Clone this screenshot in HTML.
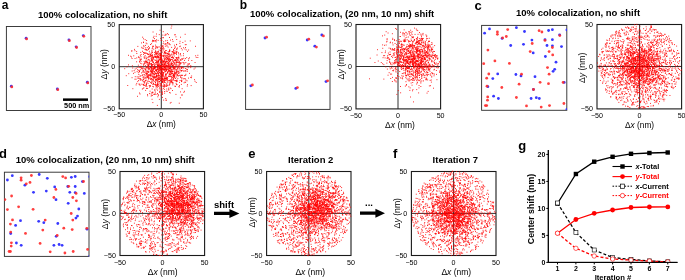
<!DOCTYPE html>
<html lang="en"><head><meta charset="utf-8"><title>Figure</title>
<style>html,body{margin:0;padding:0;background:#fff;}svg{display:block;}text{font-family:'Liberation Sans', Arial, Helvetica, sans-serif;fill:#000;}.b{font-weight:bold;}.lab{font-size:12px;font-weight:bold;}.ttl{font-size:9.5px;font-weight:bold;}.tk{font-size:7.1px;}.ax{font-size:8.2px;}.i{font-style:italic;}</style></head><body>
<svg width="685" height="280" viewBox="0 0 685 280">
<rect x="0" y="0" width="685" height="280" fill="#fff"/>
<text class="lab" x="1.7" y="9.3">a</text>
<text class="ttl" x="38" y="17.6">100% colocalization, no shift</text>
<rect x="6.40" y="26.50" width="84.60" height="84.00" fill="#fff" stroke="#333" stroke-width="0.95"/>
<circle cx="26.1" cy="38.2" r="1.40" fill="#3838ff"/>
<circle cx="68.9" cy="40.0" r="1.40" fill="#3838ff"/>
<circle cx="76.1" cy="46.8" r="1.40" fill="#3838ff"/>
<circle cx="83.3" cy="35.6" r="1.40" fill="#3838ff"/>
<circle cx="11.3" cy="86.2" r="1.40" fill="#3838ff"/>
<circle cx="57.3" cy="89.0" r="1.40" fill="#3838ff"/>
<circle cx="87.3" cy="82.2" r="1.40" fill="#3838ff"/>
<circle cx="26.6" cy="38.9" r="1.40" fill="#ff2a2a" fill-opacity="0.9"/>
<circle cx="69.4" cy="40.7" r="1.40" fill="#ff2a2a" fill-opacity="0.9"/>
<circle cx="76.6" cy="47.5" r="1.40" fill="#ff2a2a" fill-opacity="0.9"/>
<circle cx="83.8" cy="36.3" r="1.40" fill="#ff2a2a" fill-opacity="0.9"/>
<circle cx="11.8" cy="86.9" r="1.40" fill="#ff2a2a" fill-opacity="0.9"/>
<circle cx="57.8" cy="89.7" r="1.40" fill="#ff2a2a" fill-opacity="0.9"/>
<circle cx="87.8" cy="82.9" r="1.40" fill="#ff2a2a" fill-opacity="0.9"/>
<rect x="63" y="98.4" width="25" height="2.5" fill="#000"/>
<text x="76.7" y="107.8" text-anchor="middle" class="b" style="font-size:7.3px">500 nm</text>
<rect x="119.20" y="24.60" width="84.20" height="84.20" fill="none" stroke="#1a1a1a" stroke-width="1.1"/>
<path d="M161.30 24.60V108.80M119.20 66.70H203.40" stroke="#1a1a1a" stroke-width="0.9" fill="none"/>
<path d="M160.9 62.8h.9M157.3 78.2h.9M155.0 79.5h.9M161.6 49.4h.9M154.5 74.7h.9M167.2 62.1h.9M162.2 78.7h.9M160.5 57.7h.9M143.5 72.6h.9M136.3 83.4h.9M137.0 69.7h.9M144.5 63.2h.9M162.9 69.1h.9M128.3 73.7h.9M160.2 65.2h.9M141.1 72.9h.9M148.2 77.2h.9M174.6 77.1h.9M160.4 55.3h.9M153.3 68.1h.9M162.3 65.9h.9M145.0 65.7h.9M178.4 86.7h.9M172.0 65.2h.9M152.6 40.8h.9M170.7 82.2h.9M161.8 59.2h.9M158.4 57.9h.9M160.0 58.1h.9M179.4 75.4h.9M163.5 72.7h.9M162.5 82.0h.9M153.4 69.2h.9M172.5 51.9h.9M143.7 77.0h.9M169.2 92.5h.9M154.9 68.0h.9M177.1 57.8h.9M156.6 71.5h.9M157.6 47.0h.9M155.3 70.6h.9M165.4 68.3h.9M158.3 81.1h.9M160.7 72.4h.9M175.9 58.3h.9M160.5 58.1h.9M156.5 53.1h.9M160.8 59.2h.9M144.2 62.2h.9M139.0 93.0h.9M156.9 78.3h.9M163.0 37.7h.9M150.1 74.8h.9M163.5 60.3h.9M158.6 69.4h.9M169.9 60.0h.9M147.5 67.7h.9M161.3 80.3h.9M164.2 77.8h.9M173.4 64.2h.9M162.0 74.3h.9M159.3 92.5h.9M146.2 62.0h.9M133.3 55.8h.9M138.3 56.9h.9M149.9 56.6h.9M162.5 86.6h.9M177.0 48.1h.9M160.0 70.2h.9M158.8 79.3h.9M175.1 73.7h.9M160.2 77.0h.9M152.8 83.2h.9M177.1 68.7h.9M173.3 66.5h.9M151.9 70.9h.9M153.6 66.6h.9M156.0 70.6h.9M143.0 77.1h.9M182.2 75.4h.9M147.2 62.3h.9M179.0 85.5h.9M158.2 74.9h.9M138.1 57.2h.9M160.5 65.8h.9M151.1 60.8h.9M153.9 68.5h.9M146.5 82.4h.9M178.1 73.3h.9M164.6 67.1h.9M155.1 73.3h.9M169.0 70.6h.9M158.9 66.4h.9M176.1 57.9h.9M165.8 74.0h.9M143.0 54.4h.9M173.3 68.5h.9M167.9 56.6h.9M171.6 54.8h.9M155.0 47.1h.9M144.7 55.6h.9M167.2 55.4h.9M185.1 47.5h.9M146.0 88.5h.9M171.4 79.8h.9M160.7 55.8h.9M139.6 94.0h.9M164.2 66.1h.9M157.7 66.2h.9M149.7 86.3h.9M158.7 79.3h.9M139.6 60.2h.9M160.1 61.4h.9M148.1 75.2h.9M147.9 78.2h.9M163.4 76.8h.9M165.5 62.3h.9M187.0 84.7h.9M172.3 67.9h.9M160.7 85.4h.9M154.9 57.1h.9M159.8 65.7h.9M157.1 51.8h.9M160.6 95.1h.9M151.9 92.2h.9M178.1 66.1h.9M145.7 78.9h.9M175.5 64.7h.9M161.5 67.4h.9M161.3 56.3h.9M168.0 63.9h.9M147.4 60.1h.9M152.0 52.6h.9M144.4 68.5h.9M160.8 83.8h.9M183.1 47.8h.9M154.9 56.7h.9M165.7 100.5h.9M164.1 67.5h.9M161.9 80.6h.9M157.4 69.0h.9M176.2 62.4h.9M160.8 46.9h.9M153.7 71.7h.9M137.4 46.4h.9M173.3 54.8h.9M169.5 65.3h.9M163.6 70.0h.9M158.2 66.0h.9M180.4 59.5h.9M160.1 74.2h.9M152.6 46.0h.9M167.4 65.8h.9M156.4 81.0h.9M160.0 55.4h.9M155.8 69.6h.9M158.0 65.3h.9M140.3 69.7h.9M149.8 55.3h.9M150.9 59.2h.9M180.6 70.8h.9M153.1 64.2h.9M160.8 79.5h.9M166.8 40.6h.9M157.5 69.3h.9M147.3 62.6h.9M144.7 81.0h.9M177.4 78.4h.9M174.8 47.0h.9M164.2 59.5h.9M186.1 69.2h.9M153.2 84.2h.9M161.4 47.6h.9M173.3 78.9h.9M149.8 73.2h.9M164.6 69.4h.9M163.6 62.9h.9M157.0 67.2h.9M163.5 67.8h.9M167.4 42.5h.9M168.5 66.0h.9M139.1 61.7h.9M135.7 84.9h.9M171.9 57.6h.9M158.9 88.8h.9M156.0 75.5h.9M169.1 37.5h.9M163.7 76.8h.9M145.7 67.4h.9M158.6 81.6h.9M162.4 81.6h.9M175.2 53.0h.9M174.9 72.8h.9M167.5 68.4h.9M155.8 71.1h.9M144.0 85.4h.9M171.1 69.2h.9M163.6 53.7h.9M138.4 76.8h.9M163.1 61.6h.9M156.0 53.4h.9M163.6 82.4h.9M148.8 56.3h.9M166.8 91.3h.9M178.3 59.0h.9M178.2 71.7h.9M157.0 81.3h.9M193.6 69.0h.9M181.4 75.1h.9M163.0 88.3h.9M155.9 54.0h.9M144.7 52.8h.9M165.2 80.2h.9M154.4 72.6h.9M160.2 73.6h.9M150.2 70.6h.9M147.6 83.4h.9M160.2 55.3h.9M141.1 66.7h.9M152.4 79.3h.9M171.9 73.4h.9M180.2 76.8h.9M165.8 69.6h.9M151.1 59.1h.9M158.8 58.9h.9M160.2 80.7h.9M159.5 66.0h.9M173.2 78.4h.9M160.3 89.0h.9M169.3 80.7h.9M137.5 67.5h.9M175.1 86.4h.9M146.8 76.3h.9M146.2 61.8h.9M150.4 76.0h.9M168.4 76.5h.9M166.4 79.3h.9M145.2 90.4h.9M184.9 70.8h.9M164.0 67.1h.9M162.9 66.1h.9M185.5 80.1h.9M140.7 79.8h.9M143.6 57.0h.9M171.5 79.1h.9M142.9 71.3h.9M178.8 103.2h.9M167.7 80.6h.9M174.3 80.6h.9M157.2 86.2h.9M148.2 48.8h.9M171.5 71.9h.9M149.6 91.2h.9M155.8 67.1h.9M159.8 67.9h.9M146.3 67.6h.9M160.4 50.0h.9M185.0 68.5h.9M150.9 67.5h.9M153.0 76.3h.9M160.1 80.2h.9M168.7 68.0h.9M164.1 69.1h.9M151.4 79.0h.9M157.8 73.8h.9M163.9 66.8h.9M143.2 65.8h.9M143.5 74.7h.9M157.0 93.5h.9M162.0 64.7h.9M158.8 72.2h.9M156.0 79.3h.9M157.4 73.8h.9M162.0 82.3h.9M163.9 64.8h.9M159.0 72.4h.9M168.0 88.2h.9M166.8 63.6h.9M164.5 61.7h.9M152.4 70.1h.9M169.1 61.1h.9M163.5 86.3h.9M167.8 51.6h.9M173.9 63.7h.9M140.7 54.5h.9M158.9 99.4h.9M165.7 86.0h.9M144.1 74.9h.9M177.3 71.5h.9M164.4 44.1h.9M181.5 68.0h.9M157.7 83.0h.9M151.9 61.2h.9M166.0 65.3h.9M173.7 76.7h.9M160.1 57.2h.9M168.4 52.9h.9M166.0 70.7h.9M165.5 79.7h.9M139.7 59.2h.9M160.1 62.7h.9M138.9 71.4h.9M153.1 77.9h.9M131.7 71.0h.9M172.5 61.8h.9M153.1 66.9h.9M170.6 102.4h.9M159.2 59.7h.9M169.7 44.7h.9M175.5 62.7h.9M164.8 56.5h.9M153.9 67.2h.9M172.6 41.4h.9M158.8 67.3h.9M163.4 49.3h.9M160.5 47.7h.9M148.4 69.1h.9M158.3 56.5h.9M174.4 86.2h.9M149.0 62.3h.9M152.3 86.4h.9M174.3 60.3h.9M167.2 72.8h.9M174.2 69.8h.9M175.0 78.5h.9M149.8 64.1h.9M151.8 58.0h.9M164.2 78.6h.9M161.8 71.2h.9M172.7 74.9h.9M155.2 51.0h.9M189.8 40.9h.9M161.7 63.9h.9M180.7 68.3h.9M148.2 65.2h.9M166.7 77.4h.9M139.6 85.3h.9M169.5 76.5h.9M159.0 64.0h.9M168.9 71.0h.9M167.3 78.2h.9M156.2 79.9h.9M175.5 67.1h.9M151.3 71.3h.9M158.0 57.6h.9M140.2 80.1h.9M156.0 34.0h.9M173.2 68.1h.9M170.1 40.1h.9M157.8 71.4h.9M176.5 60.3h.9M169.5 73.3h.9M185.7 44.6h.9M168.2 57.9h.9M134.6 58.5h.9M158.3 61.1h.9M169.7 71.1h.9M139.0 61.9h.9M151.3 71.0h.9M153.0 71.1h.9M131.0 51.0h.9M164.1 52.3h.9M186.4 66.4h.9M137.5 78.3h.9M145.2 73.2h.9M161.9 92.6h.9M165.3 86.2h.9M164.7 68.1h.9M156.8 67.6h.9M153.9 74.6h.9M139.1 67.1h.9M184.7 41.1h.9M177.9 57.6h.9M152.1 48.0h.9M160.1 67.6h.9M157.1 65.5h.9M155.2 67.8h.9M146.8 71.5h.9M190.3 67.6h.9M157.8 59.8h.9M170.0 81.1h.9M158.2 54.8h.9M164.3 65.1h.9M180.9 75.5h.9M161.9 73.4h.9M180.1 91.9h.9M152.2 73.5h.9M169.4 58.9h.9M178.9 87.0h.9M170.6 70.5h.9M152.2 59.7h.9M149.0 93.6h.9M156.1 86.1h.9M152.5 61.9h.9M164.9 46.2h.9M158.3 86.5h.9M151.1 78.6h.9M145.1 61.1h.9M152.5 92.3h.9M169.9 68.1h.9M165.5 65.3h.9M169.0 66.2h.9M176.8 61.2h.9M165.9 61.4h.9M142.0 68.8h.9M157.5 64.0h.9M143.3 45.6h.9M162.2 82.4h.9M138.8 70.3h.9M159.7 76.0h.9M162.0 75.0h.9M168.0 76.1h.9M160.4 54.0h.9M194.1 79.7h.9M154.8 77.6h.9M171.0 81.5h.9M154.6 67.1h.9M148.2 79.1h.9M154.7 93.9h.9M142.2 72.0h.9M162.8 69.1h.9M137.9 72.7h.9M171.2 59.5h.9M159.8 78.2h.9M169.0 74.2h.9M145.7 77.1h.9M179.6 63.9h.9M175.8 72.9h.9M173.0 74.5h.9M158.8 34.6h.9M170.8 73.2h.9M159.8 62.5h.9M176.5 73.0h.9M138.3 70.3h.9M161.0 65.3h.9M177.9 62.6h.9M171.4 80.9h.9M172.1 39.6h.9M170.8 63.4h.9M162.8 43.6h.9M148.9 68.1h.9M166.8 57.1h.9M155.2 62.7h.9M157.3 65.1h.9M159.1 81.5h.9M160.6 55.4h.9M148.3 69.8h.9M169.4 80.5h.9M163.2 80.4h.9M175.5 36.8h.9M187.0 69.5h.9M170.4 65.1h.9M162.2 46.7h.9M143.8 53.1h.9M160.2 48.5h.9M163.3 75.4h.9M164.4 57.2h.9M161.3 60.4h.9M154.1 94.3h.9M172.5 57.7h.9M162.8 65.8h.9M174.2 72.6h.9M151.7 69.1h.9M176.2 84.6h.9M176.3 75.0h.9M146.6 50.4h.9M159.6 83.5h.9M156.2 54.7h.9M176.3 72.2h.9M166.1 57.5h.9M152.5 62.1h.9M160.4 73.6h.9M154.5 65.8h.9M161.2 74.0h.9M155.3 52.3h.9M163.6 55.3h.9M176.4 59.1h.9M190.2 77.4h.9M171.3 70.8h.9M184.8 44.7h.9M135.6 79.2h.9M169.4 56.5h.9M170.4 67.6h.9M166.7 58.3h.9M159.8 53.4h.9M131.6 58.5h.9M147.5 54.3h.9M157.9 78.2h.9M165.7 78.5h.9M149.0 87.0h.9M160.5 60.3h.9M174.1 68.5h.9M174.4 66.5h.9M159.6 59.3h.9M174.5 71.1h.9M157.7 68.8h.9M161.9 78.3h.9M174.1 71.9h.9M166.8 77.4h.9M165.5 61.6h.9M155.4 40.6h.9M165.6 43.7h.9M173.3 75.3h.9M155.9 61.1h.9M161.6 66.1h.9M157.1 90.1h.9M157.9 95.4h.9M165.7 76.1h.9M151.6 69.5h.9M164.4 85.2h.9M138.2 80.5h.9M134.5 79.2h.9M181.4 80.4h.9M169.3 84.4h.9M164.7 70.8h.9M160.1 59.3h.9M183.6 64.2h.9M162.5 79.3h.9M168.4 69.9h.9M171.6 67.3h.9M183.4 92.3h.9M157.0 55.3h.9M156.3 76.9h.9M157.4 84.5h.9M162.4 35.1h.9M175.7 81.0h.9M149.6 71.9h.9M173.8 77.3h.9M151.9 55.3h.9M172.0 71.5h.9M146.4 86.7h.9M151.8 95.5h.9M170.5 74.8h.9M167.1 42.5h.9M176.0 81.6h.9M172.1 51.7h.9M151.2 79.0h.9M159.4 87.4h.9M179.9 97.8h.9M146.5 70.2h.9M157.9 64.6h.9M164.4 69.5h.9M175.5 94.4h.9M160.8 75.9h.9M162.6 63.8h.9M149.1 75.0h.9M171.1 62.2h.9M152.1 40.3h.9M190.7 85.6h.9M164.8 34.3h.9M171.0 63.8h.9M158.2 73.7h.9M158.1 73.8h.9M170.5 71.8h.9M155.1 82.2h.9M160.2 78.3h.9M158.5 53.2h.9M165.6 60.2h.9M165.5 65.9h.9M159.2 70.7h.9M170.7 80.7h.9M178.2 66.3h.9M151.2 73.0h.9M152.1 64.6h.9M151.6 51.9h.9M150.7 96.1h.9M151.4 92.7h.9M160.3 53.0h.9M169.2 84.0h.9M151.0 43.7h.9M165.0 66.6h.9M174.5 35.0h.9M177.6 64.9h.9M165.4 58.7h.9M152.9 80.4h.9M161.5 78.9h.9M160.1 65.5h.9M191.1 77.7h.9M159.3 68.8h.9M166.5 53.2h.9M154.5 77.3h.9M139.6 78.7h.9M167.8 66.1h.9M147.7 71.5h.9M161.3 60.2h.9M153.2 69.9h.9M137.3 81.6h.9M181.8 95.0h.9M156.5 63.9h.9M156.0 77.1h.9M160.1 66.8h.9M159.8 91.0h.9M158.9 77.8h.9M153.8 63.8h.9M169.1 55.1h.9M154.4 54.8h.9M176.0 52.0h.9M178.8 68.6h.9M158.6 56.0h.9M143.2 64.0h.9M154.0 71.5h.9M138.3 78.2h.9M160.6 55.2h.9M173.6 67.7h.9M158.4 77.4h.9M166.1 69.9h.9M168.7 44.1h.9M160.4 86.1h.9M149.7 85.6h.9M145.4 49.8h.9M163.8 86.4h.9M169.3 50.4h.9M156.2 75.4h.9M156.5 63.0h.9M169.1 51.4h.9M176.5 51.4h.9M178.5 58.1h.9M141.1 68.4h.9M164.9 71.7h.9M172.6 71.4h.9M148.9 48.0h.9M169.5 63.9h.9M172.8 53.0h.9M165.3 98.5h.9M152.1 72.6h.9M148.1 64.1h.9M176.3 73.0h.9M146.2 40.5h.9M155.0 82.6h.9M163.9 61.2h.9M151.7 56.5h.9M154.5 78.6h.9M163.2 56.7h.9M152.7 62.4h.9M159.6 30.2h.9M151.7 48.8h.9M160.2 68.3h.9M170.2 55.1h.9M177.2 62.5h.9M153.1 73.7h.9M167.4 59.2h.9M178.9 61.3h.9M174.6 47.1h.9M163.0 85.9h.9M145.6 85.3h.9M181.4 77.7h.9M176.8 59.1h.9M183.0 53.7h.9M159.5 69.3h.9M162.0 64.4h.9M154.0 67.1h.9M181.7 88.7h.9M164.2 78.4h.9M163.3 55.8h.9M160.1 56.7h.9M140.3 52.4h.9M153.1 58.7h.9M163.2 100.1h.9M151.1 63.8h.9M180.9 63.0h.9M164.2 85.0h.9M179.4 43.3h.9M161.2 69.5h.9M139.9 55.3h.9M195.8 57.4h.9M177.2 59.7h.9M148.1 49.4h.9M144.9 69.4h.9M164.5 55.3h.9M166.2 61.7h.9M151.0 83.4h.9M161.6 75.9h.9M143.9 83.1h.9M154.5 90.7h.9M143.4 87.8h.9M163.2 61.4h.9M186.8 86.1h.9M152.1 54.9h.9M158.0 70.9h.9M182.9 71.1h.9M145.9 83.7h.9M165.2 62.8h.9M143.1 79.4h.9M167.8 59.2h.9M152.5 58.7h.9M168.2 89.8h.9M156.8 61.3h.9M153.4 94.4h.9M157.2 57.0h.9M181.3 95.0h.9M194.6 81.3h.9M173.2 50.7h.9M173.6 64.8h.9M145.8 58.6h.9M151.6 99.3h.9M197.4 57.5h.9M184.4 78.5h.9M179.8 46.1h.9M180.9 67.0h.9M145.3 69.0h.9M132.4 88.7h.9M162.0 79.5h.9M158.7 68.1h.9M185.8 49.9h.9M160.3 51.1h.9M150.8 71.1h.9M172.6 82.8h.9M157.2 83.8h.9M162.4 45.6h.9M151.1 63.8h.9M149.2 81.6h.9M144.9 47.9h.9M191.4 60.5h.9M151.6 57.6h.9M156.5 56.3h.9M164.6 63.1h.9M168.7 74.2h.9M155.6 89.0h.9M155.1 85.1h.9M159.0 79.1h.9M162.2 60.8h.9M142.5 77.2h.9M148.7 57.0h.9M182.9 55.7h.9M156.3 47.8h.9M141.3 47.3h.9M152.4 102.6h.9M195.1 46.3h.9M147.5 64.5h.9M158.1 65.4h.9M141.7 75.5h.9M166.9 63.8h.9M176.4 65.7h.9M191.2 76.0h.9M164.2 91.5h.9M144.6 49.5h.9M148.7 59.8h.9M160.1 80.2h.9M156.3 73.3h.9M154.5 57.0h.9M169.3 74.2h.9M149.1 63.0h.9M159.6 53.4h.9M195.2 55.8h.9M160.4 68.9h.9M149.8 78.4h.9M147.9 71.8h.9M155.3 57.1h.9M155.7 69.3h.9M145.1 45.4h.9M167.4 43.6h.9M171.2 47.4h.9M157.6 57.4h.9M195.8 82.5h.9M176.1 44.7h.9M166.3 56.8h.9M177.4 75.4h.9M166.2 78.2h.9M151.9 74.9h.9M159.0 64.8h.9M166.8 85.5h.9M187.1 51.4h.9M170.5 71.4h.9M159.7 59.4h.9M166.3 89.0h.9M170.7 28.1h.9M136.4 53.5h.9M165.7 68.2h.9M179.0 82.4h.9M163.0 47.3h.9M158.2 72.2h.9M162.4 72.6h.9M181.4 78.7h.9M172.4 83.3h.9M169.7 68.1h.9M126.5 66.8h.9M146.7 72.6h.9M181.3 81.5h.9M146.8 47.6h.9M162.4 46.2h.9M165.2 78.4h.9M160.0 50.4h.9M173.4 66.7h.9M161.5 68.2h.9M153.2 41.0h.9M160.9 81.7h.9M154.5 57.0h.9M169.4 68.5h.9M152.0 66.4h.9M138.6 84.0h.9M171.5 73.1h.9M165.8 50.5h.9M169.5 66.4h.9M189.1 57.8h.9M156.1 57.0h.9M166.3 78.1h.9M161.8 68.9h.9M134.7 69.0h.9M157.1 72.5h.9M139.0 71.4h.9M160.3 65.3h.9M145.8 58.3h.9M144.7 69.7h.9M178.2 75.9h.9M154.1 52.4h.9M155.7 70.6h.9M163.8 52.8h.9M131.6 77.7h.9M147.5 81.1h.9M149.5 77.8h.9M164.8 78.5h.9M162.5 61.4h.9M151.2 65.0h.9M182.5 62.4h.9M152.4 67.6h.9M148.7 63.1h.9M172.3 77.5h.9M158.1 52.0h.9M154.3 64.2h.9M147.3 77.5h.9M154.1 38.6h.9M155.6 73.6h.9M153.6 68.8h.9M169.3 64.3h.9M187.5 63.9h.9M179.6 63.1h.9M168.7 85.4h.9M159.2 67.6h.9M157.7 94.5h.9M172.2 71.7h.9M155.2 70.0h.9M157.9 61.4h.9M144.4 78.7h.9M164.6 64.8h.9M156.0 74.1h.9M150.1 67.5h.9M176.1 80.4h.9M180.5 55.8h.9M155.0 56.6h.9M141.9 89.1h.9M144.2 72.0h.9M156.6 73.4h.9M162.1 94.3h.9M167.3 85.0h.9M152.3 72.0h.9M145.9 84.4h.9M147.8 66.9h.9M168.5 59.4h.9M148.0 76.9h.9M148.9 60.9h.9M134.5 50.7h.9M154.6 76.8h.9M165.2 53.3h.9M165.3 53.1h.9M162.6 50.8h.9M176.9 68.0h.9M179.5 64.6h.9M162.0 78.6h.9M157.1 56.6h.9M143.9 58.3h.9M165.4 63.1h.9M132.3 68.0h.9M169.2 76.6h.9M162.0 97.4h.9M169.5 75.3h.9M172.1 90.5h.9M169.8 69.8h.9M171.3 78.7h.9M152.9 37.7h.9M150.1 75.8h.9M157.3 79.9h.9M176.2 44.4h.9M151.7 89.0h.9M176.0 52.4h.9M171.5 51.7h.9M149.6 68.9h.9M143.0 85.0h.9M173.5 75.4h.9M190.3 65.7h.9M152.6 56.4h.9M184.1 60.4h.9M145.1 61.9h.9M178.6 73.1h.9M150.8 53.6h.9M162.7 81.0h.9M155.9 76.5h.9M164.7 65.3h.9M175.7 57.5h.9M140.6 61.4h.9M172.4 60.8h.9M174.2 73.8h.9M148.6 54.7h.9M147.1 94.6h.9M174.1 76.1h.9M156.9 84.8h.9M143.7 81.7h.9M156.2 61.9h.9M131.1 57.0h.9M145.6 80.5h.9M169.6 67.7h.9M141.0 42.9h.9M149.7 63.5h.9M163.4 48.5h.9M155.0 53.7h.9M151.3 52.2h.9M151.0 71.4h.9M185.4 62.6h.9M162.3 37.7h.9M165.5 77.3h.9M170.3 82.0h.9M175.4 51.1h.9M153.4 74.8h.9M163.1 66.5h.9M148.2 59.4h.9M134.5 72.3h.9M155.6 70.2h.9M164.8 82.6h.9M168.5 69.0h.9M152.4 84.4h.9M145.6 62.0h.9M148.4 65.9h.9M174.6 53.3h.9M181.0 70.5h.9M146.8 53.5h.9M164.9 52.2h.9M161.0 51.2h.9M171.8 57.4h.9M167.4 61.6h.9M163.9 63.8h.9M173.7 73.3h.9M183.3 68.1h.9M173.6 67.9h.9M157.7 40.4h.9M156.9 83.2h.9M151.6 70.8h.9M188.7 64.0h.9M172.9 79.6h.9M165.4 58.0h.9M184.1 75.7h.9M168.7 62.8h.9M147.6 67.0h.9M157.4 96.8h.9M168.6 59.7h.9M155.2 84.0h.9M180.0 63.3h.9M174.0 48.5h.9M154.1 56.2h.9M157.7 67.5h.9M159.7 66.7h.9M175.3 65.1h.9M158.9 70.3h.9M165.3 78.3h.9M154.4 67.4h.9M153.5 68.2h.9M153.0 40.8h.9M178.0 60.9h.9M160.2 38.4h.9M165.0 67.8h.9M164.8 62.7h.9M179.1 66.9h.9M188.0 78.1h.9M169.8 79.7h.9M184.3 71.0h.9M160.1 54.8h.9M177.1 81.1h.9M156.4 84.7h.9M162.6 68.0h.9M156.3 75.5h.9M155.9 76.3h.9M167.7 47.1h.9M135.9 68.2h.9M155.4 60.3h.9M148.5 68.6h.9M147.4 57.7h.9M162.1 68.8h.9M165.6 69.9h.9M140.8 59.0h.9M164.6 68.7h.9M173.6 50.9h.9M146.7 76.8h.9M180.9 48.4h.9M151.3 82.0h.9M152.6 73.1h.9M140.4 66.3h.9M144.3 82.3h.9M172.7 75.5h.9M159.9 58.6h.9M171.4 71.1h.9M161.4 77.4h.9M183.4 58.3h.9M146.6 66.6h.9M170.1 60.5h.9M184.5 49.0h.9M153.9 67.9h.9M144.3 63.5h.9M162.8 31.7h.9M162.1 93.8h.9M152.2 65.2h.9M144.6 77.9h.9M156.1 62.3h.9M158.7 78.2h.9M171.0 73.7h.9M154.4 84.5h.9M150.7 58.3h.9M139.9 67.6h.9M170.1 71.6h.9M164.0 81.1h.9M177.8 52.5h.9M163.9 89.4h.9M147.3 54.1h.9M183.0 62.9h.9M177.0 74.6h.9M158.4 66.7h.9M166.3 86.5h.9M173.0 49.6h.9M146.0 84.2h.9M165.4 75.2h.9M130.2 56.2h.9M162.9 72.9h.9M188.2 64.9h.9M151.1 65.4h.9M147.4 76.5h.9M165.8 73.9h.9M155.0 45.1h.9M172.0 56.3h.9M167.7 60.4h.9M179.7 67.0h.9M184.8 79.0h.9M157.6 84.5h.9M156.4 60.0h.9M179.6 75.3h.9M160.9 71.3h.9M151.3 82.1h.9M161.6 89.1h.9M162.3 66.4h.9M152.3 79.8h.9M143.0 42.5h.9M143.5 46.6h.9M168.6 71.4h.9M145.9 53.2h.9M183.2 78.8h.9M157.0 53.1h.9M165.2 40.8h.9M153.5 59.7h.9M144.7 39.6h.9M151.4 95.2h.9M159.2 68.5h.9M185.6 71.1h.9M160.7 59.0h.9M181.4 67.5h.9M174.3 60.0h.9M157.0 65.7h.9M161.2 78.5h.9M176.5 84.6h.9M176.0 54.4h.9M159.6 76.6h.9M157.9 60.6h.9M170.5 63.0h.9M173.7 73.9h.9M163.9 87.0h.9M170.7 64.7h.9M155.5 51.7h.9M169.8 103.1h.9M161.4 85.5h.9M174.6 34.5h.9M154.1 65.7h.9M157.6 62.2h.9M169.2 50.1h.9M148.1 46.4h.9M148.8 63.1h.9M175.8 57.5h.9M148.7 75.8h.9M154.9 67.4h.9M175.7 83.4h.9M166.9 58.8h.9M168.1 60.7h.9M180.5 60.4h.9M171.9 59.4h.9M184.0 91.3h.9M177.4 70.1h.9M157.2 79.2h.9M136.7 71.6h.9M152.0 60.3h.9M141.8 48.2h.9M164.4 69.9h.9M151.7 76.9h.9M146.2 73.7h.9M160.9 69.0h.9M142.6 70.1h.9M149.3 64.6h.9M185.0 58.6h.9M156.8 87.7h.9M142.6 88.5h.9M170.2 76.6h.9M161.7 74.7h.9M162.0 48.6h.9M152.0 71.1h.9M150.4 55.4h.9M147.6 81.3h.9M142.9 84.9h.9M166.9 33.5h.9M148.0 54.4h.9M164.1 80.9h.9M157.3 69.7h.9M151.9 41.7h.9M136.2 61.8h.9M165.1 74.2h.9M162.8 55.4h.9M162.8 61.3h.9M169.8 93.0h.9M180.0 37.2h.9M173.5 53.6h.9M142.6 68.2h.9M150.4 74.3h.9M173.4 77.1h.9M159.2 91.4h.9M158.8 65.5h.9M151.7 76.0h.9M185.2 82.3h.9M147.3 77.2h.9M176.3 39.5h.9M165.1 76.0h.9M155.3 52.9h.9M149.1 47.9h.9M179.2 65.8h.9M169.2 57.0h.9M180.9 80.3h.9M176.1 71.6h.9M150.9 65.4h.9M158.1 79.5h.9M140.2 78.9h.9M179.6 41.3h.9M169.3 51.4h.9M154.2 67.7h.9M164.5 80.7h.9M148.1 65.4h.9M156.7 80.5h.9M165.8 70.1h.9M174.1 66.8h.9M157.0 65.0h.9M158.6 75.3h.9M155.7 57.0h.9M169.2 50.1h.9M139.0 71.8h.9M155.5 64.5h.9M155.0 73.3h.9M171.0 64.4h.9M145.8 49.4h.9M173.7 74.1h.9M171.6 76.2h.9M175.4 69.5h.9M150.5 71.5h.9M150.9 64.2h.9M163.1 66.2h.9M162.1 91.2h.9M164.0 52.1h.9M164.4 71.7h.9M158.5 68.4h.9M153.7 74.2h.9M148.9 51.3h.9M160.6 54.3h.9M157.6 65.8h.9M158.6 60.7h.9M171.5 63.6h.9M152.1 76.8h.9M182.3 70.3h.9M157.1 47.8h.9M174.9 59.8h.9M155.7 36.3h.9M165.9 59.6h.9M158.6 85.0h.9M143.6 61.4h.9M165.9 69.8h.9M145.7 85.3h.9M156.6 85.5h.9M172.5 51.8h.9M197.4 55.3h.9M153.2 78.0h.9M158.6 54.2h.9M168.8 59.1h.9M163.6 58.2h.9M179.6 80.5h.9M154.9 84.7h.9M181.8 49.9h.9M170.6 82.2h.9M163.1 69.7h.9M161.9 69.1h.9M167.6 71.8h.9M171.9 63.6h.9M157.1 68.1h.9M155.2 56.2h.9M157.3 62.9h.9M155.8 85.9h.9M172.6 80.4h.9M169.6 61.3h.9M139.4 78.9h.9M154.2 77.3h.9M145.6 57.1h.9M157.8 61.7h.9M155.3 62.8h.9M151.1 67.0h.9M168.4 66.1h.9M154.9 80.7h.9M163.0 62.2h.9M157.5 76.6h.9M167.9 34.6h.9M156.9 62.3h.9M165.7 99.9h.9M162.5 75.8h.9M178.8 70.0h.9M150.8 69.5h.9M163.0 73.9h.9M160.2 84.2h.9M157.9 56.7h.9M186.3 57.6h.9M164.4 51.4h.9M174.0 45.2h.9M174.8 68.2h.9M164.2 64.4h.9M164.8 64.1h.9M150.7 93.9h.9M152.2 92.9h.9M161.7 66.6h.9M139.2 57.8h.9M172.1 65.5h.9M182.4 42.5h.9M145.3 53.3h.9M166.5 61.3h.9M172.9 76.0h.9M153.2 77.4h.9M151.1 68.0h.9M142.1 80.2h.9M168.3 67.6h.9M165.8 91.1h.9M150.7 73.9h.9M161.3 74.3h.9M172.9 67.5h.9M161.1 66.5h.9M170.0 72.8h.9M175.4 60.8h.9M162.8 66.2h.9M167.6 53.6h.9M173.1 61.8h.9M172.2 65.2h.9M177.0 67.0h.9M134.0 49.4h.9M162.2 81.8h.9M158.3 78.1h.9M188.0 60.3h.9M140.6 59.6h.9M155.7 41.9h.9M147.2 95.8h.9M161.7 71.2h.9M155.5 94.4h.9M166.4 45.1h.9M136.2 51.6h.9M153.5 36.3h.9M166.5 69.1h.9M175.1 59.9h.9M153.2 57.5h.9M154.2 89.8h.9M187.1 71.2h.9M153.0 62.3h.9M140.7 84.2h.9M154.4 73.4h.9M161.8 52.2h.9M154.7 60.3h.9M168.6 80.7h.9M163.8 78.9h.9M174.6 60.8h.9M161.1 84.0h.9M162.3 76.6h.9M170.0 68.2h.9M150.3 54.7h.9M170.2 74.4h.9M175.9 70.6h.9M156.9 65.1h.9M151.1 72.4h.9M158.8 46.9h.9M180.2 70.0h.9M181.7 67.3h.9M165.8 55.3h.9M164.6 35.5h.9M164.0 82.2h.9M177.7 72.0h.9M156.9 105.4h.9M173.8 56.1h.9M171.2 54.1h.9M182.7 67.3h.9M173.0 76.3h.9M156.3 53.0h.9M165.9 83.9h.9M165.5 69.1h.9M150.3 61.1h.9M155.6 87.0h.9M146.5 43.8h.9M141.3 63.8h.9M168.7 58.4h.9M145.0 70.9h.9M162.7 56.4h.9M152.5 81.7h.9M173.8 52.4h.9M165.6 74.6h.9M166.1 65.3h.9M171.7 82.8h.9M162.4 68.8h.9M146.5 63.9h.9M161.3 72.0h.9M166.0 85.0h.9M160.2 61.1h.9M164.5 52.8h.9M145.3 86.2h.9M163.9 60.8h.9M188.3 58.7h.9M149.6 56.3h.9M149.9 85.9h.9M194.6 62.5h.9M170.1 59.4h.9M184.3 63.0h.9M176.6 80.0h.9M142.9 48.3h.9M179.9 60.1h.9M163.8 64.6h.9M152.0 46.8h.9M169.4 60.2h.9M165.7 53.2h.9M167.4 57.1h.9M145.7 60.1h.9M189.1 73.4h.9M159.2 55.2h.9M173.2 58.6h.9M139.9 60.2h.9M145.5 77.4h.9M167.9 70.5h.9M171.3 26.0h.9M170.9 57.4h.9M149.3 75.0h.9M147.1 73.6h.9M146.7 75.2h.9M158.2 79.6h.9M142.5 84.3h.9M166.7 65.9h.9M174.1 53.2h.9M156.4 58.0h.9M142.2 37.2h.9M176.3 69.5h.9M145.8 61.8h.9M136.7 76.8h.9M170.5 65.7h.9M154.5 54.4h.9M147.4 63.0h.9M154.4 77.7h.9M166.8 79.5h.9M185.4 74.3h.9M186.6 80.8h.9M168.7 82.2h.9M143.5 64.6h.9M169.6 83.2h.9M176.2 77.0h.9M162.5 61.8h.9M168.5 89.9h.9M181.8 59.4h.9M155.3 79.9h.9M138.9 84.3h.9M167.9 71.1h.9M146.2 73.5h.9M181.1 71.0h.9M153.3 49.2h.9M166.8 66.1h.9M153.0 86.8h.9M145.7 72.9h.9M158.0 62.1h.9M168.0 63.8h.9M163.7 79.7h.9M133.0 73.4h.9M148.5 75.1h.9M157.3 82.8h.9M146.5 68.0h.9M162.3 75.2h.9M167.3 69.5h.9M147.7 66.2h.9M185.2 75.4h.9M175.9 48.9h.9M180.2 77.3h.9M186.9 65.2h.9M157.6 69.7h.9M168.6 66.0h.9M158.6 50.1h.9M151.5 80.2h.9M171.1 57.6h.9M175.0 80.6h.9M174.8 60.5h.9M183.6 82.8h.9M163.7 70.3h.9M140.3 75.9h.9M175.4 72.8h.9M151.5 55.5h.9M173.6 53.9h.9M150.6 67.4h.9M174.2 75.2h.9M151.2 56.0h.9M181.0 81.6h.9M127.3 85.5h.9M147.8 68.5h.9M168.8 68.6h.9M151.8 64.7h.9M148.4 67.3h.9M152.6 32.0h.9M171.4 77.5h.9M148.0 72.4h.9M139.6 76.1h.9M151.3 55.3h.9M155.3 76.9h.9M143.5 81.9h.9M160.0 69.5h.9M175.5 74.8h.9M174.5 63.4h.9M160.8 92.7h.9M144.2 57.1h.9M178.9 64.0h.9M170.7 72.0h.9M156.0 75.3h.9M173.5 62.3h.9M157.8 70.9h.9M168.0 62.5h.9M150.1 44.5h.9M164.2 66.6h.9M179.9 53.5h.9M159.7 59.8h.9M147.0 75.0h.9M131.6 50.9h.9M136.3 57.9h.9M150.1 79.4h.9M158.3 63.3h.9M168.8 43.8h.9M165.5 55.3h.9M153.1 57.5h.9M162.8 72.7h.9M159.6 67.5h.9M163.3 61.5h.9M154.3 76.3h.9M170.5 88.6h.9M152.9 46.6h.9M125.8 75.7h.9M169.7 88.0h.9M179.4 46.6h.9M172.7 69.6h.9M165.5 78.3h.9M171.3 81.2h.9M157.3 53.8h.9M146.4 71.4h.9M163.0 84.0h.9M175.9 62.3h.9M141.3 67.3h.9M150.8 75.2h.9M161.8 75.9h.9M173.3 75.8h.9M173.5 67.3h.9M171.9 73.7h.9M154.3 81.6h.9M168.3 54.6h.9M188.2 50.0h.9M164.1 69.4h.9M165.9 67.1h.9M179.8 54.5h.9M150.0 75.6h.9M178.5 62.7h.9M157.9 51.4h.9M155.8 70.3h.9M154.9 92.1h.9M172.0 82.3h.9M153.5 76.3h.9M170.2 67.6h.9M161.0 88.4h.9M159.7 85.8h.9M164.8 62.0h.9M160.6 40.3h.9M167.7 59.0h.9M162.7 69.2h.9M173.3 52.5h.9M144.0 53.1h.9M167.5 54.3h.9M166.9 82.8h.9M145.7 43.1h.9M164.1 85.0h.9M165.4 71.4h.9M137.0 96.3h.9M140.1 63.2h.9M160.2 69.9h.9M164.5 58.9h.9M133.7 70.6h.9M150.1 82.6h.9M153.8 68.3h.9M157.4 85.5h.9M154.6 40.6h.9M147.2 88.5h.9M164.4 59.0h.9M166.8 81.2h.9M173.8 76.9h.9M146.2 74.6h.9M159.4 57.5h.9M168.9 67.0h.9M172.9 65.6h.9M172.4 84.8h.9M140.5 56.7h.9M142.9 70.6h.9M159.6 73.0h.9M155.0 48.7h.9M128.1 55.3h.9M190.5 66.4h.9M160.6 57.3h.9M184.5 82.1h.9M162.0 69.1h.9M168.1 64.6h.9M169.4 72.2h.9M161.5 75.4h.9M152.3 68.5h.9M159.0 81.9h.9M181.1 68.4h.9M143.0 52.5h.9M151.2 60.1h.9M160.6 63.5h.9M163.1 74.1h.9M161.4 40.4h.9M131.9 65.8h.9M166.5 80.3h.9M143.1 38.8h.9M156.0 39.8h.9M167.8 65.7h.9M167.0 58.5h.9M176.1 61.1h.9M162.7 64.4h.9M178.3 56.1h.9M147.9 74.9h.9M165.1 74.8h.9M156.0 79.1h.9M157.5 61.2h.9M173.7 66.6h.9M187.7 67.7h.9M167.3 73.2h.9M124.3 68.7h.9M163.2 41.8h.9M143.0 42.1h.9M157.6 57.3h.9M128.0 64.9h.9M156.4 57.9h.9M162.0 81.5h.9M173.1 57.7h.9M168.6 53.7h.9M175.1 67.0h.9M143.3 84.6h.9M178.3 57.5h.9M162.2 72.3h.9M161.3 66.4h.9M156.5 75.7h.9M188.8 63.7h.9M153.0 83.5h.9M151.5 57.4h.9M170.7 69.5h.9M161.5 70.6h.9M146.5 49.9h.9M165.7 34.7h.9M151.1 68.5h.9M172.3 69.9h.9M142.9 79.0h.9M162.2 62.3h.9M159.6 53.7h.9M173.7 62.5h.9M161.2 70.0h.9M168.0 54.8h.9M161.6 60.9h.9M156.7 84.9h.9M147.9 56.8h.9M166.6 46.1h.9M161.6 55.5h.9M178.0 53.8h.9M153.0 69.1h.9M162.5 79.4h.9M167.0 53.5h.9M154.6 41.2h.9M157.1 69.3h.9M157.8 75.9h.9M166.3 66.4h.9M182.3 58.8h.9M167.8 69.6h.9M142.6 67.9h.9M149.9 54.4h.9M160.5 45.2h.9M170.4 55.9h.9M163.8 64.0h.9M169.3 54.8h.9M151.7 60.3h.9M194.7 67.9h.9M157.5 75.7h.9M142.1 51.3h.9M161.6 62.8h.9M184.7 34.3h.9M149.4 53.1h.9M168.9 61.5h.9M167.1 67.0h.9M181.4 58.7h.9M165.3 50.5h.9M172.5 60.7h.9M165.1 44.0h.9M167.5 67.8h.9M149.8 71.1h.9M147.3 65.3h.9M164.2 93.2h.9M161.1 58.3h.9M163.0 79.0h.9M177.3 75.7h.9M145.0 80.6h.9M160.7 54.0h.9M176.0 64.0h.9M145.4 75.2h.9M149.3 69.0h.9M137.9 65.2h.9M169.2 68.6h.9M166.8 78.8h.9M142.1 74.9h.9M175.8 53.4h.9M155.0 51.1h.9M156.7 47.1h.9M167.1 72.5h.9M171.1 76.7h.9M148.8 85.5h.9M164.2 67.4h.9M159.9 72.0h.9M179.4 72.2h.9M151.5 50.6h.9M179.2 62.3h.9M138.4 74.5h.9M168.8 66.5h.9M180.9 84.4h.9M169.6 74.8h.9M178.0 67.7h.9M174.2 75.1h.9M142.6 81.1h.9M153.0 79.9h.9M176.4 49.4h.9M164.4 80.1h.9M159.3 75.6h.9M179.6 62.6h.9M167.2 71.9h.9M134.8 76.7h.9M146.4 61.9h.9M162.1 77.1h.9M155.8 46.4h.9M148.4 78.6h.9M157.9 75.7h.9" stroke="#ff0000" stroke-width="0.9" fill="none"/>
<text class="tk" x="115.1" y="27.0" text-anchor="end">50</text>
<text class="tk" x="115.1" y="69.1" text-anchor="end">0</text>
<text class="tk" x="115.1" y="111.2" text-anchor="end">−50</text>
<text class="tk" x="119.2" y="117.4" text-anchor="middle">−50</text>
<text class="tk" x="161.3" y="117.4" text-anchor="middle">0</text>
<text class="tk" x="203.4" y="117.4" text-anchor="middle">50</text>
<text class="ax" style="font-size:8.3px" x="161.3" y="127.4" text-anchor="middle">Δ<tspan class="i">x</tspan> (nm)</text>
<text class="ax" style="font-size:8.7px" transform="translate(107.4 64.4) rotate(-90)" text-anchor="middle">Δ<tspan class="i">y</tspan> (nm)</text>
<text class="lab" x="239.8" y="9.2">b</text>
<text class="ttl" x="250" y="17.4">100% colocalization, (20 nm, 10 nm) shift</text>
<rect x="245.60" y="25.60" width="84.40" height="83.80" fill="#fff" stroke="#333" stroke-width="0.95"/>
<circle cx="265.0" cy="38.0" r="1.40" fill="#3838ff"/>
<circle cx="307.2" cy="40.0" r="1.40" fill="#3838ff"/>
<circle cx="314.8" cy="46.2" r="1.40" fill="#3838ff"/>
<circle cx="321.8" cy="35.0" r="1.40" fill="#3838ff"/>
<circle cx="250.8" cy="85.8" r="1.40" fill="#3838ff"/>
<circle cx="295.8" cy="88.4" r="1.40" fill="#3838ff"/>
<circle cx="326.0" cy="81.6" r="1.40" fill="#3838ff"/>
<circle cx="266.6" cy="37.2" r="1.40" fill="#ff2a2a" fill-opacity="0.9"/>
<circle cx="308.8" cy="39.2" r="1.40" fill="#ff2a2a" fill-opacity="0.9"/>
<circle cx="316.4" cy="47.1" r="1.40" fill="#ff2a2a" fill-opacity="0.9"/>
<circle cx="323.4" cy="35.9" r="1.40" fill="#ff2a2a" fill-opacity="0.9"/>
<circle cx="252.4" cy="85.0" r="1.40" fill="#ff2a2a" fill-opacity="0.9"/>
<circle cx="297.4" cy="87.6" r="1.40" fill="#ff2a2a" fill-opacity="0.9"/>
<circle cx="327.6" cy="80.8" r="1.40" fill="#ff2a2a" fill-opacity="0.9"/>
<rect x="356.00" y="24.50" width="84.60" height="84.40" fill="none" stroke="#1a1a1a" stroke-width="1.1"/>
<path d="M398.00 24.50V108.90M356.00 66.50H440.60" stroke="#1a1a1a" stroke-width="0.9" fill="none"/>
<path d="M412.4 65.2h.9M413.4 45.8h.9M426.4 54.9h.9M414.3 56.7h.9M415.9 50.8h.9M414.3 51.7h.9M397.3 48.0h.9M436.9 55.9h.9M395.9 40.7h.9M410.0 97.0h.9M411.4 50.4h.9M419.2 42.2h.9M422.3 56.6h.9M388.7 72.7h.9M416.6 49.5h.9M401.0 66.2h.9M420.4 83.0h.9M389.1 61.2h.9M417.5 64.4h.9M384.6 57.9h.9M397.1 49.7h.9M413.0 54.8h.9M422.6 65.0h.9M425.0 42.1h.9M419.4 41.0h.9M406.2 46.3h.9M417.8 71.0h.9M413.3 65.1h.9M407.1 57.1h.9M428.1 62.3h.9M415.9 77.2h.9M415.7 43.2h.9M424.8 52.0h.9M407.5 70.8h.9M413.1 75.6h.9M398.3 46.0h.9M402.4 34.9h.9M395.8 52.6h.9M399.1 55.9h.9M400.8 57.7h.9M412.3 64.1h.9M420.9 38.6h.9M406.6 46.7h.9M415.4 58.6h.9M405.5 81.7h.9M410.2 61.2h.9M408.6 52.0h.9M436.0 56.0h.9M417.0 51.7h.9M394.8 68.7h.9M418.7 51.1h.9M402.4 62.4h.9M412.7 60.2h.9M423.3 56.8h.9M416.4 76.6h.9M400.6 54.0h.9M393.6 54.7h.9M405.7 68.8h.9M422.7 67.0h.9M403.1 67.0h.9M386.7 58.5h.9M411.1 45.9h.9M409.4 90.4h.9M431.4 72.5h.9M413.4 76.1h.9M399.9 64.8h.9M425.3 47.4h.9M406.4 51.8h.9M409.3 56.9h.9M416.2 50.3h.9M406.1 60.1h.9M417.0 57.2h.9M403.7 36.0h.9M408.1 48.5h.9M416.8 42.5h.9M385.7 31.7h.9M411.3 74.4h.9M415.8 29.0h.9M420.7 74.5h.9M408.0 41.1h.9M395.8 60.8h.9M410.2 30.2h.9M410.3 41.3h.9M405.2 68.9h.9M427.1 50.3h.9M391.6 50.1h.9M422.4 66.4h.9M416.9 55.0h.9M407.7 66.1h.9M405.3 62.0h.9M396.7 59.0h.9M394.6 57.5h.9M412.9 71.9h.9M431.3 76.2h.9M430.6 55.6h.9M413.3 66.2h.9M413.9 40.4h.9M421.1 63.9h.9M405.3 63.9h.9M421.6 34.2h.9M400.3 58.5h.9M409.0 68.3h.9M419.2 51.3h.9M395.6 72.0h.9M429.5 54.4h.9M420.8 65.0h.9M409.1 52.5h.9M407.5 72.9h.9M414.0 46.7h.9M400.6 44.8h.9M423.1 69.7h.9M414.1 59.0h.9M422.2 49.9h.9M397.1 76.0h.9M427.4 57.0h.9M419.4 54.2h.9M433.9 74.1h.9M428.1 69.1h.9M423.4 41.1h.9M396.1 53.3h.9M410.4 62.3h.9M414.6 72.1h.9M401.5 50.0h.9M425.0 65.9h.9M395.2 28.5h.9M428.2 53.8h.9M400.7 66.0h.9M417.1 70.9h.9M434.7 56.7h.9M419.1 71.8h.9M402.3 68.7h.9M417.6 61.9h.9M410.3 54.4h.9M416.9 39.3h.9M411.5 71.6h.9M413.9 39.6h.9M406.9 57.9h.9M409.4 53.3h.9M417.3 69.0h.9M411.1 46.4h.9M428.1 46.6h.9M425.1 62.8h.9M409.3 46.5h.9M398.9 59.2h.9M390.1 63.4h.9M404.9 74.0h.9M421.5 68.0h.9M409.3 61.8h.9M404.5 40.2h.9M407.7 55.9h.9M397.2 64.6h.9M409.9 62.4h.9M406.5 56.6h.9M434.1 60.2h.9M412.2 63.5h.9M421.2 49.4h.9M404.9 60.4h.9M416.7 56.9h.9M403.0 68.5h.9M420.7 54.4h.9M386.9 57.3h.9M430.4 66.8h.9M417.1 77.1h.9M424.7 72.8h.9M398.0 62.5h.9M397.8 52.5h.9M417.0 37.2h.9M397.8 78.9h.9M410.0 53.6h.9M418.6 44.5h.9M394.9 69.0h.9M412.4 47.7h.9M420.2 63.9h.9M400.9 47.1h.9M411.8 37.6h.9M398.5 65.4h.9M405.4 64.4h.9M402.8 65.4h.9M413.4 64.2h.9M422.5 59.5h.9M414.0 39.5h.9M418.1 56.5h.9M413.8 57.6h.9M421.4 68.7h.9M428.8 38.3h.9M428.9 64.7h.9M393.6 64.0h.9M416.0 47.8h.9M411.7 62.3h.9M433.6 67.0h.9M427.7 46.8h.9M397.0 54.9h.9M406.9 70.6h.9M390.3 78.5h.9M419.4 63.4h.9M417.6 72.1h.9M410.0 61.9h.9M394.2 79.8h.9M419.7 56.5h.9M402.1 59.7h.9M422.6 34.9h.9M402.7 50.5h.9M432.7 58.6h.9M390.0 48.4h.9M427.5 42.9h.9M429.5 58.8h.9M404.5 64.4h.9M413.6 53.2h.9M407.9 57.8h.9M425.3 54.3h.9M399.3 65.7h.9M397.3 73.4h.9M421.1 71.2h.9M400.6 61.9h.9M424.4 63.0h.9M409.5 46.6h.9M420.1 52.6h.9M426.3 71.4h.9M416.8 66.6h.9M427.3 47.9h.9M400.6 41.2h.9M399.0 43.4h.9M416.7 69.7h.9M399.7 62.4h.9M413.8 67.6h.9M421.3 76.5h.9M414.0 58.4h.9M390.0 54.4h.9M397.8 90.6h.9M406.2 61.4h.9M425.7 64.7h.9M428.2 41.4h.9M418.6 65.6h.9M422.4 46.0h.9M417.1 61.6h.9M393.8 49.7h.9M418.6 75.2h.9M415.3 49.1h.9M412.6 48.3h.9M423.8 77.5h.9M410.2 52.2h.9M425.9 40.2h.9M389.3 59.3h.9M423.3 42.6h.9M435.9 70.5h.9M409.2 72.1h.9M424.6 75.6h.9M429.4 46.3h.9M420.4 86.5h.9M405.3 48.8h.9M395.7 61.6h.9M412.7 46.9h.9M417.7 54.9h.9M408.4 58.4h.9M412.3 49.0h.9M411.7 45.1h.9M392.1 42.9h.9M411.8 43.9h.9M415.1 47.4h.9M433.4 65.6h.9M415.1 60.7h.9M416.7 79.4h.9M411.8 61.7h.9M403.9 61.0h.9M394.1 40.4h.9M419.8 34.1h.9M402.7 73.6h.9M417.7 80.1h.9M416.9 67.6h.9M409.7 55.2h.9M414.6 34.4h.9M422.2 75.2h.9M426.7 75.8h.9M415.1 74.6h.9M403.3 41.5h.9M406.8 66.8h.9M406.7 62.6h.9M432.6 73.8h.9M398.0 51.0h.9M393.3 63.3h.9M428.6 58.5h.9M407.7 67.7h.9M402.1 66.2h.9M415.7 42.5h.9M426.4 65.9h.9M404.4 49.6h.9M390.4 64.3h.9M409.7 73.0h.9M401.0 54.2h.9M392.4 70.5h.9M405.4 57.7h.9M396.0 44.7h.9M409.8 62.1h.9M409.0 67.5h.9M401.0 44.0h.9M416.3 60.2h.9M426.5 68.0h.9M421.8 58.6h.9M402.1 49.1h.9M394.3 50.5h.9M402.2 53.6h.9M431.4 51.6h.9M405.8 59.3h.9M408.8 74.1h.9M399.2 58.4h.9M420.4 81.8h.9M412.5 52.5h.9M414.8 72.0h.9M426.8 74.8h.9M421.7 38.5h.9M387.1 55.8h.9M417.4 56.2h.9M403.4 63.2h.9M395.3 57.5h.9M420.2 67.8h.9M401.4 65.3h.9M413.2 58.5h.9M411.9 58.4h.9M396.4 94.4h.9M421.2 41.0h.9M395.0 67.8h.9M417.1 47.0h.9M421.5 42.9h.9M412.5 54.0h.9M418.5 64.9h.9M428.6 51.3h.9M425.8 64.3h.9M426.4 72.9h.9M418.2 92.9h.9M400.2 49.9h.9M407.4 57.1h.9M392.3 39.5h.9M420.8 59.7h.9M418.5 55.1h.9M431.3 56.6h.9M394.3 62.6h.9M429.6 52.1h.9M407.8 51.5h.9M414.6 51.5h.9M392.8 70.9h.9M421.7 62.2h.9M417.6 34.3h.9M409.2 56.3h.9M406.0 67.4h.9M412.2 78.0h.9M386.2 41.9h.9M411.8 45.0h.9M414.7 57.4h.9M421.7 50.2h.9M397.7 43.9h.9M400.7 56.7h.9M434.5 63.8h.9M421.0 58.7h.9M418.5 70.3h.9M401.4 55.1h.9M393.2 70.1h.9M421.4 67.2h.9M401.8 73.5h.9M415.0 64.0h.9M415.1 61.7h.9M436.8 64.9h.9M388.1 57.8h.9M413.2 57.3h.9M392.6 44.9h.9M412.8 59.9h.9M392.9 53.3h.9M412.3 42.1h.9M407.9 75.1h.9M414.8 71.0h.9M418.5 73.1h.9M411.5 62.2h.9M412.7 65.9h.9M402.8 60.1h.9M405.8 57.4h.9M409.7 87.9h.9M412.4 41.6h.9M417.0 51.7h.9M419.0 65.3h.9M396.2 49.0h.9M426.6 52.1h.9M418.6 54.3h.9M412.8 55.9h.9M413.3 55.2h.9M401.2 67.3h.9M420.4 63.6h.9M382.6 57.7h.9M384.3 35.1h.9M422.3 50.8h.9M404.8 73.5h.9M410.5 59.0h.9M403.5 57.3h.9M421.9 51.7h.9M400.1 86.5h.9M413.3 67.6h.9M418.9 38.6h.9M433.9 55.6h.9M427.2 38.6h.9M413.9 55.8h.9M424.0 59.7h.9M407.0 68.6h.9M413.4 67.0h.9M423.3 63.3h.9M431.7 44.0h.9M397.8 45.6h.9M408.3 42.0h.9M419.8 59.7h.9M421.8 66.1h.9M417.5 54.3h.9M411.6 54.2h.9M401.0 52.1h.9M398.3 51.2h.9M419.4 50.1h.9M410.7 57.1h.9M404.2 41.1h.9M407.7 46.5h.9M401.8 55.0h.9M409.0 47.3h.9M410.0 69.6h.9M419.3 73.7h.9M401.8 49.2h.9M390.4 49.3h.9M408.8 70.1h.9M416.8 50.9h.9M406.5 60.9h.9M423.7 49.3h.9M413.2 68.2h.9M402.1 66.0h.9M422.3 51.5h.9M417.7 41.3h.9M410.2 63.3h.9M409.2 34.9h.9M388.5 54.9h.9M419.5 57.7h.9M423.6 69.6h.9M420.2 63.0h.9M414.6 55.9h.9M408.1 50.6h.9M434.2 45.6h.9M416.8 82.2h.9M427.6 45.0h.9M411.8 64.2h.9M422.3 68.3h.9M424.0 71.6h.9M402.9 58.1h.9M396.3 58.2h.9M420.8 74.4h.9M425.7 65.1h.9M421.0 55.6h.9M408.7 64.6h.9M393.3 66.8h.9M404.8 38.0h.9M426.9 75.0h.9M424.2 55.4h.9M409.7 52.5h.9M424.1 65.1h.9M411.0 56.1h.9M402.3 55.9h.9M413.4 66.5h.9M404.1 54.4h.9M425.1 54.1h.9M403.9 48.9h.9M416.5 50.8h.9M428.7 69.2h.9M412.7 65.4h.9M403.7 33.5h.9M425.9 79.7h.9M419.6 64.9h.9M428.5 57.1h.9M412.3 56.3h.9M419.1 57.7h.9M411.7 59.8h.9M420.7 71.9h.9M414.4 59.5h.9M408.5 49.1h.9M398.6 62.5h.9M404.0 51.4h.9M408.7 57.5h.9M419.1 77.6h.9M420.0 67.2h.9M411.3 59.4h.9M424.3 49.0h.9M436.0 55.9h.9M408.6 64.2h.9M422.4 38.4h.9M418.6 65.1h.9M417.8 54.9h.9M414.8 67.1h.9M383.4 64.6h.9M427.3 55.5h.9M387.4 58.0h.9M391.9 33.7h.9M416.8 72.8h.9M424.2 67.6h.9M421.3 57.8h.9M400.0 49.9h.9M398.1 41.7h.9M415.2 70.6h.9M392.3 38.3h.9M432.2 73.4h.9M434.6 56.0h.9M411.7 59.1h.9M411.2 40.5h.9M416.3 80.6h.9M401.1 62.4h.9M403.4 57.5h.9M419.3 55.1h.9M407.1 67.8h.9M424.8 59.3h.9M424.1 57.5h.9M405.2 41.4h.9M416.0 69.0h.9M410.5 45.6h.9M399.5 41.2h.9M422.8 61.5h.9M421.8 56.0h.9M403.1 60.6h.9M411.8 63.1h.9M396.1 47.0h.9M415.5 56.8h.9M431.7 65.0h.9M413.8 54.7h.9M409.1 59.4h.9M423.9 58.2h.9M430.8 67.3h.9M416.9 75.6h.9M413.0 66.7h.9M431.2 48.9h.9M420.7 35.3h.9M432.2 49.2h.9M406.0 75.9h.9M414.1 62.4h.9M406.5 61.6h.9M394.1 39.7h.9M400.4 66.3h.9M421.5 78.1h.9M425.8 46.5h.9M410.6 71.4h.9M408.6 80.9h.9M431.6 57.4h.9M405.3 69.3h.9M421.5 39.5h.9M398.7 65.2h.9M392.7 49.7h.9M416.4 30.1h.9M412.9 63.4h.9M405.7 47.5h.9M394.3 48.8h.9M417.5 64.3h.9M403.3 45.0h.9M437.5 63.6h.9M421.0 36.4h.9M406.8 61.2h.9M399.3 59.9h.9M413.4 63.2h.9M405.3 77.7h.9M397.7 70.2h.9M422.4 64.4h.9M403.9 49.9h.9M421.5 67.4h.9M406.7 49.8h.9M419.0 68.5h.9M417.4 58.4h.9M428.3 68.9h.9M425.5 52.7h.9M401.9 44.9h.9M425.8 74.5h.9M439.2 72.4h.9M403.0 62.1h.9M424.1 50.8h.9M413.3 41.0h.9M419.5 40.6h.9M382.2 63.7h.9M401.0 56.9h.9M415.7 73.5h.9M400.0 61.4h.9M412.0 90.8h.9M426.7 57.7h.9M414.3 54.3h.9M401.5 58.7h.9M427.6 44.4h.9M420.3 61.6h.9M404.1 41.3h.9M421.1 63.4h.9M386.9 69.1h.9M390.0 42.2h.9M416.8 67.5h.9M429.9 75.2h.9M412.8 73.8h.9M392.4 55.8h.9M415.0 62.9h.9M417.0 44.8h.9M395.7 82.0h.9M435.1 55.0h.9M433.5 65.9h.9M420.9 38.1h.9M427.6 64.0h.9M426.0 66.6h.9M396.0 51.3h.9M432.5 47.1h.9M398.2 46.8h.9M423.2 64.0h.9M382.2 44.9h.9M425.9 51.6h.9M392.0 77.4h.9M427.6 47.6h.9M420.9 61.3h.9M419.6 65.1h.9M410.4 69.3h.9M417.8 63.5h.9M426.8 48.7h.9M403.9 34.1h.9M399.8 52.2h.9M428.6 41.3h.9M385.7 45.0h.9M385.4 66.9h.9M413.2 63.9h.9M432.0 66.9h.9M430.5 50.7h.9M395.4 71.0h.9M408.3 56.8h.9M427.4 60.4h.9M426.3 78.7h.9M374.5 62.5h.9M420.5 62.8h.9M401.2 52.5h.9M404.9 69.1h.9M422.5 42.1h.9M428.6 70.1h.9M427.0 47.0h.9M420.9 44.8h.9M407.1 59.0h.9M407.6 48.1h.9M405.9 52.9h.9M400.1 59.6h.9M409.7 59.5h.9M416.2 60.5h.9M411.6 85.2h.9M428.9 66.2h.9M411.2 68.9h.9M427.5 69.9h.9M421.1 42.6h.9M422.6 73.7h.9M431.4 42.5h.9M425.4 47.5h.9M415.5 64.7h.9M428.6 41.3h.9M400.9 46.0h.9M417.7 46.4h.9M418.1 43.4h.9M428.0 46.3h.9M396.6 47.2h.9M415.3 72.6h.9M423.8 75.7h.9M426.3 35.8h.9M408.1 45.9h.9M420.5 49.3h.9M397.1 49.9h.9M416.4 48.2h.9M414.8 43.5h.9M418.3 48.9h.9M432.5 55.4h.9M427.7 54.8h.9M421.6 64.5h.9M424.9 41.8h.9M413.8 47.4h.9M420.4 72.0h.9M419.4 40.6h.9M408.6 80.7h.9M417.5 65.9h.9M414.8 65.7h.9M418.1 64.9h.9M403.3 58.4h.9M404.4 40.6h.9M399.9 58.5h.9M406.0 75.4h.9M433.6 75.8h.9M387.6 75.2h.9M431.8 55.4h.9M407.9 58.0h.9M402.5 56.0h.9M434.1 62.5h.9M416.7 42.1h.9M418.8 64.8h.9M406.6 62.7h.9M406.8 79.8h.9M389.4 67.0h.9M416.6 42.0h.9M408.1 59.7h.9M423.4 48.1h.9M413.4 58.3h.9M438.9 61.9h.9M408.6 78.4h.9M420.5 61.0h.9M439.4 61.9h.9M425.3 45.6h.9M436.0 74.4h.9M435.0 57.4h.9M413.6 61.6h.9M409.8 62.0h.9M385.0 51.0h.9M415.7 69.8h.9M414.1 28.1h.9M419.8 62.6h.9M436.8 67.8h.9M412.9 64.7h.9M411.9 48.2h.9M422.3 67.0h.9M413.2 56.5h.9M409.7 58.1h.9M405.7 67.0h.9M415.5 70.8h.9M420.2 60.1h.9M403.1 65.4h.9M408.8 59.7h.9M416.3 60.3h.9M403.8 39.4h.9M426.4 56.2h.9M427.0 53.5h.9M411.6 56.6h.9M428.1 62.7h.9M420.3 44.0h.9M430.8 49.5h.9M434.9 54.7h.9M421.2 65.6h.9M416.2 40.0h.9M408.6 57.7h.9M404.9 57.4h.9M409.9 50.8h.9M413.2 65.3h.9M411.1 59.2h.9M408.3 45.8h.9M423.3 55.8h.9M399.7 51.1h.9M398.6 55.3h.9M415.4 65.2h.9M404.3 66.5h.9M412.2 45.6h.9M420.1 44.3h.9M399.3 71.5h.9M411.1 55.7h.9M427.3 72.7h.9M418.4 58.1h.9M423.3 55.5h.9M408.1 68.6h.9M384.0 45.3h.9M396.2 62.8h.9M435.8 63.0h.9M422.5 60.4h.9M423.6 57.3h.9M408.4 40.7h.9M411.4 74.6h.9M410.6 50.9h.9M400.8 47.8h.9M406.7 49.4h.9M393.8 63.0h.9M416.1 52.6h.9M414.1 58.9h.9M407.1 63.3h.9M418.6 50.7h.9M422.8 45.2h.9M429.7 80.4h.9M408.2 59.7h.9M406.7 44.6h.9M424.2 59.1h.9M416.3 41.8h.9M410.4 61.7h.9M426.2 51.8h.9M432.6 53.1h.9M424.2 64.6h.9M403.0 57.8h.9M381.5 52.6h.9M427.0 56.8h.9M412.0 44.1h.9M414.3 45.4h.9M426.6 51.5h.9M417.9 54.2h.9M415.6 44.1h.9M394.6 61.1h.9M423.0 68.3h.9M413.5 66.4h.9M420.3 46.9h.9M433.0 51.4h.9M405.8 54.6h.9M421.9 40.0h.9M387.9 53.1h.9M391.9 48.7h.9M420.4 51.5h.9M425.9 52.9h.9M406.7 53.3h.9M429.8 59.2h.9M415.1 72.9h.9M429.3 64.0h.9M405.5 63.3h.9M404.0 60.8h.9M430.8 47.8h.9M403.6 51.7h.9M397.1 75.5h.9M420.6 61.9h.9M402.4 53.0h.9M404.9 86.1h.9M414.5 56.2h.9M422.7 46.0h.9M417.0 60.7h.9M406.4 78.3h.9M409.3 45.3h.9M412.8 80.1h.9M425.1 44.8h.9M400.1 77.9h.9M416.6 48.9h.9M400.7 62.0h.9M405.0 72.6h.9M398.3 56.0h.9M410.1 66.2h.9M382.1 35.9h.9M402.9 59.5h.9M400.5 53.1h.9M395.8 56.7h.9M412.3 46.4h.9M401.0 66.0h.9M411.7 31.7h.9M396.2 54.2h.9M406.4 54.0h.9M422.8 56.1h.9M417.9 54.4h.9M407.3 60.6h.9M393.9 62.3h.9M405.0 61.1h.9M423.8 53.1h.9M420.5 44.1h.9M384.8 52.6h.9M414.3 59.2h.9M398.2 51.1h.9M428.9 45.1h.9M413.5 50.0h.9M429.9 56.2h.9M415.7 55.9h.9M417.4 64.2h.9M424.2 66.6h.9M404.5 53.6h.9M407.3 61.0h.9M388.6 48.1h.9M414.4 59.6h.9M420.3 55.4h.9M405.8 32.9h.9M408.9 45.8h.9M437.4 65.8h.9M415.7 68.2h.9M427.6 62.2h.9M400.7 41.6h.9M426.0 69.1h.9M429.3 55.6h.9M407.5 61.4h.9M403.5 56.4h.9M415.1 48.8h.9M415.6 76.4h.9M404.3 40.4h.9M428.9 60.1h.9M412.8 60.1h.9M414.7 79.0h.9M425.6 66.3h.9M416.3 89.6h.9M417.4 41.3h.9M386.5 39.1h.9M420.4 67.2h.9M394.6 43.5h.9M417.7 50.6h.9M411.1 68.0h.9M425.3 70.0h.9M425.7 78.9h.9M402.9 76.2h.9M430.8 80.0h.9M400.2 49.8h.9M417.3 30.6h.9M423.1 80.9h.9M403.4 62.2h.9M412.2 75.3h.9M402.8 68.7h.9M427.8 52.7h.9M410.3 61.5h.9M418.1 66.8h.9M411.1 79.6h.9M422.8 46.0h.9M419.0 52.1h.9M419.0 32.5h.9M417.0 74.6h.9M401.3 49.1h.9M427.8 48.4h.9M425.0 55.7h.9M395.8 67.0h.9M391.7 62.9h.9M397.3 56.9h.9M412.3 82.5h.9M423.6 48.5h.9M397.0 56.3h.9M423.4 61.8h.9M425.1 55.7h.9M427.9 55.8h.9M412.3 51.7h.9M424.2 55.0h.9M408.7 68.1h.9M409.6 65.4h.9M416.9 56.0h.9M413.2 58.2h.9M416.5 38.5h.9M429.5 65.5h.9M419.6 62.4h.9M413.0 61.3h.9M406.4 75.4h.9M383.2 55.7h.9M429.2 69.7h.9M420.6 63.1h.9M417.8 68.4h.9M411.3 59.7h.9M384.2 55.6h.9M412.5 89.6h.9M422.4 58.7h.9M416.8 53.7h.9M408.9 71.9h.9M408.5 63.7h.9M408.0 63.6h.9M418.2 51.2h.9M405.4 71.0h.9M394.4 80.8h.9M403.6 55.6h.9M421.1 62.7h.9M393.6 55.6h.9M421.7 58.4h.9M407.8 51.1h.9M413.4 72.7h.9M415.3 74.9h.9M426.3 52.5h.9M401.4 55.7h.9M430.0 85.7h.9M412.3 37.5h.9M394.3 60.6h.9M395.9 59.3h.9M383.4 79.1h.9M407.2 56.7h.9M418.9 53.0h.9M428.7 49.5h.9M423.5 71.0h.9M423.5 45.8h.9M408.9 33.3h.9M409.2 59.5h.9M418.7 80.6h.9M405.7 59.6h.9M409.5 56.2h.9M404.2 59.8h.9M398.8 63.4h.9M396.2 50.0h.9M397.4 49.5h.9M408.7 62.4h.9M429.3 57.0h.9M389.6 52.0h.9M376.6 55.0h.9M408.9 76.5h.9M415.1 62.4h.9M406.1 69.0h.9M431.2 60.2h.9M416.1 61.7h.9M398.4 63.3h.9M401.6 78.3h.9M410.2 35.3h.9M435.1 59.2h.9M415.8 51.8h.9M431.7 54.3h.9M407.9 63.5h.9M405.9 85.1h.9M424.6 59.4h.9M415.9 42.3h.9M414.9 75.7h.9M388.5 59.1h.9M399.0 54.7h.9M397.5 63.0h.9M394.9 63.2h.9M408.2 50.7h.9M431.6 60.8h.9M402.8 32.9h.9M418.8 50.4h.9M422.0 39.4h.9M427.3 49.6h.9M424.1 69.6h.9M406.1 59.8h.9M415.3 58.2h.9M418.1 58.0h.9M408.5 79.6h.9M425.0 50.7h.9M402.6 51.9h.9M419.3 57.4h.9M390.1 74.1h.9M406.3 37.3h.9M402.9 62.9h.9M399.6 64.8h.9M418.6 85.5h.9M377.0 49.7h.9M414.6 66.3h.9M426.8 45.7h.9M386.7 60.6h.9M428.6 67.1h.9M410.0 45.9h.9M410.6 74.0h.9M405.1 75.7h.9M421.4 80.9h.9M427.2 79.9h.9M414.7 77.6h.9M410.0 45.0h.9M428.8 41.3h.9M412.9 57.0h.9M417.1 50.3h.9M408.9 44.0h.9M418.4 43.4h.9M420.4 49.5h.9M404.5 63.8h.9M397.2 62.3h.9M411.8 47.5h.9M412.5 41.9h.9M427.7 91.4h.9M410.7 39.1h.9M382.3 48.3h.9M402.1 64.5h.9M417.0 82.8h.9M416.7 66.9h.9M404.3 49.2h.9M421.3 59.1h.9M404.6 55.0h.9M434.0 55.9h.9M425.7 61.4h.9M421.7 51.3h.9M417.5 73.1h.9M399.1 61.5h.9M415.3 74.3h.9M400.1 51.1h.9M427.5 65.8h.9M404.9 68.0h.9M413.1 45.3h.9M395.3 59.6h.9M408.7 63.0h.9M398.0 63.7h.9M399.7 54.1h.9M414.5 77.1h.9M391.6 64.8h.9M422.5 52.1h.9M413.1 101.9h.9M407.4 68.3h.9M409.5 74.6h.9M408.2 67.3h.9M411.4 59.2h.9M412.4 56.1h.9M408.6 58.8h.9M427.4 47.7h.9M418.0 41.1h.9M416.9 71.5h.9M391.0 67.7h.9M413.1 53.3h.9M428.1 66.1h.9M403.3 48.4h.9M429.4 64.9h.9M418.4 40.5h.9M418.1 59.3h.9M386.6 41.2h.9M422.4 56.9h.9M407.8 74.9h.9M412.6 60.0h.9M428.3 74.5h.9M432.9 58.1h.9M429.5 71.3h.9M418.5 42.5h.9M415.4 77.9h.9M409.6 51.5h.9M395.6 77.5h.9M417.0 71.1h.9M422.9 74.0h.9M389.8 68.8h.9M433.5 69.9h.9M413.9 55.3h.9M401.5 44.2h.9M416.3 52.7h.9M391.9 81.5h.9M377.8 61.0h.9M410.9 49.1h.9M433.4 61.9h.9M410.4 52.6h.9M434.0 69.3h.9M422.2 61.8h.9M409.6 47.9h.9M403.6 72.6h.9M422.7 58.9h.9M410.5 60.3h.9M420.5 63.4h.9M424.0 53.1h.9M425.2 61.2h.9M415.5 66.3h.9M421.3 40.7h.9M396.1 69.3h.9M408.8 71.5h.9M397.4 65.3h.9M430.9 49.0h.9M414.5 58.1h.9M392.3 49.4h.9M419.6 72.7h.9M416.7 61.0h.9M407.2 71.4h.9M405.2 70.8h.9M420.1 53.7h.9M418.3 60.8h.9M408.7 31.7h.9M389.7 42.8h.9M418.7 57.5h.9M407.4 61.3h.9M398.5 76.6h.9M412.6 80.1h.9M425.1 43.8h.9M369.0 78.8h.9M417.6 55.7h.9M415.5 52.9h.9M423.9 47.1h.9M437.5 58.1h.9M425.4 79.7h.9M412.4 74.4h.9M421.2 75.4h.9M412.6 58.0h.9M416.7 44.1h.9M426.6 93.1h.9M432.0 64.9h.9M406.8 39.8h.9M410.6 76.3h.9M396.8 57.6h.9M426.0 38.7h.9M411.9 64.5h.9M435.4 64.4h.9M433.2 55.3h.9M417.3 61.4h.9M418.0 64.4h.9M405.3 60.1h.9M405.6 54.4h.9M415.3 61.8h.9M411.5 61.3h.9M436.9 58.5h.9M406.4 62.2h.9M422.8 61.0h.9M412.2 61.7h.9M416.3 53.2h.9M420.0 79.8h.9M400.2 92.8h.9M424.6 43.9h.9M431.2 56.5h.9M429.2 58.8h.9M412.6 78.5h.9M403.9 66.1h.9M426.2 36.7h.9M408.0 53.5h.9M417.7 68.5h.9M391.6 68.2h.9M395.3 62.5h.9M412.3 60.7h.9M411.9 52.1h.9M401.9 46.8h.9M392.2 57.6h.9M419.2 68.7h.9M393.2 50.0h.9M405.3 48.2h.9M424.1 58.5h.9M414.1 45.5h.9M419.0 70.6h.9M416.3 51.2h.9M416.7 55.9h.9M412.2 60.0h.9M401.9 77.1h.9M428.8 66.7h.9M417.0 78.0h.9M416.2 69.2h.9M401.5 46.1h.9M428.9 85.9h.9M417.4 47.0h.9M398.1 49.5h.9M407.2 71.4h.9M409.5 64.4h.9M396.0 29.3h.9M408.1 68.1h.9M425.2 59.4h.9M431.4 61.9h.9M418.6 57.2h.9M416.2 61.1h.9M412.7 36.6h.9M405.2 65.5h.9M409.6 51.0h.9M419.3 46.3h.9M396.6 55.1h.9M411.8 62.2h.9M416.2 84.0h.9M417.6 56.6h.9M395.5 59.7h.9M434.2 63.5h.9M421.8 61.4h.9M403.5 70.4h.9M408.9 41.5h.9M424.7 67.6h.9M427.0 60.1h.9M405.1 52.8h.9M402.2 78.8h.9M430.9 82.1h.9M421.1 78.2h.9M413.7 61.0h.9M408.4 86.8h.9M412.7 58.9h.9M402.5 59.3h.9M427.0 67.7h.9M417.4 73.3h.9M419.0 50.1h.9M419.7 40.2h.9M401.3 44.5h.9M407.1 66.4h.9M428.3 55.3h.9M431.3 77.1h.9M417.7 65.2h.9M410.7 83.0h.9M426.3 55.6h.9M401.4 75.7h.9M402.9 40.3h.9M412.9 62.6h.9M420.6 58.1h.9M417.2 48.7h.9M418.5 47.0h.9M398.9 57.4h.9M409.7 56.9h.9M413.7 66.4h.9M409.8 46.0h.9M407.2 74.2h.9M422.0 45.7h.9M410.9 56.5h.9M403.6 60.8h.9M428.6 47.8h.9M416.3 61.7h.9M393.5 54.1h.9M420.3 44.6h.9M426.7 72.4h.9M429.9 46.9h.9M431.9 49.4h.9M420.2 39.1h.9M405.9 49.8h.9M428.3 68.1h.9M399.7 52.5h.9M416.1 50.2h.9M422.8 67.8h.9M418.9 43.5h.9M410.0 61.6h.9M400.2 47.5h.9M424.3 46.4h.9M407.4 62.7h.9M401.3 67.9h.9M416.7 49.5h.9M416.1 46.9h.9M417.3 72.8h.9M405.6 35.2h.9M420.7 56.1h.9M394.2 48.7h.9M411.6 69.9h.9M434.0 51.5h.9M398.4 66.2h.9M425.5 34.9h.9M389.2 54.5h.9M409.9 80.0h.9M412.7 78.2h.9M407.9 37.0h.9M421.4 47.7h.9M422.5 53.1h.9M427.3 72.5h.9M410.3 46.8h.9M405.6 63.2h.9M407.1 68.0h.9M422.4 54.1h.9M406.3 50.0h.9M422.0 56.5h.9M425.4 44.5h.9M405.8 53.4h.9M415.9 64.8h.9M418.3 54.3h.9M414.3 63.7h.9M425.6 77.9h.9M425.5 57.4h.9M418.5 87.9h.9M436.5 79.7h.9M403.9 49.3h.9M407.2 62.7h.9M386.4 63.1h.9M417.7 48.8h.9M411.3 54.7h.9M420.6 66.1h.9M405.4 32.3h.9M404.1 41.7h.9M415.9 38.6h.9M406.8 50.8h.9M419.3 60.4h.9M419.0 67.3h.9M414.0 62.6h.9M424.8 58.6h.9M397.2 62.2h.9M413.8 69.0h.9M432.1 52.3h.9M425.9 67.3h.9M409.9 44.5h.9M396.7 52.7h.9M416.2 63.9h.9M416.2 71.3h.9M417.9 73.1h.9M398.6 39.5h.9M406.0 84.6h.9M427.6 67.4h.9M369.8 58.2h.9M427.0 52.9h.9M437.2 59.1h.9M422.7 70.4h.9M417.2 37.7h.9M421.5 55.4h.9M389.6 62.3h.9M398.5 47.4h.9M405.5 52.8h.9M402.2 33.1h.9M400.0 55.7h.9M403.8 49.5h.9M427.8 46.2h.9M389.7 54.6h.9M387.6 33.0h.9M416.0 63.4h.9M423.8 51.1h.9M399.8 36.5h.9M411.9 80.1h.9M431.3 50.3h.9M403.6 45.3h.9M435.8 67.4h.9M428.3 45.3h.9M395.8 78.5h.9M405.8 56.3h.9M421.0 60.3h.9M414.3 58.8h.9M416.3 49.8h.9M421.6 58.1h.9M418.5 63.2h.9M425.5 63.9h.9M436.4 57.7h.9M418.7 67.2h.9M410.7 55.2h.9M415.4 65.4h.9M400.1 56.8h.9M417.1 50.2h.9M431.4 61.4h.9M389.2 59.2h.9M391.2 74.1h.9M428.6 50.0h.9M406.8 65.6h.9M414.0 80.2h.9M421.4 61.9h.9M439.1 71.1h.9M428.2 66.2h.9M428.5 70.1h.9M424.7 63.1h.9M404.4 59.3h.9M421.4 52.1h.9M380.8 62.5h.9M389.2 62.3h.9M423.3 74.8h.9M399.8 55.4h.9M411.4 36.7h.9M419.4 50.4h.9M438.0 63.8h.9M415.2 70.3h.9M418.6 43.8h.9M433.1 57.8h.9M405.9 67.3h.9M397.0 55.7h.9M433.0 88.2h.9M386.8 39.0h.9M394.2 52.9h.9M398.8 47.0h.9M425.5 55.0h.9M426.0 56.6h.9M422.6 33.4h.9M429.6 65.8h.9M404.8 60.3h.9M412.3 56.3h.9M407.4 48.7h.9M415.8 52.5h.9M415.4 49.1h.9M399.7 36.5h.9M419.9 51.3h.9M423.4 43.0h.9M425.0 54.0h.9M413.0 78.6h.9M418.2 61.2h.9M391.1 56.4h.9M431.3 44.5h.9M431.7 73.7h.9M402.9 49.0h.9M411.6 34.6h.9M418.5 54.5h.9M421.2 60.6h.9M417.0 65.8h.9M415.0 63.3h.9M418.9 75.5h.9M396.0 51.0h.9M418.5 69.6h.9M412.6 70.7h.9M438.0 67.7h.9M421.1 60.4h.9M410.6 44.7h.9M426.3 60.7h.9M403.7 29.8h.9M434.0 55.1h.9M411.7 53.1h.9M416.7 41.2h.9M403.0 56.6h.9M405.3 39.8h.9M422.7 38.5h.9M411.7 69.1h.9M429.2 50.2h.9M412.9 37.7h.9M418.7 80.2h.9M420.2 57.6h.9M412.9 51.1h.9M418.9 75.3h.9M417.2 61.1h.9M401.0 69.5h.9M404.6 65.4h.9M406.6 56.1h.9M429.9 73.9h.9M395.5 81.0h.9M395.6 78.2h.9M417.4 42.5h.9M429.0 54.3h.9M424.6 52.5h.9M408.4 31.8h.9M415.7 71.4h.9M409.6 77.0h.9M415.9 42.5h.9M399.1 42.0h.9M400.5 68.0h.9M411.3 73.6h.9M399.3 60.2h.9M413.3 48.9h.9M400.0 32.3h.9M429.6 45.1h.9M407.2 34.0h.9M411.2 33.0h.9M429.7 68.6h.9M409.7 32.3h.9M428.8 58.8h.9M418.4 54.2h.9M405.6 59.4h.9M407.0 62.4h.9M421.8 69.4h.9" stroke="#ff0000" stroke-width="0.9" fill="none"/>
<text class="tk" x="351.9" y="26.9" text-anchor="end">50</text>
<text class="tk" x="351.9" y="68.9" text-anchor="end">0</text>
<text class="tk" x="351.9" y="111.3" text-anchor="end">−50</text>
<text class="tk" x="356.0" y="117.5" text-anchor="middle">−50</text>
<text class="tk" x="398.0" y="117.5" text-anchor="middle">0</text>
<text class="tk" x="440.6" y="117.5" text-anchor="middle">50</text>
<text class="ax" style="font-size:8.5px" x="400.0" y="127.5" text-anchor="middle">Δ<tspan class="i">x</tspan> (nm)</text>
<text class="ax" style="font-size:8.7px" transform="translate(344.2 64.2) rotate(-90)" text-anchor="middle">Δ<tspan class="i">y</tspan> (nm)</text>
<text class="lab" style="font-size:13px" x="474.4" y="9.6">c</text>
<text class="ttl" x="516" y="16.2">10% colocalization, no shift</text>
<clipPath id="cc"><rect x="481.5" y="25.4" width="85.5" height="84.6"/></clipPath>
<rect x="481.60" y="25.40" width="85.20" height="84.90" fill="#fff" stroke="#333" stroke-width="0.95"/>
<g clip-path="url(#cc)">
<circle cx="489.5" cy="28.9" r="1.40" fill="#3838ff"/>
<circle cx="484.6" cy="33.2" r="1.40" fill="#3838ff"/>
<circle cx="516.4" cy="27.7" r="1.40" fill="#3838ff"/>
<circle cx="524.5" cy="31.5" r="1.40" fill="#3838ff"/>
<circle cx="548.6" cy="30.5" r="1.40" fill="#3838ff"/>
<circle cx="552.4" cy="29.7" r="1.40" fill="#3838ff"/>
<circle cx="559.6" cy="34.8" r="1.40" fill="#3838ff"/>
<circle cx="502.1" cy="38.4" r="1.40" fill="#3838ff"/>
<circle cx="531.9" cy="40.1" r="1.40" fill="#3838ff"/>
<circle cx="545.0" cy="39.7" r="1.40" fill="#3838ff"/>
<circle cx="552.4" cy="39.7" r="1.40" fill="#3838ff"/>
<circle cx="510.7" cy="45.5" r="1.40" fill="#3838ff"/>
<circle cx="523.5" cy="44.3" r="1.40" fill="#3838ff"/>
<circle cx="547.0" cy="45.5" r="1.40" fill="#3838ff"/>
<circle cx="552.4" cy="45.8" r="1.40" fill="#3838ff"/>
<circle cx="561.5" cy="46.6" r="1.40" fill="#3838ff"/>
<circle cx="533.2" cy="52.9" r="1.40" fill="#3838ff"/>
<circle cx="545.4" cy="56.5" r="1.40" fill="#3838ff"/>
<circle cx="556.0" cy="62.2" r="1.40" fill="#3838ff"/>
<circle cx="566.9" cy="29.9" r="1.40" fill="#3838ff"/>
<circle cx="497.7" cy="73.9" r="1.40" fill="#3838ff"/>
<circle cx="492.8" cy="78.6" r="1.40" fill="#3838ff"/>
<circle cx="515.9" cy="74.5" r="1.40" fill="#3838ff"/>
<circle cx="521.0" cy="75.9" r="1.40" fill="#3838ff"/>
<circle cx="535.0" cy="76.7" r="1.40" fill="#3838ff"/>
<circle cx="554.7" cy="69.3" r="1.40" fill="#3838ff"/>
<circle cx="553.1" cy="71.3" r="1.40" fill="#3838ff"/>
<circle cx="564.2" cy="82.4" r="1.40" fill="#3838ff"/>
<circle cx="487.9" cy="86.7" r="1.40" fill="#3838ff"/>
<circle cx="533.4" cy="89.5" r="1.40" fill="#3838ff"/>
<circle cx="493.6" cy="96.2" r="1.40" fill="#3838ff"/>
<circle cx="498.4" cy="98.5" r="1.40" fill="#3838ff"/>
<circle cx="531.1" cy="98.5" r="1.40" fill="#3838ff"/>
<circle cx="536.3" cy="97.7" r="1.40" fill="#3838ff"/>
<circle cx="539.3" cy="98.5" r="1.40" fill="#3838ff"/>
<circle cx="566.9" cy="109.4" r="1.40" fill="#3838ff"/>
<circle cx="497.4" cy="31.9" r="1.40" fill="#ff2a2a" fill-opacity="0.9"/>
<circle cx="497.4" cy="34.3" r="1.40" fill="#ff2a2a" fill-opacity="0.9"/>
<circle cx="507.7" cy="29.6" r="1.40" fill="#ff2a2a" fill-opacity="0.9"/>
<circle cx="506.3" cy="36.5" r="1.40" fill="#ff2a2a" fill-opacity="0.9"/>
<circle cx="502.6" cy="37.9" r="1.40" fill="#ff2a2a" fill-opacity="0.9"/>
<circle cx="539.1" cy="30.7" r="1.40" fill="#ff2a2a" fill-opacity="0.9"/>
<circle cx="541.9" cy="32.0" r="1.40" fill="#ff2a2a" fill-opacity="0.9"/>
<circle cx="559.8" cy="35.6" r="1.40" fill="#ff2a2a" fill-opacity="0.9"/>
<circle cx="545.0" cy="40.4" r="1.40" fill="#ff2a2a" fill-opacity="0.9"/>
<circle cx="532.2" cy="43.5" r="1.40" fill="#ff2a2a" fill-opacity="0.9"/>
<circle cx="552.4" cy="47.5" r="1.40" fill="#ff2a2a" fill-opacity="0.9"/>
<circle cx="487.9" cy="50.1" r="1.40" fill="#ff2a2a" fill-opacity="0.9"/>
<circle cx="530.2" cy="51.6" r="1.40" fill="#ff2a2a" fill-opacity="0.9"/>
<circle cx="549.1" cy="51.6" r="1.40" fill="#ff2a2a" fill-opacity="0.9"/>
<circle cx="552.7" cy="54.9" r="1.40" fill="#ff2a2a" fill-opacity="0.9"/>
<circle cx="494.9" cy="60.9" r="1.40" fill="#ff2a2a" fill-opacity="0.9"/>
<circle cx="483.7" cy="63.7" r="1.40" fill="#ff2a2a" fill-opacity="0.9"/>
<circle cx="509.4" cy="63.4" r="1.40" fill="#ff2a2a" fill-opacity="0.9"/>
<circle cx="547.5" cy="67.6" r="1.40" fill="#ff2a2a" fill-opacity="0.9"/>
<circle cx="488.8" cy="74.0" r="1.40" fill="#ff2a2a" fill-opacity="0.9"/>
<circle cx="486.7" cy="78.2" r="1.40" fill="#ff2a2a" fill-opacity="0.9"/>
<circle cx="521.5" cy="74.2" r="1.40" fill="#ff2a2a" fill-opacity="0.9"/>
<circle cx="549.1" cy="74.2" r="1.40" fill="#ff2a2a" fill-opacity="0.9"/>
<circle cx="540.1" cy="82.3" r="1.40" fill="#ff2a2a" fill-opacity="0.9"/>
<circle cx="548.5" cy="83.7" r="1.40" fill="#ff2a2a" fill-opacity="0.9"/>
<circle cx="563.1" cy="82.4" r="1.40" fill="#ff2a2a" fill-opacity="0.9"/>
<circle cx="519.1" cy="84.2" r="1.40" fill="#ff2a2a" fill-opacity="0.9"/>
<circle cx="487.0" cy="86.2" r="1.40" fill="#ff2a2a" fill-opacity="0.9"/>
<circle cx="501.8" cy="87.5" r="1.40" fill="#ff2a2a" fill-opacity="0.9"/>
<circle cx="533.5" cy="89.5" r="1.40" fill="#ff2a2a" fill-opacity="0.9"/>
<circle cx="487.7" cy="96.9" r="1.40" fill="#ff2a2a" fill-opacity="0.9"/>
<circle cx="487.5" cy="100.2" r="1.40" fill="#ff2a2a" fill-opacity="0.9"/>
<circle cx="516.4" cy="97.5" r="1.40" fill="#ff2a2a" fill-opacity="0.9"/>
<circle cx="485.4" cy="105.6" r="1.40" fill="#ff2a2a" fill-opacity="0.9"/>
<circle cx="486.7" cy="105.6" r="1.40" fill="#ff2a2a" fill-opacity="0.9"/>
<circle cx="526.5" cy="105.9" r="1.40" fill="#ff2a2a" fill-opacity="0.9"/>
<circle cx="541.2" cy="107.1" r="1.40" fill="#ff2a2a" fill-opacity="0.9"/>
<circle cx="549.5" cy="105.6" r="1.40" fill="#ff2a2a" fill-opacity="0.9"/>
<circle cx="563.9" cy="103.5" r="1.40" fill="#ff2a2a" fill-opacity="0.9"/>
</g>
<rect x="597.00" y="24.50" width="84.60" height="84.40" fill="none" stroke="#1a1a1a" stroke-width="1.1"/>
<path d="M639.60 24.50V108.90M597.00 66.50H681.60" stroke="#1a1a1a" stroke-width="0.9" fill="none"/>
<path d="M634.5 53.2h.9M613.9 73.1h.9M659.8 51.3h.9M654.4 35.6h.9M616.0 71.6h.9M664.5 94.7h.9M610.2 36.1h.9M674.9 65.2h.9M639.8 60.4h.9M626.1 66.3h.9M674.0 51.7h.9M655.9 45.3h.9M643.9 36.6h.9M660.5 98.9h.9M607.2 50.7h.9M658.9 43.0h.9M616.6 71.9h.9M628.5 71.9h.9M628.6 76.0h.9M638.5 76.2h.9M614.8 77.4h.9M678.1 53.3h.9M627.5 74.4h.9M615.3 85.2h.9M606.0 67.1h.9M664.4 34.2h.9M650.6 26.0h.9M615.3 91.0h.9M643.3 98.4h.9M671.0 50.8h.9M641.1 94.3h.9M603.6 55.2h.9M612.4 94.4h.9M643.5 85.6h.9M665.7 51.0h.9M636.1 89.9h.9M638.5 81.4h.9M612.3 61.0h.9M637.5 33.7h.9M612.0 80.2h.9M616.8 80.1h.9M613.3 48.5h.9M609.5 71.3h.9M638.6 73.4h.9M648.4 100.4h.9M674.4 79.3h.9M667.5 71.2h.9M672.9 61.5h.9M656.3 78.2h.9M665.7 90.9h.9M667.6 67.0h.9M648.0 99.1h.9M671.9 77.8h.9M666.7 69.8h.9M651.3 52.8h.9M668.9 38.4h.9M603.5 80.9h.9M661.7 79.7h.9M613.7 71.7h.9M600.3 68.2h.9M662.0 95.1h.9M620.0 77.8h.9M656.4 100.7h.9M619.6 81.4h.9M600.6 70.8h.9M625.1 66.3h.9M650.5 106.0h.9M657.4 48.6h.9M617.7 32.1h.9M656.3 54.5h.9M625.2 88.2h.9M621.6 54.5h.9M664.7 86.4h.9M627.6 48.6h.9M669.3 83.7h.9M626.0 34.3h.9M673.9 79.4h.9M662.0 83.5h.9M632.4 39.7h.9M618.4 70.7h.9M665.5 53.2h.9M616.9 87.7h.9M629.5 86.6h.9M608.6 58.7h.9M623.2 59.2h.9M611.8 65.5h.9M644.9 89.9h.9M648.7 37.2h.9M658.1 98.5h.9M637.6 73.8h.9M616.8 49.6h.9M652.4 68.7h.9M617.4 79.1h.9M603.0 68.8h.9M606.1 72.8h.9M619.5 36.6h.9M601.6 73.1h.9M659.7 52.8h.9M618.9 82.5h.9M629.3 51.0h.9M626.2 87.0h.9M612.8 86.7h.9M673.7 68.1h.9M636.5 102.0h.9M670.1 64.9h.9M646.1 60.0h.9M605.2 65.5h.9M601.5 76.2h.9M600.1 60.6h.9M638.4 72.8h.9M662.9 76.9h.9M666.5 55.2h.9M615.8 90.4h.9M630.1 29.9h.9M633.7 62.1h.9M677.6 77.7h.9M664.6 55.1h.9M650.7 26.6h.9M601.6 67.4h.9M638.8 93.1h.9M678.5 78.8h.9M667.5 71.4h.9M651.7 72.6h.9M642.4 85.1h.9M609.7 57.0h.9M631.2 30.6h.9M654.5 84.4h.9M638.6 107.4h.9M633.9 87.2h.9M644.7 107.9h.9M668.6 83.5h.9M604.5 76.9h.9M638.3 40.2h.9M669.9 64.2h.9M640.7 41.5h.9M622.5 91.5h.9M612.8 38.0h.9M651.3 31.5h.9M665.0 38.1h.9M665.7 60.7h.9M618.4 76.4h.9M621.3 93.7h.9M678.7 78.2h.9M646.2 101.3h.9M650.5 49.6h.9M649.5 30.3h.9M678.0 74.8h.9M630.0 31.4h.9M604.3 75.5h.9M650.7 99.3h.9M618.8 90.9h.9M664.9 60.0h.9M603.9 60.3h.9M612.3 72.1h.9M621.8 70.6h.9M669.7 40.7h.9M678.5 75.7h.9M624.2 66.5h.9M621.4 100.0h.9M642.6 99.6h.9M638.8 42.2h.9M663.1 62.5h.9M627.1 77.2h.9M663.0 81.6h.9M654.1 79.0h.9M664.0 90.6h.9M651.0 27.2h.9M656.3 81.9h.9M658.2 56.6h.9M632.5 36.7h.9M645.7 79.3h.9M652.4 57.7h.9M642.6 84.0h.9M650.0 103.4h.9M664.2 83.0h.9M662.4 95.9h.9M631.3 104.3h.9M650.7 46.4h.9M652.3 54.7h.9M648.3 61.5h.9M625.6 32.9h.9M627.4 37.8h.9M678.1 68.7h.9M660.0 93.7h.9M653.6 56.8h.9M610.2 61.1h.9M647.7 92.0h.9M627.8 57.3h.9M623.4 68.7h.9M664.5 91.4h.9M668.9 83.7h.9M652.1 42.4h.9M645.6 80.0h.9M618.8 59.8h.9M666.9 62.5h.9M627.3 32.2h.9M660.1 83.9h.9M654.0 32.9h.9M652.1 44.5h.9M670.7 75.3h.9M605.8 51.6h.9M662.5 80.7h.9M633.6 38.1h.9M648.3 62.8h.9M651.4 73.7h.9M624.4 34.9h.9M651.4 71.3h.9M630.6 82.7h.9M654.1 91.8h.9M621.7 29.7h.9M629.4 107.5h.9M654.1 100.6h.9M628.2 89.4h.9M655.0 74.7h.9M661.6 81.5h.9M629.5 70.8h.9M660.2 74.5h.9M631.1 101.1h.9M667.3 84.2h.9M664.5 34.6h.9M632.0 43.9h.9M655.1 44.4h.9M675.0 61.1h.9M627.2 84.0h.9M659.5 70.3h.9M610.4 96.8h.9M663.7 70.5h.9M656.4 102.1h.9M619.5 84.7h.9M606.8 42.8h.9M651.5 30.1h.9M661.2 72.6h.9M648.0 69.9h.9M666.9 86.9h.9M626.8 45.2h.9M639.0 90.8h.9M604.3 74.4h.9M651.2 90.8h.9M618.9 75.6h.9M678.2 63.6h.9M632.7 29.4h.9M634.4 28.8h.9M627.7 45.2h.9M615.7 31.9h.9M669.1 63.1h.9M615.5 68.2h.9M653.8 72.3h.9M610.9 92.0h.9M647.3 32.0h.9M679.4 73.8h.9M648.4 75.5h.9M646.5 73.1h.9M668.7 39.8h.9M633.1 86.8h.9M627.6 45.1h.9M643.5 80.9h.9M618.0 45.3h.9M639.7 47.3h.9M649.3 68.5h.9M664.3 99.2h.9M629.8 79.1h.9M613.7 63.4h.9M621.8 74.1h.9M618.4 98.8h.9M605.5 50.2h.9M605.2 44.5h.9M636.3 37.5h.9M612.7 93.0h.9M630.7 29.4h.9M605.5 47.3h.9M635.2 50.3h.9M664.5 81.7h.9M605.2 70.6h.9M652.9 47.6h.9M666.2 40.7h.9M643.7 99.9h.9M674.1 81.1h.9M644.8 30.5h.9M614.0 78.5h.9M624.8 65.3h.9M619.9 58.7h.9M629.7 94.7h.9M652.9 105.4h.9M647.3 83.9h.9M646.0 29.0h.9M622.1 79.4h.9M657.3 39.6h.9M654.7 29.5h.9M623.1 43.2h.9M621.3 75.2h.9M615.7 65.4h.9M674.1 55.8h.9M604.6 64.7h.9M655.3 37.2h.9M648.4 49.3h.9M663.1 94.3h.9M616.0 97.5h.9M639.7 37.8h.9M642.2 88.4h.9M671.9 70.3h.9M661.8 96.3h.9M656.1 43.6h.9M622.2 93.2h.9M608.3 46.9h.9M601.5 51.8h.9M643.9 55.6h.9M663.9 41.7h.9M649.7 68.2h.9M618.0 60.6h.9M656.9 36.5h.9M621.9 62.6h.9M606.0 57.2h.9M660.0 35.5h.9M637.0 101.3h.9M612.2 93.7h.9M633.1 99.0h.9M655.1 91.8h.9M669.5 95.5h.9M663.8 66.5h.9M634.2 83.3h.9M668.7 70.0h.9M671.4 69.0h.9M647.9 42.6h.9M607.3 40.4h.9M615.0 63.6h.9M621.3 62.9h.9M664.5 48.8h.9M623.6 54.1h.9M647.4 98.9h.9M616.4 67.9h.9M626.3 88.6h.9M627.0 99.3h.9M614.8 91.4h.9M648.4 65.7h.9M615.7 45.0h.9M638.6 98.3h.9M622.2 47.6h.9M664.4 71.5h.9M671.0 74.8h.9M601.9 69.4h.9M676.2 71.0h.9M649.2 29.0h.9M608.6 62.8h.9M658.3 76.1h.9M669.7 47.2h.9M622.1 67.7h.9M634.0 63.5h.9M627.1 56.4h.9M630.2 62.5h.9M617.1 82.9h.9M662.8 78.7h.9M678.5 53.3h.9M663.0 35.6h.9M624.3 101.9h.9M604.0 75.5h.9M636.0 84.2h.9M648.5 80.3h.9M655.7 101.0h.9M623.5 33.1h.9M641.1 57.4h.9M619.4 85.2h.9M659.8 59.1h.9M613.1 84.0h.9M618.4 85.9h.9M610.4 63.8h.9M659.3 93.0h.9M673.1 51.3h.9M678.7 61.7h.9M666.0 78.7h.9M653.4 88.2h.9M677.2 57.5h.9M637.9 73.0h.9M607.5 85.7h.9M645.3 58.8h.9M619.5 54.6h.9M605.9 89.7h.9M620.7 81.2h.9M642.0 57.6h.9M654.1 65.4h.9M677.2 50.5h.9M640.7 39.5h.9M629.3 42.8h.9M650.0 27.8h.9M617.9 33.9h.9M656.0 54.0h.9M627.7 57.4h.9M618.8 32.1h.9M631.1 41.7h.9M618.1 47.0h.9M650.1 79.2h.9M645.7 92.8h.9M666.8 37.7h.9M671.9 43.0h.9M622.1 73.5h.9M668.0 48.8h.9M645.2 81.2h.9M618.3 44.9h.9M676.3 70.9h.9M624.7 50.6h.9M607.8 74.7h.9M656.3 59.3h.9M649.6 46.8h.9M653.3 35.8h.9M662.0 75.5h.9M658.8 67.2h.9M623.6 84.7h.9M613.5 93.0h.9M641.3 93.7h.9M608.6 54.6h.9M658.9 75.2h.9M642.6 33.3h.9M646.5 71.1h.9M649.2 65.3h.9M622.4 76.9h.9M611.2 91.5h.9M640.1 84.2h.9M650.6 41.6h.9M616.1 31.2h.9M657.1 76.2h.9M644.4 51.2h.9M632.8 45.2h.9M611.9 80.8h.9M679.1 69.5h.9M635.5 60.0h.9M653.6 39.3h.9M643.2 62.6h.9M681.1 69.8h.9M638.3 38.0h.9M637.7 101.2h.9M658.5 57.2h.9M613.0 53.9h.9M606.0 85.8h.9M637.8 80.9h.9M626.1 81.1h.9M618.6 55.6h.9M658.5 33.5h.9M604.7 46.0h.9M603.5 58.3h.9M630.7 47.4h.9M653.8 47.8h.9M666.3 90.5h.9M648.9 40.1h.9M621.2 49.2h.9M598.2 56.5h.9M650.0 48.0h.9M646.6 103.1h.9M648.6 51.5h.9M659.0 101.6h.9M661.4 62.8h.9M679.3 60.5h.9M603.7 70.3h.9M600.6 75.2h.9M606.6 57.8h.9M650.9 73.2h.9M639.2 93.1h.9M658.0 103.8h.9M641.8 81.1h.9M652.4 94.4h.9M649.9 95.1h.9M660.6 84.4h.9M640.1 88.9h.9M648.9 45.1h.9M620.2 68.2h.9M632.8 87.2h.9M631.0 67.0h.9M602.6 68.3h.9M622.0 30.5h.9M648.6 49.0h.9M647.4 72.3h.9M621.8 46.8h.9M652.9 64.3h.9M621.8 45.1h.9M660.5 66.6h.9M671.0 62.7h.9M675.4 69.2h.9M653.8 29.8h.9M674.1 58.9h.9M677.6 68.0h.9M636.4 24.4h.9M665.5 71.0h.9M638.2 49.8h.9M628.6 52.7h.9M667.8 69.8h.9M637.4 31.3h.9M655.6 101.3h.9M648.2 81.2h.9M614.7 48.2h.9M647.6 58.4h.9M650.4 96.4h.9M660.8 33.7h.9M622.3 48.3h.9M649.6 33.3h.9M666.2 86.4h.9M632.7 32.7h.9M621.9 72.0h.9M625.0 93.2h.9M638.3 56.6h.9M614.5 77.9h.9M637.2 76.1h.9M680.5 70.6h.9M616.6 56.1h.9M627.5 49.0h.9M615.7 33.9h.9M613.3 76.5h.9M627.0 38.8h.9M606.1 45.2h.9M619.6 90.0h.9M637.0 92.9h.9M633.1 102.3h.9M626.4 85.8h.9M649.6 53.8h.9M622.8 98.3h.9M645.5 37.4h.9M663.5 100.9h.9M664.1 85.2h.9M632.6 27.0h.9M647.5 69.0h.9M634.8 71.3h.9M636.4 91.4h.9M633.6 104.7h.9M624.5 91.7h.9M660.6 41.4h.9M617.6 80.0h.9M663.7 70.2h.9M650.2 88.1h.9M617.7 59.7h.9M647.1 67.4h.9M667.3 86.8h.9M617.1 58.4h.9M662.8 99.3h.9M635.9 34.2h.9M649.3 53.3h.9M616.2 66.6h.9M645.8 83.2h.9M627.5 101.3h.9M631.4 46.7h.9M607.6 65.1h.9M642.6 94.1h.9M635.9 91.9h.9M676.5 78.7h.9M657.1 42.1h.9M637.4 90.0h.9M630.4 81.6h.9M634.4 43.9h.9M656.9 71.3h.9M604.7 65.3h.9M615.7 94.4h.9M671.8 67.9h.9M604.5 74.9h.9M620.5 98.0h.9M611.3 82.2h.9M648.9 82.0h.9M623.4 96.4h.9M643.1 61.3h.9M666.5 56.5h.9M653.0 76.3h.9M640.2 101.8h.9M663.3 41.9h.9M655.7 84.3h.9M622.1 94.0h.9M611.3 88.7h.9M639.6 96.7h.9M658.3 75.8h.9M634.6 53.1h.9M676.2 52.9h.9M633.6 77.8h.9M632.0 49.1h.9M632.0 103.1h.9M635.3 75.1h.9M631.9 80.8h.9M649.1 90.3h.9M648.2 52.8h.9M642.7 58.8h.9M602.2 71.2h.9M647.9 51.3h.9M598.8 67.5h.9M638.1 57.2h.9M661.2 68.5h.9M655.9 93.7h.9M642.4 79.4h.9M658.9 88.1h.9M640.1 37.0h.9M607.0 72.8h.9M608.7 93.5h.9M664.8 58.2h.9M639.4 26.2h.9M648.0 84.1h.9M637.6 32.4h.9M662.1 81.9h.9M602.6 59.7h.9M608.7 66.5h.9M667.1 39.2h.9M649.1 79.8h.9M620.9 54.7h.9M644.6 35.8h.9M655.5 37.1h.9M652.4 44.1h.9M645.3 103.9h.9M621.8 47.2h.9M605.0 88.9h.9M615.8 33.1h.9M647.0 70.4h.9M605.5 69.6h.9M600.9 57.8h.9M648.1 69.8h.9M653.5 99.9h.9M671.2 70.4h.9M642.4 96.7h.9M642.1 44.6h.9M604.0 57.9h.9M644.1 85.7h.9M641.3 48.6h.9M615.5 58.3h.9M668.3 36.1h.9M613.9 57.1h.9M624.1 72.0h.9M651.3 42.7h.9M609.0 87.8h.9M659.1 39.8h.9M603.4 65.3h.9M625.6 102.4h.9M636.3 89.1h.9M616.4 56.3h.9M657.5 32.0h.9M665.0 70.3h.9M610.0 74.7h.9M600.7 63.4h.9M671.7 58.5h.9M641.3 106.8h.9M640.3 71.5h.9M632.8 99.2h.9M610.1 58.5h.9M612.8 60.4h.9M649.3 87.1h.9M662.8 77.2h.9M607.4 87.7h.9M620.5 88.9h.9M649.6 83.3h.9M620.5 36.6h.9M656.3 32.3h.9M639.5 93.4h.9M627.8 76.7h.9M619.5 35.8h.9M658.2 96.0h.9M640.1 101.7h.9M644.1 65.5h.9M624.5 67.1h.9M627.2 106.3h.9M665.3 83.9h.9M633.7 87.3h.9M640.0 57.1h.9M656.2 42.8h.9M662.6 71.9h.9M649.7 79.4h.9M609.2 51.0h.9M623.9 57.1h.9M643.3 107.4h.9M626.6 82.5h.9M635.8 26.8h.9M614.1 64.2h.9M661.8 69.6h.9M604.2 55.0h.9M668.9 62.6h.9M651.6 56.8h.9M661.4 34.8h.9M621.2 92.2h.9M617.7 43.0h.9M625.2 88.4h.9M630.5 29.1h.9M647.8 98.5h.9M627.7 66.3h.9M675.7 82.1h.9M642.2 98.1h.9M617.3 63.5h.9M647.6 68.0h.9M635.3 58.8h.9M624.6 63.7h.9M625.9 49.7h.9M669.2 60.3h.9M631.7 47.9h.9M673.0 50.3h.9M662.1 46.2h.9M659.4 47.7h.9M620.0 46.5h.9M619.7 73.7h.9M610.8 79.1h.9M625.8 81.9h.9M648.3 44.3h.9M631.7 37.2h.9M662.7 42.5h.9M659.2 80.0h.9M658.9 36.6h.9M622.1 85.1h.9M598.8 65.3h.9M653.7 59.1h.9M654.7 94.6h.9M614.0 67.6h.9M612.7 77.1h.9M639.2 80.9h.9M630.7 43.4h.9M625.2 54.6h.9M660.7 39.3h.9M665.9 92.3h.9M611.5 41.2h.9M662.6 99.3h.9M654.8 87.4h.9M611.1 47.7h.9M605.2 90.1h.9M641.6 36.7h.9M608.9 62.9h.9M625.5 35.1h.9M645.8 69.6h.9M620.3 100.6h.9M661.0 82.8h.9M639.4 29.8h.9M643.3 51.7h.9M668.8 66.1h.9M611.9 83.0h.9M629.0 30.8h.9M634.1 34.3h.9M607.4 56.4h.9M602.2 83.3h.9M639.3 88.5h.9M660.5 85.1h.9M652.7 29.3h.9M610.6 65.3h.9M667.6 82.3h.9M626.7 39.2h.9M599.9 80.5h.9M606.4 54.8h.9M638.9 103.6h.9M638.1 74.0h.9M617.8 50.7h.9M635.6 30.1h.9M627.3 79.1h.9M673.3 81.5h.9M606.1 43.0h.9M602.3 66.4h.9M639.8 30.6h.9M656.0 80.9h.9M653.0 61.6h.9M609.1 38.7h.9M662.3 51.8h.9M601.7 52.1h.9M611.2 86.8h.9M670.6 40.6h.9M635.8 72.3h.9M635.4 28.9h.9M648.0 31.3h.9M622.5 39.5h.9M654.5 73.8h.9M653.2 79.4h.9M626.2 27.9h.9M665.0 61.4h.9M669.1 45.3h.9M599.2 54.3h.9M659.1 63.3h.9M635.0 76.6h.9M632.7 71.1h.9M615.5 52.1h.9M661.7 35.5h.9M675.5 76.9h.9M617.2 42.6h.9M639.2 64.2h.9M660.0 68.5h.9M639.2 82.8h.9M623.0 70.9h.9M630.1 54.1h.9M642.0 73.8h.9M630.3 95.1h.9M657.6 82.9h.9M664.0 70.1h.9M619.7 77.2h.9M656.7 99.8h.9M658.6 78.3h.9M643.8 50.4h.9M623.6 82.7h.9M651.4 83.7h.9M646.8 90.2h.9M637.5 92.5h.9M619.6 61.4h.9M661.3 91.6h.9M622.5 65.6h.9M628.1 27.8h.9M601.9 52.9h.9M652.5 93.0h.9M670.9 49.3h.9M658.6 65.0h.9M660.2 57.7h.9M666.1 36.6h.9M642.4 37.6h.9M662.8 38.9h.9M677.0 62.1h.9M634.8 31.4h.9M616.6 83.8h.9M638.1 92.5h.9M628.9 64.8h.9M674.3 84.0h.9M673.0 57.0h.9M646.9 73.8h.9M676.0 55.0h.9M620.9 79.7h.9M650.1 29.1h.9M635.8 82.5h.9M639.0 72.8h.9M654.5 102.5h.9M628.1 28.2h.9M655.4 41.7h.9M641.8 106.8h.9M634.3 78.2h.9M623.4 61.9h.9M601.2 49.3h.9M598.2 66.8h.9M673.0 76.3h.9M656.3 49.0h.9M609.7 86.7h.9M639.6 67.1h.9M659.3 51.5h.9M637.4 105.5h.9M647.6 84.8h.9M639.3 51.3h.9M622.7 41.9h.9M608.0 51.3h.9M662.7 68.1h.9M671.1 87.4h.9M675.4 84.0h.9M626.0 51.9h.9M658.8 83.9h.9M600.5 65.5h.9M614.7 83.7h.9M619.4 97.2h.9M637.3 90.1h.9M619.7 33.6h.9M612.3 38.7h.9M665.5 40.2h.9M666.3 95.4h.9M613.9 58.8h.9M668.6 74.0h.9M635.7 28.7h.9M614.3 92.4h.9M670.1 67.1h.9M636.6 74.0h.9M654.7 78.5h.9M665.1 78.2h.9M603.3 74.4h.9M655.8 29.9h.9M610.2 96.9h.9M624.1 87.9h.9M621.1 29.1h.9M649.8 42.6h.9M628.7 51.8h.9M646.8 106.5h.9M633.4 54.0h.9M647.3 94.5h.9M615.0 38.2h.9M650.0 98.1h.9M609.0 91.2h.9M667.8 77.8h.9M643.3 38.6h.9M642.3 90.9h.9M607.5 55.9h.9M647.8 36.0h.9M654.2 40.4h.9M639.8 31.7h.9M626.2 93.6h.9M659.8 95.0h.9M629.3 38.3h.9M619.3 35.0h.9M652.9 53.3h.9M614.2 71.2h.9M657.1 51.6h.9M623.7 30.0h.9M665.9 84.4h.9M598.4 71.1h.9M627.5 37.2h.9M640.1 107.4h.9M675.5 66.3h.9M636.3 106.3h.9M647.2 88.1h.9M597.1 63.0h.9M644.5 44.0h.9M645.2 30.4h.9M666.1 86.0h.9M633.8 91.1h.9M652.6 68.7h.9M642.4 58.1h.9M635.3 64.4h.9M645.4 97.2h.9M612.0 82.8h.9M625.3 65.1h.9M644.7 60.4h.9M644.7 68.6h.9M646.7 35.2h.9M632.3 102.5h.9M607.3 90.8h.9M645.0 94.8h.9M643.9 102.6h.9M619.2 61.5h.9M630.1 68.7h.9M667.4 51.4h.9M639.3 90.6h.9M633.8 40.3h.9M649.7 56.8h.9M673.0 56.9h.9M628.7 28.2h.9M663.9 39.8h.9M646.7 52.9h.9M621.0 54.0h.9M628.5 51.1h.9M634.2 24.7h.9M650.4 42.7h.9M626.7 76.9h.9M602.2 75.8h.9M624.1 54.2h.9M643.2 55.4h.9M644.7 91.6h.9M645.7 61.7h.9M618.0 47.2h.9M646.7 39.6h.9M635.6 89.8h.9M608.4 73.4h.9M670.8 86.6h.9M626.8 87.9h.9M625.6 83.9h.9M668.8 50.4h.9M666.5 64.5h.9M625.5 83.1h.9M648.0 106.6h.9M651.7 81.3h.9M665.8 68.3h.9M655.4 82.5h.9M603.2 78.8h.9M625.9 98.3h.9M614.7 34.5h.9M660.9 69.5h.9M677.0 72.6h.9M630.0 99.8h.9M640.8 52.4h.9M619.6 74.6h.9M623.6 102.0h.9M649.9 92.2h.9M628.7 79.9h.9M643.8 81.0h.9M642.8 89.0h.9M619.7 94.4h.9M650.7 56.2h.9M637.8 83.2h.9M600.8 59.0h.9M645.7 87.2h.9M666.2 44.5h.9M600.7 64.0h.9M624.1 33.2h.9M605.9 62.9h.9M667.3 69.7h.9M643.6 101.7h.9M657.9 83.9h.9M658.6 97.9h.9M671.8 53.1h.9M636.6 80.5h.9M639.0 70.0h.9M640.8 100.9h.9M638.7 37.3h.9M616.0 43.0h.9M618.5 94.1h.9M635.2 37.9h.9M623.8 67.1h.9M611.8 49.6h.9M659.4 56.1h.9M666.0 53.4h.9M641.1 59.6h.9M599.5 54.8h.9M654.7 75.7h.9M642.5 108.5h.9M625.9 31.3h.9M645.0 92.1h.9M650.6 96.1h.9M656.9 75.1h.9M637.7 71.1h.9M617.2 86.4h.9M633.8 76.3h.9M655.0 58.4h.9M630.2 72.6h.9M669.5 58.3h.9M616.2 92.2h.9M618.4 102.4h.9M624.2 52.0h.9M657.0 32.2h.9M606.9 69.6h.9M641.8 62.4h.9M620.4 49.2h.9M627.7 106.7h.9M674.6 59.3h.9M670.9 80.1h.9M665.9 89.6h.9M611.6 35.7h.9M652.8 94.3h.9M645.5 80.7h.9M636.8 75.7h.9M611.3 51.0h.9M627.6 53.0h.9M651.0 27.4h.9M652.7 106.0h.9M624.2 94.5h.9M671.5 73.2h.9M628.0 76.8h.9M677.2 65.5h.9M647.6 40.3h.9M674.4 56.3h.9M632.2 39.7h.9M605.3 83.5h.9M625.2 71.2h.9M606.3 92.2h.9M615.6 40.7h.9M660.4 79.3h.9M614.1 56.1h.9M640.8 47.0h.9M613.4 50.8h.9M609.1 40.1h.9M651.6 40.1h.9M617.3 77.3h.9M610.9 71.5h.9M666.3 63.9h.9M630.7 40.3h.9M661.7 46.1h.9M620.1 36.1h.9M656.8 35.4h.9M645.6 63.6h.9M610.8 37.0h.9M663.4 60.1h.9M664.7 55.0h.9M634.3 96.5h.9M645.7 26.8h.9M640.0 75.0h.9M605.7 46.8h.9M607.6 81.1h.9M654.9 93.1h.9M660.3 50.0h.9M669.7 61.9h.9M617.7 38.4h.9M666.3 74.7h.9M613.5 35.0h.9M612.3 49.3h.9M616.8 84.4h.9M679.4 66.2h.9M633.3 70.4h.9M617.0 99.9h.9M663.9 82.5h.9M629.5 79.0h.9M621.5 97.0h.9M656.8 54.7h.9M611.7 56.5h.9M646.8 36.5h.9M625.1 27.3h.9M670.3 50.7h.9M617.6 48.0h.9M659.2 38.9h.9M628.1 34.2h.9M655.1 63.1h.9M665.0 70.6h.9M624.2 57.0h.9M631.9 53.9h.9M629.8 89.0h.9M639.2 74.8h.9M631.3 82.9h.9M631.8 49.9h.9M609.2 75.1h.9M614.2 54.8h.9M639.6 80.5h.9M606.3 40.1h.9M671.6 83.5h.9M609.3 48.3h.9M645.6 33.2h.9M663.6 93.0h.9M656.2 58.8h.9M675.2 67.9h.9M664.7 68.1h.9M620.1 65.5h.9M629.7 45.7h.9M668.3 41.4h.9M613.4 58.1h.9M631.5 105.3h.9M650.6 25.9h.9M623.3 104.3h.9M628.4 39.2h.9M608.4 74.7h.9M648.0 98.1h.9M626.4 65.3h.9M619.1 97.4h.9M617.4 35.5h.9M622.6 75.9h.9M648.7 89.3h.9M663.9 89.3h.9M678.4 79.3h.9M633.4 41.8h.9M670.9 42.8h.9M650.2 64.5h.9M656.9 40.7h.9M634.4 89.2h.9M653.9 30.1h.9M641.0 84.8h.9M651.5 62.1h.9M644.8 92.0h.9M608.5 46.2h.9M658.8 36.1h.9M618.6 80.3h.9M640.1 102.6h.9M654.5 60.7h.9M615.0 51.7h.9M671.9 44.3h.9M655.5 71.5h.9M620.3 57.5h.9M614.2 61.6h.9M623.1 77.8h.9M652.1 94.5h.9M664.5 76.9h.9M612.4 47.8h.9M633.8 63.6h.9M658.7 99.2h.9M637.1 93.1h.9M634.5 76.6h.9M650.2 97.9h.9M655.2 74.0h.9M657.7 60.2h.9M605.8 82.0h.9M638.1 55.1h.9M675.1 86.5h.9M659.9 63.7h.9M612.5 47.1h.9M624.8 63.7h.9M676.2 46.1h.9M618.9 30.6h.9M613.9 43.4h.9M656.7 53.4h.9M642.1 91.8h.9M619.8 40.7h.9M617.5 61.3h.9M649.8 97.1h.9M673.5 87.4h.9M638.3 50.3h.9M639.6 88.6h.9M627.0 26.9h.9M676.5 78.3h.9M646.1 70.1h.9M625.8 66.1h.9M667.6 47.9h.9M662.4 97.3h.9M622.3 104.8h.9M643.1 81.2h.9M610.1 69.0h.9M668.6 73.6h.9M615.0 35.8h.9M642.8 95.7h.9M645.9 61.6h.9M649.3 72.1h.9M623.8 40.9h.9M649.1 54.6h.9M612.5 52.2h.9M661.2 42.7h.9M612.4 80.2h.9M617.8 90.5h.9M639.5 61.2h.9M668.8 47.5h.9M643.8 73.2h.9M626.4 93.6h.9M627.2 77.7h.9M665.2 73.0h.9M668.7 42.6h.9M601.0 73.1h.9M676.8 53.8h.9M662.8 92.5h.9M656.2 92.2h.9M609.2 43.4h.9M629.7 72.5h.9M638.7 74.0h.9M615.6 98.4h.9M627.4 100.4h.9M636.5 38.9h.9M635.9 87.6h.9M637.9 108.1h.9M619.7 64.8h.9M618.6 72.1h.9M604.9 43.9h.9M610.9 90.1h.9M672.2 87.2h.9M679.1 57.5h.9M643.8 107.6h.9M635.7 92.7h.9M620.0 58.0h.9M647.1 35.8h.9M620.8 85.1h.9M641.2 90.9h.9M657.5 40.1h.9M602.4 82.1h.9M638.1 97.7h.9M636.6 42.0h.9M647.5 82.9h.9M602.2 77.4h.9M669.1 50.9h.9M649.0 83.6h.9M676.4 58.5h.9M644.5 77.2h.9M627.3 70.5h.9M662.0 65.7h.9M661.1 36.2h.9M660.5 44.6h.9M618.0 94.6h.9M643.4 106.5h.9M611.7 34.8h.9M615.4 97.0h.9M613.2 76.9h.9M658.7 90.8h.9M639.2 64.8h.9M647.4 58.0h.9M615.6 51.4h.9M651.4 87.3h.9M637.8 36.0h.9M640.5 69.4h.9M674.0 44.6h.9M657.6 89.3h.9M623.0 60.9h.9M655.5 96.1h.9M607.8 59.6h.9M604.1 72.5h.9M625.1 106.1h.9M653.1 42.2h.9M639.6 66.4h.9M624.7 54.3h.9M657.2 46.4h.9M642.1 45.5h.9M653.6 40.8h.9M664.0 43.9h.9M656.9 91.4h.9M632.1 73.3h.9M635.1 61.2h.9M644.6 71.0h.9M674.0 64.4h.9M662.1 80.6h.9M648.6 96.4h.9M612.9 61.4h.9M671.5 80.1h.9M615.0 32.1h.9M660.3 41.1h.9M654.6 55.1h.9M634.8 102.2h.9M633.2 47.9h.9M635.5 31.6h.9M650.0 96.6h.9M642.3 69.8h.9M625.4 54.3h.9M627.9 49.8h.9M613.3 68.9h.9M606.6 43.7h.9M665.1 90.9h.9M610.5 72.2h.9M636.4 39.7h.9M646.5 66.2h.9M657.7 73.1h.9M618.5 32.7h.9M663.4 75.7h.9M655.9 80.9h.9M602.5 48.2h.9M641.7 46.8h.9M632.7 103.8h.9M660.7 51.9h.9M662.7 56.8h.9M663.2 62.1h.9M619.1 75.5h.9M643.3 87.8h.9M625.7 84.4h.9M665.0 79.2h.9M663.8 53.0h.9M638.5 72.3h.9M631.3 91.9h.9M632.2 104.1h.9M602.6 69.6h.9M649.1 55.2h.9M628.3 50.6h.9M640.6 33.0h.9M671.5 75.2h.9M640.6 75.8h.9M659.3 78.7h.9M612.4 80.4h.9M671.7 54.0h.9M638.4 98.2h.9M617.2 40.7h.9M616.2 99.0h.9M602.6 51.5h.9M621.9 74.4h.9M660.0 33.1h.9M654.8 78.0h.9M638.2 64.2h.9M663.2 95.1h.9M672.7 88.6h.9M626.9 72.4h.9M658.6 35.4h.9M629.4 59.6h.9M598.8 68.4h.9M631.9 38.7h.9M665.4 53.1h.9M677.6 78.6h.9M649.0 65.7h.9M662.4 62.6h.9M643.4 60.7h.9M635.3 79.3h.9M640.7 70.1h.9M629.1 65.1h.9M636.8 73.4h.9M618.4 68.4h.9M659.8 56.1h.9M651.8 66.7h.9M651.5 74.3h.9M633.8 60.4h.9M622.5 65.8h.9M642.7 46.7h.9M631.0 61.5h.9M631.6 72.8h.9M607.6 77.5h.9M652.6 60.4h.9M641.0 37.6h.9M645.5 80.9h.9M636.8 67.1h.9M658.0 77.0h.9M644.1 55.0h.9M629.7 65.4h.9M615.7 65.3h.9M613.4 71.0h.9M659.3 61.7h.9M639.8 64.7h.9M664.4 60.0h.9M651.4 71.5h.9M634.1 78.7h.9M637.2 74.6h.9M650.7 58.9h.9M637.8 72.8h.9M605.4 73.4h.9M642.8 58.7h.9M641.1 78.5h.9M636.7 72.0h.9M646.1 88.2h.9M632.5 55.4h.9M641.6 76.1h.9M644.5 63.1h.9M628.8 58.4h.9M647.1 68.0h.9M650.2 80.1h.9M648.2 68.7h.9M628.2 73.4h.9M652.9 72.9h.9M635.2 74.1h.9M630.0 55.2h.9M665.1 50.8h.9M645.1 57.6h.9M635.2 72.2h.9M625.5 49.6h.9M635.3 74.8h.9M631.8 64.2h.9M632.8 66.2h.9M641.2 50.8h.9M624.7 63.0h.9M631.1 71.4h.9M658.2 59.1h.9M634.7 60.7h.9M639.0 53.4h.9M633.6 60.7h.9M636.8 66.3h.9M637.5 73.7h.9M640.5 54.9h.9M632.2 70.9h.9M643.6 75.2h.9M649.4 58.1h.9M612.4 74.0h.9M626.6 56.7h.9M650.2 80.4h.9M631.2 67.3h.9M634.9 58.0h.9M650.7 59.5h.9M652.0 55.5h.9M638.4 71.5h.9M630.7 56.8h.9M649.7 54.5h.9M635.5 70.9h.9M642.4 51.8h.9M643.4 63.7h.9M629.7 61.2h.9M645.6 77.4h.9M659.8 77.1h.9M650.1 68.7h.9M641.2 75.5h.9M632.7 58.2h.9M637.0 70.3h.9M649.7 58.0h.9M641.2 63.6h.9M659.4 68.3h.9M643.9 61.4h.9M623.0 88.9h.9M640.8 56.2h.9M641.7 72.5h.9M631.7 56.9h.9M635.9 85.1h.9M647.3 63.6h.9M643.8 54.2h.9M654.7 59.8h.9M637.3 91.0h.9M642.8 68.1h.9M654.7 51.5h.9M644.9 50.4h.9M638.4 66.8h.9M629.5 70.0h.9M641.8 54.0h.9M630.8 57.0h.9M666.6 82.0h.9M636.3 66.1h.9M651.0 43.2h.9M653.7 66.8h.9M629.4 67.0h.9M638.9 63.5h.9M628.9 48.6h.9M630.9 58.4h.9M641.8 79.1h.9M640.1 66.1h.9M637.1 56.9h.9M633.8 36.7h.9M652.5 77.0h.9M610.2 51.7h.9M642.2 65.4h.9M627.9 83.2h.9M617.5 36.4h.9M658.0 72.8h.9M661.2 88.0h.9M647.4 58.2h.9M629.2 71.7h.9M627.1 65.9h.9M654.6 54.8h.9M644.1 53.3h.9M618.3 42.8h.9M638.6 81.8h.9M634.7 74.0h.9M640.3 62.8h.9M611.8 51.7h.9M659.5 78.6h.9M656.5 51.7h.9M651.1 47.3h.9M622.9 57.9h.9M627.3 38.6h.9M627.8 80.9h.9M652.4 59.1h.9M639.5 64.8h.9M646.4 46.1h.9M630.8 73.1h.9M632.4 67.3h.9M639.3 81.6h.9M642.8 81.4h.9M635.5 69.4h.9M636.3 49.0h.9M658.5 53.8h.9M657.9 69.9h.9M655.8 67.1h.9M641.9 63.3h.9M623.4 73.7h.9M637.3 62.2h.9M637.7 76.5h.9M625.5 66.4h.9M625.2 80.4h.9M637.9 64.4h.9M629.4 87.5h.9M642.5 56.8h.9M634.3 70.9h.9M611.7 55.8h.9M626.2 58.0h.9M632.2 68.2h.9M636.9 87.8h.9M671.7 85.0h.9M640.5 76.1h.9M636.4 50.2h.9M617.1 68.2h.9M645.0 65.1h.9M643.8 75.4h.9M619.8 82.0h.9M634.3 57.7h.9M640.1 47.5h.9M640.3 64.2h.9M641.5 87.0h.9M646.0 79.6h.9M634.7 38.8h.9M624.5 65.1h.9M642.6 65.0h.9M639.2 73.1h.9M662.7 90.2h.9M627.0 48.9h.9M645.6 75.6h.9M628.5 69.4h.9M670.4 60.7h.9M627.0 63.7h.9M631.7 48.8h.9M642.6 51.6h.9M641.1 42.4h.9M644.0 63.2h.9M627.1 71.5h.9M643.8 72.4h.9M668.6 66.6h.9M630.1 54.8h.9M632.9 61.7h.9M638.0 75.0h.9M655.6 65.4h.9M652.0 70.5h.9M622.3 81.2h.9M633.0 68.7h.9M639.8 60.4h.9M624.4 63.8h.9M624.7 74.6h.9M669.5 51.4h.9M634.9 45.3h.9M655.9 56.0h.9M656.5 69.4h.9M637.7 76.7h.9M646.1 81.3h.9M633.2 61.1h.9M633.2 62.4h.9M660.7 78.2h.9M655.8 74.6h.9M628.1 63.8h.9M651.3 74.9h.9M630.5 71.7h.9M630.6 64.3h.9M630.7 69.5h.9M643.3 71.4h.9M652.8 74.5h.9M630.0 42.4h.9M657.0 65.7h.9M649.0 62.5h.9M633.1 58.5h.9M642.8 51.3h.9M617.3 57.0h.9M641.1 74.6h.9M634.1 71.3h.9M623.5 73.3h.9M648.4 84.4h.9M634.7 94.5h.9M632.3 61.9h.9M638.6 66.0h.9M625.9 59.8h.9M628.5 55.7h.9M641.7 71.0h.9M656.7 71.2h.9M651.3 65.3h.9M639.2 54.7h.9M644.3 66.6h.9M637.8 64.0h.9M640.2 70.4h.9M626.9 97.1h.9M637.8 69.4h.9M653.5 61.2h.9M652.7 45.9h.9M637.9 76.4h.9M648.8 73.5h.9M636.2 49.5h.9M645.7 53.5h.9M623.2 66.1h.9M652.4 81.6h.9M641.5 61.7h.9M611.9 47.6h.9M630.7 68.1h.9M659.0 87.6h.9M644.7 71.8h.9M639.7 76.2h.9M655.3 79.7h.9M643.5 60.1h.9M638.1 69.7h.9M636.0 54.4h.9M644.5 67.4h.9M626.3 64.6h.9M645.5 66.8h.9M656.2 89.1h.9M668.7 68.6h.9M625.7 87.1h.9M649.5 59.7h.9M636.6 67.0h.9M641.2 71.5h.9M652.8 59.0h.9M637.8 85.8h.9M655.4 72.1h.9M627.0 51.2h.9M645.1 90.3h.9M619.5 71.1h.9M624.3 68.3h.9M638.7 56.9h.9M649.8 67.8h.9M621.8 53.7h.9M637.1 61.0h.9M647.6 76.0h.9M659.2 65.5h.9M641.9 71.5h.9M647.7 54.4h.9M632.7 59.5h.9M634.1 81.0h.9M635.4 59.2h.9M645.8 53.6h.9M631.3 70.0h.9M640.1 59.0h.9M637.9 77.6h.9M620.9 52.4h.9M651.9 74.3h.9M656.8 67.1h.9M644.7 51.4h.9M633.6 75.5h.9M618.7 62.7h.9M644.7 56.1h.9M646.5 65.1h.9M652.9 78.5h.9M643.9 60.2h.9M637.9 45.8h.9M644.5 50.3h.9M650.0 68.4h.9M662.3 53.1h.9M639.6 67.7h.9M627.0 68.1h.9M636.5 63.8h.9M634.3 59.5h.9M638.4 85.1h.9M633.3 77.0h.9M624.2 69.3h.9M650.2 79.6h.9M615.6 68.2h.9M674.8 73.3h.9M642.6 71.2h.9M649.6 49.2h.9M637.5 52.2h.9M626.5 63.8h.9M624.3 64.0h.9M632.1 63.4h.9M626.1 63.5h.9M640.7 73.0h.9M629.9 80.3h.9M634.7 61.5h.9M637.8 64.4h.9M654.5 70.1h.9M642.9 56.4h.9M645.5 61.6h.9M640.4 43.3h.9M638.5 70.8h.9M646.5 46.8h.9M656.2 65.8h.9M649.3 60.3h.9M640.3 58.5h.9M646.8 64.5h.9M659.9 70.7h.9M656.0 41.3h.9M664.6 62.9h.9M637.3 85.2h.9M638.8 37.2h.9M620.9 84.5h.9M649.4 58.9h.9M617.8 66.9h.9M643.5 84.2h.9M650.9 81.9h.9M652.9 63.8h.9M631.2 85.3h.9M635.4 67.3h.9M637.9 73.3h.9M636.9 55.9h.9M628.6 68.7h.9M644.9 66.5h.9M649.7 47.8h.9M635.2 63.7h.9M604.6 70.3h.9M647.4 79.5h.9M655.2 88.6h.9M655.4 72.4h.9M627.3 72.0h.9M636.2 78.3h.9M623.0 72.5h.9M650.6 61.5h.9M655.3 73.5h.9M635.2 70.2h.9M641.1 60.8h.9M660.2 57.9h.9M641.3 50.2h.9M630.1 81.9h.9M647.3 64.3h.9M640.8 55.2h.9M635.4 67.6h.9M643.8 58.6h.9M651.0 64.9h.9M642.5 95.0h.9M653.8 85.0h.9M638.8 36.3h.9M635.4 85.1h.9M658.4 72.9h.9M637.4 68.3h.9M648.0 57.1h.9M637.8 53.2h.9M628.6 58.4h.9M631.9 58.1h.9M631.3 71.6h.9M656.8 79.7h.9M625.3 59.6h.9M636.1 71.5h.9M637.6 41.3h.9M627.0 69.6h.9M641.2 77.6h.9M638.8 60.7h.9M628.4 53.2h.9M625.7 68.1h.9M643.2 28.7h.9M618.5 63.1h.9M669.1 73.5h.9M652.1 63.9h.9M622.3 61.8h.9M628.7 65.4h.9M621.4 57.8h.9M610.6 68.5h.9M654.4 60.4h.9M635.1 69.2h.9M634.1 34.3h.9M638.6 66.6h.9M630.5 72.1h.9M646.4 73.7h.9M629.6 73.0h.9M635.0 64.4h.9M633.4 68.8h.9M630.3 51.9h.9M640.2 70.2h.9M642.6 67.0h.9M620.6 68.6h.9M658.7 60.5h.9M653.1 74.4h.9M621.6 74.8h.9M655.1 78.3h.9M629.8 53.4h.9M636.2 68.8h.9M643.7 65.5h.9M635.6 63.5h.9M630.7 67.0h.9M646.9 79.1h.9M636.6 80.0h.9M648.0 59.2h.9M650.3 54.3h.9M651.3 58.0h.9M629.9 55.4h.9M628.4 38.9h.9M642.6 59.5h.9M624.6 53.8h.9M653.0 85.1h.9M632.6 72.0h.9M631.5 50.2h.9M664.8 79.1h.9M651.6 69.6h.9M655.4 95.5h.9M634.0 52.1h.9M630.1 52.4h.9M633.1 53.0h.9M646.0 71.5h.9M630.1 68.5h.9M652.8 66.6h.9M631.3 27.2h.9M620.4 69.2h.9M645.5 78.9h.9M639.0 71.5h.9M621.6 61.1h.9M625.6 75.5h.9M653.7 79.8h.9M646.3 52.5h.9M650.9 61.0h.9M636.3 83.2h.9M640.8 61.3h.9M633.0 78.3h.9M649.4 79.1h.9M644.3 72.3h.9M619.1 47.5h.9M646.3 60.2h.9M622.3 68.1h.9M642.3 75.5h.9M658.5 90.6h.9M647.3 89.1h.9M620.4 81.9h.9M645.7 75.2h.9M630.9 77.6h.9M621.3 77.5h.9M627.1 70.7h.9M634.2 95.4h.9M631.0 52.7h.9M633.0 68.0h.9M630.0 75.3h.9M637.6 83.2h.9M636.4 87.0h.9M642.3 86.0h.9M646.0 55.4h.9M619.0 59.5h.9M633.3 53.7h.9M631.8 70.9h.9M634.6 52.7h.9M615.1 58.5h.9M639.1 73.4h.9M635.2 56.6h.9M647.8 47.6h.9M630.4 90.1h.9M631.4 70.0h.9M632.8 53.2h.9M664.9 63.2h.9M616.8 55.4h.9M630.3 67.2h.9M647.9 63.4h.9M637.1 64.3h.9M646.9 60.3h.9M628.6 74.7h.9M647.7 65.1h.9M648.0 84.6h.9M635.3 60.1h.9M637.3 72.5h.9M641.1 48.3h.9M612.9 49.0h.9M641.2 77.9h.9M645.7 67.3h.9M652.2 77.3h.9M649.3 78.5h.9M641.6 59.5h.9M636.9 60.2h.9M630.8 55.2h.9M631.9 76.1h.9M636.5 68.4h.9M628.0 58.3h.9M636.4 60.6h.9M620.2 83.3h.9M634.7 79.5h.9M636.3 61.1h.9M651.1 50.4h.9M647.2 76.1h.9M644.4 74.0h.9M644.3 80.2h.9M653.8 62.9h.9M634.5 83.8h.9M641.2 74.0h.9M640.9 76.2h.9M631.5 60.4h.9M655.4 82.7h.9M635.6 63.1h.9M636.1 72.9h.9M663.5 77.7h.9M642.2 73.5h.9M636.8 94.8h.9M648.4 70.2h.9M626.5 48.0h.9M634.7 75.0h.9M627.9 55.1h.9M638.3 71.4h.9M622.3 78.4h.9M642.0 67.9h.9M614.1 78.0h.9M640.6 36.0h.9M629.0 94.0h.9M647.0 73.4h.9M622.3 61.0h.9M635.2 79.1h.9M622.4 69.2h.9M639.0 88.7h.9M649.6 82.7h.9M654.5 63.8h.9M635.7 63.7h.9M630.9 68.5h.9M657.4 74.5h.9M647.6 78.3h.9M637.7 56.3h.9M623.7 63.7h.9M612.5 81.3h.9M633.0 57.3h.9M646.4 78.5h.9M636.4 65.5h.9M619.5 62.7h.9M653.9 53.0h.9M631.0 72.5h.9M626.9 73.6h.9M635.0 59.6h.9M638.9 78.7h.9M647.7 57.3h.9M630.7 70.6h.9M636.8 87.1h.9M639.6 59.7h.9M661.0 65.4h.9M634.6 69.4h.9M645.2 58.2h.9M627.8 65.4h.9M645.7 91.4h.9M654.2 70.2h.9M648.3 68.2h.9M635.1 68.5h.9M641.4 57.4h.9M634.9 80.9h.9M629.8 79.2h.9M647.0 79.0h.9M656.0 66.1h.9M637.0 52.1h.9M633.7 71.1h.9M647.3 58.8h.9M626.3 38.5h.9M644.8 82.4h.9M636.0 56.6h.9M640.7 57.4h.9M666.1 56.5h.9M661.9 59.4h.9M630.3 49.6h.9M629.9 56.1h.9M646.0 77.4h.9M629.9 69.5h.9M643.0 51.6h.9M639.2 44.8h.9M648.7 74.8h.9M631.1 66.2h.9M632.3 68.2h.9M647.7 64.0h.9M650.1 75.2h.9M628.4 83.6h.9M617.5 72.3h.9M639.5 69.4h.9M638.7 42.8h.9M625.8 70.1h.9M632.9 77.7h.9M654.7 67.3h.9M653.6 80.2h.9M661.0 40.1h.9M628.5 67.0h.9M637.3 60.2h.9M623.4 61.3h.9M647.4 73.9h.9M612.1 74.9h.9M634.2 57.8h.9M631.5 80.4h.9M646.2 62.4h.9M647.6 66.2h.9M651.4 60.7h.9M617.8 64.4h.9M648.0 66.3h.9M656.2 72.1h.9M647.2 81.3h.9M638.9 73.2h.9M627.1 82.2h.9M641.6 61.7h.9M631.4 81.3h.9M628.6 57.7h.9M624.7 53.2h.9M619.2 63.4h.9M646.8 52.2h.9M633.9 75.7h.9M622.1 55.9h.9M637.4 72.1h.9M634.0 63.7h.9M639.4 52.7h.9M613.5 56.7h.9M632.7 67.6h.9M635.3 67.7h.9M647.9 64.0h.9M621.9 67.4h.9M637.9 62.2h.9M639.5 67.6h.9M651.2 79.5h.9M664.8 73.3h.9M626.8 57.3h.9M651.8 51.8h.9M656.3 60.9h.9M639.8 62.1h.9M639.0 73.0h.9M658.1 45.1h.9M639.2 69.3h.9M633.3 86.4h.9M631.1 72.6h.9M638.9 78.4h.9M616.6 58.8h.9M659.5 91.7h.9M637.5 56.4h.9M625.4 83.5h.9M639.6 69.2h.9M631.6 47.0h.9M656.9 58.7h.9M638.4 70.3h.9M649.7 69.2h.9M656.9 51.6h.9M632.2 57.3h.9M657.9 58.5h.9M628.2 69.4h.9M635.4 64.8h.9M639.8 70.3h.9M649.7 50.1h.9M632.9 83.5h.9M644.0 66.0h.9M644.6 74.1h.9M643.1 76.7h.9M652.6 46.0h.9M628.7 96.6h.9M634.0 72.1h.9M642.1 65.6h.9M645.7 33.7h.9M633.3 70.2h.9M645.0 87.6h.9M649.2 73.1h.9M623.0 75.7h.9M645.9 55.7h.9M654.8 60.4h.9M631.5 59.0h.9M639.1 37.9h.9M615.7 46.5h.9M649.2 60.7h.9M639.0 72.1h.9M628.8 83.9h.9M664.3 54.4h.9M648.2 61.1h.9M617.6 68.7h.9M641.7 51.7h.9M628.4 62.1h.9M637.5 65.0h.9M631.1 61.0h.9M641.3 87.4h.9M654.7 39.3h.9M630.0 51.7h.9M628.8 71.5h.9M661.3 62.8h.9M658.4 61.7h.9M652.4 67.1h.9M657.5 44.0h.9M648.6 71.8h.9M636.2 76.2h.9M647.7 58.9h.9M632.3 54.2h.9M633.8 43.5h.9M650.4 46.2h.9M632.2 76.8h.9M619.1 57.3h.9M627.4 49.0h.9M642.4 55.9h.9M625.6 71.9h.9M642.9 56.2h.9M625.6 60.8h.9M631.0 55.3h.9M638.1 68.4h.9M646.0 51.2h.9M638.0 50.4h.9M629.0 61.5h.9M627.6 62.3h.9M630.0 64.4h.9M648.1 76.2h.9M620.1 66.9h.9M646.9 62.1h.9M630.1 55.0h.9M637.4 55.9h.9M630.3 59.7h.9M654.6 72.7h.9M637.3 57.6h.9M646.9 60.7h.9M639.3 83.4h.9M640.6 80.2h.9M641.7 92.5h.9M657.6 42.6h.9M645.9 75.0h.9M637.1 54.6h.9M648.4 73.2h.9M654.7 56.5h.9M646.9 69.2h.9M640.6 73.4h.9M642.8 72.8h.9M654.4 64.6h.9M643.1 61.2h.9M644.4 81.8h.9M655.6 63.9h.9M634.1 76.5h.9M632.6 72.3h.9M640.7 75.2h.9M641.8 63.4h.9M632.4 39.2h.9M639.1 61.2h.9M641.8 67.0h.9M648.4 49.0h.9M639.6 75.3h.9M646.9 90.5h.9M642.3 67.4h.9M644.2 83.0h.9M635.3 77.3h.9M634.0 58.5h.9M638.0 72.4h.9M654.1 65.3h.9M616.5 77.7h.9M645.0 60.4h.9M642.7 62.5h.9M629.5 66.7h.9M626.1 75.5h.9M629.3 75.6h.9M635.9 68.5h.9M630.5 53.3h.9M634.4 48.0h.9M651.4 80.1h.9M650.0 82.3h.9M656.5 62.2h.9M628.0 91.7h.9M634.8 82.0h.9M652.2 80.8h.9M636.7 60.6h.9M639.4 63.3h.9M636.4 58.0h.9M628.4 59.8h.9M625.2 64.4h.9M625.9 68.8h.9M646.0 52.1h.9M618.2 75.5h.9M627.8 52.4h.9M629.0 58.3h.9M633.1 83.4h.9M640.4 79.8h.9M647.6 56.9h.9M654.6 78.4h.9M657.4 55.3h.9M618.1 40.8h.9M658.7 78.7h.9M642.9 82.3h.9M637.5 64.5h.9M646.2 76.3h.9M638.7 77.5h.9M643.5 58.9h.9M639.9 53.2h.9M647.8 62.3h.9M652.6 81.2h.9M638.6 87.4h.9M638.8 72.1h.9M648.7 71.8h.9M631.5 67.8h.9M637.5 60.6h.9M628.8 84.2h.9M620.4 53.2h.9M624.3 72.1h.9M626.1 56.3h.9M632.4 52.3h.9M630.8 63.2h.9M647.9 55.3h.9M625.1 70.9h.9M638.1 88.0h.9M647.4 62.0h.9M645.0 82.9h.9M641.2 61.5h.9M651.1 72.7h.9M647.0 43.6h.9M634.0 71.4h.9M635.3 84.0h.9M634.8 47.6h.9M628.2 68.8h.9M653.1 59.9h.9M641.8 70.5h.9M637.8 66.4h.9M647.2 65.6h.9M650.1 88.4h.9M648.7 72.7h.9M639.3 71.5h.9M646.6 67.9h.9M646.4 75.9h.9M641.4 52.2h.9M652.2 70.7h.9M640.8 70.8h.9M637.8 66.3h.9M653.3 59.7h.9M656.2 48.5h.9M624.4 62.9h.9M634.0 85.3h.9M626.6 72.3h.9M658.7 65.5h.9M637.0 66.8h.9M630.4 64.4h.9M638.1 85.5h.9M633.0 27.3h.9M646.6 67.6h.9M647.0 77.8h.9M640.3 56.2h.9M620.5 75.0h.9M634.6 69.7h.9M633.3 63.3h.9M651.1 62.4h.9M651.1 54.3h.9M632.3 63.3h.9M634.9 58.8h.9M635.2 68.6h.9M658.9 68.5h.9M621.2 65.0h.9M642.7 72.3h.9M640.1 54.6h.9M633.3 68.6h.9M631.1 62.6h.9M637.8 77.1h.9M637.5 45.2h.9M619.5 82.4h.9M643.2 82.4h.9M661.9 83.6h.9M624.2 72.3h.9M651.8 57.1h.9M645.9 62.9h.9M654.3 87.4h.9M642.5 49.8h.9M627.0 62.6h.9M653.4 51.9h.9M637.7 44.8h.9M645.2 54.0h.9M626.9 75.1h.9M630.5 45.9h.9M612.4 87.5h.9M648.5 64.6h.9M605.2 70.9h.9M635.8 52.4h.9M617.3 72.4h.9M651.6 57.5h.9M628.7 69.6h.9M622.3 50.6h.9M634.4 51.7h.9M648.6 76.5h.9M637.7 58.8h.9M644.5 48.7h.9M652.2 62.5h.9M647.3 74.4h.9M632.5 59.3h.9M643.3 79.0h.9M638.5 75.4h.9M633.0 51.4h.9M628.6 73.7h.9M645.9 65.3h.9M641.4 82.8h.9M639.2 70.4h.9M630.2 72.6h.9M636.1 56.5h.9M661.1 64.9h.9M656.5 64.8h.9M622.5 65.5h.9M654.2 50.1h.9M629.4 40.5h.9M631.1 74.5h.9M633.6 49.5h.9M644.2 55.6h.9M614.1 66.7h.9M638.3 58.1h.9M634.2 52.4h.9M631.7 82.0h.9M620.8 51.6h.9M648.3 75.0h.9M652.3 68.0h.9M638.3 82.7h.9M633.4 64.7h.9M642.0 72.4h.9M651.0 49.5h.9M630.4 61.4h.9M622.2 61.2h.9M628.6 67.7h.9M641.7 68.7h.9M651.7 74.8h.9M634.4 62.2h.9M639.3 63.0h.9M637.3 75.1h.9M647.3 65.0h.9M650.0 50.7h.9M635.7 74.4h.9M634.6 73.3h.9M617.1 47.1h.9M644.5 39.3h.9M633.4 59.1h.9M642.9 66.7h.9M651.0 65.8h.9M638.9 64.0h.9M614.3 74.0h.9M631.4 47.0h.9M646.5 56.9h.9M647.0 68.0h.9M658.6 68.2h.9M623.7 58.7h.9M653.3 64.6h.9M644.0 54.9h.9M657.3 59.2h.9M659.0 62.5h.9M663.7 81.5h.9M650.6 62.5h.9M641.2 80.4h.9M652.1 68.0h.9M628.6 73.0h.9M637.2 64.6h.9M629.5 76.3h.9M644.6 66.6h.9M662.3 70.6h.9M648.3 45.9h.9M637.6 54.5h.9M643.3 65.2h.9M658.1 77.1h.9M633.0 85.9h.9M638.5 54.6h.9M637.0 56.4h.9M631.2 52.8h.9M638.6 71.2h.9M658.5 65.9h.9M646.4 64.4h.9M647.9 64.4h.9M626.2 62.6h.9M645.3 61.4h.9M637.3 45.2h.9M631.6 64.4h.9M642.3 78.1h.9M626.3 58.2h.9M647.5 64.2h.9M621.6 69.1h.9M642.6 58.7h.9M653.4 60.6h.9M650.8 46.9h.9M613.3 54.5h.9M634.9 60.3h.9M642.2 77.4h.9M629.6 60.9h.9M637.8 57.5h.9M635.5 41.5h.9M636.9 42.3h.9M631.2 59.5h.9M652.6 80.7h.9M628.8 61.2h.9M652.8 50.4h.9M646.1 54.0h.9M626.6 70.7h.9M656.2 72.1h.9M637.1 85.6h.9M637.6 83.9h.9M643.9 49.2h.9M643.3 64.0h.9M635.2 59.7h.9M627.2 71.1h.9M664.2 80.7h.9M633.3 81.7h.9M653.7 68.6h.9M625.3 80.1h.9M652.3 58.3h.9M648.7 66.7h.9M649.9 51.1h.9M647.2 84.2h.9M617.3 82.6h.9M642.6 83.0h.9M627.3 65.7h.9M629.6 80.6h.9M650.4 60.6h.9M648.4 55.7h.9M655.8 66.7h.9M637.3 86.2h.9M636.6 73.1h.9M651.2 58.7h.9M656.1 53.9h.9M652.8 60.3h.9M640.9 70.7h.9M639.1 77.2h.9M643.7 67.3h.9M616.2 97.1h.9M630.9 71.8h.9M635.8 51.8h.9M632.0 80.9h.9M643.5 55.1h.9M657.8 78.0h.9M636.3 71.4h.9M656.3 58.6h.9M639.4 58.3h.9M635.1 68.8h.9M638.7 72.2h.9M636.2 62.6h.9M641.8 49.8h.9M648.8 67.4h.9M614.2 83.4h.9M633.3 71.0h.9M624.2 70.9h.9M640.3 73.8h.9M637.4 67.8h.9M631.0 76.5h.9M637.5 63.7h.9M627.1 89.8h.9M628.1 61.1h.9M620.6 56.3h.9M632.2 65.4h.9M630.1 60.3h.9M639.4 62.7h.9M616.9 58.7h.9M619.8 70.6h.9M644.6 69.0h.9M644.4 65.0h.9M639.8 76.0h.9M650.1 54.2h.9M632.7 77.0h.9M641.1 75.4h.9M640.3 57.7h.9M646.2 50.3h.9M643.9 78.6h.9M629.2 60.9h.9M660.2 70.9h.9M628.5 51.3h.9M637.3 59.1h.9M650.8 77.9h.9M634.7 73.1h.9M644.7 59.6h.9M633.2 60.7h.9M618.7 63.0h.9M642.6 66.9h.9M622.5 68.1h.9M626.7 50.7h.9M635.5 69.3h.9M637.5 60.9h.9M639.6 61.0h.9M628.4 54.7h.9M633.2 58.5h.9M641.3 55.0h.9M637.9 83.4h.9M625.9 69.5h.9M654.1 71.6h.9M639.3 53.0h.9M632.4 63.5h.9M641.8 73.6h.9M641.3 55.3h.9M650.4 70.7h.9M671.1 63.1h.9M635.6 75.0h.9M627.8 57.9h.9M606.7 68.6h.9M623.4 68.8h.9M638.3 81.5h.9M627.7 52.9h.9M632.6 67.0h.9M635.2 57.7h.9M652.2 56.8h.9M644.8 60.7h.9M625.5 52.4h.9M632.5 76.8h.9M634.5 75.8h.9M643.3 58.9h.9M652.9 68.0h.9M632.1 70.1h.9M625.7 75.1h.9M660.9 75.5h.9M633.6 60.0h.9M641.5 58.4h.9M629.1 78.8h.9M653.3 74.5h.9M637.6 64.6h.9M618.2 69.1h.9M631.5 61.1h.9M635.2 91.9h.9M647.4 95.3h.9M634.1 74.7h.9M631.9 67.1h.9M649.3 76.6h.9M631.9 58.7h.9M644.3 59.0h.9M642.4 69.7h.9M633.3 72.2h.9M648.8 50.3h.9M660.7 78.5h.9M636.1 66.9h.9M636.9 79.5h.9M663.0 50.2h.9M636.9 72.0h.9M638.6 80.4h.9M634.9 58.3h.9M657.1 57.0h.9M653.2 78.7h.9M602.6 51.6h.9M640.8 67.9h.9M657.4 77.7h.9M628.1 75.2h.9M656.8 56.4h.9M618.8 48.4h.9M638.9 62.2h.9M630.1 45.9h.9M643.6 52.2h.9M627.6 59.1h.9M639.7 69.5h.9M629.6 74.8h.9M625.6 74.4h.9M638.4 60.4h.9M621.2 78.6h.9M631.8 85.3h.9M635.5 69.9h.9M636.6 62.3h.9M649.3 57.9h.9M641.8 60.3h.9M629.8 77.5h.9M646.0 60.6h.9M663.4 69.5h.9M627.6 63.7h.9M633.7 77.0h.9M654.1 45.3h.9M642.9 74.3h.9M641.6 67.5h.9M623.1 57.5h.9M642.6 52.8h.9M632.5 67.1h.9M637.4 86.3h.9M667.0 90.5h.9M625.8 70.9h.9M621.1 62.1h.9M633.5 66.0h.9M641.4 66.0h.9M639.9 68.5h.9M643.6 57.7h.9M635.9 71.9h.9M634.3 63.3h.9M634.7 71.1h.9M621.8 45.0h.9M625.0 47.7h.9M647.9 55.1h.9M641.9 61.1h.9M642.3 60.0h.9M648.5 49.4h.9M627.8 61.1h.9M657.3 50.8h.9M627.4 63.0h.9M642.2 63.8h.9M613.5 56.7h.9M620.8 41.6h.9M646.6 67.6h.9M646.4 64.8h.9M633.1 67.5h.9M643.2 75.6h.9M647.4 53.7h.9M651.5 52.9h.9M654.1 58.3h.9M654.2 65.6h.9M644.0 50.1h.9M661.5 70.3h.9M622.7 41.8h.9M652.6 45.4h.9M649.7 63.5h.9M632.1 77.3h.9M656.0 55.0h.9M643.0 79.0h.9M633.4 73.4h.9M635.9 99.4h.9M642.0 48.3h.9M633.1 66.0h.9M642.6 77.7h.9M644.3 75.6h.9M634.3 63.4h.9M638.8 65.2h.9M628.8 57.9h.9M626.9 56.5h.9M633.9 79.9h.9M638.4 78.4h.9M633.3 68.0h.9M648.4 57.1h.9M644.9 69.5h.9M621.8 68.8h.9M635.7 67.7h.9M633.3 72.3h.9M648.7 81.6h.9M639.5 51.7h.9M630.5 77.6h.9M636.8 70.2h.9M642.4 50.6h.9M637.9 59.8h.9M632.7 71.9h.9M642.8 74.0h.9M653.3 70.9h.9M637.5 78.3h.9M634.4 77.8h.9M633.7 86.8h.9M639.3 46.1h.9M617.7 46.2h.9M638.0 56.0h.9M627.7 42.8h.9M626.9 67.2h.9M657.4 81.1h.9M612.3 67.1h.9M630.4 77.6h.9M628.7 83.3h.9M655.6 52.1h.9M623.5 67.6h.9M634.0 53.5h.9M629.6 47.4h.9M639.4 75.5h.9M638.3 73.2h.9M665.6 64.6h.9M633.7 65.2h.9M656.5 77.6h.9M619.6 51.0h.9M646.5 71.6h.9M638.3 53.4h.9M607.4 51.5h.9M637.2 58.5h.9M638.7 30.1h.9M632.0 53.5h.9M608.7 65.9h.9M648.5 84.6h.9M615.4 65.3h.9M651.1 52.5h.9M631.2 62.3h.9M622.6 45.9h.9M632.5 51.4h.9M636.0 70.3h.9M658.3 76.7h.9M654.5 70.6h.9M628.8 76.3h.9M652.5 67.4h.9M635.0 84.3h.9M653.0 54.1h.9M643.0 57.3h.9M600.8 72.8h.9M641.1 65.2h.9M632.4 63.7h.9M630.5 74.2h.9M624.4 64.9h.9M630.6 72.4h.9M655.5 67.0h.9M638.7 84.7h.9M633.0 54.9h.9M645.7 65.9h.9M637.1 65.7h.9M643.9 70.3h.9M609.7 43.3h.9M652.6 68.3h.9M655.8 82.0h.9M654.4 64.2h.9M649.7 70.6h.9M640.9 59.6h.9M651.5 60.4h.9M644.4 73.5h.9M659.5 64.0h.9M636.5 70.3h.9M624.9 75.2h.9M621.1 64.1h.9M638.2 63.9h.9M624.4 71.5h.9M631.6 54.8h.9M621.5 84.5h.9M654.3 62.2h.9M620.6 50.6h.9M656.8 53.0h.9M614.7 65.1h.9M628.9 69.7h.9M620.4 46.0h.9M630.9 63.2h.9M648.6 59.3h.9M644.0 71.1h.9M641.7 69.1h.9M612.2 54.7h.9M631.7 72.7h.9M634.2 83.0h.9M624.8 87.9h.9M644.7 52.6h.9M640.0 80.1h.9M654.6 70.3h.9M620.2 88.8h.9M641.3 49.5h.9M634.6 74.1h.9M635.9 76.6h.9M632.6 63.6h.9M630.5 55.5h.9M627.5 58.2h.9M643.2 71.1h.9M635.6 70.4h.9M658.9 76.1h.9M653.1 54.6h.9M635.1 47.4h.9M610.9 63.7h.9M640.6 66.3h.9M649.0 71.3h.9M636.9 53.0h.9M637.7 78.8h.9M645.8 67.6h.9M632.4 60.0h.9M629.9 78.2h.9M636.0 68.8h.9M639.7 80.8h.9M659.4 58.6h.9M640.8 63.9h.9M609.5 55.6h.9M627.0 60.6h.9M624.9 54.9h.9M632.7 69.1h.9M657.2 54.9h.9M622.8 74.8h.9M641.4 69.3h.9M648.6 74.7h.9M616.9 77.4h.9M636.9 60.1h.9M647.9 51.8h.9M641.9 69.0h.9M647.7 67.8h.9M633.5 72.1h.9M650.1 49.0h.9M654.6 85.5h.9M652.0 79.8h.9M635.0 59.6h.9M623.3 81.1h.9M630.2 46.6h.9M651.8 77.2h.9M640.7 65.0h.9M642.8 75.0h.9M656.1 71.1h.9M648.8 86.5h.9M643.7 64.9h.9M655.1 97.3h.9M645.6 56.9h.9M635.9 51.0h.9M664.0 56.1h.9M648.7 50.6h.9M644.3 52.0h.9M646.2 74.7h.9M626.7 52.6h.9M646.2 74.5h.9M639.4 49.2h.9M618.8 77.2h.9M647.4 56.8h.9M625.2 78.3h.9M641.1 49.9h.9M639.2 94.0h.9M651.3 66.8h.9M633.7 80.3h.9M653.2 63.4h.9M643.9 62.4h.9M644.3 56.6h.9M659.4 79.1h.9M638.2 71.9h.9M659.0 70.0h.9M620.0 66.9h.9M630.4 75.3h.9M633.8 82.0h.9M616.2 43.5h.9M637.6 77.6h.9M646.5 50.8h.9M618.4 71.8h.9M642.4 76.6h.9M644.4 81.2h.9M631.2 68.0h.9M644.2 66.1h.9M631.0 70.9h.9M614.0 41.3h.9M634.2 70.1h.9M642.2 59.8h.9M643.1 74.6h.9M619.4 68.6h.9M629.6 73.1h.9M639.0 63.7h.9M654.4 68.3h.9M618.6 59.7h.9M650.0 86.1h.9M646.2 64.4h.9M632.6 64.6h.9M643.7 59.6h.9M652.6 66.8h.9M639.0 38.0h.9M626.4 69.9h.9M634.8 57.5h.9M652.2 82.3h.9M653.6 80.7h.9M670.0 74.5h.9M652.1 69.8h.9M647.5 75.5h.9M640.6 66.3h.9M640.2 57.2h.9M633.8 70.4h.9M623.5 68.2h.9M633.2 56.1h.9M647.0 75.2h.9M644.3 51.0h.9" stroke="#ff0000" stroke-width="0.9" fill="none"/>
<text class="tk" x="592.9" y="26.9" text-anchor="end">50</text>
<text class="tk" x="592.9" y="68.9" text-anchor="end">0</text>
<text class="tk" x="592.9" y="111.3" text-anchor="end">−50</text>
<text class="tk" x="597.0" y="117.5" text-anchor="middle">−50</text>
<text class="tk" x="639.6" y="117.5" text-anchor="middle">0</text>
<text class="tk" x="681.6" y="117.5" text-anchor="middle">50</text>
<text class="ax" style="font-size:8.3px" x="639.6" y="127.5" text-anchor="middle">Δ<tspan class="i">x</tspan> (nm)</text>
<text class="ax" style="font-size:8.7px" transform="translate(585.2 67.9) rotate(-90)" text-anchor="middle">Δ<tspan class="i">y</tspan> (nm)</text>
<text class="lab" style="font-size:13px" x="-1.0" y="157.7">d</text>
<text class="ttl" x="15.7" y="162.8">10% colocalization, (20 nm, 10 nm) shift</text>
<clipPath id="cd"><rect x="4.3" y="172.2" width="84.8" height="84.3"/></clipPath>
<rect x="4.40" y="172.20" width="84.60" height="84.20" fill="#fff" stroke="#333" stroke-width="0.95"/>
<g clip-path="url(#cd)">
<circle cx="12.3" cy="175.7" r="1.40" fill="#3838ff"/>
<circle cx="7.4" cy="180.0" r="1.40" fill="#3838ff"/>
<circle cx="39.2" cy="174.5" r="1.40" fill="#3838ff"/>
<circle cx="47.3" cy="178.3" r="1.40" fill="#3838ff"/>
<circle cx="71.4" cy="177.3" r="1.40" fill="#3838ff"/>
<circle cx="75.2" cy="176.5" r="1.40" fill="#3838ff"/>
<circle cx="82.4" cy="181.6" r="1.40" fill="#3838ff"/>
<circle cx="24.9" cy="185.2" r="1.40" fill="#3838ff"/>
<circle cx="54.7" cy="186.9" r="1.40" fill="#3838ff"/>
<circle cx="67.8" cy="186.5" r="1.40" fill="#3838ff"/>
<circle cx="75.2" cy="186.5" r="1.40" fill="#3838ff"/>
<circle cx="33.5" cy="192.3" r="1.40" fill="#3838ff"/>
<circle cx="46.3" cy="191.1" r="1.40" fill="#3838ff"/>
<circle cx="69.8" cy="192.3" r="1.40" fill="#3838ff"/>
<circle cx="75.2" cy="192.6" r="1.40" fill="#3838ff"/>
<circle cx="84.3" cy="193.4" r="1.40" fill="#3838ff"/>
<circle cx="56.0" cy="199.7" r="1.40" fill="#3838ff"/>
<circle cx="68.2" cy="203.3" r="1.40" fill="#3838ff"/>
<circle cx="78.8" cy="209.0" r="1.40" fill="#3838ff"/>
<circle cx="89.7" cy="176.7" r="1.40" fill="#3838ff"/>
<circle cx="20.5" cy="220.7" r="1.40" fill="#3838ff"/>
<circle cx="15.6" cy="225.4" r="1.40" fill="#3838ff"/>
<circle cx="38.7" cy="221.3" r="1.40" fill="#3838ff"/>
<circle cx="43.8" cy="222.7" r="1.40" fill="#3838ff"/>
<circle cx="57.8" cy="223.5" r="1.40" fill="#3838ff"/>
<circle cx="77.5" cy="216.1" r="1.40" fill="#3838ff"/>
<circle cx="75.9" cy="218.1" r="1.40" fill="#3838ff"/>
<circle cx="87.0" cy="229.2" r="1.40" fill="#3838ff"/>
<circle cx="10.7" cy="233.5" r="1.40" fill="#3838ff"/>
<circle cx="56.2" cy="236.3" r="1.40" fill="#3838ff"/>
<circle cx="16.4" cy="243.0" r="1.40" fill="#3838ff"/>
<circle cx="21.2" cy="245.3" r="1.40" fill="#3838ff"/>
<circle cx="53.9" cy="245.3" r="1.40" fill="#3838ff"/>
<circle cx="59.1" cy="244.5" r="1.40" fill="#3838ff"/>
<circle cx="62.1" cy="245.3" r="1.40" fill="#3838ff"/>
<circle cx="89.7" cy="256.2" r="1.40" fill="#3838ff"/>
<circle cx="21.1" cy="177.8" r="1.40" fill="#ff2a2a" fill-opacity="0.9"/>
<circle cx="21.1" cy="180.2" r="1.40" fill="#ff2a2a" fill-opacity="0.9"/>
<circle cx="31.4" cy="175.5" r="1.40" fill="#ff2a2a" fill-opacity="0.9"/>
<circle cx="30.0" cy="182.4" r="1.40" fill="#ff2a2a" fill-opacity="0.9"/>
<circle cx="26.3" cy="183.8" r="1.40" fill="#ff2a2a" fill-opacity="0.9"/>
<circle cx="62.8" cy="176.6" r="1.40" fill="#ff2a2a" fill-opacity="0.9"/>
<circle cx="65.6" cy="177.9" r="1.40" fill="#ff2a2a" fill-opacity="0.9"/>
<circle cx="83.5" cy="181.5" r="1.40" fill="#ff2a2a" fill-opacity="0.9"/>
<circle cx="68.7" cy="186.3" r="1.40" fill="#ff2a2a" fill-opacity="0.9"/>
<circle cx="55.9" cy="189.4" r="1.40" fill="#ff2a2a" fill-opacity="0.9"/>
<circle cx="76.1" cy="193.4" r="1.40" fill="#ff2a2a" fill-opacity="0.9"/>
<circle cx="11.6" cy="196.0" r="1.40" fill="#ff2a2a" fill-opacity="0.9"/>
<circle cx="53.9" cy="197.5" r="1.40" fill="#ff2a2a" fill-opacity="0.9"/>
<circle cx="72.8" cy="197.5" r="1.40" fill="#ff2a2a" fill-opacity="0.9"/>
<circle cx="76.4" cy="200.8" r="1.40" fill="#ff2a2a" fill-opacity="0.9"/>
<circle cx="18.6" cy="206.8" r="1.40" fill="#ff2a2a" fill-opacity="0.9"/>
<circle cx="7.4" cy="209.6" r="1.40" fill="#ff2a2a" fill-opacity="0.9"/>
<circle cx="33.1" cy="209.3" r="1.40" fill="#ff2a2a" fill-opacity="0.9"/>
<circle cx="71.2" cy="213.5" r="1.40" fill="#ff2a2a" fill-opacity="0.9"/>
<circle cx="12.5" cy="219.9" r="1.40" fill="#ff2a2a" fill-opacity="0.9"/>
<circle cx="10.4" cy="224.1" r="1.40" fill="#ff2a2a" fill-opacity="0.9"/>
<circle cx="45.2" cy="220.1" r="1.40" fill="#ff2a2a" fill-opacity="0.9"/>
<circle cx="72.8" cy="220.1" r="1.40" fill="#ff2a2a" fill-opacity="0.9"/>
<circle cx="63.8" cy="228.2" r="1.40" fill="#ff2a2a" fill-opacity="0.9"/>
<circle cx="72.2" cy="229.6" r="1.40" fill="#ff2a2a" fill-opacity="0.9"/>
<circle cx="86.8" cy="228.3" r="1.40" fill="#ff2a2a" fill-opacity="0.9"/>
<circle cx="42.8" cy="230.1" r="1.40" fill="#ff2a2a" fill-opacity="0.9"/>
<circle cx="10.7" cy="232.1" r="1.40" fill="#ff2a2a" fill-opacity="0.9"/>
<circle cx="25.5" cy="233.4" r="1.40" fill="#ff2a2a" fill-opacity="0.9"/>
<circle cx="57.2" cy="235.4" r="1.40" fill="#ff2a2a" fill-opacity="0.9"/>
<circle cx="11.4" cy="242.8" r="1.40" fill="#ff2a2a" fill-opacity="0.9"/>
<circle cx="11.2" cy="246.1" r="1.40" fill="#ff2a2a" fill-opacity="0.9"/>
<circle cx="40.1" cy="243.4" r="1.40" fill="#ff2a2a" fill-opacity="0.9"/>
<circle cx="9.1" cy="251.5" r="1.40" fill="#ff2a2a" fill-opacity="0.9"/>
<circle cx="10.4" cy="251.5" r="1.40" fill="#ff2a2a" fill-opacity="0.9"/>
<circle cx="50.2" cy="251.8" r="1.40" fill="#ff2a2a" fill-opacity="0.9"/>
<circle cx="64.9" cy="253.0" r="1.40" fill="#ff2a2a" fill-opacity="0.9"/>
<circle cx="73.2" cy="251.5" r="1.40" fill="#ff2a2a" fill-opacity="0.9"/>
<circle cx="87.6" cy="249.4" r="1.40" fill="#ff2a2a" fill-opacity="0.9"/>
<circle cx="4.9" cy="199.6" r="1.40" fill="#ff2a2a" fill-opacity="0.9"/>
</g>
<rect x="120.00" y="171.50" width="84.60" height="84.00" fill="none" stroke="#1a1a1a" stroke-width="1.1"/>
<path d="M162.40 171.50V255.50M120.00 213.40H204.60" stroke="#1a1a1a" stroke-width="0.9" fill="none"/>
<path d="M168.0 236.5h.9M186.7 196.6h.9M171.6 204.4h.9M142.5 241.7h.9M174.7 218.4h.9M184.5 193.4h.9M156.6 229.8h.9M129.7 207.4h.9M165.2 202.7h.9M142.8 222.2h.9M128.4 197.4h.9M151.9 204.2h.9M175.0 227.8h.9M131.0 225.5h.9M173.6 243.7h.9M172.5 210.5h.9M191.1 224.3h.9M167.9 173.2h.9M147.6 214.6h.9M185.6 202.9h.9M164.0 205.4h.9M127.9 208.8h.9M162.0 226.0h.9M165.7 239.5h.9M143.9 210.0h.9M162.5 176.5h.9M147.6 224.8h.9M146.3 196.9h.9M179.8 183.7h.9M162.8 225.3h.9M169.2 243.8h.9M170.1 198.5h.9M179.3 209.1h.9M159.6 255.5h.9M166.0 224.6h.9M181.0 204.2h.9M142.4 198.2h.9M149.6 246.9h.9M152.7 197.2h.9M165.6 228.2h.9M183.2 207.9h.9M131.6 225.7h.9M171.1 172.8h.9M154.7 244.7h.9M167.1 212.9h.9M154.7 238.4h.9M132.0 204.9h.9M149.5 249.1h.9M193.4 185.7h.9M169.8 226.9h.9M140.6 245.0h.9M196.6 205.5h.9M185.2 238.2h.9M177.5 186.2h.9M136.7 190.6h.9M147.7 194.1h.9M163.5 224.5h.9M163.0 234.9h.9M167.7 210.0h.9M184.4 243.2h.9M173.7 195.0h.9M153.5 252.9h.9M184.6 190.9h.9M132.3 194.5h.9M185.3 194.2h.9M142.7 247.7h.9M132.0 191.8h.9M147.9 219.2h.9M196.9 213.7h.9M179.3 247.7h.9M172.8 179.8h.9M126.7 197.8h.9M130.1 228.1h.9M147.2 189.0h.9M172.6 209.2h.9M150.0 196.6h.9M155.7 178.1h.9M169.2 191.7h.9M181.6 182.1h.9M191.7 189.6h.9M185.2 248.5h.9M123.6 202.2h.9M156.4 254.8h.9M165.5 233.9h.9M169.8 223.7h.9M129.0 233.6h.9M175.5 233.4h.9M188.0 183.3h.9M175.4 180.3h.9M136.6 246.8h.9M148.3 199.9h.9M170.1 192.5h.9M137.8 188.2h.9M158.8 211.0h.9M188.7 235.7h.9M133.5 200.3h.9M185.1 231.7h.9M165.1 202.5h.9M187.0 239.9h.9M166.3 222.1h.9M177.3 181.7h.9M166.0 251.1h.9M167.9 233.9h.9M171.7 251.5h.9M178.4 225.5h.9M137.1 206.1h.9M124.1 211.4h.9M161.3 173.6h.9M121.3 213.0h.9M195.0 230.4h.9M157.8 217.8h.9M175.4 249.9h.9M188.5 242.3h.9M131.0 239.2h.9M138.7 221.3h.9M165.7 198.2h.9M128.8 232.2h.9M145.7 228.5h.9M187.7 205.2h.9M201.9 212.3h.9M179.7 216.1h.9M183.1 206.2h.9M170.8 236.1h.9M135.0 240.2h.9M182.9 248.9h.9M145.3 218.2h.9M140.8 221.0h.9M168.6 176.9h.9M145.7 224.3h.9M187.5 233.8h.9M165.8 185.1h.9M196.5 230.9h.9M161.8 191.7h.9M142.9 237.2h.9M189.8 229.8h.9M165.7 221.0h.9M157.9 203.4h.9M144.3 220.7h.9M164.3 221.7h.9M188.0 216.6h.9M159.7 245.0h.9M188.0 227.1h.9M128.4 217.0h.9M138.3 235.1h.9M161.2 177.7h.9M131.3 189.3h.9M158.2 208.4h.9M172.6 215.8h.9M169.0 215.1h.9M191.1 225.4h.9M147.6 205.0h.9M190.5 221.1h.9M148.2 230.9h.9M170.0 187.2h.9M134.3 209.7h.9M187.4 193.1h.9M155.5 214.7h.9M190.5 222.4h.9M141.9 201.7h.9M139.2 191.6h.9M185.7 201.3h.9M156.1 213.0h.9M149.9 238.8h.9M189.9 227.5h.9M140.3 180.6h.9M161.9 184.3h.9M182.6 222.1h.9M167.3 209.4h.9M150.7 200.6h.9M120.9 210.4h.9M191.4 223.6h.9M129.7 237.6h.9M171.8 223.3h.9M175.7 223.2h.9M162.7 253.0h.9M164.3 222.0h.9M170.2 185.4h.9M175.6 244.8h.9M171.5 242.6h.9M147.1 182.4h.9M164.5 204.5h.9M158.7 182.3h.9M179.6 238.7h.9M150.3 248.8h.9M132.9 209.6h.9M182.5 200.8h.9M184.3 231.0h.9M179.2 212.1h.9M171.5 177.4h.9M187.3 231.2h.9M140.3 216.2h.9M142.3 184.2h.9M138.4 214.8h.9M141.2 235.2h.9M145.6 252.1h.9M122.8 225.0h.9M189.0 205.2h.9M173.6 195.2h.9M159.0 177.1h.9M121.3 204.5h.9M127.2 231.6h.9M170.6 244.8h.9M171.3 177.9h.9M194.2 186.2h.9M173.3 233.4h.9M151.3 220.7h.9M135.5 188.1h.9M198.3 195.5h.9M173.4 183.4h.9M169.1 235.5h.9M135.9 216.9h.9M165.0 213.0h.9M125.5 212.5h.9M123.3 197.4h.9M163.0 229.3h.9M188.8 195.3h.9M139.8 196.6h.9M191.1 230.2h.9M155.8 254.5h.9M139.7 244.6h.9M134.6 194.2h.9M161.9 205.3h.9M182.4 199.9h.9M153.9 190.6h.9M138.4 186.3h.9M147.4 207.5h.9M173.0 230.8h.9M149.0 207.3h.9M140.6 241.3h.9M163.0 211.6h.9M144.5 194.3h.9M184.7 223.8h.9M180.1 177.8h.9M169.5 207.1h.9M194.3 197.0h.9M190.2 212.7h.9M176.4 194.2h.9M168.5 209.4h.9M174.9 190.3h.9M127.0 191.0h.9M151.1 248.2h.9M168.8 228.7h.9M148.4 220.1h.9M186.8 194.8h.9M176.8 243.9h.9M140.8 248.2h.9M181.6 249.5h.9M163.4 252.7h.9M166.4 198.9h.9M189.5 219.3h.9M166.0 232.7h.9M146.8 184.0h.9M164.8 234.4h.9M137.4 200.4h.9M193.7 189.1h.9M147.2 229.3h.9M201.5 215.0h.9M145.1 241.8h.9M180.8 224.1h.9M173.1 180.4h.9M127.7 214.2h.9M153.5 188.4h.9M198.2 227.0h.9M183.6 183.6h.9M194.1 208.0h.9M128.0 220.9h.9M128.8 194.1h.9M169.2 182.2h.9M194.0 229.9h.9M154.4 184.8h.9M164.3 185.3h.9M150.6 236.3h.9M187.4 217.9h.9M128.4 194.7h.9M163.5 238.8h.9M191.7 202.4h.9M176.4 235.0h.9M130.4 221.2h.9M153.1 225.4h.9M154.8 211.9h.9M187.1 210.7h.9M145.5 199.3h.9M182.4 180.1h.9M177.8 179.7h.9M181.3 247.5h.9M145.0 189.4h.9M177.5 243.8h.9M165.4 250.0h.9M154.0 236.0h.9M148.4 211.5h.9M199.8 196.2h.9M178.7 250.6h.9M172.8 211.5h.9M148.9 201.6h.9M191.1 238.6h.9M162.9 247.7h.9M129.2 231.9h.9M141.8 234.9h.9M180.2 221.4h.9M164.5 231.1h.9M123.1 224.0h.9M140.4 190.9h.9M185.3 193.5h.9M178.1 242.2h.9M171.5 247.0h.9M148.6 231.1h.9M171.4 220.9h.9M201.8 205.7h.9M176.2 202.6h.9M132.6 234.9h.9M190.1 213.6h.9M184.1 223.2h.9M136.4 244.9h.9M190.0 190.8h.9M126.6 225.0h.9M145.0 228.7h.9M168.7 248.5h.9M187.3 216.1h.9M168.0 249.6h.9M122.7 217.0h.9M162.1 225.8h.9M138.9 183.3h.9M137.5 208.0h.9M153.9 215.1h.9M137.9 187.5h.9M199.8 217.9h.9M157.2 193.4h.9M140.7 240.9h.9M165.7 179.6h.9M193.5 213.9h.9M138.9 180.9h.9M133.3 235.7h.9M190.4 226.3h.9M145.2 251.6h.9M155.8 216.9h.9M191.9 197.5h.9M131.3 197.1h.9M129.3 201.5h.9M149.3 248.6h.9M132.3 210.6h.9M159.8 197.8h.9M128.8 219.8h.9M153.3 205.1h.9M178.0 248.9h.9M127.0 206.1h.9M148.3 209.5h.9M153.5 247.9h.9M142.9 217.9h.9M127.5 198.4h.9M169.4 209.1h.9M155.9 211.9h.9M179.2 233.0h.9M189.0 218.4h.9M178.2 234.8h.9M164.5 211.4h.9M162.6 214.0h.9M133.1 212.7h.9M150.0 246.2h.9M132.7 242.7h.9M124.4 212.5h.9M167.7 189.9h.9M143.6 191.1h.9M140.2 184.4h.9M164.8 237.8h.9M181.1 186.8h.9M186.3 202.4h.9M183.2 242.6h.9M148.4 235.1h.9M149.0 218.8h.9M178.9 190.6h.9M181.7 193.3h.9M146.3 240.9h.9M175.1 194.5h.9M176.7 232.5h.9M180.2 180.6h.9M135.5 239.3h.9M162.6 205.1h.9M150.5 186.0h.9M145.0 180.4h.9M172.1 211.8h.9M137.0 199.5h.9M174.1 227.1h.9M130.8 213.2h.9M171.6 188.4h.9M128.6 217.3h.9M192.8 226.8h.9M151.7 211.1h.9M136.2 210.6h.9M163.3 223.5h.9M199.6 196.4h.9M158.3 204.9h.9M147.3 202.0h.9M156.7 199.7h.9M147.4 217.9h.9M167.8 244.2h.9M144.4 202.1h.9M169.8 248.4h.9M122.9 198.6h.9M192.2 237.1h.9M151.2 192.7h.9M142.1 206.1h.9M155.5 228.5h.9M197.7 211.4h.9M171.8 222.0h.9M122.6 198.7h.9M135.6 185.9h.9M188.7 189.4h.9M195.6 189.7h.9M158.1 212.7h.9M168.5 227.8h.9M138.3 231.6h.9M191.2 231.6h.9M175.6 214.8h.9M131.2 216.3h.9M165.6 203.6h.9M186.6 222.7h.9M164.8 197.8h.9M127.2 227.5h.9M172.8 178.1h.9M190.2 239.2h.9M164.9 240.1h.9M145.2 216.0h.9M187.0 240.2h.9M150.9 238.7h.9M151.6 224.3h.9M159.3 218.5h.9M179.7 227.8h.9M135.3 193.8h.9M152.8 241.5h.9M145.6 192.2h.9M159.6 217.4h.9M131.5 219.5h.9M162.0 255.6h.9M144.8 218.9h.9M124.6 212.3h.9M172.2 206.8h.9M196.9 202.0h.9M179.4 234.7h.9M127.6 202.6h.9M195.4 218.6h.9M138.6 205.5h.9M194.0 191.7h.9M160.9 242.0h.9M144.2 175.4h.9M135.4 239.4h.9M167.5 212.0h.9M191.0 236.0h.9M174.8 183.8h.9M134.5 184.0h.9M133.7 197.1h.9M129.4 219.9h.9M192.3 226.4h.9M175.5 228.0h.9M140.8 193.0h.9M134.1 185.4h.9M160.8 230.2h.9M149.0 190.5h.9M166.4 176.3h.9M198.8 228.0h.9M161.9 231.1h.9M143.6 201.6h.9M172.5 178.5h.9M125.2 213.3h.9M142.3 203.0h.9M157.4 199.0h.9M151.2 219.2h.9M181.5 177.9h.9M158.3 172.2h.9M157.1 215.1h.9M140.0 199.0h.9M142.7 201.6h.9M148.2 237.4h.9M189.7 199.5h.9M162.7 242.7h.9M192.6 221.9h.9M187.8 230.0h.9M185.1 234.0h.9M200.4 201.9h.9M153.9 192.6h.9M177.0 202.6h.9M192.8 189.3h.9M175.2 186.9h.9M173.9 209.0h.9M194.6 228.7h.9M135.6 231.1h.9M146.5 181.2h.9M162.4 191.7h.9M201.7 212.3h.9M179.5 210.0h.9M138.9 243.5h.9M139.0 210.3h.9M145.9 177.6h.9M124.3 205.6h.9M135.6 186.5h.9M152.0 247.4h.9M126.6 225.5h.9M128.9 195.3h.9M197.9 212.5h.9M149.5 217.2h.9M179.5 232.4h.9M161.8 173.9h.9M158.6 208.1h.9M162.6 231.1h.9M182.2 180.7h.9M127.9 233.4h.9M134.6 238.6h.9M170.8 247.0h.9M186.8 233.1h.9M173.6 231.5h.9M172.0 189.9h.9M165.3 234.6h.9M139.2 229.6h.9M134.3 195.9h.9M190.2 204.9h.9M126.4 236.2h.9M127.2 196.4h.9M152.0 243.8h.9M148.9 221.7h.9M175.9 196.5h.9M157.9 227.4h.9M174.0 199.3h.9M179.2 194.4h.9M154.0 227.6h.9M177.8 223.3h.9M153.2 254.5h.9M189.2 223.7h.9M171.3 201.2h.9M194.9 192.1h.9M133.2 209.2h.9M158.8 172.5h.9M156.2 179.6h.9M175.1 181.8h.9M151.3 176.8h.9M161.1 224.9h.9M136.4 196.1h.9M123.8 213.1h.9M165.7 207.8h.9M138.5 239.5h.9M151.3 241.9h.9M150.7 197.5h.9M143.6 219.1h.9M161.1 171.5h.9M196.8 193.5h.9M182.6 178.9h.9M173.7 213.0h.9M190.5 233.7h.9M191.2 221.5h.9M167.9 204.0h.9M177.8 247.4h.9M149.3 220.1h.9M165.7 250.7h.9M148.6 223.4h.9M121.2 216.4h.9M137.9 187.0h.9M140.5 193.3h.9M181.6 232.0h.9M153.5 182.8h.9M167.7 204.6h.9M201.5 215.4h.9M153.6 176.9h.9M192.8 190.1h.9M156.6 173.4h.9M173.7 245.4h.9M169.4 245.3h.9M190.3 237.1h.9M182.8 228.6h.9M201.8 214.0h.9M152.2 195.3h.9M166.7 180.6h.9M191.2 223.6h.9M195.0 232.5h.9M121.9 218.6h.9M152.6 191.0h.9M171.4 185.2h.9M187.8 216.8h.9M146.7 231.7h.9M130.6 239.5h.9M175.3 182.2h.9M176.8 179.8h.9M146.7 205.0h.9M193.1 236.9h.9M176.7 248.4h.9M160.1 193.3h.9M181.0 205.1h.9M138.0 233.5h.9M159.6 246.4h.9M184.0 224.2h.9M136.1 244.2h.9M161.0 175.1h.9M135.0 219.0h.9M158.6 225.5h.9M168.7 194.0h.9M180.1 225.1h.9M182.4 186.8h.9M194.0 211.3h.9M151.3 173.0h.9M166.4 244.9h.9M137.7 224.5h.9M156.0 183.6h.9M143.7 180.9h.9M126.2 215.1h.9M176.5 249.7h.9M187.9 217.8h.9M150.2 243.5h.9M185.6 184.3h.9M170.8 222.6h.9M173.5 240.0h.9M153.2 246.8h.9M177.7 248.3h.9M203.4 209.1h.9M156.7 224.7h.9M120.6 210.3h.9M170.5 213.7h.9M196.8 224.9h.9M151.1 211.4h.9M168.8 224.6h.9M158.6 238.5h.9M160.5 251.8h.9M147.5 194.3h.9M161.5 216.9h.9M191.3 207.2h.9M187.7 208.1h.9M163.8 199.3h.9M162.2 210.5h.9M198.2 210.3h.9M179.9 229.7h.9M167.7 236.3h.9M166.5 241.5h.9M167.2 225.9h.9M194.5 228.7h.9M180.8 187.0h.9M142.1 212.6h.9M138.7 189.5h.9M141.8 194.5h.9M148.6 235.5h.9M143.1 190.9h.9M197.5 229.4h.9M166.4 208.3h.9M165.1 207.1h.9M179.7 229.9h.9M161.2 192.2h.9M144.3 190.9h.9M127.2 203.1h.9M157.6 242.5h.9M183.1 227.2h.9M144.7 242.4h.9M166.5 177.8h.9M186.3 246.5h.9M147.7 182.4h.9M197.0 193.2h.9M170.2 211.6h.9M180.8 245.6h.9M146.7 215.9h.9M163.1 192.4h.9M200.3 196.5h.9M202.5 220.7h.9M168.7 237.7h.9M162.9 251.5h.9M137.5 198.1h.9M167.2 196.8h.9M153.5 203.6h.9M148.0 235.1h.9M145.8 229.9h.9M186.7 193.3h.9M183.4 239.4h.9M126.8 235.9h.9M136.0 224.9h.9M139.1 242.1h.9M127.1 224.8h.9M186.3 220.1h.9M163.8 202.5h.9M150.5 244.7h.9M132.8 239.8h.9M188.8 216.6h.9M154.1 229.0h.9M164.2 198.5h.9M145.9 197.5h.9M196.1 238.1h.9M195.6 192.7h.9M166.8 254.0h.9M142.2 215.1h.9M187.0 207.5h.9M178.0 244.1h.9M168.5 197.3h.9M156.0 202.0h.9M149.0 214.7h.9M149.4 187.2h.9M180.3 240.2h.9M184.4 218.0h.9M194.8 230.6h.9M131.3 211.5h.9M167.3 238.4h.9M153.6 195.4h.9M126.6 207.2h.9M135.5 215.4h.9M126.3 197.2h.9M176.1 174.3h.9M190.2 233.3h.9M140.7 243.5h.9M145.3 191.1h.9M148.7 177.9h.9M179.5 197.9h.9M145.8 210.4h.9M144.4 183.3h.9M189.8 234.2h.9M180.0 197.2h.9M171.3 179.7h.9M138.4 246.4h.9M157.7 190.6h.9M142.4 183.0h.9M189.2 223.9h.9M165.2 188.7h.9M184.5 178.4h.9M145.2 183.5h.9M155.8 208.1h.9M125.6 212.5h.9M154.9 251.2h.9M180.2 190.2h.9M166.5 202.3h.9M193.6 232.6h.9M150.5 238.0h.9M192.4 190.6h.9M139.0 227.4h.9M176.4 237.4h.9M163.9 177.3h.9M140.1 211.8h.9M172.5 251.7h.9M158.4 192.2h.9M152.4 251.6h.9M130.4 193.4h.9M142.6 225.2h.9M136.2 238.6h.9M191.3 199.4h.9M148.5 235.0h.9M170.3 243.5h.9M168.6 197.6h.9M166.7 210.9h.9M120.8 219.6h.9M126.6 215.2h.9M126.5 202.5h.9M180.3 230.4h.9M166.4 211.5h.9M157.0 218.8h.9M175.1 232.7h.9M168.9 233.4h.9M156.7 242.8h.9M168.4 192.2h.9M172.0 174.3h.9M139.1 201.1h.9M166.8 237.3h.9M183.9 200.7h.9M181.3 206.1h.9M173.8 222.3h.9M138.6 188.6h.9M143.0 228.6h.9M186.2 224.7h.9M195.5 191.1h.9M132.1 191.7h.9M183.1 248.2h.9M175.5 182.4h.9M191.1 236.5h.9M154.4 249.3h.9M140.1 195.3h.9M176.9 250.0h.9M139.5 202.7h.9M177.3 231.0h.9M193.5 214.1h.9M134.2 230.5h.9M146.4 243.1h.9M171.0 182.0h.9M167.7 203.8h.9M130.7 191.2h.9M154.0 177.4h.9M122.0 204.1h.9M171.9 193.0h.9M151.5 231.9h.9M126.1 222.6h.9M168.2 199.7h.9M184.1 201.1h.9M125.8 234.2h.9M187.2 215.9h.9M191.4 220.7h.9M189.8 214.3h.9M129.7 195.9h.9M191.2 232.7h.9M182.7 198.1h.9M198.0 213.4h.9M185.7 192.6h.9M187.8 210.5h.9M181.1 196.0h.9M133.3 210.8h.9M176.7 237.7h.9M161.6 217.4h.9M156.8 214.4h.9M179.2 206.1h.9M140.7 241.2h.9M133.3 243.6h.9M163.2 216.7h.9M159.2 214.2h.9M146.1 187.0h.9M153.0 175.8h.9M122.7 211.1h.9M159.7 197.8h.9M185.2 217.3h.9M190.3 194.2h.9M143.2 247.1h.9M130.8 189.5h.9M141.4 199.7h.9M127.9 220.2h.9M148.5 183.5h.9M158.6 233.0h.9M133.9 236.9h.9M146.1 211.5h.9M129.6 199.6h.9M137.9 224.6h.9M157.6 250.4h.9M180.1 180.4h.9M172.6 201.1h.9M179.1 187.2h.9M130.9 188.4h.9M128.0 217.4h.9M136.7 201.2h.9M164.5 231.6h.9M152.1 227.8h.9M145.0 239.6h.9M124.9 219.2h.9M199.4 219.9h.9M199.7 206.7h.9M129.0 207.3h.9M136.0 181.1h.9M193.3 215.2h.9M150.1 184.8h.9M126.8 192.0h.9M162.2 251.2h.9M128.1 195.7h.9M177.0 192.3h.9M167.8 182.4h.9M148.3 214.7h.9M134.5 186.8h.9M142.4 223.7h.9M164.0 179.4h.9M169.5 214.5h.9M149.3 191.8h.9M150.7 202.4h.9M142.6 230.9h.9M180.5 241.4h.9M182.0 236.7h.9M152.7 216.2h.9M180.6 237.1h.9M158.8 218.4h.9M146.5 189.9h.9M124.6 210.1h.9M146.8 185.2h.9M168.3 238.5h.9M132.6 230.5h.9M130.4 218.5h.9M148.2 190.8h.9M159.7 239.8h.9M159.0 178.8h.9M149.5 182.1h.9M196.0 212.4h.9M173.8 203.6h.9M143.1 177.1h.9M144.0 178.3h.9M146.8 205.9h.9M140.5 243.5h.9M159.1 188.1h.9M180.5 180.1h.9M140.7 234.6h.9M154.7 246.3h.9M190.0 230.8h.9M128.1 213.5h.9M193.0 201.3h.9M144.0 184.5h.9M149.8 240.1h.9M137.4 195.5h.9M171.9 201.0h.9M194.0 222.9h.9M177.0 234.8h.9M161.4 203.5h.9M188.1 186.9h.9M127.8 208.8h.9M162.5 187.6h.9M127.5 215.2h.9M158.8 255.4h.9M158.5 197.7h.9M136.4 187.4h.9M130.9 242.0h.9M148.1 216.1h.9M181.9 211.5h.9M150.5 192.2h.9M189.8 182.7h.9M164.3 216.3h.9M131.8 206.5h.9M167.5 233.7h.9M160.3 197.1h.9M165.8 211.9h.9M182.5 230.5h.9M179.4 229.2h.9M139.3 224.8h.9M187.7 185.8h.9M187.1 202.1h.9M149.0 236.2h.9M131.5 218.9h.9M145.7 188.7h.9M130.1 229.6h.9M193.1 202.7h.9M169.2 186.7h.9M203.6 219.7h.9M122.8 199.7h.9M130.3 200.3h.9M199.9 217.8h.9M145.4 207.8h.9M201.2 201.6h.9M143.3 248.3h.9M131.5 215.1h.9M161.2 192.6h.9M130.9 217.6h.9M152.7 178.2h.9M154.0 243.1h.9M193.3 218.0h.9M186.2 202.6h.9M160.9 247.0h.9M186.8 241.9h.9M150.8 250.2h.9M144.0 220.6h.9M153.3 175.5h.9M136.2 191.3h.9M177.7 194.6h.9M198.5 199.1h.9M156.0 232.1h.9M174.0 203.2h.9M196.9 202.0h.9M162.9 171.6h.9M185.6 211.8h.9M137.5 231.0h.9M137.5 217.1h.9M131.1 200.9h.9M196.6 195.0h.9M122.5 217.2h.9M149.0 245.6h.9M143.4 183.4h.9M158.9 189.1h.9M137.9 200.5h.9M160.3 204.6h.9M149.6 201.7h.9M144.8 222.2h.9M194.2 204.6h.9M154.1 180.9h.9M167.6 208.3h.9M164.6 192.3h.9M174.9 246.4h.9M132.1 188.4h.9M128.5 203.1h.9M151.9 184.2h.9M168.8 215.6h.9M181.7 235.0h.9M201.4 198.3h.9M161.3 196.4h.9M143.5 204.4h.9M164.4 251.4h.9M146.4 179.2h.9M177.7 178.7h.9M179.5 191.8h.9M165.7 218.9h.9M132.6 190.2h.9M142.0 178.2h.9M133.5 200.6h.9M188.3 215.1h.9M157.2 228.6h.9M164.3 191.1h.9M172.6 184.7h.9M189.5 188.5h.9M173.3 220.9h.9M134.2 204.7h.9M160.1 218.9h.9M184.4 235.2h.9M189.4 201.7h.9M168.9 184.9h.9M144.0 202.2h.9M163.3 229.0h.9M125.2 198.4h.9M148.3 174.7h.9M190.1 199.8h.9M126.0 193.2h.9M171.7 188.6h.9M187.3 219.5h.9M179.7 231.7h.9M151.8 206.6h.9M183.1 200.9h.9M142.0 194.6h.9M197.0 219.1h.9M146.4 230.8h.9M135.7 211.4h.9M133.0 190.7h.9M171.5 185.3h.9M182.5 187.6h.9M137.8 200.5h.9M180.2 216.6h.9M187.2 222.6h.9M181.8 237.8h.9M140.3 180.7h.9M140.1 227.2h.9M168.1 199.6h.9M161.9 206.4h.9M180.6 176.0h.9M138.5 189.6h.9M198.1 200.5h.9M185.9 243.0h.9M190.3 227.4h.9M168.1 195.2h.9M147.8 187.6h.9M164.3 201.0h.9M150.8 242.8h.9M202.5 216.8h.9M186.7 225.2h.9M190.1 204.7h.9M181.8 222.7h.9M124.6 204.4h.9M184.6 180.6h.9M151.1 183.5h.9M134.3 216.7h.9M150.7 202.1h.9M135.1 232.9h.9M177.3 204.2h.9M145.4 228.5h.9M148.8 192.6h.9M174.3 230.9h.9M134.2 235.0h.9M193.0 202.1h.9M200.9 218.0h.9M170.9 177.4h.9M127.2 228.8h.9M145.7 200.2h.9M133.1 227.9h.9M187.1 183.5h.9M160.5 180.7h.9M164.6 192.0h.9M130.7 195.6h.9M144.7 195.0h.9M135.3 193.1h.9M131.6 189.6h.9M139.9 191.9h.9M172.5 240.0h.9M133.7 206.9h.9M135.6 234.6h.9M125.0 229.7h.9M133.9 223.2h.9M187.8 235.1h.9M195.1 224.6h.9M198.6 205.3h.9M151.1 206.0h.9M193.4 215.6h.9M165.8 199.5h.9M154.9 213.6h.9M150.6 201.3h.9M129.3 239.6h.9M167.7 245.6h.9M139.6 243.4h.9M164.7 181.3h.9M139.9 238.6h.9M157.2 237.9h.9M187.8 190.6h.9M145.7 228.6h.9M192.7 208.1h.9M136.0 197.5h.9M144.3 188.1h.9M170.4 201.2h.9M147.3 239.9h.9M152.8 233.6h.9M158.4 218.3h.9M140.9 243.6h.9M158.3 227.8h.9M123.0 226.7h.9M191.4 219.6h.9M141.0 228.1h.9M154.5 215.1h.9M162.3 218.3h.9M161.4 178.5h.9M195.8 223.1h.9M142.8 229.7h.9M139.7 181.3h.9M158.0 190.8h.9M144.3 188.4h.9M177.9 214.3h.9M149.8 191.4h.9M187.0 187.6h.9M181.0 233.7h.9M172.4 194.0h.9M145.5 188.3h.9M142.0 180.2h.9M178.6 185.7h.9M170.8 193.4h.9M185.4 245.6h.9M175.2 218.1h.9M198.5 210.7h.9M139.7 196.1h.9M181.6 237.0h.9M156.5 192.7h.9M183.3 210.1h.9M173.1 225.7h.9M164.8 244.5h.9M197.1 206.0h.9M161.9 217.3h.9M141.9 203.4h.9M138.9 231.8h.9M184.7 178.6h.9M146.3 187.8h.9M192.1 221.9h.9M132.7 203.4h.9M148.6 202.4h.9M181.2 237.3h.9M148.5 223.7h.9M124.2 213.0h.9M197.7 202.7h.9M152.1 249.1h.9M160.0 193.6h.9M150.3 188.2h.9M162.2 200.7h.9M134.9 195.9h.9M174.9 227.2h.9M125.2 224.3h.9M172.0 242.9h.9M180.9 219.4h.9M154.6 244.6h.9M179.2 192.8h.9M168.4 179.6h.9M201.0 205.7h.9M165.1 218.8h.9M171.5 193.8h.9M178.2 249.3h.9M164.0 198.7h.9M185.6 234.7h.9M199.4 195.9h.9M164.0 233.0h.9M197.7 231.6h.9M140.4 210.3h.9M147.4 184.9h.9M133.4 232.8h.9M172.9 217.9h.9M189.7 186.0h.9M143.9 247.4h.9M156.2 210.0h.9M184.3 232.4h.9M185.8 180.5h.9M164.7 238.3h.9M134.8 220.6h.9M143.9 229.1h.9M150.8 213.3h.9M151.5 205.4h.9M170.0 179.8h.9M150.4 232.1h.9M122.0 203.2h.9M198.0 230.9h.9M179.2 181.8h.9M188.6 199.9h.9M145.2 246.3h.9M163.6 217.8h.9M138.2 247.0h.9M120.9 205.9h.9M189.6 196.2h.9M190.1 198.5h.9M128.1 199.8h.9M163.4 214.5h.9M178.1 182.0h.9M153.1 237.8h.9M162.3 216.2h.9M172.3 239.3h.9M149.0 251.9h.9M137.5 234.8h.9M154.3 233.7h.9M132.2 210.3h.9M124.6 222.5h.9M174.3 223.8h.9M176.8 252.0h.9M176.0 204.4h.9M154.2 200.2h.9M161.3 206.5h.9M201.5 208.7h.9M194.3 205.9h.9M131.9 197.3h.9M166.3 187.0h.9M175.6 214.3h.9M155.7 188.5h.9M156.5 197.1h.9M193.6 208.7h.9M150.4 245.7h.9M192.8 215.6h.9M167.2 238.9h.9M175.4 230.3h.9M195.0 202.2h.9M176.2 202.4h.9M151.2 174.1h.9M136.1 198.3h.9M178.8 187.5h.9M200.1 205.5h.9M147.5 214.9h.9M202.3 216.4h.9M128.6 191.3h.9M173.1 190.0h.9M163.4 196.0h.9M179.7 180.1h.9M170.8 212.3h.9M140.4 243.0h.9M151.2 247.8h.9M177.2 216.3h.9M160.7 212.4h.9M172.5 203.7h.9M187.9 189.1h.9M134.3 210.4h.9M166.7 254.7h.9M175.8 206.6h.9M176.0 252.3h.9M172.6 173.3h.9M184.0 205.4h.9M168.5 205.3h.9M140.4 245.4h.9M194.2 202.4h.9M127.3 221.9h.9M179.1 218.8h.9M153.0 209.5h.9M182.9 221.0h.9M164.0 174.0h.9M160.4 218.2h.9M198.8 223.0h.9M160.4 194.9h.9M181.5 226.1h.9M187.0 233.0h.9M193.0 238.4h.9M136.2 195.5h.9M192.8 206.7h.9M154.9 177.2h.9M133.5 192.3h.9M146.7 177.6h.9M152.6 235.1h.9M137.8 246.8h.9M170.5 172.7h.9M126.4 208.1h.9M168.2 221.1h.9M144.8 233.3h.9M161.4 251.0h.9M171.4 230.9h.9M133.0 218.4h.9M157.6 237.1h.9M146.0 219.5h.9M171.4 183.0h.9M185.2 203.0h.9M124.2 219.6h.9M166.2 225.2h.9M189.1 242.8h.9M167.0 238.9h.9M127.7 202.1h.9M153.8 231.3h.9M150.0 211.1h.9M164.7 222.3h.9M153.5 193.4h.9M144.4 204.5h.9M155.0 246.3h.9M187.1 235.1h.9M175.8 251.1h.9M183.8 188.4h.9M182.7 189.6h.9M165.3 191.9h.9M160.0 205.9h.9M184.7 189.2h.9M178.2 219.3h.9M119.8 215.8h.9M195.4 203.7h.9M156.6 207.8h.9M134.5 208.0h.9M161.5 226.3h.9M162.1 214.0h.9M174.9 190.2h.9M147.3 175.4h.9M173.3 223.7h.9M123.3 197.0h.9M136.8 226.4h.9M185.0 216.8h.9M127.2 192.1h.9M182.8 202.3h.9M145.8 216.5h.9M173.0 174.5h.9M171.8 174.1h.9M147.8 178.9h.9M132.2 191.4h.9M175.5 188.0h.9M173.9 250.5h.9M188.9 212.9h.9M187.9 227.0h.9M149.9 225.2h.9M164.9 182.7h.9M197.6 211.8h.9M163.5 191.9h.9M175.7 220.8h.9M155.4 203.9h.9M144.8 189.9h.9M172.3 204.2h.9M148.7 237.4h.9M154.5 181.3h.9M159.2 203.5h.9M164.2 200.4h.9M169.2 230.9h.9M167.1 195.4h.9M193.0 217.9h.9M177.1 198.3h.9M189.7 210.2h.9M182.4 209.9h.9M158.0 194.2h.9M178.2 200.0h.9M176.5 215.1h.9M173.2 201.0h.9M164.2 187.0h.9M189.6 209.9h.9M186.0 202.7h.9M176.8 194.4h.9M180.0 187.6h.9M182.8 221.5h.9M177.1 204.8h.9M172.4 219.0h.9M201.8 205.6h.9M178.7 223.6h.9M185.5 206.1h.9M191.8 185.1h.9M171.6 213.1h.9M192.5 192.2h.9M182.7 196.3h.9M175.5 205.0h.9M179.1 229.4h.9M187.7 195.6h.9M168.5 211.0h.9M182.6 196.3h.9M179.3 210.0h.9M184.0 203.2h.9M167.6 208.4h.9M174.9 197.0h.9M164.0 214.0h.9M174.6 204.4h.9M191.3 195.7h.9M185.8 215.8h.9M175.0 187.4h.9M169.5 203.5h.9M182.6 194.0h.9M189.1 214.8h.9M192.8 211.2h.9M182.4 197.1h.9M187.3 198.6h.9M172.9 206.2h.9M190.0 210.0h.9M165.6 234.1h.9M179.3 215.1h.9M179.1 217.1h.9M174.0 209.0h.9M190.1 214.9h.9M165.2 203.5h.9M188.6 215.3h.9M184.9 204.6h.9M184.8 226.4h.9M180.1 207.8h.9M181.4 212.7h.9M177.6 230.2h.9M178.7 189.0h.9M181.2 204.0h.9M182.9 188.4h.9M171.1 222.0h.9M166.0 212.7h.9M180.0 195.3h.9M170.4 216.7h.9M189.3 192.4h.9M169.9 196.1h.9M176.7 210.6h.9M177.4 214.9h.9M159.0 221.5h.9M170.0 201.5h.9M183.4 195.0h.9M169.6 205.4h.9M161.9 216.5h.9M190.8 206.6h.9M200.8 197.1h.9M173.2 213.2h.9M154.5 189.7h.9M166.5 225.8h.9M174.2 205.4h.9M161.5 196.9h.9M190.2 216.6h.9M175.8 221.6h.9M190.6 215.6h.9M165.4 228.2h.9M166.7 225.5h.9M191.2 197.6h.9M164.2 215.6h.9M177.8 203.8h.9M166.2 189.2h.9M186.2 181.3h.9M145.9 223.8h.9M187.2 202.5h.9M175.3 218.8h.9M184.6 211.2h.9M194.8 192.0h.9M189.6 227.0h.9M182.5 184.3h.9M192.3 214.2h.9M183.8 198.9h.9M177.0 202.8h.9M175.1 199.4h.9M176.7 223.1h.9M171.4 200.2h.9M181.3 187.7h.9M190.2 189.6h.9M178.2 192.3h.9M170.4 213.0h.9M189.4 202.1h.9M169.4 193.7h.9M196.1 195.9h.9M194.4 194.0h.9M189.8 214.6h.9M156.6 209.1h.9M140.2 211.7h.9M165.5 203.7h.9M170.2 205.1h.9M168.1 208.1h.9M196.5 217.4h.9M157.9 188.3h.9M187.9 205.5h.9M173.9 201.5h.9M174.3 193.6h.9M175.1 212.6h.9M185.2 214.7h.9M185.3 219.2h.9M172.2 203.0h.9M170.3 193.4h.9M177.6 202.6h.9M155.3 198.5h.9M179.7 228.7h.9M181.6 201.2h.9M170.2 218.2h.9M161.9 204.9h.9M179.0 207.7h.9M202.6 205.5h.9M180.5 224.1h.9M182.2 194.1h.9M168.0 180.3h.9M171.9 203.5h.9M174.2 209.8h.9M144.4 195.0h.9M152.5 190.4h.9M165.4 211.5h.9M175.9 220.1h.9M176.3 200.4h.9M197.2 236.4h.9M177.7 198.1h.9M189.2 214.4h.9M179.6 183.0h.9M183.0 180.1h.9M164.2 213.7h.9M179.0 217.4h.9M186.3 218.5h.9M182.6 223.1h.9M168.5 202.2h.9M185.7 216.6h.9M160.7 198.6h.9M166.7 200.5h.9M194.1 197.5h.9M160.5 190.4h.9M191.9 212.2h.9M173.6 188.2h.9M182.5 200.0h.9M191.7 198.7h.9M180.6 203.5h.9M175.3 190.5h.9M164.7 194.4h.9M171.8 226.9h.9M190.6 199.8h.9M182.3 208.6h.9M178.7 212.4h.9M194.9 188.5h.9M178.4 204.7h.9M182.4 194.0h.9M181.7 210.2h.9M176.3 201.4h.9M177.3 209.3h.9M193.8 199.7h.9M190.0 215.2h.9M189.1 204.3h.9M176.1 212.8h.9M171.6 210.2h.9M180.6 205.6h.9M182.1 205.7h.9M169.7 214.2h.9M183.5 222.7h.9M161.6 190.1h.9M192.4 191.1h.9M187.3 185.0h.9M169.7 210.0h.9M186.5 203.9h.9M162.3 194.8h.9M191.5 207.0h.9M183.8 193.1h.9M154.2 211.1h.9M168.9 206.2h.9M164.6 219.6h.9M181.9 182.8h.9M164.6 185.4h.9M190.7 192.5h.9M195.0 209.5h.9M192.7 222.4h.9M169.9 200.5h.9M188.5 220.8h.9M156.7 199.6h.9M182.8 196.2h.9M178.5 220.0h.9M192.8 195.2h.9M181.4 178.6h.9M182.2 186.5h.9M177.8 239.0h.9M165.6 237.1h.9M176.6 190.4h.9M159.1 195.8h.9M176.1 193.6h.9M183.9 216.3h.9M186.3 204.8h.9M177.1 184.9h.9M178.3 197.1h.9M181.7 212.3h.9M181.0 209.6h.9M186.2 216.9h.9M168.0 194.0h.9M185.9 197.6h.9M186.2 191.9h.9M185.2 193.3h.9M170.3 198.1h.9M170.8 219.0h.9M176.9 196.6h.9M179.8 183.0h.9M187.6 199.2h.9M180.9 220.2h.9M180.2 203.9h.9M200.3 213.6h.9M178.1 212.8h.9M181.4 224.7h.9M183.1 204.0h.9M178.6 198.4h.9M179.4 191.3h.9M183.6 219.3h.9M184.7 223.9h.9M169.1 211.3h.9M166.4 204.2h.9M175.2 213.1h.9M184.0 213.0h.9M194.9 196.7h.9M174.4 199.0h.9M171.4 211.8h.9M191.7 223.3h.9M185.0 181.4h.9M153.0 175.7h.9M156.5 231.2h.9M154.2 218.3h.9M172.3 227.2h.9M177.0 194.7h.9M170.0 203.0h.9M186.7 183.7h.9M178.3 195.9h.9M185.5 203.8h.9M175.2 200.1h.9M187.6 220.3h.9M174.8 200.4h.9M182.9 200.5h.9M164.2 185.4h.9M170.8 214.5h.9M192.3 208.5h.9M158.9 197.1h.9M184.7 198.1h.9M162.3 194.9h.9M171.8 193.7h.9M164.2 216.2h.9M155.5 214.0h.9M192.0 201.8h.9M172.3 188.1h.9M181.7 195.3h.9M183.3 205.9h.9M180.8 199.4h.9M192.8 197.4h.9M189.8 218.1h.9M156.4 200.8h.9M181.0 199.4h.9M167.0 203.0h.9M166.3 203.7h.9M178.2 206.8h.9M182.8 210.8h.9M178.8 196.3h.9M197.3 199.8h.9M189.0 197.7h.9M171.4 196.4h.9M182.7 185.6h.9M149.5 212.5h.9M158.1 188.1h.9M182.5 196.7h.9M184.1 201.3h.9M184.1 209.7h.9M154.4 200.8h.9M178.4 211.5h.9M171.8 188.9h.9M170.1 217.5h.9M187.1 187.0h.9M163.4 216.7h.9M166.4 200.1h.9M185.8 187.7h.9M178.4 207.8h.9M171.8 191.1h.9M171.8 214.8h.9M176.3 205.1h.9M183.8 212.4h.9M165.4 203.1h.9M166.8 208.2h.9M164.1 208.2h.9M182.2 202.8h.9M162.8 229.0h.9M156.6 190.1h.9M176.8 204.0h.9M196.5 216.9h.9M184.0 213.0h.9M181.2 227.6h.9M174.1 205.7h.9M180.3 222.2h.9M176.0 194.2h.9M177.8 194.5h.9M186.9 201.9h.9M174.5 204.0h.9M167.7 196.8h.9M182.8 190.5h.9M185.8 202.5h.9M189.2 188.2h.9M175.5 220.2h.9M162.5 192.8h.9M184.6 198.4h.9M158.6 211.7h.9M160.1 218.7h.9M172.0 213.2h.9M198.1 220.2h.9M171.4 214.0h.9M179.8 196.0h.9M169.2 225.1h.9M173.7 200.1h.9M165.8 193.1h.9M166.6 212.7h.9M173.4 181.7h.9M188.4 200.6h.9M166.7 218.4h.9M170.4 185.5h.9M194.7 203.1h.9M170.4 226.2h.9M173.4 198.6h.9M185.6 200.2h.9M170.4 198.7h.9M177.0 194.3h.9M182.0 195.6h.9M182.9 210.6h.9M193.2 217.5h.9M187.0 210.2h.9M174.5 201.6h.9M172.6 217.2h.9M167.7 218.5h.9M179.2 201.1h.9M177.9 223.7h.9M180.5 193.5h.9M165.2 215.7h.9M190.0 206.9h.9M191.9 208.9h.9M161.6 205.4h.9M178.3 201.3h.9M168.7 210.4h.9M203.5 211.6h.9M198.0 218.4h.9M181.7 200.4h.9M189.4 204.9h.9M171.1 203.6h.9M161.1 234.9h.9M160.3 186.0h.9M189.0 182.6h.9M184.9 222.5h.9M167.0 201.1h.9M168.9 216.3h.9M165.9 214.0h.9M156.0 199.8h.9M170.3 189.7h.9M198.8 205.7h.9M191.5 191.7h.9M181.4 207.0h.9M194.3 196.9h.9M176.7 210.9h.9M179.0 193.6h.9M187.2 212.0h.9M177.1 202.9h.9M174.0 205.9h.9M167.2 214.5h.9M182.4 202.0h.9M175.3 179.0h.9M176.9 196.5h.9M182.3 210.5h.9M187.1 191.7h.9M179.1 198.9h.9M176.6 198.0h.9M179.0 214.5h.9M173.2 207.5h.9M175.8 204.2h.9M197.9 202.1h.9M174.6 196.5h.9M186.7 217.5h.9M171.8 217.8h.9M183.0 194.5h.9M176.4 190.1h.9M172.3 208.5h.9M178.3 202.6h.9M198.8 217.9h.9M185.8 203.8h.9M193.1 220.5h.9M165.4 184.5h.9M194.0 191.9h.9M177.7 192.1h.9M179.2 217.6h.9M177.5 207.8h.9M166.8 211.5h.9M170.9 198.5h.9M190.6 191.5h.9M192.1 217.3h.9M185.9 195.1h.9M184.0 215.9h.9M144.6 202.9h.9M169.3 194.1h.9M161.6 198.3h.9M173.9 220.5h.9M173.7 206.5h.9M188.9 195.3h.9M193.7 195.8h.9M173.6 210.0h.9M180.9 208.9h.9M159.5 229.2h.9M188.0 203.4h.9M202.4 210.8h.9M191.3 203.0h.9M184.8 204.0h.9M192.1 198.7h.9M173.4 206.0h.9M176.3 203.8h.9M181.7 209.9h.9M172.2 204.9h.9M158.0 200.0h.9M183.4 241.6h.9M166.0 205.1h.9M152.3 199.6h.9M190.6 199.2h.9M190.1 206.1h.9M189.1 196.6h.9M177.4 203.8h.9M159.2 220.9h.9M190.9 192.6h.9M169.2 223.0h.9M155.4 191.2h.9M183.0 182.2h.9M188.8 211.5h.9M174.9 191.7h.9M162.0 198.2h.9M174.0 189.6h.9M172.3 213.6h.9M190.2 243.1h.9M191.5 201.5h.9M171.8 197.1h.9M173.1 197.5h.9M179.9 196.0h.9M167.5 213.0h.9M200.7 201.3h.9M176.7 215.7h.9M172.6 202.2h.9M164.4 205.5h.9M175.7 228.3h.9M178.9 190.5h.9M173.6 207.5h.9M181.9 212.2h.9M158.1 204.6h.9M173.5 212.7h.9M195.3 203.7h.9M169.9 213.2h.9M197.7 195.4h.9M157.7 197.8h.9M172.9 211.9h.9M192.1 196.5h.9M168.7 205.2h.9M186.4 206.4h.9M183.7 213.3h.9M194.1 187.8h.9M171.0 221.9h.9M173.2 194.7h.9M181.3 205.7h.9M181.0 222.6h.9M178.3 206.2h.9M171.3 195.6h.9M171.0 212.6h.9M187.1 197.5h.9M179.7 202.2h.9M183.5 201.0h.9M167.2 195.1h.9M175.7 191.0h.9M186.3 213.9h.9M177.7 211.8h.9M191.0 220.6h.9M193.7 213.0h.9M182.4 210.1h.9M183.4 191.2h.9M186.3 219.4h.9M175.8 203.4h.9M201.2 211.0h.9M174.1 214.2h.9M178.2 197.1h.9M167.1 188.3h.9M193.8 195.4h.9M166.3 211.5h.9M182.6 207.0h.9M167.7 216.2h.9M176.3 201.7h.9M184.7 197.9h.9M179.7 204.6h.9M186.1 212.5h.9M163.0 195.0h.9M154.1 198.3h.9M194.0 219.8h.9M152.3 215.1h.9M182.5 216.5h.9M191.1 197.3h.9M167.0 195.8h.9M161.7 210.4h.9M181.5 189.2h.9M188.2 187.1h.9M168.3 201.7h.9M197.5 198.8h.9M193.2 219.6h.9M165.4 210.3h.9M172.1 203.7h.9M174.9 218.9h.9M181.5 221.8h.9M170.5 201.2h.9M168.1 205.2h.9M186.6 187.3h.9M193.2 194.4h.9M184.7 220.0h.9M168.6 215.5h.9M172.3 206.7h.9M167.4 210.3h.9M192.1 210.3h.9M155.6 208.5h.9M177.0 209.4h.9M199.0 212.4h.9M187.8 202.1h.9M177.7 215.1h.9M181.3 228.3h.9M196.4 230.2h.9M180.9 214.1h.9M171.3 208.4h.9M192.6 196.5h.9M168.6 198.5h.9M180.5 180.9h.9M161.1 206.6h.9M167.3 205.6h.9M154.4 216.3h.9M177.2 212.4h.9M168.0 206.8h.9M171.8 216.4h.9M175.6 205.0h.9M182.4 226.0h.9M173.6 191.3h.9M161.3 203.8h.9M172.6 192.4h.9M193.0 202.2h.9M172.5 224.1h.9M172.2 215.3h.9M178.9 187.0h.9M201.0 201.7h.9M180.0 206.9h.9M182.0 207.7h.9M199.3 214.2h.9M179.9 212.6h.9M189.7 183.9h.9M186.4 202.9h.9M179.2 198.4h.9M173.1 185.7h.9M188.3 209.8h.9M200.3 221.3h.9M170.2 180.0h.9M174.0 214.5h.9M159.4 192.7h.9M192.9 202.4h.9M159.8 205.9h.9M169.7 194.2h.9M196.2 199.6h.9M184.0 186.6h.9M199.0 218.7h.9M184.4 218.5h.9M170.1 191.3h.9M166.1 206.6h.9M193.8 199.2h.9M159.9 205.8h.9M176.5 215.2h.9M179.9 192.4h.9M181.2 219.9h.9M179.4 199.4h.9M181.3 192.0h.9M189.7 198.3h.9M177.6 203.8h.9M202.2 223.6h.9M192.8 199.0h.9M171.5 204.3h.9M186.7 220.6h.9M181.6 197.4h.9M169.2 202.6h.9M196.0 201.8h.9M169.7 222.7h.9M159.1 192.6h.9M177.4 205.2h.9M177.2 212.7h.9M200.2 196.0h.9M197.1 218.1h.9M186.7 196.4h.9M166.5 214.2h.9M170.2 192.2h.9M182.3 212.4h.9M187.9 211.8h.9M181.2 204.9h.9M169.8 193.0h.9M180.3 230.7h.9M177.5 186.6h.9M153.6 193.5h.9M182.4 218.3h.9M179.5 217.3h.9M161.9 199.6h.9M183.0 225.1h.9M173.5 203.8h.9M161.4 191.5h.9M171.1 199.5h.9M187.2 215.1h.9M183.7 202.7h.9M184.4 209.2h.9M191.0 195.8h.9M197.6 191.7h.9M163.9 210.7h.9M184.7 192.5h.9M171.6 204.0h.9M183.3 205.3h.9M191.4 215.6h.9M185.6 213.3h.9M184.7 214.9h.9M176.4 193.3h.9M168.6 203.2h.9M187.1 205.4h.9M176.6 204.0h.9M169.4 195.3h.9M188.1 184.0h.9M183.0 191.5h.9M173.9 198.5h.9M169.1 201.3h.9M176.0 193.0h.9M156.2 206.0h.9M176.2 196.4h.9M171.4 209.0h.9M194.3 211.3h.9M175.2 190.9h.9M155.4 199.4h.9M183.7 201.1h.9M159.1 220.5h.9M170.1 214.0h.9M187.4 209.2h.9M196.1 204.4h.9M186.8 211.8h.9M172.8 199.1h.9M189.8 211.7h.9M194.5 206.9h.9M197.8 218.3h.9M175.7 196.6h.9M178.9 210.7h.9M187.2 193.2h.9M175.1 195.2h.9M174.8 213.2h.9M194.5 210.6h.9M174.1 195.3h.9M168.4 214.9h.9M176.7 203.0h.9M190.4 206.3h.9M172.2 218.9h.9M176.0 209.4h.9M192.4 222.7h.9M159.2 225.6h.9M176.9 199.1h.9M198.3 222.8h.9M181.4 211.3h.9M198.3 200.2h.9M197.1 204.5h.9M191.9 200.1h.9M172.2 193.4h.9M176.0 230.2h.9M178.3 218.4h.9M185.6 186.5h.9M183.0 197.8h.9M165.3 213.4h.9M172.7 181.6h.9M174.7 201.1h.9M158.3 210.1h.9M180.9 205.9h.9M176.1 199.3h.9M185.1 218.3h.9M164.0 197.9h.9M188.8 220.1h.9M187.3 220.6h.9M177.5 189.6h.9M160.5 204.5h.9M176.9 217.6h.9M188.2 215.3h.9M171.6 217.3h.9M184.4 198.0h.9M195.2 207.3h.9M169.7 187.1h.9M172.1 196.6h.9M198.1 195.3h.9M158.1 216.7h.9M170.1 194.8h.9M170.1 195.6h.9M181.7 202.7h.9M178.9 213.4h.9M195.1 203.2h.9M196.7 215.3h.9M159.3 188.3h.9M165.4 203.4h.9M174.7 206.6h.9M175.1 217.6h.9M165.0 202.4h.9M170.6 184.7h.9M179.8 188.5h.9M173.3 195.6h.9M171.9 216.0h.9M176.0 207.3h.9M171.1 196.7h.9M176.9 203.3h.9M187.8 206.7h.9M170.4 221.0h.9M177.9 198.7h.9M181.2 191.3h.9M173.9 201.8h.9M168.9 227.6h.9M185.5 210.6h.9M186.2 212.4h.9M160.6 215.8h.9M175.1 213.2h.9M175.3 198.7h.9M178.4 199.7h.9M176.8 213.2h.9M167.1 231.0h.9M185.5 192.3h.9M166.9 216.4h.9M168.5 201.3h.9M179.6 208.0h.9M177.9 224.8h.9M177.0 207.5h.9M184.2 213.7h.9M172.3 202.8h.9M202.4 216.1h.9M179.2 216.2h.9M194.5 203.7h.9M180.9 193.2h.9M193.9 212.9h.9M181.5 210.9h.9M192.2 229.8h.9M154.3 201.8h.9M168.8 204.8h.9M180.1 192.6h.9M157.2 200.5h.9M192.2 220.4h.9M187.4 195.6h.9M172.4 227.6h.9M180.5 210.7h.9M197.0 207.8h.9M187.0 201.0h.9M181.0 219.6h.9M170.2 203.9h.9M177.8 206.3h.9M187.8 204.5h.9M187.1 204.0h.9M183.1 211.2h.9M161.1 195.1h.9M188.9 197.5h.9M169.3 192.2h.9M179.9 203.1h.9M170.9 210.8h.9M171.3 200.8h.9M170.7 205.4h.9M172.3 220.1h.9M179.3 203.6h.9M179.6 239.7h.9M190.8 205.2h.9M167.5 182.7h.9M179.0 196.4h.9M180.2 232.2h.9M192.7 218.4h.9M191.4 206.6h.9M168.6 233.8h.9M173.2 216.9h.9M179.1 218.0h.9M187.1 211.3h.9M173.4 181.9h.9M187.9 212.7h.9M183.0 224.0h.9M169.9 207.2h.9M170.0 216.9h.9M186.2 212.2h.9M169.2 212.2h.9M171.0 196.0h.9M182.0 222.7h.9M194.2 192.6h.9M175.3 216.7h.9M178.9 211.9h.9M184.6 205.7h.9M193.4 224.1h.9M171.4 201.9h.9M172.8 210.1h.9M165.2 183.0h.9M176.5 197.1h.9M169.5 210.6h.9M177.7 186.1h.9M176.1 213.3h.9M193.8 213.5h.9M184.8 212.3h.9M166.4 204.5h.9M168.2 208.8h.9M188.7 207.5h.9M190.2 210.4h.9M182.6 216.9h.9M193.8 228.8h.9M181.9 198.8h.9M148.4 224.2h.9M160.9 206.2h.9M175.5 209.2h.9M185.6 178.9h.9M166.8 201.1h.9M179.1 192.7h.9M153.9 224.0h.9M166.1 217.8h.9M181.3 210.8h.9M155.2 213.9h.9M159.8 214.2h.9M176.2 214.4h.9M184.2 223.2h.9M176.3 201.0h.9M191.2 203.0h.9M193.0 198.9h.9M171.4 211.0h.9M175.5 213.3h.9M193.6 201.6h.9M176.2 196.0h.9M179.3 193.3h.9M197.2 203.4h.9M171.7 219.0h.9M198.9 200.9h.9M171.5 206.5h.9M165.3 189.8h.9M182.0 209.6h.9M161.4 180.9h.9M179.8 231.1h.9M171.8 205.7h.9M180.2 218.0h.9M191.7 198.6h.9M178.9 213.0h.9M157.8 210.7h.9M176.0 219.1h.9M181.8 196.2h.9M172.9 210.1h.9M178.2 186.2h.9M194.9 224.6h.9M172.7 175.9h.9M174.6 185.1h.9M184.2 190.8h.9M174.3 204.4h.9M184.7 205.5h.9M177.8 188.8h.9M176.6 190.0h.9M171.5 209.0h.9M186.9 199.4h.9M189.7 204.9h.9M178.2 210.8h.9M160.2 210.1h.9M190.5 206.1h.9M180.8 190.9h.9M167.9 201.3h.9M172.0 192.2h.9M161.6 209.4h.9M172.6 209.2h.9M172.1 183.7h.9M176.0 207.0h.9M161.9 220.6h.9M169.8 219.3h.9M184.4 212.0h.9M173.3 206.9h.9M168.0 219.8h.9M170.7 202.9h.9M177.3 215.1h.9M196.8 201.0h.9M186.2 187.6h.9M167.9 194.3h.9M181.4 201.9h.9M161.0 214.6h.9M178.6 205.8h.9M196.3 209.6h.9M181.4 208.8h.9M163.6 209.2h.9M179.7 185.3h.9M192.8 211.4h.9M168.3 205.5h.9M172.1 177.0h.9M188.3 205.8h.9M172.5 217.4h.9M177.6 234.6h.9M174.2 210.4h.9M196.1 225.2h.9M189.0 209.0h.9M187.6 213.6h.9M183.3 195.5h.9M177.2 206.3h.9M172.0 206.2h.9M179.0 209.0h.9M159.0 202.1h.9M162.1 206.1h.9M190.3 219.7h.9M177.2 202.8h.9M178.2 210.4h.9M178.9 197.3h.9M167.2 207.0h.9M186.9 211.9h.9M165.0 196.3h.9M186.7 194.1h.9M178.6 212.4h.9M196.1 190.8h.9M187.9 210.7h.9M180.1 215.0h.9M166.9 204.0h.9M182.5 198.6h.9M180.0 181.7h.9M167.7 190.0h.9M174.2 194.3h.9M168.4 179.9h.9M195.2 223.2h.9M193.8 202.8h.9M189.3 204.8h.9M177.4 220.6h.9M173.7 205.1h.9M159.9 216.0h.9M179.1 199.7h.9M173.9 188.8h.9M173.2 197.6h.9M194.1 213.6h.9M192.3 206.2h.9M169.5 186.3h.9M197.9 208.1h.9M191.5 193.3h.9M179.0 179.4h.9M178.0 212.0h.9M179.7 205.7h.9M174.4 207.7h.9M164.1 197.4h.9M163.8 191.8h.9M187.4 208.9h.9M175.0 211.9h.9M179.5 184.3h.9M183.2 209.2h.9M199.5 208.9h.9M175.4 179.8h.9M187.2 190.6h.9M186.6 198.1h.9M187.3 195.5h.9M152.3 207.5h.9M162.6 202.5h.9M165.9 203.8h.9M192.2 210.1h.9M171.0 195.2h.9M170.9 205.2h.9M177.9 219.0h.9M190.3 216.8h.9M189.8 200.0h.9M167.2 208.3h.9M189.3 207.6h.9M193.2 223.3h.9M176.5 192.9h.9M157.5 201.2h.9M166.8 219.6h.9M171.0 210.7h.9M173.7 211.3h.9M169.5 234.5h.9M184.6 207.7h.9M168.0 201.3h.9M182.5 214.9h.9M177.2 195.9h.9M182.7 205.1h.9M180.7 212.9h.9M178.6 203.7h.9M170.7 205.9h.9M189.8 192.5h.9M154.0 221.1h.9M190.8 199.6h.9M184.3 220.6h.9M180.1 197.8h.9M184.2 212.9h.9M172.6 201.0h.9M181.4 189.6h.9M153.1 211.4h.9M193.5 217.8h.9M180.5 188.0h.9M167.6 200.7h.9M201.4 219.3h.9M156.3 192.4h.9M173.6 205.2h.9M180.0 190.3h.9M175.9 193.1h.9M188.1 204.7h.9M191.4 201.1h.9M156.1 218.0h.9M167.4 209.5h.9M181.2 207.2h.9M166.6 204.5h.9M174.1 210.3h.9M189.8 201.0h.9M192.2 217.0h.9M186.2 204.5h.9M171.9 223.0h.9M178.1 218.2h.9M187.4 199.4h.9M193.8 228.2h.9M185.9 202.3h.9M181.5 210.6h.9M189.7 237.5h.9M163.5 197.6h.9M181.2 194.1h.9M174.6 211.0h.9M188.1 202.9h.9M158.8 193.8h.9M166.3 194.5h.9M181.2 198.1h.9M190.9 216.6h.9M186.6 205.5h.9M176.0 204.8h.9M173.1 204.3h.9M181.8 212.3h.9M191.7 203.7h.9M166.1 199.5h.9M185.0 221.5h.9M182.3 209.2h.9M182.0 206.8h.9M183.5 202.7h.9M152.5 203.9h.9M185.4 196.4h.9M193.4 200.9h.9M194.3 194.8h.9M173.5 212.9h.9M193.8 196.6h.9M158.6 217.1h.9M192.5 203.0h.9M158.9 199.7h.9M190.5 197.2h.9M178.4 207.1h.9M172.8 210.8h.9M161.7 205.9h.9M175.7 207.8h.9M159.5 205.7h.9M171.4 204.3h.9M160.9 204.4h.9M164.8 214.6h.9M171.3 211.3h.9M172.6 211.4h.9M171.7 213.1h.9M172.2 209.0h.9M171.9 220.9h.9M192.2 205.0h.9M183.0 191.3h.9M156.7 212.0h.9M181.1 188.6h.9M178.0 203.9h.9M178.5 205.4h.9M180.7 211.6h.9M170.6 209.3h.9M186.2 191.2h.9M180.5 208.0h.9M193.3 198.3h.9M187.6 206.3h.9M174.1 199.1h.9M177.1 191.2h.9M168.7 201.0h.9M179.2 216.7h.9M174.8 217.1h.9M174.9 208.0h.9M186.5 210.2h.9M183.2 208.8h.9M169.6 188.2h.9M192.0 225.1h.9M177.3 209.0h.9M160.4 202.9h.9M184.9 204.2h.9M184.3 184.2h.9M173.7 190.2h.9M176.4 189.0h.9M183.0 211.9h.9M195.7 194.4h.9M160.3 195.2h.9M176.9 202.4h.9M165.4 198.4h.9M181.0 215.7h.9M175.1 188.1h.9M197.0 222.1h.9M185.0 208.2h.9M173.1 201.8h.9M196.8 198.2h.9M167.9 204.0h.9M184.4 191.7h.9M178.4 203.0h.9M181.9 197.0h.9M157.2 188.4h.9M182.9 204.5h.9M166.5 201.5h.9M202.3 211.5h.9M160.2 199.5h.9M179.5 205.1h.9M161.4 199.7h.9M181.1 195.6h.9M168.7 229.5h.9M180.3 179.5h.9M183.4 178.2h.9M183.2 207.1h.9M170.1 188.0h.9M163.7 211.7h.9M174.3 201.1h.9M179.8 221.9h.9M165.5 184.5h.9M180.3 204.5h.9M175.2 201.2h.9M170.5 191.5h.9M189.3 204.6h.9M190.0 206.4h.9M174.3 192.9h.9M178.2 214.1h.9M197.9 206.7h.9M184.6 186.8h.9M164.4 208.1h.9M190.7 208.0h.9M174.1 206.2h.9M175.8 208.2h.9M184.1 203.4h.9M199.5 200.6h.9M199.0 202.8h.9M199.8 206.0h.9M193.7 202.5h.9M198.3 213.6h.9M174.0 199.8h.9M168.2 187.2h.9M177.3 198.2h.9M191.5 197.3h.9M170.8 219.9h.9M159.9 214.9h.9M170.6 213.7h.9M184.8 220.3h.9M160.4 202.3h.9M200.3 215.2h.9M178.0 205.0h.9M192.1 194.3h.9M174.2 193.7h.9M180.1 195.0h.9M200.6 230.1h.9M162.7 220.3h.9M164.8 203.3h.9M180.7 184.2h.9M195.8 201.1h.9M177.7 196.7h.9M184.2 210.1h.9M187.3 210.5h.9M178.1 206.4h.9M172.3 212.2h.9M179.9 206.1h.9M164.8 185.2h.9M192.9 205.8h.9M168.1 216.5h.9M158.8 208.5h.9M159.0 203.5h.9M182.2 211.0h.9M172.7 205.5h.9M185.6 208.7h.9M198.7 215.2h.9M171.8 210.4h.9M176.6 202.3h.9M185.3 208.7h.9M197.4 226.4h.9M182.0 204.4h.9M163.1 221.5h.9M180.1 191.7h.9M183.4 206.0h.9M175.1 210.8h.9M174.1 197.7h.9M191.1 198.8h.9M170.7 198.5h.9M190.6 226.3h.9M182.3 211.4h.9M180.0 219.9h.9M166.4 206.5h.9M172.2 210.9h.9M168.4 200.2h.9M190.9 216.3h.9M181.5 210.4h.9M181.5 192.5h.9M181.5 206.7h.9M166.4 192.4h.9M197.4 227.3h.9M185.2 207.3h.9M163.9 185.4h.9M184.5 181.3h.9M169.4 210.7h.9M161.3 204.5h.9M159.1 209.0h.9M191.6 199.2h.9M189.5 203.8h.9M187.3 206.7h.9M163.9 199.8h.9M177.7 214.5h.9M165.8 191.5h.9M159.5 214.9h.9M182.6 198.4h.9M181.1 222.7h.9M190.9 206.7h.9M161.5 193.0h.9M177.3 226.5h.9M147.9 207.2h.9M171.1 202.3h.9M180.1 214.4h.9M183.3 202.8h.9M166.2 196.4h.9M180.7 207.5h.9M182.4 214.7h.9M169.3 206.6h.9M167.6 188.0h.9M181.3 197.0h.9M202.6 215.1h.9M197.5 210.0h.9M176.2 202.8h.9M179.6 205.3h.9M182.3 187.6h.9M153.5 221.8h.9M163.8 201.6h.9M180.0 200.6h.9M200.6 204.6h.9M162.4 200.0h.9M178.1 203.2h.9M182.7 198.1h.9M177.2 210.4h.9M179.1 211.6h.9M171.7 218.1h.9M164.7 208.1h.9M170.6 201.7h.9M173.0 215.5h.9M174.4 233.7h.9M183.0 207.8h.9M194.6 210.1h.9M177.1 215.5h.9M192.9 208.8h.9M185.6 215.9h.9M171.7 208.5h.9M168.5 196.7h.9M188.4 191.4h.9M168.3 211.7h.9M178.2 197.6h.9M164.2 208.2h.9M190.5 204.0h.9M177.4 218.1h.9M174.8 197.2h.9M190.3 224.5h.9M183.1 209.5h.9M167.8 184.1h.9M186.1 217.7h.9M166.7 203.3h.9M161.4 207.8h.9M184.1 220.6h.9M180.3 200.5h.9M170.8 201.2h.9M185.9 200.6h.9M170.6 195.7h.9M174.5 203.2h.9M179.0 205.6h.9M155.2 193.6h.9M183.7 204.1h.9M185.2 210.4h.9M176.5 199.8h.9M153.5 214.1h.9M171.4 209.1h.9M172.0 214.5h.9M181.0 196.7h.9M183.4 193.9h.9M184.0 188.7h.9M196.4 210.9h.9M168.9 212.4h.9M174.2 197.3h.9M184.2 203.1h.9M170.5 210.4h.9M175.9 203.1h.9M143.7 202.7h.9M183.9 213.9h.9M194.5 196.8h.9M186.2 223.8h.9M187.3 203.8h.9M180.5 231.9h.9M160.4 209.1h.9M162.8 190.6h.9M165.3 197.1h.9M178.8 188.5h.9M173.2 218.7h.9M182.4 190.8h.9M172.1 193.5h.9M185.0 205.3h.9M180.7 203.9h.9M171.4 203.7h.9M183.2 213.9h.9M148.3 198.0h.9M170.6 199.0h.9M168.5 201.0h.9M175.8 209.1h.9M177.8 201.3h.9M158.2 191.1h.9M190.1 201.7h.9M159.5 195.7h.9M178.4 186.4h.9M173.1 207.6h.9M189.8 230.1h.9M173.9 207.4h.9M151.7 216.3h.9M181.1 201.5h.9M197.5 194.4h.9M162.9 196.3h.9M182.9 204.1h.9M165.3 183.8h.9M198.8 201.9h.9M169.0 218.5h.9M165.5 195.0h.9M158.8 192.1h.9M176.5 201.2h.9M187.1 207.2h.9M182.9 203.7h.9M179.0 204.0h.9M167.0 201.6h.9M162.9 192.1h.9M174.2 218.7h.9M186.2 197.3h.9M179.8 222.7h.9M163.5 198.9h.9M182.0 198.4h.9M168.6 192.3h.9M171.4 204.7h.9M169.2 219.2h.9M169.8 215.9h.9M174.0 187.3h.9M182.1 211.6h.9M183.4 211.7h.9M191.8 195.9h.9M174.6 205.6h.9M179.6 216.8h.9M165.4 206.6h.9M168.3 205.4h.9M188.6 207.6h.9M185.5 184.7h.9M173.8 188.4h.9M169.2 218.3h.9M180.9 206.8h.9M161.8 190.0h.9M188.7 216.2h.9M176.5 205.9h.9M164.5 201.2h.9M163.2 225.0h.9M195.5 212.2h.9M170.1 207.6h.9M170.5 180.1h.9M184.2 195.3h.9M153.0 195.9h.9M180.9 204.0h.9M192.4 197.7h.9M158.9 202.1h.9M176.9 192.0h.9M154.7 197.5h.9M180.5 197.3h.9M183.4 229.1h.9M186.9 205.4h.9M169.7 194.0h.9M178.3 185.8h.9M191.3 217.8h.9M187.9 205.0h.9M178.5 206.7h.9M190.7 214.3h.9M183.9 222.8h.9M182.6 219.6h.9M164.1 205.5h.9M165.8 192.2h.9M166.1 186.4h.9M188.4 203.8h.9M186.2 202.5h.9M172.0 200.5h.9M174.9 205.7h.9M172.0 211.1h.9M188.7 205.4h.9M187.8 208.5h.9M177.9 210.4h.9M193.9 185.8h.9M177.9 194.5h.9M162.2 219.6h.9M187.5 225.1h.9M199.1 205.8h.9M163.2 215.1h.9M168.8 194.9h.9M166.9 214.2h.9M197.3 219.0h.9M171.6 188.8h.9M150.8 212.9h.9M181.5 205.3h.9M172.5 219.8h.9M189.0 210.8h.9M171.4 204.2h.9M196.1 202.6h.9M186.3 229.9h.9M171.5 205.0h.9M170.9 213.9h.9M172.6 216.1h.9M172.8 203.7h.9M183.6 217.3h.9M176.7 214.1h.9M189.9 184.1h.9M181.5 199.7h.9M176.1 198.8h.9M176.8 219.5h.9M186.7 204.6h.9M184.9 184.6h.9M173.8 195.7h.9M181.4 230.1h.9M175.1 197.7h.9M183.6 205.8h.9M164.6 201.4h.9M181.5 197.9h.9M200.6 203.8h.9M192.5 198.6h.9M165.2 198.5h.9M178.0 188.7h.9M189.2 194.3h.9M170.4 204.4h.9M189.8 210.7h.9M180.0 189.5h.9M179.4 201.1h.9M194.4 198.5h.9M162.6 202.4h.9" stroke="#ff0000" stroke-width="0.9" fill="none"/>
<text class="tk" x="115.9" y="173.9" text-anchor="end">50</text>
<text class="tk" x="115.9" y="215.8" text-anchor="end">0</text>
<text class="tk" x="115.9" y="257.9" text-anchor="end">−50</text>
<text class="tk" x="120.0" y="264.5" text-anchor="middle">−50</text>
<text class="tk" x="162.4" y="264.5" text-anchor="middle">0</text>
<text class="tk" x="204.6" y="264.5" text-anchor="middle">50</text>
<text class="ax" style="font-size:8.5px" x="162.7" y="275.1" text-anchor="middle">Δ<tspan class="i">x</tspan> (nm)</text>
<text class="ax" style="font-size:8.7px" transform="translate(108.2 214.1) rotate(-90)" text-anchor="middle">Δ<tspan class="i">y</tspan> (nm)</text>
<path d="M214.0 211.8H229.4V208.9L239.4 213.4L229.4 217.9V215.1H214.0Z" fill="#000"/>
<text class="ttl" x="214" y="207.6">shift</text>
<path d="M360.0 211.5H375.4V208.7L385.0 213.2L375.4 217.7V214.8H360.0Z" fill="#000"/>
<text class="ttl" x="365" y="205.8">...</text>
<text class="lab" style="font-size:13px" x="248.2" y="158">e</text>
<text class="ttl" x="288" y="163">Iteration 2</text>
<rect x="266.60" y="171.50" width="84.40" height="84.00" fill="none" stroke="#1a1a1a" stroke-width="1.1"/>
<path d="M308.80 171.50V255.50M266.60 213.40H351.00" stroke="#1a1a1a" stroke-width="0.9" fill="none"/>
<path d="M318.6 208.5h.9M340.5 217.8h.9M323.6 199.5h.9M326.8 196.0h.9M285.0 227.4h.9M274.8 209.4h.9M290.7 240.2h.9M298.4 240.8h.9M289.2 182.9h.9M315.6 181.0h.9M280.5 213.5h.9M329.7 178.0h.9M273.5 214.6h.9M312.7 225.9h.9M333.3 194.0h.9M293.3 225.6h.9M337.0 207.6h.9M312.4 239.1h.9M306.1 220.3h.9M317.3 235.5h.9M315.8 250.8h.9M300.5 233.0h.9M295.4 226.5h.9M303.9 206.1h.9M322.3 191.5h.9M319.0 218.4h.9M346.7 230.0h.9M290.2 181.1h.9M335.6 225.4h.9M276.6 234.2h.9M312.5 203.4h.9M319.4 198.6h.9M278.5 191.2h.9M284.6 196.6h.9M307.1 205.9h.9M292.0 197.1h.9M300.4 172.8h.9M342.0 214.6h.9M332.3 198.9h.9M309.6 234.2h.9M327.5 176.2h.9M281.2 206.3h.9M307.5 206.1h.9M283.9 241.4h.9M303.1 249.6h.9M293.4 206.6h.9M280.3 229.0h.9M306.4 237.6h.9M312.5 191.5h.9M345.8 219.8h.9M317.6 214.8h.9M271.7 217.2h.9M328.1 199.2h.9M295.5 231.5h.9M283.0 243.3h.9M281.7 197.7h.9M331.0 205.5h.9M321.6 175.9h.9M328.9 194.8h.9M294.9 204.0h.9M318.3 184.0h.9M291.8 213.3h.9M304.9 232.6h.9M302.7 251.2h.9M332.4 217.3h.9M333.1 240.6h.9M308.0 204.2h.9M296.9 183.9h.9M297.9 212.8h.9M299.1 224.6h.9M301.9 235.2h.9M310.0 209.2h.9M288.5 234.7h.9M308.1 219.8h.9M283.9 239.4h.9M310.1 215.7h.9M322.1 193.4h.9M332.8 187.5h.9M323.1 186.3h.9M308.4 183.2h.9M323.2 248.3h.9M322.3 177.5h.9M339.8 197.4h.9M295.1 222.7h.9M344.1 199.7h.9M323.7 233.5h.9M292.5 252.0h.9M321.9 194.2h.9M275.1 235.4h.9M310.2 240.8h.9M269.1 204.6h.9M273.0 226.2h.9M346.3 215.2h.9M301.5 216.1h.9M336.1 240.8h.9M330.8 202.4h.9M286.3 206.9h.9M315.6 190.8h.9M328.2 248.8h.9M345.9 230.8h.9M308.3 205.5h.9M342.2 219.4h.9M318.9 249.2h.9M291.9 180.1h.9M309.1 211.7h.9M329.5 226.1h.9M293.2 242.3h.9M300.9 232.2h.9M317.7 214.7h.9M327.4 236.9h.9M300.3 216.8h.9M299.1 232.3h.9M300.2 224.1h.9M342.1 212.4h.9M316.9 204.7h.9M343.1 192.3h.9M295.0 232.9h.9M345.3 219.4h.9M303.0 232.4h.9M303.9 209.2h.9M333.4 188.2h.9M310.6 244.3h.9M295.5 173.5h.9M296.5 229.6h.9M346.4 204.0h.9M305.7 233.9h.9M306.8 182.8h.9M320.8 227.2h.9M272.9 234.3h.9M313.1 181.8h.9M328.0 233.1h.9M284.8 233.5h.9M303.9 252.6h.9M343.1 219.4h.9M279.2 211.8h.9M302.9 248.1h.9M319.5 221.0h.9M306.9 185.9h.9M295.8 192.9h.9M327.9 226.7h.9M323.6 176.0h.9M278.9 222.0h.9M307.8 255.6h.9M303.0 235.0h.9M313.1 185.2h.9M269.4 214.4h.9M268.5 207.6h.9M275.3 203.7h.9M292.7 232.9h.9M339.1 195.4h.9M318.0 176.9h.9M296.5 182.7h.9M272.6 204.7h.9M281.0 236.8h.9M316.4 195.6h.9M328.3 206.6h.9M300.2 208.2h.9M336.0 244.3h.9M304.0 203.8h.9M293.8 247.1h.9M335.1 200.1h.9M271.2 230.0h.9M325.4 200.3h.9M286.0 178.5h.9M299.3 200.8h.9M308.7 198.8h.9M328.9 190.7h.9M299.0 229.6h.9M292.6 196.0h.9M329.3 233.1h.9M318.8 182.3h.9M298.9 242.8h.9M301.0 175.1h.9M310.3 211.9h.9M285.1 182.5h.9M316.4 222.8h.9M311.0 231.0h.9M314.8 203.2h.9M333.9 207.1h.9M306.8 178.4h.9M309.3 206.9h.9M314.4 234.7h.9M292.1 204.1h.9M295.0 215.9h.9M295.1 245.3h.9M337.6 228.2h.9M317.5 209.1h.9M293.9 194.1h.9M327.4 206.6h.9M289.2 234.3h.9M300.4 209.0h.9M288.4 177.4h.9M274.6 229.4h.9M286.4 198.9h.9M289.0 236.0h.9M296.6 176.5h.9M331.8 212.1h.9M348.1 223.6h.9M343.2 197.0h.9M318.3 242.5h.9M303.1 211.5h.9M291.5 175.0h.9M300.8 235.7h.9M306.9 196.4h.9M310.6 189.2h.9M311.5 214.9h.9M315.6 199.3h.9M333.7 228.4h.9M301.6 203.5h.9M291.4 232.9h.9M295.6 247.4h.9M320.3 180.1h.9M303.9 178.5h.9M282.8 242.5h.9M325.3 193.3h.9M337.2 200.0h.9M334.3 210.7h.9M336.1 228.9h.9M319.0 241.3h.9M322.3 214.0h.9M303.0 178.8h.9M285.8 228.0h.9M303.9 208.7h.9M322.2 250.7h.9M294.7 195.7h.9M315.6 222.4h.9M296.6 236.4h.9M308.0 190.0h.9M334.5 197.0h.9M272.2 212.1h.9M332.4 221.4h.9M334.2 235.2h.9M294.5 252.1h.9M271.0 195.4h.9M282.8 218.6h.9M322.6 250.1h.9M315.4 248.2h.9M291.8 192.4h.9M307.1 235.9h.9M305.4 237.3h.9M302.0 199.1h.9M296.4 200.8h.9M308.5 221.3h.9M301.7 202.8h.9M326.9 238.9h.9M301.3 221.7h.9M270.0 211.0h.9M281.6 240.2h.9M327.4 177.9h.9M293.2 176.6h.9M298.5 245.3h.9M293.6 217.7h.9M332.9 227.5h.9M315.4 247.6h.9M323.9 177.6h.9M286.4 181.9h.9M268.6 225.3h.9M300.5 204.1h.9M349.9 207.2h.9M286.4 198.7h.9M309.6 196.5h.9M289.5 209.6h.9M272.9 197.8h.9M272.5 214.7h.9M315.6 198.6h.9M308.3 248.3h.9M342.4 237.5h.9M277.5 222.2h.9M332.5 212.5h.9M286.0 208.2h.9M289.3 220.4h.9M294.5 186.9h.9M300.8 249.0h.9M346.1 208.6h.9M298.8 232.3h.9M299.3 176.0h.9M277.3 192.1h.9M327.6 198.9h.9M335.4 195.6h.9M285.7 228.4h.9M271.6 197.2h.9M301.7 212.4h.9M298.1 189.0h.9M281.0 229.3h.9M281.9 180.9h.9M267.2 211.4h.9M339.3 222.0h.9M344.6 200.2h.9M291.2 231.1h.9M317.6 223.5h.9M334.4 216.9h.9M289.4 217.0h.9M285.4 217.9h.9M300.3 243.6h.9M304.2 189.4h.9M279.1 218.4h.9M322.0 246.9h.9M288.1 247.2h.9M338.8 203.0h.9M311.4 252.0h.9M340.4 199.3h.9M329.0 245.2h.9M305.2 176.7h.9M271.3 219.6h.9M298.5 214.1h.9M298.7 245.1h.9M285.8 209.0h.9M292.9 213.2h.9M345.0 227.7h.9M288.8 185.3h.9M283.1 235.1h.9M334.4 245.6h.9M321.5 233.6h.9M308.2 203.8h.9M323.3 216.1h.9M344.5 207.1h.9M277.0 203.4h.9M305.6 231.1h.9M303.4 225.0h.9M281.1 194.2h.9M279.5 209.2h.9M327.7 209.4h.9M333.6 226.8h.9M305.8 249.5h.9M293.9 223.5h.9M301.3 242.9h.9M273.5 236.5h.9M312.5 211.8h.9M292.9 174.3h.9M315.4 227.7h.9M301.3 242.9h.9M279.5 187.9h.9M318.8 228.0h.9M283.1 184.2h.9M329.1 224.3h.9M328.1 235.0h.9M334.1 188.8h.9M290.6 178.5h.9M311.2 198.9h.9M319.3 219.0h.9M329.0 238.6h.9M311.2 193.3h.9M326.1 213.1h.9M289.7 237.6h.9M305.2 173.3h.9M331.0 181.8h.9M337.0 242.6h.9M310.1 178.9h.9M333.7 197.6h.9M313.7 230.3h.9M272.6 204.5h.9M321.1 183.3h.9M348.2 213.4h.9M278.6 208.3h.9M302.9 186.1h.9M336.8 189.6h.9M307.2 218.3h.9M334.6 242.7h.9M286.2 240.2h.9M324.9 225.8h.9M297.8 251.7h.9M296.2 210.9h.9M349.1 204.0h.9M303.4 188.2h.9M292.8 190.6h.9M288.3 229.8h.9M300.0 211.8h.9M300.1 183.9h.9M287.0 214.1h.9M275.3 228.1h.9M318.9 219.3h.9M311.0 221.9h.9M324.4 237.9h.9M301.2 173.9h.9M289.9 214.7h.9M312.7 217.8h.9M323.9 182.7h.9M333.2 188.0h.9M278.5 242.7h.9M301.9 177.1h.9M279.6 184.9h.9M278.2 232.1h.9M328.0 238.5h.9M282.3 184.8h.9M321.2 183.2h.9M308.5 178.3h.9M327.9 243.4h.9M335.0 191.0h.9M313.6 253.7h.9M341.9 214.8h.9M285.9 220.7h.9M307.3 234.7h.9M300.5 250.7h.9M331.2 246.9h.9M321.0 221.5h.9M309.1 254.4h.9M289.5 236.5h.9M296.6 200.6h.9M335.1 186.3h.9M341.2 187.6h.9M290.1 198.8h.9M325.2 251.8h.9M280.6 195.9h.9M276.2 225.2h.9M307.8 241.8h.9M280.8 196.0h.9M330.6 227.6h.9M320.9 227.9h.9M279.4 239.7h.9M278.4 204.6h.9M339.3 226.7h.9M295.1 210.1h.9M269.3 220.8h.9M335.4 200.0h.9M283.0 223.6h.9M302.3 237.3h.9M278.1 240.3h.9M290.5 225.8h.9M348.6 214.9h.9M309.5 191.9h.9M326.2 219.5h.9M339.2 216.3h.9M279.0 187.4h.9M268.7 221.7h.9M309.2 197.1h.9M272.6 213.1h.9M332.1 239.8h.9M328.0 222.4h.9M294.1 251.9h.9M313.8 214.5h.9M325.3 181.8h.9M296.9 246.1h.9M282.5 212.3h.9M349.0 205.7h.9M317.9 209.4h.9M287.8 217.5h.9M338.7 202.2h.9M301.8 247.9h.9M326.8 185.8h.9M266.7 218.8h.9M292.3 193.1h.9M332.2 182.5h.9M285.4 234.4h.9M302.2 178.0h.9M324.5 241.0h.9M317.2 235.6h.9M290.5 203.5h.9M293.5 235.6h.9M309.8 213.9h.9M273.3 226.2h.9M310.4 241.6h.9M317.2 201.9h.9M296.9 211.6h.9M286.0 249.1h.9M306.1 239.4h.9M314.7 243.2h.9M335.5 239.5h.9M310.6 251.1h.9M280.2 236.5h.9M316.5 217.1h.9M280.9 233.9h.9M343.1 226.2h.9M296.1 209.8h.9M289.7 201.6h.9M280.2 191.5h.9M326.3 190.8h.9M337.3 203.6h.9M341.5 194.5h.9M331.1 202.2h.9M313.7 227.7h.9M318.3 250.1h.9M314.7 218.0h.9M270.8 222.0h.9M335.7 215.2h.9M312.5 217.8h.9M335.8 238.7h.9M326.8 232.6h.9M334.6 220.4h.9M309.3 211.7h.9M319.1 173.4h.9M276.5 235.9h.9M283.1 215.5h.9M299.2 201.0h.9M294.6 251.7h.9M278.9 213.2h.9M270.2 214.3h.9M294.8 214.6h.9M327.7 185.8h.9M322.3 234.6h.9M330.8 210.4h.9M297.7 176.2h.9M301.9 225.4h.9M280.8 204.5h.9M285.0 189.4h.9M312.7 199.6h.9M307.2 255.1h.9M346.8 220.2h.9M350.3 216.2h.9M298.3 251.8h.9M276.0 198.4h.9M335.6 218.2h.9M330.9 227.3h.9M297.4 208.6h.9M325.5 219.9h.9M310.7 226.5h.9M326.8 206.4h.9M312.6 229.4h.9M332.0 231.2h.9M301.8 186.0h.9M314.6 218.7h.9M331.0 181.3h.9M308.0 223.4h.9M286.8 233.0h.9M340.2 201.0h.9M307.7 253.3h.9M332.0 238.2h.9M349.2 222.2h.9M321.0 183.4h.9M279.6 199.6h.9M301.3 254.2h.9M282.8 235.7h.9M316.6 252.6h.9M314.9 204.3h.9M332.4 218.4h.9M328.4 196.6h.9M326.7 220.4h.9M279.8 229.8h.9M334.1 182.2h.9M341.1 207.8h.9M290.8 250.5h.9M298.8 244.1h.9M295.7 246.4h.9M334.0 185.3h.9M296.4 177.8h.9M326.2 193.3h.9M322.9 240.7h.9M322.4 236.6h.9M298.0 220.4h.9M276.1 196.1h.9M328.9 216.7h.9M284.9 184.6h.9M334.1 210.5h.9M297.3 231.3h.9M281.1 213.7h.9M329.3 195.5h.9M291.4 204.6h.9M340.5 232.5h.9M293.4 237.6h.9M275.2 203.9h.9M282.9 227.4h.9M284.6 220.1h.9M291.6 185.2h.9M334.9 182.9h.9M303.3 192.2h.9M303.6 177.6h.9M310.8 215.4h.9M269.0 212.6h.9M274.9 202.2h.9M337.2 213.0h.9M308.3 233.7h.9M307.2 176.6h.9M312.1 232.9h.9M288.8 225.7h.9M325.5 223.3h.9M300.6 213.6h.9M331.6 225.7h.9M283.0 197.8h.9M314.1 182.0h.9M348.7 218.0h.9M312.9 197.9h.9M323.1 185.2h.9M317.4 186.3h.9M301.2 209.8h.9M275.5 213.6h.9M311.7 201.3h.9M277.8 232.9h.9M340.6 228.2h.9M273.0 222.2h.9M291.3 228.8h.9M289.8 178.4h.9M306.4 211.0h.9M274.3 193.3h.9M302.7 244.9h.9M298.7 249.5h.9M321.0 233.9h.9M282.6 227.0h.9M293.1 211.8h.9M297.0 218.5h.9M322.7 214.5h.9M286.7 201.1h.9M312.8 249.0h.9M323.6 240.7h.9M293.0 210.7h.9M327.8 191.8h.9M344.0 231.8h.9M297.0 208.5h.9M347.2 212.3h.9M339.5 224.1h.9M274.1 209.6h.9M348.5 212.3h.9M324.4 230.8h.9M318.2 240.1h.9M340.0 196.8h.9M267.1 213.2h.9M319.6 246.8h.9M327.8 246.2h.9M301.1 195.7h.9M307.3 212.4h.9M314.1 250.7h.9M274.4 228.7h.9M342.0 231.9h.9M327.1 243.3h.9M320.9 185.7h.9M337.5 224.2h.9M287.3 232.6h.9M307.1 221.7h.9M270.1 198.3h.9M336.9 210.9h.9M320.9 208.8h.9M316.8 195.7h.9M310.7 255.0h.9M327.2 187.8h.9M290.9 239.9h.9M333.4 208.7h.9M307.7 240.1h.9M343.7 196.6h.9M335.3 193.7h.9M329.3 211.2h.9M339.7 209.1h.9M280.3 198.8h.9M308.6 211.9h.9M279.8 195.2h.9M321.6 191.6h.9M346.1 197.3h.9M309.8 235.5h.9M323.0 191.3h.9M271.7 207.6h.9M299.3 174.1h.9M343.2 193.5h.9M300.1 209.8h.9M349.5 214.5h.9M300.9 224.5h.9M307.3 247.5h.9M301.5 227.6h.9M320.3 178.9h.9M332.1 227.0h.9M338.0 192.0h.9M333.8 237.7h.9M305.5 215.6h.9M323.4 206.2h.9M308.6 196.7h.9M275.4 204.1h.9M311.6 189.3h.9M276.9 240.7h.9M292.2 251.1h.9M336.7 221.7h.9M313.5 250.9h.9M338.1 195.1h.9M289.4 204.4h.9M324.1 205.8h.9M341.5 211.0h.9M332.2 225.2h.9M274.8 229.3h.9M341.6 209.1h.9M313.5 173.2h.9M320.1 218.7h.9M297.7 236.0h.9M346.4 214.4h.9M326.3 200.9h.9M307.9 227.1h.9M299.5 190.2h.9M298.0 201.3h.9M295.1 182.7h.9M307.2 222.9h.9M324.4 210.7h.9M295.3 228.1h.9M292.9 249.9h.9M307.1 239.4h.9M277.8 232.4h.9M336.6 230.3h.9M294.2 227.4h.9M299.4 204.9h.9M318.9 221.7h.9M304.0 251.8h.9M308.9 238.2h.9M333.5 196.7h.9M322.5 227.9h.9M310.8 213.7h.9M335.0 195.9h.9M327.7 188.7h.9M279.2 195.5h.9M320.4 215.7h.9M285.0 244.1h.9M278.8 198.1h.9M284.5 219.3h.9M332.8 188.9h.9M338.3 237.9h.9M306.8 199.9h.9M305.3 221.2h.9M267.3 220.4h.9M308.0 176.6h.9M331.8 246.0h.9M334.2 238.5h.9M296.0 206.7h.9M290.4 250.9h.9M279.1 186.7h.9M322.8 207.7h.9M282.9 236.3h.9M295.2 182.1h.9M304.0 216.6h.9M297.2 237.5h.9M285.7 198.1h.9M314.3 225.3h.9M304.5 193.3h.9M292.0 199.1h.9M302.0 225.7h.9M317.6 207.3h.9M291.6 234.5h.9M287.0 221.2h.9M313.9 222.0h.9M304.6 223.3h.9M298.0 252.8h.9M317.6 245.7h.9M302.4 228.4h.9M287.0 189.8h.9M321.4 200.1h.9M325.3 227.7h.9M329.7 225.3h.9M294.5 203.5h.9M282.5 234.0h.9M338.3 223.5h.9M332.1 195.7h.9M332.1 222.7h.9M330.0 216.2h.9M332.2 204.1h.9M331.9 187.6h.9M308.8 190.9h.9M335.9 200.3h.9M321.9 189.2h.9M320.5 251.9h.9M286.2 248.3h.9M335.1 192.7h.9M301.3 209.4h.9M320.1 251.4h.9M302.6 189.5h.9M275.1 229.3h.9M286.1 193.9h.9M315.5 192.6h.9M328.1 224.4h.9M309.5 209.4h.9M282.0 226.8h.9M285.6 226.3h.9M303.2 229.3h.9M280.7 240.8h.9M292.8 242.0h.9M344.9 218.1h.9M345.2 214.5h.9M284.1 239.3h.9M283.8 187.0h.9M339.2 241.6h.9M305.3 242.0h.9M343.9 232.0h.9M296.0 188.4h.9M342.5 199.7h.9M287.4 204.1h.9M271.8 200.7h.9M285.1 218.6h.9M330.0 219.1h.9M317.9 233.2h.9M323.0 237.8h.9M302.5 233.6h.9M312.2 197.8h.9M309.4 188.8h.9M278.4 212.8h.9M286.3 179.4h.9M289.0 239.4h.9M292.2 186.9h.9M329.5 183.1h.9M329.0 197.7h.9M316.1 204.9h.9M314.5 200.2h.9M271.8 227.9h.9M305.1 229.3h.9M297.7 215.7h.9M298.2 207.0h.9M281.1 210.4h.9M297.3 182.4h.9M295.5 215.7h.9M290.8 206.8h.9M340.6 220.9h.9M334.4 234.1h.9M304.1 209.1h.9M285.1 190.2h.9M285.8 190.2h.9M273.4 219.8h.9M319.1 187.4h.9M328.2 232.8h.9M294.3 182.3h.9M340.5 196.3h.9M328.7 234.2h.9M288.4 222.9h.9M341.0 190.4h.9M278.3 224.1h.9M280.2 236.5h.9M285.1 191.2h.9M328.1 176.3h.9M309.4 232.0h.9M341.0 211.9h.9M300.3 224.2h.9M335.1 231.3h.9M325.7 230.6h.9M335.9 233.8h.9M309.3 191.2h.9M279.9 199.2h.9M271.9 205.8h.9M289.6 212.1h.9M278.2 192.3h.9M304.4 217.5h.9M288.4 249.1h.9M316.6 242.9h.9M304.2 171.8h.9M281.7 201.7h.9M329.9 209.6h.9M343.1 209.7h.9M315.9 185.8h.9M315.3 191.8h.9M289.4 194.2h.9M304.5 174.5h.9M327.7 212.9h.9M306.3 227.9h.9M310.1 207.0h.9M343.2 219.4h.9M304.2 195.5h.9M287.2 217.1h.9M342.7 201.9h.9M303.7 208.2h.9M322.3 249.4h.9M307.7 240.1h.9M328.8 243.8h.9M278.4 189.2h.9M300.3 189.7h.9M344.9 208.8h.9M338.9 202.0h.9M299.0 235.8h.9M275.2 194.7h.9M293.2 235.0h.9M307.2 200.2h.9M289.6 194.7h.9M295.8 199.0h.9M277.8 214.5h.9M288.6 189.1h.9M307.6 178.3h.9M269.0 203.0h.9M285.1 189.7h.9M299.7 207.4h.9M312.6 229.0h.9M313.2 248.7h.9M303.8 201.0h.9M335.4 241.3h.9M293.6 221.8h.9M287.6 243.8h.9M309.1 186.8h.9M275.2 213.3h.9M311.7 196.7h.9M277.0 225.9h.9M292.8 238.6h.9M280.1 234.5h.9M298.0 194.0h.9M330.3 197.5h.9M330.2 242.9h.9M320.4 247.9h.9M308.8 177.1h.9M320.8 214.8h.9M334.9 180.9h.9M295.9 239.6h.9M302.2 238.9h.9M328.4 196.8h.9M285.9 188.1h.9M292.5 248.4h.9M314.9 208.8h.9M344.6 211.5h.9M340.9 211.2h.9M330.1 199.8h.9M293.0 231.5h.9M302.0 207.6h.9M305.6 253.6h.9M280.5 220.7h.9M286.9 243.2h.9M301.6 204.9h.9M340.5 220.7h.9M312.7 194.0h.9M337.1 188.3h.9M328.2 244.3h.9M334.0 242.4h.9M327.1 208.4h.9M311.5 248.6h.9M306.0 232.5h.9M316.4 173.7h.9M290.9 195.5h.9M304.8 232.9h.9M319.6 242.7h.9M289.7 242.6h.9M342.6 198.5h.9M343.4 200.4h.9M293.2 184.5h.9M304.2 191.3h.9M292.3 243.5h.9M294.5 194.4h.9M307.1 240.3h.9M293.6 218.2h.9M271.2 226.2h.9M344.3 232.2h.9M292.6 185.2h.9M326.7 201.8h.9M281.1 239.7h.9M333.2 246.4h.9M280.9 195.9h.9M313.4 249.0h.9M275.2 191.4h.9M291.3 210.6h.9M278.3 236.3h.9M300.6 226.3h.9M279.4 197.0h.9M344.9 232.6h.9M280.5 211.6h.9M311.6 249.4h.9M328.6 208.8h.9M325.2 214.7h.9M318.0 231.0h.9M308.6 205.2h.9M301.1 234.8h.9M280.7 187.1h.9M319.9 208.6h.9M273.3 215.6h.9M276.9 206.3h.9M301.0 230.4h.9M285.1 225.5h.9M344.4 230.2h.9M281.5 212.3h.9M335.7 190.7h.9M334.8 186.5h.9M343.5 229.1h.9M291.7 238.9h.9M311.9 240.3h.9M297.3 194.8h.9M295.4 190.2h.9M317.1 200.8h.9M281.8 203.5h.9M316.3 252.7h.9M290.4 244.5h.9M311.8 254.3h.9M339.3 212.3h.9M309.4 221.2h.9M305.6 239.5h.9M268.8 206.1h.9M332.4 187.0h.9M291.7 225.0h.9M271.6 193.4h.9M290.8 240.0h.9M314.3 238.0h.9M288.1 209.4h.9M305.9 200.2h.9M307.7 251.3h.9M282.6 222.2h.9M323.7 186.6h.9M317.2 191.8h.9M308.9 221.3h.9M345.9 212.2h.9M326.5 236.1h.9M276.6 221.8h.9M304.5 254.4h.9M289.5 227.8h.9M297.6 196.7h.9M323.2 211.8h.9M327.6 177.8h.9M293.9 214.5h.9M269.3 203.7h.9M268.5 219.0h.9M287.1 201.4h.9M342.3 204.3h.9M273.3 211.1h.9M317.3 221.8h.9M269.4 212.1h.9M303.4 195.6h.9M307.2 212.0h.9M342.0 229.8h.9M319.4 210.8h.9M279.0 194.5h.9M275.6 232.9h.9M335.3 227.4h.9M305.7 219.3h.9M324.8 194.0h.9M342.3 194.4h.9M340.0 197.7h.9M270.7 208.3h.9M300.1 236.7h.9M304.2 255.0h.9M290.9 233.1h.9M290.9 189.3h.9M277.6 220.2h.9M338.5 194.9h.9M337.9 191.6h.9M331.6 207.9h.9M325.2 206.7h.9M319.6 250.6h.9M304.4 192.3h.9M314.9 233.8h.9M301.5 217.3h.9M313.3 208.6h.9M322.7 209.7h.9M332.5 212.4h.9M323.5 219.1h.9M284.7 183.4h.9M297.9 187.8h.9M290.6 251.7h.9M299.5 208.2h.9M297.4 243.0h.9M294.6 173.5h.9M269.8 205.0h.9M325.4 234.0h.9M326.3 177.9h.9M318.1 172.4h.9M317.8 200.1h.9M331.8 195.2h.9M315.5 215.3h.9M297.8 227.6h.9M333.8 204.2h.9M310.9 207.4h.9M272.8 213.3h.9M272.7 200.3h.9M323.7 240.2h.9M323.1 210.6h.9M326.4 181.9h.9M270.5 202.4h.9M328.5 187.4h.9M313.1 205.0h.9M302.0 201.6h.9M335.5 189.3h.9M331.6 184.8h.9M331.4 210.5h.9M334.8 199.6h.9M277.1 202.3h.9M309.6 171.6h.9M304.0 252.0h.9M275.2 233.6h.9M321.6 247.6h.9M296.0 245.8h.9M326.3 237.1h.9M316.1 172.2h.9M305.6 198.6h.9M304.0 248.4h.9M275.1 211.0h.9M312.7 207.8h.9M347.8 211.1h.9M316.6 182.8h.9M302.7 251.9h.9M292.8 246.8h.9M304.2 227.6h.9M328.3 195.4h.9M269.8 225.4h.9M347.7 200.9h.9M331.2 232.7h.9M312.6 231.7h.9M293.9 241.2h.9M335.5 193.2h.9M284.7 182.0h.9M283.9 186.8h.9M317.3 210.7h.9M292.3 192.0h.9M301.1 252.6h.9M293.0 208.6h.9M322.9 214.8h.9M288.8 245.1h.9M296.0 223.5h.9M314.3 193.3h.9M303.1 251.2h.9M297.1 221.8h.9M270.9 222.1h.9M326.9 216.8h.9M269.6 225.8h.9M343.0 233.6h.9M328.3 192.5h.9M297.0 175.5h.9M286.5 238.8h.9M302.3 232.9h.9M337.3 240.9h.9M292.3 245.3h.9M314.7 212.1h.9M318.7 228.6h.9M327.3 224.5h.9M277.4 242.1h.9M271.5 227.0h.9M281.1 200.0h.9M322.1 176.0h.9M286.9 240.4h.9M343.5 226.7h.9M282.6 180.7h.9M297.6 250.0h.9M327.1 206.5h.9M338.3 191.7h.9M341.2 196.7h.9M301.4 213.5h.9M315.5 188.7h.9M317.5 196.0h.9M280.1 202.2h.9M304.6 209.3h.9M293.2 221.2h.9M286.2 186.8h.9M338.6 198.4h.9M309.7 237.0h.9M327.9 184.1h.9M329.1 226.8h.9M293.3 196.3h.9M297.5 246.5h.9M296.3 219.4h.9M330.1 200.8h.9M296.6 233.3h.9M308.3 239.4h.9M293.3 230.3h.9M332.5 242.3h.9M313.5 217.5h.9M335.0 228.0h.9M302.3 189.0h.9M289.2 214.6h.9M345.2 218.1h.9M313.5 255.0h.9M271.7 194.6h.9M315.9 242.3h.9M269.1 208.6h.9M308.0 252.5h.9M317.2 251.7h.9M302.4 242.5h.9M294.6 173.7h.9M285.1 184.7h.9M268.1 214.2h.9M334.7 232.6h.9M297.4 241.9h.9M340.7 223.3h.9M330.1 209.4h.9M315.4 222.0h.9M346.6 207.1h.9M300.7 223.7h.9M310.1 231.8h.9M310.4 218.1h.9M342.2 220.2h.9M291.7 188.5h.9M321.3 207.1h.9M291.4 199.4h.9M281.7 215.6h.9M343.4 203.5h.9M322.4 222.1h.9M336.5 240.2h.9M284.5 190.7h.9M271.0 204.1h.9M307.1 213.9h.9M267.2 218.0h.9M324.3 221.4h.9M272.3 223.7h.9M333.9 204.3h.9M313.6 179.6h.9M289.8 178.6h.9M286.4 188.6h.9M279.3 243.6h.9M281.5 184.9h.9M327.5 180.0h.9M282.1 242.8h.9M312.6 208.5h.9M281.9 226.8h.9M292.0 175.4h.9M339.1 235.3h.9M338.4 228.8h.9M288.2 193.3h.9M312.4 203.3h.9M315.0 239.7h.9M346.6 224.2h.9M304.2 246.5h.9M322.3 224.0h.9M268.8 221.5h.9M311.9 215.3h.9M322.6 218.9h.9M281.9 187.8h.9M338.7 193.7h.9M318.1 195.4h.9M292.4 188.9h.9M309.9 235.5h.9M308.2 222.7h.9M269.4 206.9h.9M273.3 196.3h.9M285.4 191.3h.9M336.0 229.3h.9M294.0 186.6h.9M303.7 244.9h.9M290.6 240.3h.9M329.5 177.3h.9M304.9 253.2h.9M338.4 209.3h.9M281.0 184.8h.9M295.5 222.7h.9M281.2 230.6h.9M299.6 228.9h.9M319.6 244.6h.9M327.2 210.6h.9M314.7 249.6h.9M281.4 184.3h.9M294.9 174.5h.9M293.2 187.3h.9M336.7 186.5h.9M307.9 190.6h.9M321.8 192.5h.9M276.6 187.1h.9M271.7 225.9h.9M320.2 192.2h.9M341.1 222.0h.9M292.4 212.4h.9M311.1 246.7h.9M293.4 230.2h.9M309.7 204.4h.9M332.2 220.7h.9M282.6 200.6h.9M292.9 207.5h.9M340.8 240.1h.9M322.8 216.8h.9M338.3 185.9h.9M314.7 210.3h.9M312.5 215.5h.9M300.3 195.2h.9M326.3 207.4h.9M339.2 190.9h.9M274.2 215.1h.9M305.0 228.1h.9M296.4 242.7h.9M326.4 217.7h.9M305.0 250.3h.9M299.1 198.7h.9M281.5 203.5h.9M268.3 214.0h.9M334.0 214.2h.9M301.5 227.8h.9M290.1 183.1h.9M282.4 233.5h.9M294.5 238.1h.9M317.2 198.5h.9M286.3 187.0h.9M280.5 183.8h.9M311.9 171.9h.9M289.9 211.4h.9M331.6 243.3h.9M319.0 174.1h.9M322.4 237.0h.9M329.3 208.9h.9M346.7 198.0h.9M328.5 228.5h.9M318.3 195.2h.9M324.8 199.8h.9M280.1 215.4h.9M274.0 221.6h.9M331.4 197.0h.9M335.9 210.9h.9M326.6 218.5h.9M302.7 188.2h.9M269.1 199.6h.9M296.9 196.7h.9M314.1 201.3h.9M292.8 217.4h.9M333.4 192.8h.9M270.1 202.5h.9M315.9 214.8h.9M326.1 199.7h.9M274.4 193.2h.9M298.9 223.7h.9M319.0 182.7h.9M314.9 242.1h.9M318.1 231.3h.9M344.4 212.8h.9M325.5 209.1h.9M319.3 203.9h.9M298.7 217.8h.9M335.2 182.7h.9M290.2 218.2h.9M304.4 229.0h.9M283.1 211.6h.9M293.2 223.4h.9M315.9 185.8h.9M312.9 203.3h.9M302.5 194.8h.9M282.6 189.6h.9M288.1 237.8h.9M338.0 187.1h.9M296.2 208.5h.9M275.9 222.2h.9M302.0 185.0h.9M326.4 227.9h.9M318.3 238.2h.9M322.5 177.1h.9M267.1 206.0h.9M282.3 233.1h.9M312.1 180.0h.9M298.9 220.2h.9M314.1 208.6h.9M278.9 201.9h.9M293.4 230.7h.9M315.7 206.4h.9M314.0 234.4h.9M329.8 196.8h.9M305.5 194.1h.9M308.5 209.3h.9M306.4 222.1h.9M297.4 213.3h.9M323.7 214.3h.9M323.1 199.6h.9M333.7 197.5h.9M316.3 206.6h.9M314.3 219.8h.9M301.5 189.3h.9M305.2 203.0h.9M333.5 207.1h.9M309.3 205.0h.9M334.5 220.9h.9M305.3 215.6h.9M325.2 200.0h.9M309.2 208.6h.9M326.7 223.7h.9M314.4 204.4h.9M324.3 201.4h.9M299.2 210.4h.9M309.1 206.8h.9M321.2 210.8h.9M318.8 183.5h.9M338.0 198.2h.9M316.7 185.1h.9M308.5 230.6h.9M313.7 220.7h.9M288.3 222.5h.9M311.1 215.0h.9M320.3 202.3h.9M323.2 223.3h.9M324.6 190.5h.9M313.0 212.4h.9M321.5 202.4h.9M316.2 204.8h.9M304.6 230.9h.9M308.7 214.6h.9M314.8 216.3h.9M304.5 207.4h.9M321.5 213.1h.9M311.1 209.1h.9M309.1 204.1h.9M309.3 233.0h.9M337.3 205.2h.9M326.4 212.0h.9M314.1 208.8h.9M317.4 211.3h.9M305.8 202.5h.9M316.6 186.5h.9M306.4 214.0h.9M315.3 232.4h.9M305.7 233.2h.9M308.2 207.9h.9M317.4 197.2h.9M318.6 197.6h.9M322.3 235.8h.9M317.8 227.8h.9M323.7 194.5h.9M332.2 205.5h.9M316.3 225.8h.9M324.9 206.8h.9M312.8 225.1h.9M299.8 215.3h.9M325.7 209.9h.9M305.6 200.2h.9M328.7 206.7h.9M313.2 206.4h.9M314.4 202.9h.9M303.0 195.0h.9M316.6 182.1h.9M291.1 219.8h.9M298.1 209.1h.9M320.7 216.6h.9M318.1 207.2h.9M306.6 210.1h.9M302.2 214.9h.9M309.0 218.0h.9M303.0 205.8h.9M315.4 188.5h.9M290.7 211.1h.9M316.7 203.3h.9M318.8 182.2h.9M306.9 229.1h.9M322.5 219.7h.9M317.6 213.3h.9M340.4 221.5h.9M334.8 204.4h.9M318.1 208.3h.9M303.7 209.2h.9M317.5 213.9h.9M301.1 216.1h.9M313.0 211.8h.9M298.9 207.9h.9M329.4 211.6h.9M332.9 206.4h.9M310.6 221.7h.9M301.4 218.2h.9M313.6 222.4h.9M312.6 189.0h.9M292.8 206.6h.9M317.6 205.3h.9M319.7 209.8h.9M311.8 212.3h.9M305.2 218.0h.9M317.0 208.7h.9M317.9 218.2h.9M301.7 184.6h.9M321.9 199.0h.9M318.9 200.8h.9M328.0 193.2h.9M315.4 203.1h.9M326.2 227.7h.9M316.3 205.0h.9M305.5 216.4h.9M329.6 204.2h.9M315.5 215.6h.9M317.8 221.1h.9M296.8 196.6h.9M322.2 220.3h.9M332.8 194.1h.9M307.3 217.8h.9M321.2 209.6h.9M322.2 196.4h.9M309.3 205.9h.9M300.9 201.7h.9M329.0 242.1h.9M302.0 205.3h.9M297.2 208.9h.9M323.1 207.9h.9M324.5 210.4h.9M329.0 212.9h.9M310.5 220.4h.9M295.1 211.0h.9M316.5 211.8h.9M304.5 214.5h.9M327.6 207.1h.9M330.5 204.3h.9M311.0 183.2h.9M305.3 229.1h.9M308.7 206.6h.9M325.4 206.3h.9M309.5 192.6h.9M320.6 206.9h.9M310.6 189.0h.9M331.4 219.2h.9M330.8 205.9h.9M313.4 195.2h.9M309.1 207.8h.9M331.4 206.6h.9M300.4 216.7h.9M319.4 217.4h.9M316.9 200.7h.9M309.9 223.7h.9M320.7 189.2h.9M315.1 203.7h.9M323.3 204.8h.9M302.2 203.2h.9M323.4 217.9h.9M321.9 218.1h.9M304.1 218.9h.9M329.9 198.0h.9M318.8 189.2h.9M308.0 198.1h.9M311.5 233.3h.9M326.5 205.3h.9M299.8 213.3h.9M322.4 213.1h.9M325.9 227.1h.9M342.5 210.5h.9M307.9 215.2h.9M308.6 228.1h.9M303.1 206.9h.9M326.0 223.3h.9M321.0 214.0h.9M342.8 201.6h.9M325.6 204.9h.9M322.3 211.6h.9M307.3 189.5h.9M333.3 196.1h.9M304.2 209.1h.9M324.9 207.8h.9M295.6 209.3h.9M300.7 222.3h.9M322.9 246.5h.9M330.0 221.5h.9M310.6 211.3h.9M311.6 212.2h.9M307.3 207.7h.9M303.4 210.3h.9M316.4 212.3h.9M330.6 211.2h.9M309.7 183.7h.9M333.5 202.2h.9M313.2 190.9h.9M320.4 210.8h.9M314.9 198.0h.9M320.1 216.2h.9M291.0 200.1h.9M317.3 199.1h.9M319.3 197.3h.9M322.6 209.4h.9M314.4 231.5h.9M298.3 184.6h.9M306.1 217.2h.9M340.8 205.8h.9M292.8 239.4h.9M296.0 214.3h.9M326.1 204.1h.9M309.9 199.5h.9M299.4 213.7h.9M308.1 221.7h.9M318.8 206.3h.9M325.5 202.4h.9M335.9 186.3h.9M324.7 220.7h.9M313.5 206.8h.9M314.1 194.5h.9M324.8 205.5h.9M317.2 197.4h.9M307.8 223.1h.9M311.5 221.0h.9M310.5 238.1h.9M315.8 217.1h.9M325.4 197.3h.9M323.7 227.8h.9M319.0 205.5h.9M303.4 203.3h.9M306.7 227.0h.9M321.6 215.0h.9M341.7 206.5h.9M310.3 207.2h.9M316.7 210.7h.9M305.8 218.4h.9M335.0 218.5h.9M336.1 218.5h.9M326.3 209.0h.9M333.1 207.5h.9M317.2 215.0h.9M319.5 201.6h.9M327.3 211.1h.9M316.2 210.6h.9M292.1 206.3h.9M302.2 208.6h.9M309.8 215.0h.9M315.7 223.9h.9M316.6 190.3h.9M335.5 187.6h.9M330.6 203.6h.9M339.9 209.0h.9M327.7 201.7h.9M319.2 218.6h.9M320.6 186.3h.9M321.2 212.3h.9M319.6 212.8h.9M316.3 218.1h.9M325.9 212.6h.9M315.1 209.3h.9M298.0 191.3h.9M337.4 216.3h.9M347.5 207.6h.9M311.8 205.0h.9M322.2 215.0h.9M321.9 223.8h.9M326.0 216.1h.9M299.3 209.2h.9M301.8 197.7h.9M335.1 222.3h.9M310.8 222.9h.9M302.5 219.6h.9M315.4 226.1h.9M325.9 182.4h.9M304.8 208.7h.9M310.1 239.3h.9M293.2 187.8h.9M315.9 189.9h.9M317.5 198.5h.9M329.9 214.8h.9M333.3 193.0h.9M313.6 207.9h.9M303.1 189.6h.9M305.7 208.0h.9M310.3 213.8h.9M328.0 206.5h.9M330.6 208.6h.9M330.4 221.3h.9M308.1 249.6h.9M331.3 196.5h.9M300.8 220.3h.9M315.6 221.2h.9M332.3 187.9h.9M319.8 205.1h.9M314.0 224.6h.9M298.4 217.7h.9M315.2 194.8h.9M308.3 204.0h.9M339.9 186.4h.9M328.9 197.5h.9M288.1 214.3h.9M320.0 208.7h.9M326.1 196.6h.9M323.3 221.2h.9M311.1 220.0h.9M329.8 204.1h.9M332.0 206.9h.9M304.2 210.4h.9M304.8 226.2h.9M297.2 197.8h.9M312.9 221.9h.9M309.1 209.5h.9M314.4 212.8h.9M309.6 199.9h.9M311.8 187.7h.9M305.9 242.3h.9M305.9 202.6h.9M320.1 201.1h.9M325.7 188.1h.9M310.2 195.5h.9M319.1 211.3h.9M335.7 191.2h.9M298.2 197.4h.9M327.0 223.5h.9M308.1 211.5h.9M314.5 196.6h.9M331.0 224.6h.9M284.6 218.8h.9M321.2 204.8h.9M333.3 193.1h.9M331.0 221.6h.9M333.5 219.4h.9M337.0 196.6h.9M324.0 199.3h.9M324.4 210.1h.9M301.2 197.7h.9M324.2 201.1h.9M314.0 196.7h.9M310.0 224.0h.9M330.3 211.3h.9M309.6 213.7h.9M335.7 204.2h.9M311.8 220.4h.9M306.9 210.0h.9M299.4 212.7h.9M313.2 223.1h.9M312.1 219.5h.9M317.9 190.2h.9M338.4 220.9h.9M315.2 202.0h.9M312.6 226.6h.9M308.2 220.2h.9M303.3 207.0h.9M315.9 219.3h.9M335.3 211.8h.9M336.7 213.1h.9M319.2 213.6h.9M313.5 221.1h.9M301.0 220.7h.9M324.8 199.5h.9M326.3 224.8h.9M333.6 204.2h.9M304.8 212.5h.9M314.8 206.8h.9M292.3 227.4h.9M323.5 203.1h.9M304.9 210.3h.9M326.9 208.8h.9M312.5 229.8h.9M302.9 204.1h.9M316.5 204.7h.9M303.3 238.2h.9M308.5 214.9h.9M312.4 193.0h.9M331.8 205.6h.9M316.9 205.8h.9M314.0 196.5h.9M297.0 200.0h.9M320.2 212.8h.9M297.5 205.8h.9M302.9 223.8h.9M314.3 212.2h.9M315.6 218.6h.9M315.1 189.5h.9M315.7 220.7h.9M306.1 217.2h.9M333.2 203.7h.9M333.0 204.8h.9M335.8 230.9h.9M297.1 207.2h.9M321.9 223.4h.9M311.3 215.3h.9M323.7 219.8h.9M303.0 216.7h.9M305.8 208.4h.9M314.9 200.0h.9M308.9 214.4h.9M305.6 184.8h.9M306.5 202.4h.9M322.3 221.7h.9M325.1 204.5h.9M307.0 227.8h.9M311.2 215.8h.9M303.7 220.3h.9M321.3 219.0h.9M303.0 208.3h.9M331.7 222.2h.9M301.9 193.8h.9M291.1 213.5h.9M331.1 211.3h.9M308.5 209.5h.9M323.7 218.3h.9M315.3 215.8h.9M321.1 206.4h.9M307.8 210.9h.9M318.0 195.0h.9M315.5 219.2h.9M317.0 185.6h.9M331.3 193.1h.9M299.9 186.1h.9M322.1 205.7h.9M317.1 203.0h.9M292.7 197.6h.9M299.9 189.3h.9M319.8 217.2h.9M304.3 212.4h.9M334.3 209.6h.9M317.4 219.1h.9M334.6 212.8h.9M308.2 205.3h.9M308.8 212.3h.9M296.2 228.7h.9M322.4 219.2h.9M322.1 204.4h.9M324.2 201.8h.9M328.8 211.4h.9M311.9 197.0h.9M302.5 220.6h.9M300.9 219.0h.9M330.6 193.5h.9M310.7 226.8h.9M306.9 207.3h.9M334.6 212.1h.9M327.2 200.1h.9M298.9 195.8h.9M331.5 202.7h.9M315.1 195.0h.9M323.0 207.2h.9M321.6 191.9h.9M304.8 211.7h.9M310.6 206.2h.9M318.2 213.7h.9M319.3 210.7h.9M331.4 196.1h.9M315.8 208.1h.9M312.6 219.2h.9M321.5 197.6h.9M293.9 221.0h.9M329.2 192.7h.9M305.4 222.6h.9M299.3 196.9h.9M318.1 210.8h.9M306.4 200.7h.9M310.8 193.1h.9M313.7 199.6h.9M322.4 207.8h.9M312.6 189.0h.9M331.3 220.9h.9M336.1 224.6h.9M323.0 201.0h.9M316.4 221.1h.9M305.4 198.7h.9M307.3 209.1h.9M318.8 216.9h.9M303.6 224.2h.9M311.5 197.1h.9M314.9 212.6h.9M336.6 192.8h.9M326.4 204.1h.9M323.1 197.4h.9M319.8 197.8h.9M319.2 197.3h.9M300.3 221.8h.9M333.9 193.7h.9M306.6 221.7h.9M328.8 212.0h.9M317.3 193.2h.9M323.1 208.1h.9M331.8 228.9h.9M309.1 173.4h.9M325.3 190.4h.9M306.5 185.6h.9M301.3 202.2h.9M320.4 219.9h.9M323.3 245.4h.9M325.7 209.5h.9M308.6 226.5h.9M300.6 222.9h.9M303.7 209.7h.9M298.3 218.1h.9M294.7 185.4h.9M321.7 240.6h.9M323.8 177.9h.9M319.4 203.7h.9M322.4 186.8h.9M342.1 205.9h.9M292.6 210.5h.9M296.2 226.5h.9M328.1 211.7h.9M311.6 203.3h.9M325.9 219.4h.9M334.1 219.6h.9M324.3 212.7h.9M314.4 213.1h.9M328.5 198.9h.9M316.5 195.2h.9M300.1 204.0h.9M300.2 242.3h.9M296.8 199.5h.9M314.7 208.0h.9M305.7 218.1h.9M302.0 211.0h.9M318.3 209.6h.9M315.3 212.0h.9M317.2 201.4h.9M306.1 203.4h.9M329.3 225.6h.9M307.0 213.7h.9M303.6 215.2h.9M308.8 190.1h.9M319.7 191.0h.9M314.3 209.3h.9M314.5 211.9h.9M318.2 234.0h.9M311.0 197.9h.9M320.1 212.6h.9M326.1 205.8h.9M307.4 206.9h.9M325.2 200.2h.9M314.4 216.1h.9M315.5 202.1h.9M319.9 195.6h.9M312.2 209.8h.9M314.2 204.5h.9M303.4 193.9h.9M313.1 192.4h.9M333.7 225.4h.9M319.4 202.3h.9M316.0 202.2h.9M306.2 197.6h.9M319.6 211.7h.9M286.7 199.6h.9M299.4 192.2h.9M329.0 224.9h.9M298.7 204.1h.9M331.7 206.3h.9M319.8 207.2h.9M336.5 202.7h.9M301.8 192.6h.9M328.7 209.2h.9M314.6 191.6h.9M323.9 211.6h.9M331.3 213.0h.9M314.2 229.7h.9M312.2 176.9h.9M297.3 224.8h.9M328.2 218.2h.9M327.6 188.8h.9M312.5 215.8h.9M329.5 202.1h.9M334.7 211.2h.9M322.2 216.5h.9M303.2 221.2h.9M304.9 189.8h.9M327.5 207.6h.9M315.2 210.8h.9M331.5 209.2h.9M296.2 210.7h.9M294.5 215.0h.9M306.5 230.5h.9M295.7 209.4h.9M322.3 203.7h.9M305.6 220.5h.9M317.9 197.9h.9M327.8 208.5h.9M304.8 201.4h.9M320.0 215.9h.9M303.4 215.7h.9M330.0 193.7h.9M312.3 207.0h.9M335.1 225.8h.9M310.2 212.0h.9M320.4 229.2h.9M321.3 227.1h.9M326.8 210.4h.9M310.2 199.2h.9M316.5 220.7h.9M326.9 212.8h.9M319.6 193.8h.9M299.0 201.0h.9M326.7 183.1h.9M294.0 199.8h.9M342.5 204.9h.9M316.7 213.6h.9M295.9 193.6h.9M301.0 231.5h.9M325.5 197.1h.9M326.4 199.5h.9M304.6 210.4h.9M311.8 219.9h.9M320.4 222.1h.9M314.0 192.3h.9M314.8 211.5h.9M325.4 224.4h.9M319.9 195.6h.9M323.1 218.6h.9M326.1 214.7h.9M325.5 221.5h.9M302.7 191.1h.9M313.6 211.9h.9M300.5 215.8h.9M333.4 203.6h.9M315.5 232.2h.9M325.6 204.6h.9M329.7 214.9h.9M322.3 216.9h.9M298.3 232.7h.9M324.4 214.1h.9M314.5 229.3h.9M335.7 216.9h.9M294.1 226.1h.9M308.2 198.5h.9M320.8 204.2h.9M307.2 200.1h.9M315.1 197.5h.9M305.9 217.7h.9M305.0 217.8h.9M305.3 204.0h.9M310.1 228.8h.9M309.9 218.5h.9M295.0 208.3h.9M317.0 210.6h.9M332.9 228.6h.9M322.9 207.1h.9M303.5 194.8h.9M301.1 208.2h.9M322.4 214.3h.9M307.2 199.4h.9M329.2 216.3h.9M331.0 206.2h.9M301.4 200.6h.9M314.2 215.3h.9M320.2 205.6h.9M306.4 216.5h.9M323.4 200.9h.9M336.7 210.3h.9M317.7 219.1h.9M339.5 206.7h.9M321.5 194.2h.9M324.8 218.7h.9M312.2 195.8h.9M320.0 215.4h.9M313.3 196.7h.9M301.7 211.3h.9M329.5 197.1h.9M303.7 210.8h.9M320.4 206.4h.9M313.3 216.3h.9M312.8 207.7h.9M316.4 189.6h.9M320.5 200.6h.9M323.4 213.1h.9M326.3 216.2h.9M328.7 201.5h.9M310.2 199.4h.9M311.0 199.7h.9M304.1 206.8h.9M332.1 216.0h.9M292.9 218.8h.9M322.0 210.6h.9M297.2 215.9h.9M310.3 233.4h.9M310.6 211.5h.9M310.3 215.4h.9M331.2 226.7h.9M309.1 196.4h.9M317.6 226.2h.9M320.9 239.2h.9M309.8 203.2h.9M299.8 201.7h.9M316.6 210.2h.9M346.6 200.4h.9M317.4 229.7h.9M297.4 214.6h.9M316.4 202.4h.9M304.3 215.3h.9M321.7 227.7h.9M314.6 198.5h.9M311.3 207.4h.9M317.1 204.3h.9M321.0 211.6h.9M311.2 213.4h.9M322.7 220.2h.9M331.7 239.9h.9M322.5 189.5h.9M317.4 201.9h.9M320.5 176.6h.9M327.4 191.5h.9M309.6 208.3h.9M310.9 213.4h.9M308.5 207.8h.9M305.5 199.6h.9M317.7 201.3h.9M308.2 204.2h.9M345.8 198.1h.9M323.9 198.6h.9M331.8 192.7h.9M310.5 213.5h.9M320.2 190.9h.9M327.6 214.0h.9M323.9 202.2h.9M312.1 216.0h.9M295.2 226.1h.9M305.1 188.9h.9M318.8 196.5h.9M319.7 210.9h.9M335.4 210.3h.9M326.4 205.5h.9M309.0 214.7h.9M323.9 213.4h.9M331.6 213.1h.9M324.4 208.2h.9M315.4 203.4h.9M313.0 216.6h.9M309.2 206.5h.9M318.8 195.0h.9M320.6 199.0h.9M327.5 210.7h.9M329.4 215.5h.9M294.9 244.4h.9M314.3 196.1h.9M332.8 193.1h.9M306.8 204.3h.9M332.6 217.4h.9M308.1 205.6h.9M326.2 209.8h.9M321.3 205.0h.9M321.7 204.2h.9M305.7 231.7h.9M310.7 218.6h.9M291.8 193.1h.9M307.8 198.4h.9M306.9 206.0h.9M319.9 205.3h.9M314.1 212.4h.9M315.6 176.6h.9M332.4 218.3h.9M314.3 223.4h.9M336.1 199.6h.9M314.0 222.6h.9M304.5 214.2h.9M310.8 213.4h.9M313.7 223.5h.9M318.6 210.1h.9M323.8 225.3h.9M325.0 196.9h.9M320.3 219.1h.9M306.3 210.6h.9M319.9 203.6h.9M316.8 229.0h.9M312.6 209.9h.9M309.7 204.8h.9M329.1 223.4h.9M322.0 219.3h.9M305.1 212.9h.9M338.2 202.6h.9M313.5 195.7h.9M317.1 204.1h.9M303.7 221.5h.9M298.4 198.8h.9M299.3 193.0h.9M299.5 209.9h.9M318.3 223.6h.9M291.9 216.1h.9M334.7 192.9h.9M300.3 209.3h.9M313.1 196.2h.9M320.2 220.3h.9M342.8 200.2h.9M306.3 195.3h.9M326.0 194.7h.9M302.3 207.4h.9M308.0 211.4h.9M313.6 204.5h.9M304.2 197.2h.9M311.0 204.6h.9M314.9 205.9h.9M325.1 213.7h.9M326.6 214.5h.9M320.9 210.7h.9M308.0 236.2h.9M306.3 217.4h.9M310.2 194.4h.9M304.3 202.3h.9M347.4 220.3h.9M321.3 200.6h.9M316.6 207.3h.9M324.3 180.4h.9M308.0 203.2h.9M318.6 184.1h.9M334.6 186.0h.9M323.2 204.4h.9M317.0 213.4h.9M307.2 204.8h.9M325.6 205.3h.9M298.0 202.8h.9M349.1 210.0h.9M303.9 193.7h.9M304.6 207.6h.9M319.9 215.5h.9M305.5 205.7h.9M302.8 204.6h.9M322.2 222.4h.9M325.0 224.1h.9M319.2 217.8h.9M302.1 215.2h.9M318.2 200.7h.9M323.6 219.4h.9M315.1 240.4h.9M326.0 209.3h.9M314.5 212.5h.9M293.8 205.6h.9M318.0 210.2h.9M328.5 211.0h.9M310.1 195.8h.9M313.5 219.4h.9M290.4 214.7h.9M311.3 222.2h.9M321.6 228.8h.9M315.0 208.8h.9M328.0 209.5h.9M312.9 197.3h.9M332.7 206.4h.9M306.1 203.5h.9M302.6 194.1h.9M319.3 220.0h.9M338.2 226.0h.9M328.6 213.3h.9M310.3 227.4h.9M293.5 206.6h.9M304.6 197.0h.9M315.8 205.3h.9M338.8 229.1h.9M317.7 214.4h.9M324.2 211.3h.9M309.9 218.9h.9M313.6 226.4h.9M323.7 242.4h.9M322.3 203.5h.9M317.0 213.2h.9M327.2 200.5h.9M325.6 214.3h.9M321.4 210.6h.9M310.3 196.7h.9M300.2 212.6h.9M300.9 231.3h.9M330.8 201.4h.9M319.6 223.3h.9M315.9 201.0h.9M293.0 201.3h.9M320.9 188.0h.9M305.1 187.6h.9M317.2 205.0h.9M326.3 182.1h.9M328.1 187.3h.9M317.1 200.9h.9M326.8 224.9h.9M319.2 206.7h.9M323.3 190.0h.9M324.4 205.7h.9M317.7 208.3h.9M300.3 211.7h.9M305.9 225.2h.9M328.3 220.2h.9M304.2 228.8h.9M329.9 192.5h.9M321.0 213.0h.9M322.4 203.1h.9M317.4 206.1h.9M296.6 207.5h.9M311.2 211.7h.9M315.0 225.7h.9M319.3 201.9h.9M290.7 227.4h.9M333.3 227.0h.9M324.7 199.0h.9M338.2 213.0h.9M307.2 217.8h.9M307.4 229.0h.9M302.9 215.8h.9M310.6 200.8h.9M324.7 208.9h.9M294.8 202.8h.9M312.6 231.7h.9M309.6 218.9h.9M315.9 205.6h.9M335.1 217.6h.9M317.7 222.1h.9M309.2 225.4h.9M315.0 203.3h.9M312.0 193.2h.9M315.1 199.4h.9M312.4 210.0h.9M336.1 220.6h.9M323.9 228.9h.9M313.1 198.9h.9M341.8 199.6h.9M318.5 212.7h.9M312.1 208.6h.9M317.1 194.5h.9M306.1 220.0h.9M328.9 201.8h.9M311.1 211.7h.9M322.6 212.6h.9M307.9 207.8h.9M324.6 220.4h.9M311.0 202.7h.9M295.3 212.7h.9M326.7 219.8h.9M323.4 181.5h.9M324.1 220.6h.9M343.1 200.1h.9M328.5 205.0h.9M307.2 210.7h.9M313.7 188.1h.9M330.8 212.8h.9M319.3 202.4h.9M331.4 198.6h.9M302.9 195.2h.9M302.4 214.7h.9M298.5 213.7h.9M324.9 208.7h.9M328.8 197.4h.9M313.8 215.6h.9M331.7 201.0h.9M328.4 194.6h.9M312.9 217.2h.9M318.7 215.2h.9M308.5 219.7h.9M314.8 213.0h.9M321.4 202.3h.9M330.9 205.6h.9M319.0 203.5h.9M318.3 204.8h.9M309.7 207.7h.9M301.1 196.6h.9M318.6 203.6h.9M300.0 220.6h.9M309.0 233.1h.9M328.1 202.2h.9M316.5 196.8h.9M294.9 221.6h.9M328.7 200.8h.9M314.8 204.3h.9M317.5 214.8h.9M309.9 220.9h.9M315.6 212.0h.9M326.4 228.6h.9M315.5 214.7h.9M307.4 213.4h.9M333.7 188.7h.9M290.8 197.9h.9M296.9 222.9h.9M304.7 225.3h.9M329.1 190.7h.9M295.0 202.6h.9M320.6 215.2h.9M311.0 212.5h.9M311.6 221.3h.9M313.6 208.5h.9M317.3 223.0h.9M323.9 225.8h.9M307.5 224.0h.9M293.3 208.4h.9M305.9 195.2h.9M312.2 199.8h.9M305.2 217.4h.9M321.3 215.8h.9M304.7 209.7h.9M329.1 205.2h.9M321.6 181.7h.9M324.6 215.7h.9M317.8 223.9h.9M312.0 192.5h.9M321.6 223.4h.9M307.4 227.2h.9M342.4 215.1h.9M301.5 191.6h.9M316.8 221.6h.9M305.0 223.2h.9M313.4 212.0h.9M320.6 220.4h.9M309.1 205.2h.9M330.5 186.2h.9M329.6 224.3h.9M311.8 202.0h.9M305.1 225.1h.9M296.6 210.5h.9M307.3 214.7h.9M300.9 205.7h.9M306.2 224.5h.9M302.4 225.4h.9M321.7 201.4h.9M307.1 219.3h.9M339.9 200.4h.9M332.7 203.5h.9M317.1 207.1h.9M334.2 183.9h.9M320.6 208.0h.9M327.7 200.4h.9M314.8 216.6h.9M308.2 190.7h.9M311.7 212.9h.9M312.2 223.6h.9M322.3 209.8h.9M321.5 192.5h.9M314.1 208.0h.9M308.2 198.5h.9M321.6 196.5h.9M335.3 224.7h.9M335.1 223.9h.9M304.1 232.4h.9M334.7 215.2h.9M323.3 216.8h.9M336.2 224.0h.9M315.9 222.6h.9M313.0 192.8h.9M319.7 205.6h.9M325.4 215.3h.9M301.5 222.5h.9M310.4 195.2h.9M316.3 215.1h.9M317.1 217.9h.9M326.4 200.1h.9M306.9 189.3h.9M301.7 204.1h.9M312.5 199.5h.9M326.5 208.4h.9M319.6 225.9h.9M298.5 209.3h.9M319.7 215.6h.9M323.6 196.5h.9M295.7 205.0h.9M338.8 210.2h.9M315.9 209.0h.9M322.1 238.6h.9M321.7 213.8h.9M323.7 216.4h.9M315.3 205.3h.9M328.0 211.1h.9M320.7 221.2h.9M315.5 204.8h.9M338.9 219.3h.9M317.9 215.4h.9M323.3 218.8h.9M326.1 221.8h.9M336.1 208.3h.9M313.6 208.0h.9M319.5 204.9h.9M328.8 208.5h.9M309.0 225.5h.9M310.4 220.7h.9M327.5 222.5h.9M310.6 206.2h.9M333.8 227.5h.9M314.9 198.0h.9M297.5 200.7h.9M290.8 210.3h.9M305.1 214.3h.9M320.5 191.2h.9M306.7 190.1h.9M336.2 226.4h.9M317.1 202.2h.9M334.2 200.6h.9M311.7 214.7h.9M325.1 218.1h.9M319.6 208.5h.9M306.8 181.9h.9M318.4 183.7h.9M329.3 196.6h.9M309.1 215.5h.9M317.4 210.5h.9M302.2 182.7h.9M344.4 202.0h.9M318.6 212.2h.9M304.2 204.2h.9M316.1 202.2h.9M327.8 183.7h.9M316.1 206.4h.9M313.5 205.1h.9M304.5 190.0h.9M322.7 224.4h.9M316.6 195.0h.9M324.2 216.2h.9M324.0 205.1h.9M309.3 205.1h.9M302.8 213.7h.9M301.6 197.9h.9M328.6 214.4h.9M318.5 191.8h.9M298.0 209.9h.9M322.9 202.3h.9M310.9 232.5h.9M308.0 197.1h.9M309.1 206.9h.9M314.2 198.6h.9M308.5 205.4h.9M319.1 221.7h.9M320.1 197.8h.9M320.8 217.4h.9M308.9 225.0h.9M302.8 233.9h.9M320.2 209.2h.9M315.7 179.9h.9M316.8 200.4h.9M300.8 213.6h.9M308.6 207.6h.9M303.3 217.6h.9M307.9 206.6h.9M301.0 207.6h.9M321.8 208.2h.9M329.9 208.5h.9M318.4 206.7h.9M326.7 204.0h.9M316.6 201.2h.9M307.0 199.8h.9M302.1 193.7h.9M309.1 212.1h.9M313.3 203.3h.9M293.7 214.8h.9M323.8 205.2h.9M302.4 194.8h.9M338.3 219.6h.9M311.1 223.8h.9M308.7 211.9h.9M341.0 225.0h.9M338.0 209.8h.9M311.8 215.1h.9M323.3 213.9h.9M313.6 211.5h.9M316.6 206.3h.9M312.7 218.8h.9M323.6 207.9h.9M316.5 232.5h.9M315.2 218.5h.9M303.7 215.2h.9M305.0 232.7h.9M301.5 199.1h.9M313.5 219.8h.9M315.4 233.2h.9M332.8 196.9h.9M314.3 205.7h.9M308.0 215.4h.9M312.7 216.1h.9M322.0 223.3h.9M322.1 221.1h.9M317.4 195.0h.9M336.4 226.9h.9M323.4 192.6h.9M316.2 193.5h.9M306.5 209.4h.9M342.6 200.7h.9M327.1 211.4h.9M313.7 198.8h.9M317.0 189.9h.9M307.2 219.9h.9M321.3 226.6h.9M323.3 192.7h.9M337.5 223.6h.9M311.7 199.7h.9M311.1 204.0h.9M296.8 210.6h.9M323.3 217.0h.9M321.7 208.3h.9M312.6 220.6h.9M313.9 205.4h.9M313.4 201.6h.9M321.9 222.8h.9M316.7 197.0h.9M323.3 212.8h.9M300.5 207.9h.9M318.7 195.8h.9M315.3 209.0h.9M320.4 193.3h.9M327.6 186.7h.9M310.5 197.1h.9M319.1 191.5h.9M310.8 200.5h.9M324.4 219.4h.9M316.5 211.6h.9M310.9 217.3h.9M300.0 204.5h.9M317.3 207.5h.9M315.0 205.4h.9M308.6 220.1h.9M320.9 205.2h.9M322.4 204.5h.9M302.2 222.7h.9M308.0 187.8h.9M323.3 222.1h.9M327.8 200.5h.9M311.0 201.2h.9M318.4 209.1h.9M319.7 195.4h.9M324.2 229.3h.9M309.3 193.3h.9M342.0 221.8h.9M329.8 226.3h.9M331.0 211.9h.9M329.9 202.0h.9M307.3 220.4h.9M302.1 230.2h.9M278.7 221.5h.9M317.4 213.4h.9M322.4 214.5h.9M323.9 204.0h.9M311.5 223.2h.9M294.0 201.4h.9M315.9 230.7h.9M307.0 213.6h.9M334.7 196.9h.9M314.0 201.2h.9M298.8 214.6h.9M311.6 225.1h.9M330.7 213.6h.9M331.6 227.9h.9M327.3 199.7h.9M304.0 205.5h.9M319.5 201.3h.9M311.5 219.7h.9M304.4 207.1h.9M309.2 209.4h.9M288.2 212.4h.9M295.6 207.4h.9M332.0 205.3h.9M313.0 198.6h.9M292.3 215.4h.9M328.7 215.2h.9M294.3 221.2h.9M322.2 202.9h.9M318.4 198.0h.9M317.9 206.2h.9M328.4 230.4h.9M348.9 204.4h.9M343.2 206.6h.9M332.1 202.3h.9M322.0 207.4h.9M314.7 191.2h.9M327.0 188.9h.9M299.8 230.6h.9M322.9 189.2h.9M303.5 221.1h.9M306.2 210.4h.9M329.3 209.8h.9M320.3 227.7h.9M294.4 205.5h.9M320.5 217.0h.9M319.4 207.2h.9M324.2 215.7h.9M316.7 188.1h.9M306.9 213.7h.9M310.1 199.9h.9M305.9 224.7h.9M307.6 226.0h.9M319.7 187.0h.9M324.3 202.4h.9M322.0 212.9h.9M298.1 221.2h.9M327.2 225.9h.9M336.8 222.4h.9M311.6 219.4h.9M302.2 214.6h.9M314.0 212.3h.9M321.3 207.5h.9M331.9 213.9h.9M305.8 217.1h.9M315.1 195.4h.9M318.5 213.6h.9M318.6 223.2h.9M311.6 217.1h.9M304.2 202.1h.9M306.5 216.7h.9M303.1 205.6h.9M303.6 184.7h.9M304.4 199.0h.9M322.8 198.8h.9M318.4 221.0h.9M342.1 206.6h.9M303.7 193.8h.9M315.9 217.2h.9M324.2 208.1h.9M323.8 209.3h.9M328.8 203.8h.9M312.3 208.7h.9M329.2 209.0h.9M308.4 207.2h.9M323.3 203.3h.9M301.1 222.0h.9M313.3 199.2h.9M319.1 190.9h.9M335.1 199.5h.9M318.8 210.7h.9M306.6 206.5h.9M303.6 198.6h.9M297.0 195.0h.9M314.4 217.5h.9M318.2 207.4h.9M317.3 224.0h.9M283.7 197.7h.9M316.9 200.5h.9M288.5 213.4h.9M305.1 207.6h.9M328.1 222.7h.9M322.2 203.0h.9M292.1 210.2h.9M316.5 212.5h.9M322.3 194.6h.9M325.1 195.2h.9M327.1 210.3h.9M309.3 223.2h.9M294.1 216.1h.9M320.1 210.8h.9M315.7 199.3h.9M327.2 211.9h.9M315.1 226.6h.9M329.3 211.2h.9M285.5 209.1h.9M314.1 200.6h.9M316.5 203.5h.9M309.9 199.2h.9M303.2 210.9h.9M318.8 212.9h.9M326.7 204.6h.9M319.3 206.9h.9M322.0 202.2h.9M305.4 209.4h.9M313.3 212.9h.9M317.3 209.0h.9M301.3 212.0h.9M328.1 201.6h.9M294.6 216.1h.9M320.7 224.6h.9M318.2 191.3h.9M321.6 220.0h.9M320.5 229.9h.9M315.1 232.6h.9M309.9 231.6h.9M307.8 214.3h.9M328.2 204.8h.9M337.5 194.2h.9M317.2 201.5h.9M304.9 209.0h.9M310.6 220.9h.9M327.9 216.8h.9M320.4 212.9h.9M327.2 204.0h.9M298.1 205.2h.9M347.5 200.7h.9M329.4 202.4h.9M334.9 215.6h.9M308.9 214.1h.9M300.4 220.6h.9M329.9 216.9h.9M308.2 194.1h.9M322.9 214.9h.9M308.6 211.6h.9M317.5 196.7h.9M320.9 219.5h.9M314.4 224.9h.9M310.0 189.6h.9M301.0 214.8h.9M326.2 206.5h.9M313.2 217.8h.9M306.8 200.8h.9M315.2 205.3h.9M324.2 226.1h.9M296.2 204.1h.9M327.6 209.1h.9M325.7 226.9h.9M312.6 215.2h.9M310.2 203.5h.9M285.5 215.1h.9M328.3 213.4h.9M303.2 205.7h.9M300.7 199.4h.9M307.5 193.5h.9M320.2 223.6h.9M314.5 210.9h.9M322.9 225.7h.9M326.3 220.5h.9M294.7 212.0h.9M307.0 208.8h.9M334.1 211.0h.9M335.7 185.6h.9M339.5 206.7h.9M332.0 193.7h.9M331.4 209.3h.9M331.8 197.4h.9M319.9 219.6h.9M323.9 203.9h.9M300.1 222.5h.9M330.7 211.9h.9M325.7 212.7h.9M301.2 217.2h.9M289.4 203.1h.9M299.6 184.3h.9M306.6 207.1h.9M304.2 226.8h.9M315.6 217.7h.9M343.7 212.4h.9M288.2 209.2h.9M305.8 215.2h.9M306.8 220.7h.9M296.5 206.7h.9M316.3 210.2h.9M312.1 190.5h.9M307.8 215.2h.9M335.5 205.7h.9M309.7 219.0h.9M310.5 212.8h.9M315.1 191.8h.9M300.0 207.9h.9M324.1 201.2h.9M313.4 218.2h.9M320.6 201.4h.9M314.9 214.0h.9M332.1 212.1h.9M315.1 193.0h.9M316.4 209.1h.9M313.6 190.9h.9M315.8 192.4h.9M325.8 208.4h.9M328.0 215.9h.9M339.4 218.0h.9M320.6 197.9h.9M320.3 194.5h.9M333.7 222.4h.9M312.8 202.8h.9" stroke="#ff0000" stroke-width="0.9" fill="none"/>
<text class="tk" x="262.5" y="173.9" text-anchor="end">50</text>
<text class="tk" x="262.5" y="215.8" text-anchor="end">0</text>
<text class="tk" x="262.5" y="257.9" text-anchor="end">−50</text>
<text class="tk" x="266.6" y="264.5" text-anchor="middle">−50</text>
<text class="tk" x="308.8" y="264.5" text-anchor="middle">0</text>
<text class="tk" x="351.0" y="264.5" text-anchor="middle">50</text>
<text class="ax" style="font-size:8.5px" x="310.3" y="275.1" text-anchor="middle">Δ<tspan class="i">x</tspan> (nm)</text>
<text class="ax" style="font-size:8.7px" transform="translate(254.8 212.4) rotate(-90)" text-anchor="middle">Δ<tspan class="i">y</tspan> (nm)</text>
<text class="lab" style="font-size:13px" x="393" y="158">f</text>
<text class="ttl" x="432.6" y="163">Iteration 7</text>
<rect x="411.40" y="171.50" width="84.60" height="84.00" fill="none" stroke="#1a1a1a" stroke-width="1.1"/>
<path d="M453.60 171.50V255.50M411.40 213.40H496.00" stroke="#1a1a1a" stroke-width="0.9" fill="none"/>
<path d="M465.6 192.3h.9M433.1 242.3h.9M474.9 178.9h.9M470.7 176.1h.9M443.2 193.5h.9M424.4 219.9h.9M426.1 196.3h.9M482.8 188.5h.9M480.7 193.9h.9M470.1 183.9h.9M442.4 175.9h.9M426.3 197.4h.9M432.8 199.0h.9M417.9 233.5h.9M471.7 183.6h.9M464.6 173.1h.9M463.0 172.7h.9M457.0 186.0h.9M492.8 206.8h.9M451.8 217.7h.9M475.3 188.2h.9M420.8 240.3h.9M482.6 230.3h.9M469.9 199.2h.9M439.7 198.1h.9M464.9 241.2h.9M446.6 203.5h.9M457.2 216.0h.9M469.5 191.3h.9M469.2 194.8h.9M464.8 184.3h.9M479.1 215.1h.9M432.9 219.1h.9M448.6 173.0h.9M451.7 225.1h.9M452.0 231.9h.9M461.5 222.4h.9M431.5 177.9h.9M479.9 228.3h.9M447.0 180.3h.9M431.1 213.2h.9M476.5 223.8h.9M444.7 176.9h.9M477.5 189.3h.9M451.3 195.2h.9M431.7 184.5h.9M464.1 219.6h.9M448.6 221.5h.9M451.9 217.7h.9M472.7 231.6h.9M459.1 174.1h.9M460.3 174.0h.9M466.4 206.5h.9M440.3 239.3h.9M493.2 219.6h.9M436.0 215.0h.9M443.8 227.4h.9M477.9 181.9h.9M476.2 228.0h.9M443.2 181.5h.9M414.9 205.3h.9M441.3 218.9h.9M475.2 197.3h.9M441.2 207.0h.9M450.8 191.3h.9M472.7 236.3h.9M454.7 230.2h.9M434.4 228.1h.9M469.3 192.8h.9M453.8 231.4h.9M466.3 225.6h.9M416.7 198.5h.9M489.9 201.4h.9M437.2 240.0h.9M412.9 207.7h.9M468.9 210.1h.9M432.3 178.0h.9M452.0 232.1h.9M422.8 211.2h.9M489.2 232.1h.9M452.3 225.0h.9M451.5 217.3h.9M459.8 245.4h.9M425.1 244.1h.9M414.9 215.0h.9M433.1 211.6h.9M441.1 184.7h.9M422.4 241.0h.9M489.8 221.2h.9M479.3 206.4h.9M477.5 242.1h.9M454.9 185.5h.9M422.7 190.0h.9M477.6 225.3h.9M439.4 208.7h.9M466.9 211.5h.9M449.8 212.3h.9M431.4 210.0h.9M438.0 181.4h.9M432.6 219.7h.9M421.3 220.0h.9M440.0 205.6h.9M453.4 195.0h.9M428.2 238.3h.9M459.9 255.0h.9M423.0 236.4h.9M454.0 249.3h.9M463.5 201.9h.9M465.9 197.3h.9M418.2 191.3h.9M440.9 192.8h.9M441.3 173.7h.9M451.0 198.0h.9M455.4 191.7h.9M486.7 214.6h.9M456.1 233.3h.9M446.5 204.6h.9M487.4 212.9h.9M458.1 195.2h.9M475.0 209.7h.9M453.8 225.4h.9M426.1 190.4h.9M448.1 207.7h.9M445.9 228.6h.9M467.8 233.0h.9M488.7 214.2h.9M432.7 197.5h.9M417.3 221.0h.9M484.3 226.7h.9M451.8 198.0h.9M428.3 211.5h.9M474.6 245.4h.9M468.6 242.6h.9M443.0 241.5h.9M453.6 221.5h.9M490.8 228.5h.9M481.5 193.0h.9M462.1 231.0h.9M494.3 218.5h.9M430.4 198.4h.9M445.4 221.7h.9M431.0 229.6h.9M459.6 238.2h.9M478.0 237.1h.9M432.6 215.1h.9M455.2 231.0h.9M416.3 207.3h.9M464.1 216.9h.9M453.4 183.8h.9M444.8 193.0h.9M441.6 193.0h.9M445.4 214.0h.9M468.2 176.7h.9M432.1 211.5h.9M434.7 178.6h.9M443.9 193.3h.9M481.4 182.0h.9M480.2 241.1h.9M467.4 234.3h.9M450.3 179.6h.9M451.5 249.1h.9M439.9 244.5h.9M420.7 192.7h.9M463.7 207.3h.9M472.2 180.6h.9M445.2 175.9h.9M489.9 229.5h.9M438.2 200.7h.9M437.8 178.1h.9M438.8 212.9h.9M430.6 187.6h.9M455.4 220.2h.9M462.9 245.6h.9M432.9 249.5h.9M482.6 195.2h.9M444.0 191.6h.9M442.9 201.6h.9M446.7 251.5h.9M434.7 225.9h.9M433.3 189.4h.9M491.9 215.2h.9M450.5 235.7h.9M423.9 240.2h.9M479.2 197.0h.9M467.3 196.6h.9M436.3 230.9h.9M438.0 226.8h.9M450.7 206.7h.9M427.5 187.5h.9M479.0 206.8h.9M457.4 239.3h.9M461.3 184.8h.9M462.7 191.3h.9M433.8 184.4h.9M460.0 182.9h.9M489.2 232.2h.9M474.9 218.9h.9M439.3 232.5h.9M471.4 232.6h.9M436.1 196.9h.9M464.2 211.4h.9M487.4 226.7h.9M454.7 188.9h.9M480.7 187.2h.9M468.6 200.0h.9M463.7 211.5h.9M453.9 182.6h.9M425.4 203.4h.9M433.4 189.8h.9M455.7 248.6h.9M420.2 217.5h.9M424.9 216.2h.9M443.7 173.2h.9M446.4 241.6h.9M448.9 198.6h.9M448.3 252.8h.9M454.8 178.4h.9M450.9 186.0h.9M455.2 245.6h.9M444.8 231.7h.9M445.1 214.5h.9M468.4 218.6h.9M485.1 220.8h.9M467.1 192.9h.9M447.2 212.1h.9M443.3 204.5h.9M465.0 234.5h.9M447.1 208.9h.9M482.0 208.4h.9M479.1 236.5h.9M470.9 212.1h.9M421.6 188.4h.9M477.3 196.0h.9M424.5 225.8h.9M486.2 231.3h.9M417.0 214.1h.9M467.0 235.6h.9M426.0 211.6h.9M470.8 243.0h.9M467.0 222.0h.9M417.8 232.4h.9M458.0 240.9h.9M448.0 189.5h.9M424.8 204.7h.9M431.8 237.9h.9M452.6 173.8h.9M436.1 227.4h.9M489.6 230.7h.9M458.9 244.5h.9M441.2 251.5h.9M486.3 209.5h.9M486.0 194.3h.9M460.1 209.6h.9M461.8 239.6h.9M451.0 230.3h.9M453.4 230.5h.9M443.4 183.3h.9M452.8 217.2h.9M455.9 212.3h.9M431.7 239.2h.9M469.8 215.3h.9M487.4 209.7h.9M425.7 215.9h.9M492.9 217.0h.9M486.6 225.1h.9M437.4 239.6h.9M437.7 203.3h.9M467.0 175.8h.9M465.4 189.5h.9M456.2 171.5h.9M432.2 206.1h.9M453.3 239.4h.9M430.5 240.0h.9M435.4 212.6h.9M458.5 217.5h.9M422.8 217.9h.9M447.1 231.2h.9M421.6 235.4h.9M455.5 246.4h.9M472.6 217.6h.9M469.5 238.9h.9M435.7 177.2h.9M453.6 244.6h.9M480.1 199.5h.9M458.2 211.4h.9M487.1 214.6h.9M483.0 215.4h.9M466.6 244.9h.9M475.5 211.5h.9M481.9 242.9h.9M424.8 242.5h.9M431.5 219.1h.9M447.3 240.1h.9M430.9 235.7h.9M477.7 237.3h.9M465.3 224.5h.9M484.7 235.3h.9M466.0 174.0h.9M468.8 229.0h.9M453.8 196.9h.9M473.0 192.1h.9M424.6 193.9h.9M476.1 178.4h.9M426.6 204.0h.9M411.9 211.4h.9M465.9 204.3h.9M471.0 209.6h.9M459.4 253.9h.9M413.8 225.8h.9M451.0 212.7h.9M458.3 243.6h.9M456.4 177.6h.9M476.7 185.5h.9M451.3 246.0h.9M477.9 205.1h.9M469.7 233.3h.9M437.3 203.3h.9M454.7 241.0h.9M448.9 239.9h.9M438.7 219.3h.9M451.9 171.2h.9M428.9 224.2h.9M452.7 199.6h.9M464.7 180.6h.9M421.9 230.1h.9M450.2 173.8h.9M478.8 214.6h.9M467.2 175.1h.9M425.5 184.2h.9M413.9 211.5h.9M453.0 184.8h.9M429.1 246.7h.9M481.5 186.4h.9M489.0 223.0h.9M435.9 212.4h.9M441.5 240.8h.9M442.9 192.6h.9M493.9 216.7h.9M456.4 210.9h.9M419.7 199.6h.9M477.9 222.3h.9M455.4 173.7h.9M417.2 216.2h.9M453.5 215.9h.9M440.5 216.9h.9M451.8 202.2h.9M482.2 205.8h.9M463.0 190.4h.9M415.2 221.3h.9M480.4 239.3h.9M438.7 233.5h.9M415.7 219.3h.9M416.2 205.1h.9M453.1 250.5h.9M462.9 224.8h.9M417.3 204.9h.9M487.3 223.2h.9M426.5 193.2h.9M440.1 236.3h.9M491.7 219.0h.9M485.3 210.2h.9M456.1 190.1h.9M444.8 248.8h.9M444.4 203.2h.9M448.3 183.6h.9M471.5 197.9h.9M484.5 210.4h.9M427.2 184.5h.9M459.7 230.1h.9M413.4 205.1h.9M448.4 175.3h.9M451.5 221.7h.9M447.9 201.0h.9M441.2 206.3h.9M446.9 176.6h.9M469.9 182.2h.9M493.1 208.9h.9M488.1 221.1h.9M492.1 205.7h.9M467.3 188.2h.9M427.1 225.5h.9M450.5 182.0h.9M464.0 230.9h.9M470.9 217.9h.9M449.5 183.4h.9M494.9 219.3h.9M456.7 238.3h.9M489.1 223.0h.9M467.6 242.3h.9M494.2 216.8h.9M484.7 222.3h.9M468.8 214.6h.9M447.7 174.4h.9M430.4 213.2h.9M451.6 178.7h.9M449.8 200.7h.9M451.5 187.0h.9M464.8 245.9h.9M481.1 209.3h.9M476.8 202.1h.9M458.8 242.8h.9M466.7 191.8h.9M472.5 249.9h.9M439.5 180.7h.9M491.6 201.9h.9M475.0 181.6h.9M412.3 220.8h.9M493.3 206.0h.9M435.0 181.5h.9M447.7 199.3h.9M485.5 234.3h.9M486.9 224.9h.9M419.8 234.1h.9M461.9 173.6h.9M453.5 218.0h.9M420.1 208.9h.9M443.5 224.2h.9M441.1 209.1h.9M432.3 191.5h.9M446.1 216.6h.9M457.5 195.2h.9M479.7 197.6h.9M487.0 199.2h.9M439.3 201.3h.9M465.7 244.0h.9M483.1 227.7h.9M456.1 218.8h.9M435.8 194.0h.9M458.3 224.2h.9M466.8 225.2h.9M438.0 220.6h.9M440.7 216.5h.9M432.9 209.1h.9M437.3 197.2h.9M482.6 232.0h.9M473.3 193.4h.9M423.7 226.8h.9M431.9 243.7h.9M438.4 215.7h.9M462.2 230.4h.9M446.6 198.7h.9M447.6 221.4h.9M463.8 241.2h.9M412.2 217.7h.9M425.5 188.3h.9M430.5 179.9h.9M442.5 217.9h.9M479.0 186.6h.9M462.6 218.0h.9M415.7 209.2h.9M468.5 214.4h.9M474.3 217.2h.9M419.3 206.9h.9M453.5 192.6h.9M471.1 227.6h.9M461.2 215.5h.9M422.1 237.8h.9M445.7 225.6h.9M451.1 246.6h.9M420.3 216.0h.9M484.4 198.6h.9M464.9 222.7h.9M442.0 180.3h.9M486.9 216.2h.9M428.4 228.9h.9M431.0 204.0h.9M441.7 253.8h.9M434.1 224.5h.9M472.6 198.6h.9M457.0 226.4h.9M465.5 226.4h.9M461.3 190.1h.9M431.9 219.3h.9M478.6 210.4h.9M459.9 200.3h.9M477.4 236.9h.9M448.7 248.8h.9M446.9 217.3h.9M481.4 223.6h.9M419.2 193.3h.9M460.2 221.3h.9M462.6 196.7h.9M433.8 238.1h.9M441.8 223.8h.9M465.0 195.5h.9M431.2 225.5h.9M418.6 211.3h.9M481.0 233.8h.9M460.0 195.6h.9M458.9 176.6h.9M422.9 208.6h.9M458.8 187.8h.9M417.5 231.3h.9M469.4 216.3h.9M467.1 221.7h.9M448.9 248.7h.9M469.7 215.5h.9M467.5 223.3h.9M451.8 241.2h.9M461.1 202.2h.9M434.7 185.9h.9M429.4 190.1h.9M452.4 199.7h.9M444.1 222.1h.9M464.1 195.6h.9M446.0 202.8h.9M418.4 189.7h.9M465.7 246.0h.9M486.0 223.5h.9M475.9 181.3h.9M429.9 186.2h.9M484.2 225.8h.9M466.3 203.0h.9M478.2 237.6h.9M425.4 237.5h.9M459.0 197.3h.9M441.2 210.2h.9M437.5 219.8h.9M451.1 248.1h.9M445.1 186.3h.9M448.6 244.3h.9M429.8 184.7h.9M465.3 174.6h.9M431.7 185.4h.9M465.0 239.8h.9M452.4 181.7h.9M433.2 211.0h.9M481.4 228.5h.9M457.3 249.6h.9M440.2 249.5h.9M422.2 201.6h.9M493.1 202.8h.9M446.7 245.0h.9M462.3 174.8h.9M442.4 204.1h.9M438.8 245.5h.9M441.7 241.7h.9M453.8 233.4h.9M465.0 197.6h.9M468.6 247.2h.9M442.2 240.3h.9M437.2 210.4h.9M487.4 190.3h.9M456.0 190.1h.9M451.7 186.6h.9M473.5 219.1h.9M479.1 199.8h.9M446.7 235.2h.9M492.6 220.7h.9M412.4 213.1h.9M462.0 249.9h.9M441.7 186.7h.9M433.0 237.4h.9M486.8 204.1h.9M476.5 186.3h.9M468.5 189.6h.9M444.4 243.3h.9M480.5 196.7h.9M426.8 193.0h.9M455.5 195.7h.9M492.4 205.8h.9M479.1 214.0h.9M485.7 209.5h.9M489.2 213.5h.9M465.0 238.6h.9M440.1 196.0h.9M426.6 230.6h.9M464.0 218.2h.9M464.1 193.0h.9M423.6 213.8h.9M414.7 223.0h.9M449.2 240.2h.9M438.1 179.1h.9M474.6 204.6h.9M420.4 213.5h.9M433.4 246.8h.9M423.6 240.0h.9M477.0 181.6h.9M414.6 219.1h.9M433.6 211.8h.9M474.8 236.5h.9M464.1 202.1h.9M450.4 253.3h.9M455.5 242.6h.9M468.3 221.8h.9M416.5 226.6h.9M447.6 241.4h.9M482.4 189.8h.9M442.6 199.4h.9M451.1 179.6h.9M463.4 185.3h.9M421.8 202.1h.9M445.3 242.8h.9M477.5 228.3h.9M465.4 231.7h.9M436.5 225.3h.9M466.1 177.3h.9M488.5 219.8h.9M434.5 205.2h.9M441.2 188.5h.9M468.2 183.8h.9M470.1 223.0h.9M456.9 178.3h.9M459.2 178.6h.9M464.0 180.0h.9M432.7 220.6h.9M419.5 203.9h.9M452.8 197.1h.9M459.8 225.4h.9M427.1 231.9h.9M432.2 212.6h.9M467.2 193.7h.9M445.7 212.5h.9M474.4 211.0h.9M440.6 246.7h.9M460.0 183.4h.9M484.3 186.7h.9M440.0 239.7h.9M486.8 193.1h.9M428.8 214.9h.9M433.7 224.7h.9M448.4 218.2h.9M429.4 230.6h.9M444.1 180.1h.9M442.2 226.1h.9M458.1 200.6h.9M468.0 213.4h.9M489.2 217.2h.9M489.6 220.2h.9M478.3 192.8h.9M475.2 207.6h.9M446.4 229.5h.9M465.5 238.6h.9M422.9 199.6h.9M438.1 248.4h.9M443.9 234.6h.9M459.7 180.1h.9M422.7 194.1h.9M435.9 185.1h.9M453.6 245.8h.9M411.7 217.6h.9M458.7 209.4h.9M473.1 238.5h.9M462.4 211.6h.9M441.3 220.7h.9M430.8 198.4h.9M466.4 227.1h.9M414.9 211.1h.9M456.4 253.8h.9M413.0 204.9h.9M437.0 200.1h.9M471.6 234.4h.9M475.5 248.7h.9M491.7 208.5h.9M435.4 204.9h.9M446.9 204.7h.9M439.8 180.3h.9M453.5 182.0h.9M416.6 201.7h.9M459.3 185.3h.9M427.3 214.4h.9M445.2 227.6h.9M450.3 174.6h.9M418.5 227.3h.9M443.1 174.0h.9M438.3 245.6h.9M462.8 240.9h.9M472.8 177.0h.9M432.7 216.2h.9M415.8 194.2h.9M450.4 218.5h.9M431.7 203.7h.9M425.0 228.8h.9M471.1 202.6h.9M426.3 214.5h.9M470.2 251.2h.9M433.2 219.3h.9M440.1 221.2h.9M421.0 229.2h.9M467.9 181.6h.9M467.3 226.3h.9M473.8 228.6h.9M435.5 199.9h.9M484.5 236.8h.9M432.6 244.4h.9M463.6 212.5h.9M464.5 198.1h.9M459.2 172.1h.9M469.9 202.2h.9M492.6 206.6h.9M427.3 215.4h.9M474.6 207.7h.9M418.4 191.5h.9M462.5 229.1h.9M418.1 202.3h.9M428.9 232.2h.9M464.0 184.7h.9M437.6 213.6h.9M449.3 192.5h.9M457.9 198.3h.9M441.0 240.3h.9M489.6 211.9h.9M479.5 233.8h.9M416.4 222.9h.9M436.1 231.0h.9M438.5 251.6h.9M463.6 195.0h.9M475.9 212.3h.9M439.5 180.8h.9M429.9 187.8h.9M432.4 203.4h.9M465.0 225.5h.9M438.1 175.8h.9M492.9 207.4h.9M466.8 179.1h.9M488.7 212.9h.9M420.8 193.7h.9M429.0 180.4h.9M433.1 178.0h.9M430.5 194.6h.9M480.8 223.7h.9M476.4 244.7h.9M411.8 211.1h.9M452.0 220.2h.9M451.4 206.4h.9M412.0 219.2h.9M451.0 240.8h.9M412.7 209.4h.9M416.0 213.6h.9M471.0 250.2h.9M448.7 195.9h.9M474.7 186.5h.9M450.4 228.3h.9M456.9 251.4h.9M447.3 195.1h.9M445.0 221.7h.9M424.9 190.1h.9M481.8 234.4h.9M422.2 192.5h.9M465.5 231.7h.9M420.7 210.2h.9M464.9 197.8h.9M433.4 207.0h.9M460.3 242.8h.9M484.2 213.2h.9M432.8 228.9h.9M434.7 194.3h.9M412.9 217.5h.9M467.2 223.3h.9M432.9 187.1h.9M420.1 239.7h.9M440.0 184.7h.9M453.3 231.5h.9M446.8 231.3h.9M469.9 230.2h.9M450.1 242.6h.9M481.5 220.3h.9M471.8 242.6h.9M458.5 213.0h.9M428.1 231.4h.9M453.3 214.1h.9M475.1 249.4h.9M434.8 233.6h.9M468.7 243.8h.9M471.2 192.1h.9M479.5 180.9h.9M436.1 246.1h.9M466.5 234.2h.9M445.1 195.0h.9M447.9 198.2h.9M429.4 199.3h.9M449.3 174.9h.9M460.4 205.4h.9M442.0 235.8h.9M431.5 242.1h.9M462.7 189.0h.9M481.9 196.9h.9M427.2 187.8h.9M464.9 186.6h.9M484.5 220.3h.9M441.6 211.5h.9M438.9 202.8h.9M456.6 197.9h.9M461.5 212.4h.9M456.0 255.3h.9M450.3 184.5h.9M476.2 194.2h.9M476.9 235.4h.9M428.9 183.9h.9M415.5 228.2h.9M447.7 186.2h.9M450.3 199.5h.9M465.4 239.1h.9M485.4 230.1h.9M482.6 184.9h.9M442.9 223.6h.9M464.0 189.0h.9M468.9 244.4h.9M436.7 197.6h.9M463.3 179.7h.9M424.3 192.5h.9M455.2 177.4h.9M465.2 233.1h.9M479.1 194.1h.9M451.7 213.5h.9M422.6 207.5h.9M458.2 191.4h.9M449.0 180.2h.9M438.6 216.9h.9M422.3 225.6h.9M477.4 178.8h.9M469.6 218.6h.9M476.5 232.7h.9M440.4 225.8h.9M461.3 245.5h.9M463.8 249.9h.9M456.4 191.4h.9M454.8 191.9h.9M458.7 252.2h.9M421.6 216.9h.9M477.0 222.1h.9M467.2 183.9h.9M426.3 213.0h.9M473.0 239.6h.9M429.6 198.6h.9M413.8 224.3h.9M440.5 221.4h.9M475.2 208.0h.9M459.1 192.2h.9M425.2 234.7h.9M438.1 232.1h.9M437.2 196.6h.9M487.5 226.4h.9M430.6 197.3h.9M477.2 229.2h.9M449.5 210.3h.9M476.7 237.5h.9M438.6 252.6h.9M481.7 223.9h.9M444.0 172.8h.9M423.8 240.2h.9M446.5 173.5h.9M473.4 208.8h.9M478.2 229.3h.9M494.0 221.9h.9M427.4 222.7h.9M454.8 212.2h.9M477.4 219.9h.9M476.4 198.7h.9M466.8 210.3h.9M466.4 188.1h.9M453.0 190.3h.9M482.2 233.4h.9M472.5 222.5h.9M475.7 246.8h.9M461.7 237.4h.9M450.0 174.9h.9M428.5 221.3h.9M431.5 193.0h.9M463.9 207.4h.9M467.8 240.7h.9M440.9 205.0h.9M446.3 173.1h.9M463.3 194.6h.9M454.5 246.0h.9M418.3 227.8h.9M451.4 185.8h.9M418.6 205.1h.9M470.9 175.8h.9M455.6 231.4h.9M480.9 203.2h.9M468.6 187.7h.9M452.4 189.9h.9M429.1 186.8h.9M448.4 243.1h.9M439.4 184.2h.9M431.6 199.9h.9M483.8 195.5h.9M454.2 185.0h.9M433.4 210.6h.9M428.1 198.3h.9M471.7 190.4h.9M485.7 227.6h.9M453.8 175.2h.9M448.5 188.1h.9M471.6 224.2h.9M453.2 254.8h.9M422.6 235.6h.9M432.0 185.9h.9M487.5 201.1h.9M452.8 228.9h.9M465.5 227.9h.9M456.6 245.2h.9M460.2 224.6h.9M466.5 252.2h.9M470.7 232.8h.9M455.1 221.8h.9M484.3 216.4h.9M467.3 232.4h.9M470.1 190.6h.9M464.4 241.8h.9M430.0 187.6h.9M493.5 224.8h.9M445.9 199.9h.9M466.6 188.1h.9M465.2 216.4h.9M422.5 212.1h.9M448.6 221.3h.9M458.4 221.6h.9M449.0 249.5h.9M468.5 181.2h.9M479.1 221.5h.9M461.9 201.3h.9M442.4 196.2h.9M469.9 177.4h.9M474.8 235.9h.9M444.1 239.9h.9M426.8 242.9h.9M430.4 190.4h.9M412.1 219.9h.9M447.9 213.5h.9M465.8 178.2h.9M424.3 222.5h.9M435.0 184.6h.9M440.2 214.0h.9M448.9 205.9h.9M435.8 233.5h.9M487.3 221.9h.9M441.5 202.3h.9M442.3 233.1h.9M482.9 240.9h.9M457.8 217.4h.9M424.7 187.3h.9M470.9 196.0h.9M493.9 211.3h.9M438.0 217.4h.9M464.9 237.5h.9M429.0 212.7h.9M411.9 210.9h.9M453.0 241.1h.9M462.4 225.3h.9M464.1 197.4h.9M427.0 186.0h.9M421.8 216.2h.9M454.2 195.1h.9M459.3 183.1h.9M489.9 208.7h.9M448.2 247.7h.9M455.1 193.3h.9M430.7 248.6h.9M456.6 195.5h.9M470.8 198.9h.9M487.2 198.6h.9M471.2 200.1h.9M438.7 244.4h.9M435.6 216.8h.9M445.2 209.0h.9M429.7 234.4h.9M448.4 216.4h.9M442.8 229.6h.9M424.8 184.1h.9M465.5 244.8h.9M463.3 242.5h.9M469.1 244.4h.9M471.4 239.6h.9M418.2 211.7h.9M466.1 236.1h.9M438.1 249.6h.9M468.6 208.3h.9M438.8 182.5h.9M452.0 219.9h.9M478.2 220.3h.9M460.7 206.1h.9M455.1 188.5h.9M463.6 238.6h.9M432.1 207.7h.9M472.3 182.2h.9M475.2 239.7h.9M457.3 245.3h.9M449.7 212.5h.9M450.2 231.2h.9M432.9 197.4h.9M437.3 224.3h.9M428.8 187.1h.9M434.1 216.0h.9M436.0 240.4h.9M477.6 214.1h.9M420.6 224.6h.9M485.7 235.1h.9M482.2 209.5h.9M480.2 215.5h.9M429.9 195.0h.9M456.3 238.0h.9M423.6 237.4h.9M449.8 197.2h.9M474.4 203.9h.9M470.4 200.7h.9M417.7 206.3h.9M447.5 196.0h.9M436.2 180.2h.9M460.6 252.2h.9M467.8 232.9h.9M411.7 215.9h.9M453.4 234.1h.9M486.5 211.1h.9M440.8 193.2h.9M465.0 198.4h.9M451.9 178.8h.9M426.2 192.2h.9M421.9 191.6h.9M422.0 187.9h.9M457.3 195.4h.9M464.0 214.3h.9M450.2 221.8h.9M450.7 232.2h.9M471.9 225.2h.9M430.6 189.0h.9M473.1 208.9h.9M422.7 199.4h.9M460.3 180.5h.9M453.6 232.2h.9M436.4 186.1h.9M473.0 235.9h.9M421.2 195.9h.9M448.1 222.5h.9M445.2 191.0h.9M454.3 253.2h.9M443.3 206.4h.9M461.3 194.8h.9M451.1 247.7h.9M451.8 216.6h.9M444.6 213.4h.9M433.0 225.1h.9M479.9 188.9h.9M487.0 226.5h.9M455.5 174.8h.9M433.7 214.2h.9M428.4 191.2h.9M455.3 218.6h.9M464.1 211.3h.9M444.4 206.9h.9M463.2 231.1h.9M481.3 240.3h.9M473.1 203.5h.9M438.7 225.1h.9M457.8 195.3h.9M442.9 209.7h.9M475.0 247.4h.9M466.4 216.6h.9M432.1 198.0h.9M439.9 179.1h.9M424.5 214.3h.9M483.6 201.2h.9M423.5 197.0h.9M454.9 210.2h.9M484.1 209.6h.9M456.0 225.5h.9M450.0 184.8h.9M476.0 221.1h.9M460.7 252.9h.9M490.6 204.1h.9M421.8 197.4h.9M413.0 226.0h.9M471.0 176.2h.9M422.7 196.1h.9M458.6 253.9h.9M450.7 172.9h.9M477.6 235.0h.9M428.9 228.0h.9M440.1 210.0h.9M488.0 196.9h.9M417.2 203.7h.9M446.3 245.7h.9M450.9 255.4h.9M451.7 188.2h.9M422.4 189.6h.9M451.3 178.3h.9M453.1 183.0h.9M490.5 214.0h.9M463.2 219.3h.9M493.2 202.1h.9M434.7 178.7h.9M447.4 233.7h.9M481.6 236.3h.9M472.0 205.8h.9M421.6 194.5h.9M468.8 212.5h.9M472.5 237.7h.9M468.5 213.4h.9M464.8 176.8h.9M446.0 217.2h.9M483.2 185.6h.9M430.0 239.2h.9M449.3 190.2h.9M489.0 218.6h.9M438.1 197.4h.9M438.5 188.9h.9M428.6 224.2h.9M453.6 187.2h.9M449.7 250.6h.9M470.5 240.2h.9M480.5 216.7h.9M425.3 240.3h.9M426.5 243.4h.9M452.0 196.8h.9M490.4 205.6h.9M442.6 182.5h.9M434.9 199.7h.9M475.5 246.6h.9M422.4 185.9h.9M446.8 246.0h.9M473.7 227.1h.9M437.3 221.1h.9M474.9 236.5h.9M491.6 206.2h.9M448.6 184.5h.9M438.3 210.3h.9M447.2 233.3h.9M440.4 175.7h.9M475.7 222.2h.9M444.1 211.8h.9M473.5 237.0h.9M465.1 186.1h.9M431.4 228.2h.9M452.7 226.6h.9M462.1 232.7h.9M434.6 233.6h.9M418.4 212.5h.9M489.2 208.5h.9M455.5 211.3h.9M436.2 194.4h.9M443.7 231.1h.9M469.8 186.2h.9M456.6 249.4h.9M433.6 243.6h.9M421.1 218.4h.9M465.0 236.2h.9M469.0 210.8h.9M472.7 225.4h.9M428.6 213.2h.9M458.8 191.8h.9M427.9 186.9h.9M439.3 186.8h.9M421.5 231.1h.9M448.8 202.3h.9M414.7 202.7h.9M444.9 212.1h.9M444.1 180.9h.9M426.4 244.9h.9M452.3 189.7h.9M462.1 234.1h.9M475.0 211.7h.9M414.4 217.9h.9M435.6 185.0h.9M460.7 253.3h.9M455.5 233.3h.9M484.7 227.6h.9M484.4 227.1h.9M485.5 237.4h.9M447.1 176.4h.9M425.9 186.6h.9M447.5 193.7h.9M422.0 193.0h.9M461.3 220.3h.9M423.9 223.9h.9M453.7 211.6h.9M418.5 199.1h.9M443.6 205.2h.9M474.7 181.5h.9M439.2 197.2h.9M477.9 191.3h.9M449.4 198.9h.9M437.0 188.6h.9M493.1 209.2h.9M478.1 195.5h.9M417.0 228.7h.9M463.4 177.3h.9M445.4 221.1h.9M428.7 234.8h.9M459.4 184.2h.9M467.6 214.6h.9M421.7 218.7h.9M450.9 251.1h.9M426.2 228.2h.9M480.6 214.7h.9M457.4 178.3h.9M478.3 183.3h.9M455.9 242.7h.9M415.7 223.0h.9M454.7 245.6h.9M469.2 218.4h.9M450.6 197.7h.9M482.8 187.0h.9M426.7 212.4h.9M449.2 197.3h.9M458.4 218.0h.9M487.4 216.0h.9M485.8 224.2h.9M459.6 236.6h.9M433.8 229.9h.9M485.3 221.0h.9M492.3 215.4h.9M443.9 218.4h.9M436.5 204.4h.9M446.8 208.0h.9M417.3 213.7h.9M491.9 202.7h.9M430.3 228.5h.9M444.5 218.1h.9M430.5 239.9h.9M459.1 215.4h.9M432.8 180.3h.9M451.0 246.0h.9M424.7 206.6h.9M494.7 212.6h.9M433.1 190.4h.9M428.8 186.4h.9M479.5 196.7h.9M452.4 171.5h.9M430.6 185.3h.9M450.3 184.9h.9M458.6 202.1h.9M471.9 206.2h.9M462.2 253.2h.9M432.8 245.7h.9M443.6 250.2h.9M467.9 178.2h.9M457.8 180.9h.9M433.4 243.1h.9M480.8 190.1h.9M470.1 204.3h.9M482.4 191.8h.9M438.6 223.2h.9M419.5 236.5h.9M456.4 202.8h.9M463.0 214.1h.9M463.2 241.0h.9M461.9 239.1h.9M471.2 226.7h.9M467.0 230.7h.9M488.1 194.3h.9M428.6 220.6h.9M424.1 189.9h.9M447.3 195.8h.9M421.2 190.9h.9M477.3 212.1h.9M471.9 177.8h.9M431.9 205.9h.9M437.0 176.1h.9M446.8 213.3h.9M483.6 221.3h.9M427.8 199.7h.9M429.9 193.4h.9M414.8 201.2h.9M447.7 181.1h.9M419.0 201.2h.9M433.7 213.0h.9M415.6 198.3h.9M432.4 237.5h.9M437.5 179.1h.9M470.1 251.7h.9M487.8 201.8h.9M441.8 229.0h.9M463.5 226.3h.9M466.8 229.0h.9M481.1 222.2h.9M412.7 222.4h.9M422.9 218.3h.9M438.2 218.1h.9M444.4 233.5h.9M460.4 176.7h.9M436.6 220.8h.9M464.8 218.7h.9M468.5 177.9h.9M464.9 231.2h.9M422.5 186.3h.9M428.0 241.9h.9M453.2 252.9h.9M430.2 195.3h.9M431.2 210.2h.9M478.9 202.9h.9M457.5 180.4h.9M439.2 200.1h.9M431.6 215.4h.9M446.7 196.6h.9M473.4 213.0h.9M462.8 248.7h.9M465.4 196.8h.9M469.5 206.3h.9M431.0 213.1h.9M489.8 212.7h.9M443.5 232.0h.9M489.7 219.2h.9M466.5 223.2h.9M461.4 237.1h.9M450.6 195.6h.9M486.9 225.6h.9M444.0 212.4h.9M450.7 172.6h.9M467.7 188.3h.9M464.1 195.9h.9M437.9 226.7h.9M449.6 206.1h.9M439.3 198.6h.9M455.8 193.4h.9M454.3 207.7h.9M463.1 218.4h.9M439.5 217.1h.9M434.6 228.9h.9M451.9 209.0h.9M463.4 197.6h.9M444.8 230.1h.9M469.8 212.0h.9M454.2 230.5h.9M440.1 205.2h.9M444.7 199.1h.9M441.1 197.9h.9M437.8 231.6h.9M449.6 221.5h.9M444.0 207.2h.9M461.9 227.9h.9M462.8 197.3h.9M467.8 215.1h.9M447.8 213.9h.9M456.8 223.6h.9M435.4 211.2h.9M456.4 212.6h.9M438.0 233.5h.9M448.4 209.1h.9M464.1 219.7h.9M435.3 227.0h.9M446.3 206.2h.9M432.2 220.9h.9M444.0 214.7h.9M449.0 225.3h.9M462.8 199.4h.9M463.6 207.6h.9M462.3 207.9h.9M454.6 233.1h.9M455.2 207.6h.9M446.9 202.9h.9M453.5 226.6h.9M465.4 223.4h.9M457.8 226.3h.9M438.4 207.7h.9M445.5 218.5h.9M448.9 210.3h.9M471.6 217.2h.9M455.7 217.1h.9M472.8 211.1h.9M443.7 219.8h.9M472.5 211.9h.9M476.2 223.8h.9M462.2 215.8h.9M453.8 210.7h.9M463.7 215.0h.9M458.5 220.4h.9M447.8 206.3h.9M463.3 211.9h.9M474.0 222.1h.9M438.5 200.1h.9M458.8 220.4h.9M471.8 214.4h.9M483.0 232.0h.9M445.8 204.0h.9M469.3 193.9h.9M448.4 212.1h.9M460.0 201.9h.9M449.2 213.6h.9M435.2 199.5h.9M443.5 205.7h.9M457.4 208.2h.9M450.8 204.2h.9M461.8 223.7h.9M453.5 209.8h.9M443.1 208.5h.9M467.4 197.6h.9M450.9 248.2h.9M463.2 203.2h.9M453.4 210.9h.9M447.9 222.4h.9M463.1 197.0h.9M456.6 223.8h.9M435.7 204.4h.9M462.1 197.0h.9M450.9 218.7h.9M447.2 200.0h.9M476.3 222.2h.9M449.3 215.7h.9M462.8 220.9h.9M465.2 205.9h.9M457.2 200.8h.9M443.9 221.0h.9M471.9 213.1h.9M446.4 215.5h.9M442.7 202.0h.9M445.5 201.8h.9M463.9 213.1h.9M477.4 211.0h.9M459.6 201.4h.9M446.3 226.1h.9M458.9 221.2h.9M440.4 223.6h.9M464.8 189.6h.9M455.1 212.6h.9M458.9 202.6h.9M455.2 217.9h.9M463.8 217.3h.9M445.9 220.9h.9M447.2 214.7h.9M453.5 205.3h.9M448.7 212.7h.9M449.6 211.6h.9M468.3 217.0h.9M435.2 201.4h.9M459.8 206.5h.9M427.4 225.0h.9M458.5 214.2h.9M451.0 199.8h.9M441.5 218.3h.9M457.1 222.4h.9M445.6 214.9h.9M446.1 215.3h.9M466.7 227.3h.9M446.7 220.0h.9M450.3 207.2h.9M473.3 196.5h.9M484.8 230.8h.9M445.9 183.0h.9M456.7 208.6h.9M452.7 216.9h.9M471.7 210.3h.9M447.9 210.5h.9M454.8 204.5h.9M461.5 207.6h.9M453.3 207.9h.9M454.0 224.4h.9M456.2 228.8h.9M455.5 220.5h.9M474.0 204.7h.9M451.2 215.8h.9M466.1 222.3h.9M472.6 194.9h.9M463.2 216.0h.9M463.3 214.3h.9M434.3 222.1h.9M468.8 213.2h.9M449.3 195.4h.9M461.8 202.6h.9M459.7 226.3h.9M454.3 229.4h.9M467.8 221.3h.9M480.7 227.0h.9M441.5 200.0h.9M432.5 214.1h.9M456.6 181.0h.9M458.2 207.5h.9M453.2 214.5h.9M445.5 207.1h.9M449.7 215.7h.9M433.2 205.2h.9M454.6 215.7h.9M455.4 196.3h.9M423.0 201.9h.9M449.0 217.4h.9M460.1 203.3h.9M438.1 197.8h.9M445.9 195.3h.9M452.4 177.0h.9M439.6 209.8h.9M472.2 220.9h.9M458.7 239.5h.9M433.2 229.7h.9M449.6 231.3h.9M457.3 217.5h.9M418.9 206.4h.9M466.9 204.5h.9M462.3 218.9h.9M448.5 212.6h.9M455.3 203.8h.9M476.0 199.0h.9M449.9 243.4h.9M432.7 210.5h.9M438.7 191.0h.9M447.7 217.1h.9M457.4 221.4h.9M450.4 198.1h.9M467.0 191.7h.9M471.2 197.3h.9M432.3 214.7h.9M443.9 214.9h.9M457.2 206.4h.9M460.4 199.7h.9M462.4 196.9h.9M437.8 225.2h.9M455.6 205.4h.9M434.4 237.1h.9M463.8 217.1h.9M460.8 203.2h.9M458.4 223.1h.9M463.6 217.9h.9M463.0 230.9h.9M458.6 214.0h.9M448.9 205.7h.9M457.2 212.1h.9M457.3 223.7h.9M456.9 226.1h.9M439.6 212.6h.9M456.3 223.2h.9M440.6 227.3h.9M446.8 221.6h.9M472.5 228.8h.9M450.2 201.2h.9M455.7 213.6h.9M470.2 199.5h.9M467.4 218.8h.9M461.8 205.5h.9M445.6 202.8h.9M456.3 219.5h.9M455.2 209.8h.9M454.3 214.9h.9M431.5 216.3h.9M452.2 236.8h.9M460.3 215.0h.9M460.8 209.8h.9M449.5 235.8h.9M448.5 228.7h.9M443.5 220.7h.9M446.7 208.3h.9M459.5 212.5h.9M440.2 220.7h.9M458.0 193.1h.9M444.8 222.0h.9M444.8 215.5h.9M460.6 222.3h.9M446.3 220.0h.9M471.2 213.9h.9M466.1 200.6h.9M452.2 209.9h.9M450.1 217.1h.9M437.0 223.0h.9M445.9 205.5h.9M447.7 225.2h.9M456.9 221.1h.9M448.1 224.9h.9M462.2 218.8h.9M456.1 226.6h.9M446.2 250.5h.9M459.7 188.5h.9M429.9 194.0h.9M467.8 202.7h.9M449.4 218.8h.9M468.0 219.1h.9M437.8 221.6h.9M455.8 215.3h.9M450.4 212.9h.9M476.3 208.9h.9M458.4 225.5h.9M447.3 201.0h.9M458.8 206.6h.9M450.3 230.6h.9M449.9 217.9h.9M473.6 226.0h.9M445.5 191.5h.9M449.9 220.0h.9M463.2 221.3h.9M452.3 217.1h.9M460.5 217.3h.9M455.9 226.4h.9M447.8 212.8h.9M444.7 206.5h.9M452.2 238.9h.9M473.9 218.5h.9M463.1 206.4h.9M453.7 208.0h.9M458.6 223.8h.9M462.6 225.9h.9M466.9 221.0h.9M457.3 215.3h.9M460.6 217.6h.9M448.6 217.0h.9M456.4 199.3h.9M440.6 247.3h.9M450.8 219.5h.9M455.7 213.1h.9M447.5 216.4h.9M451.3 224.0h.9M439.9 226.3h.9M435.6 215.3h.9M463.2 199.3h.9M445.2 209.3h.9M440.5 214.7h.9M449.0 194.2h.9M447.1 221.1h.9M440.8 226.6h.9M461.9 196.7h.9M444.3 228.8h.9M444.2 231.9h.9M449.6 197.2h.9M440.8 214.7h.9M456.5 231.7h.9M449.8 229.9h.9M457.6 212.1h.9M450.5 242.6h.9M443.6 212.9h.9M444.3 207.0h.9M455.5 208.3h.9M452.5 205.8h.9M446.5 219.0h.9M460.1 227.8h.9M432.5 206.8h.9M464.4 206.9h.9M478.0 213.0h.9M431.7 220.4h.9M427.6 217.3h.9M454.5 196.3h.9M473.6 212.0h.9M468.8 204.7h.9M446.2 221.2h.9M432.7 217.5h.9M449.2 224.0h.9M451.8 221.5h.9M475.0 231.6h.9M464.5 221.5h.9M448.1 209.9h.9M427.7 220.8h.9M459.9 231.5h.9M435.0 244.9h.9M445.6 232.8h.9M447.4 222.4h.9M455.8 199.2h.9M432.7 223.7h.9M442.3 195.9h.9M447.4 226.1h.9M431.7 211.0h.9M436.3 224.6h.9M460.1 213.5h.9M453.8 209.4h.9M442.3 228.6h.9M446.3 226.2h.9M462.4 208.5h.9M451.9 211.1h.9M447.3 217.4h.9M462.6 232.8h.9M455.2 201.0h.9M441.8 215.6h.9M452.5 217.4h.9M461.6 210.5h.9M453.0 217.9h.9M438.9 206.8h.9M449.6 222.3h.9M448.8 193.0h.9M443.9 203.4h.9M439.6 226.4h.9M471.0 227.4h.9M453.2 195.7h.9M430.8 216.7h.9M454.4 221.5h.9M459.9 210.9h.9M449.7 208.8h.9M449.0 235.5h.9M457.0 194.0h.9M462.0 211.4h.9M436.0 222.7h.9M460.7 211.5h.9M466.5 218.6h.9M432.3 231.8h.9M456.2 205.8h.9M450.7 209.9h.9M455.2 204.9h.9M442.3 225.0h.9M442.6 213.4h.9M453.9 231.1h.9M453.8 207.9h.9M443.5 210.9h.9M440.0 211.8h.9M438.8 212.7h.9M435.0 233.3h.9M462.2 214.2h.9M443.6 202.7h.9M427.2 205.3h.9M456.5 219.7h.9M454.1 200.6h.9M459.4 213.5h.9M456.6 199.4h.9M443.2 206.1h.9M436.4 196.2h.9M459.6 221.1h.9M459.0 219.2h.9M455.8 226.5h.9M460.7 210.4h.9M454.1 208.9h.9M447.6 211.3h.9M458.5 222.4h.9M445.9 193.0h.9M445.9 212.4h.9M441.2 230.0h.9M466.6 201.2h.9M439.4 239.6h.9M442.6 187.4h.9M458.9 213.1h.9M449.3 213.3h.9M451.2 201.7h.9M456.2 199.9h.9M448.9 195.1h.9M455.4 218.7h.9M440.9 222.3h.9M458.0 203.5h.9M445.3 221.3h.9M475.2 212.6h.9M462.1 214.5h.9M440.3 219.2h.9M434.2 221.0h.9M442.8 221.4h.9M441.3 232.7h.9M453.3 209.5h.9M454.1 198.3h.9M466.0 216.0h.9M457.1 209.2h.9M463.8 219.5h.9M474.7 212.7h.9M468.0 223.3h.9M449.4 227.4h.9M452.8 218.9h.9M445.9 204.2h.9M447.6 210.2h.9M440.3 230.9h.9M477.3 206.2h.9M458.2 224.6h.9M458.2 212.9h.9M453.3 200.0h.9M471.4 205.1h.9M443.5 222.2h.9M454.8 227.8h.9M446.2 224.3h.9M459.2 200.5h.9M455.4 202.0h.9M450.6 212.1h.9M457.8 219.1h.9M460.0 220.4h.9M439.8 209.2h.9M462.9 195.7h.9M432.9 206.9h.9M470.9 205.3h.9M449.1 235.8h.9M461.4 233.5h.9M464.1 227.3h.9M451.5 232.8h.9M453.4 196.7h.9M455.5 213.9h.9M450.8 222.4h.9M463.7 232.5h.9M441.8 215.4h.9M435.4 234.6h.9M450.3 234.0h.9M472.0 203.5h.9M470.2 196.9h.9M464.5 223.9h.9M461.2 205.8h.9M456.3 221.3h.9M423.0 206.7h.9M451.1 203.8h.9M435.5 225.7h.9M436.7 214.5h.9M459.7 214.7h.9M471.2 199.8h.9M460.5 200.1h.9M446.0 210.5h.9M469.8 221.6h.9M464.3 193.0h.9M464.2 184.1h.9M448.6 213.2h.9M443.6 198.5h.9M456.6 212.3h.9M470.3 221.6h.9M457.9 199.9h.9M432.2 206.8h.9M463.1 229.9h.9M471.7 208.1h.9M448.0 212.5h.9M449.0 203.5h.9M469.0 209.9h.9M447.1 218.4h.9M454.0 212.1h.9M446.5 195.6h.9M429.0 207.2h.9M472.4 220.5h.9M476.1 217.4h.9M462.3 207.9h.9M442.1 208.6h.9M455.6 199.8h.9M459.5 215.8h.9M463.3 186.7h.9M462.5 214.1h.9M456.1 211.2h.9M448.2 231.0h.9M445.4 193.2h.9M468.7 206.6h.9M459.4 191.6h.9M470.4 214.5h.9M455.1 204.1h.9M447.0 207.4h.9M459.3 208.8h.9M458.0 207.7h.9M456.8 210.6h.9M455.6 214.8h.9M457.6 217.3h.9M453.8 214.6h.9M457.3 211.1h.9M444.3 197.9h.9M437.7 215.1h.9M456.2 213.9h.9M463.7 208.1h.9M470.8 232.0h.9M458.1 203.7h.9M456.4 232.9h.9M464.8 204.3h.9M438.9 205.8h.9M433.4 205.4h.9M454.3 214.0h.9M453.0 220.3h.9M446.7 205.5h.9M432.3 205.9h.9M455.2 197.3h.9M460.0 187.8h.9M475.4 215.8h.9M462.5 221.1h.9M460.1 208.3h.9M450.5 199.4h.9M448.4 208.4h.9M464.7 216.1h.9M445.7 213.6h.9M445.0 196.1h.9M459.2 202.9h.9M450.3 224.0h.9M459.5 221.0h.9M456.2 223.2h.9M440.5 203.9h.9M451.3 217.2h.9M465.5 238.7h.9M465.9 213.4h.9M437.6 229.1h.9M445.4 209.6h.9M435.1 204.2h.9M452.0 211.1h.9M446.5 217.1h.9M460.3 206.3h.9M441.8 224.0h.9M447.1 193.7h.9M447.1 198.4h.9M452.7 192.7h.9M463.7 208.9h.9M453.1 202.8h.9M468.7 218.9h.9M458.3 228.6h.9M440.1 219.3h.9M470.4 208.6h.9M449.5 191.4h.9M442.4 219.6h.9M449.6 215.8h.9M454.1 217.8h.9M460.5 214.5h.9M452.8 221.0h.9M445.9 206.4h.9M451.1 212.8h.9M447.4 233.0h.9M448.1 244.8h.9M454.4 201.7h.9M441.2 229.5h.9M441.9 210.9h.9M451.3 215.1h.9M431.6 212.2h.9M449.5 212.9h.9M459.5 204.9h.9M453.4 226.7h.9M460.3 208.3h.9M454.1 200.7h.9M439.2 213.3h.9M462.4 220.6h.9M454.1 214.9h.9M457.6 223.2h.9M474.6 229.9h.9M453.9 221.2h.9M464.5 230.9h.9M439.7 209.2h.9M438.2 222.6h.9M446.4 209.9h.9M459.3 235.3h.9M454.1 194.5h.9M468.3 207.4h.9M437.3 202.7h.9M444.4 211.4h.9M458.4 215.2h.9M462.8 212.1h.9M450.0 220.7h.9M449.1 222.1h.9M439.6 201.7h.9M469.8 212.4h.9M438.7 220.2h.9M452.1 225.9h.9M451.7 209.9h.9M437.9 232.7h.9M461.7 209.8h.9M461.8 219.6h.9M447.6 192.3h.9M462.1 200.7h.9M464.1 221.5h.9M455.4 239.0h.9M467.8 238.5h.9M458.4 218.3h.9M465.0 205.9h.9M454.2 214.2h.9M455.5 209.1h.9M455.9 203.7h.9M467.9 222.7h.9M470.0 226.7h.9M462.1 223.2h.9M476.0 209.2h.9M463.4 189.0h.9M467.3 193.6h.9M438.5 220.1h.9M456.4 216.8h.9M448.4 218.1h.9M441.9 195.0h.9M467.7 211.7h.9M468.6 224.5h.9M492.0 217.1h.9M469.3 219.0h.9M459.5 200.3h.9M469.3 219.9h.9M452.4 215.3h.9M474.2 215.0h.9M444.3 233.0h.9M425.6 232.5h.9M460.4 226.8h.9M447.6 221.6h.9M439.8 223.2h.9M458.9 217.9h.9M461.8 211.8h.9M435.8 217.7h.9M464.1 193.7h.9M437.5 207.3h.9M467.1 185.5h.9M450.8 201.5h.9M442.1 199.7h.9M462.8 230.9h.9M446.2 216.1h.9M457.5 211.4h.9M457.7 207.6h.9M440.8 228.3h.9M457.8 226.3h.9M447.4 214.5h.9M473.3 211.1h.9M471.1 203.4h.9M442.7 192.6h.9M448.8 198.6h.9M458.1 218.8h.9M433.6 206.7h.9M452.3 184.9h.9M447.4 212.4h.9M447.4 220.9h.9M469.1 197.9h.9M440.1 219.3h.9M449.5 223.0h.9M464.6 212.4h.9M448.8 210.6h.9M458.1 215.8h.9M451.8 206.1h.9M461.1 221.0h.9M461.2 234.0h.9M451.1 200.2h.9M479.2 204.5h.9M459.0 183.5h.9M472.2 209.9h.9M453.2 237.6h.9M463.7 221.6h.9M458.0 228.6h.9M444.8 201.1h.9M461.7 177.9h.9M464.7 190.7h.9M459.4 213.9h.9M451.3 211.7h.9M462.4 185.3h.9M455.5 224.1h.9M455.3 232.8h.9M459.3 242.8h.9M427.7 207.4h.9M461.1 221.6h.9M452.9 207.6h.9M460.1 225.3h.9M452.9 235.2h.9M439.9 221.5h.9M453.2 203.7h.9M451.2 217.2h.9M454.9 215.6h.9M448.4 199.4h.9M456.4 203.1h.9M435.7 223.9h.9M448.0 222.0h.9M453.4 215.1h.9M460.0 193.9h.9M447.0 211.0h.9M459.9 196.7h.9M440.6 211.0h.9M451.3 205.6h.9M469.4 221.4h.9M449.6 208.0h.9M460.4 234.3h.9M488.3 217.2h.9M448.7 212.0h.9M460.6 212.9h.9M467.2 212.1h.9M452.9 218.6h.9M457.9 194.4h.9M455.7 199.5h.9M454.0 194.6h.9M451.0 238.9h.9M445.8 215.4h.9M452.4 206.2h.9M449.3 225.9h.9M459.7 216.5h.9M471.0 210.4h.9M459.6 215.0h.9M447.1 201.9h.9M452.0 226.0h.9M460.0 214.5h.9M450.1 204.0h.9M437.8 206.8h.9M455.4 212.5h.9M453.8 220.8h.9M445.4 210.8h.9M454.4 201.2h.9M445.1 202.2h.9M474.7 229.5h.9M469.8 208.0h.9M452.3 213.0h.9M465.2 232.2h.9M465.1 208.1h.9M465.3 237.9h.9M423.4 206.9h.9M437.3 208.1h.9M450.9 227.9h.9M433.8 201.8h.9M453.1 228.7h.9M459.3 228.0h.9M459.0 227.5h.9M453.2 204.0h.9M442.3 208.3h.9M440.2 203.4h.9M443.9 213.2h.9M441.0 201.9h.9M491.4 218.8h.9M449.6 217.8h.9M441.8 229.1h.9M464.0 232.4h.9M470.7 223.2h.9M444.2 220.3h.9M441.6 214.6h.9M448.3 230.6h.9M453.5 219.0h.9M468.1 199.5h.9M435.7 212.4h.9M457.3 219.9h.9M445.7 212.0h.9M452.6 228.6h.9M452.6 215.0h.9M459.5 217.8h.9M435.4 215.7h.9M457.3 227.8h.9M453.2 209.0h.9M445.5 229.7h.9M459.3 189.2h.9M475.0 219.8h.9M444.5 228.1h.9M454.9 217.6h.9M448.0 202.9h.9M450.7 191.2h.9M450.8 215.6h.9M445.0 196.2h.9M455.6 200.2h.9M444.6 213.3h.9M461.7 233.1h.9M457.9 206.6h.9M439.3 206.9h.9M443.6 219.4h.9M447.4 202.6h.9M444.8 217.8h.9M456.5 220.5h.9M462.8 221.4h.9M449.9 213.0h.9M455.6 210.8h.9M472.6 223.3h.9M464.3 184.4h.9M459.2 210.8h.9M451.7 211.1h.9M461.7 205.3h.9M445.3 202.3h.9M453.7 229.5h.9M431.9 205.1h.9M452.2 206.4h.9M437.3 199.5h.9M448.3 231.6h.9M442.7 200.7h.9M472.8 211.1h.9M446.9 196.1h.9M468.1 242.1h.9M454.3 206.7h.9M451.6 190.4h.9M446.5 202.8h.9M450.4 211.2h.9M458.6 203.0h.9M443.8 198.8h.9M459.6 193.1h.9M437.4 221.2h.9M459.0 214.8h.9M429.4 230.5h.9M429.3 215.3h.9M457.3 252.9h.9M453.7 203.1h.9M445.6 220.8h.9M466.3 241.1h.9M457.0 203.2h.9M453.5 204.9h.9M470.2 216.7h.9M461.0 210.8h.9M454.9 202.2h.9M476.6 220.7h.9M467.3 227.9h.9M462.5 198.9h.9M445.8 236.0h.9M455.2 222.9h.9M467.6 193.2h.9M463.8 205.3h.9M442.5 218.8h.9M458.6 224.7h.9M465.8 226.0h.9M456.5 215.9h.9M457.6 238.6h.9M455.9 221.8h.9M437.7 218.7h.9M439.7 205.8h.9M426.7 205.9h.9M471.1 217.0h.9M451.4 216.7h.9M457.8 211.8h.9M442.4 207.7h.9M453.2 224.1h.9M456.3 208.6h.9M447.4 198.4h.9M441.3 229.4h.9M477.6 238.6h.9M425.4 208.5h.9M449.2 214.6h.9M433.2 229.8h.9M434.6 221.3h.9M444.3 204.9h.9M451.6 204.8h.9M452.2 235.7h.9M457.2 236.6h.9M459.9 202.7h.9M443.1 197.0h.9M461.0 214.7h.9M453.7 216.7h.9M468.1 213.3h.9M466.8 202.5h.9M446.0 209.0h.9M452.1 192.7h.9M447.2 215.2h.9M453.1 230.4h.9M447.9 212.2h.9M431.3 202.3h.9M439.9 193.1h.9M462.5 213.5h.9M455.7 233.3h.9M432.7 196.7h.9M458.2 219.7h.9M449.2 198.7h.9M462.7 219.0h.9M443.0 205.8h.9M453.3 210.2h.9M452.3 217.3h.9M473.2 204.5h.9M447.7 204.3h.9M459.3 236.4h.9M450.4 208.4h.9M463.1 215.0h.9M461.2 228.6h.9M466.2 193.1h.9M445.8 214.5h.9M480.5 219.9h.9M449.1 200.7h.9M428.1 242.2h.9M437.7 184.1h.9M432.9 221.1h.9M457.2 233.5h.9M442.2 216.3h.9M470.0 221.3h.9M467.5 219.6h.9M457.1 204.5h.9M439.9 208.1h.9M462.6 194.2h.9M455.2 197.6h.9M464.6 217.4h.9M461.9 214.0h.9M471.8 228.4h.9M468.6 216.3h.9M461.0 206.6h.9M432.7 223.0h.9M445.7 193.4h.9M444.0 205.2h.9M468.2 207.6h.9M433.8 225.1h.9M455.7 214.5h.9M444.1 207.2h.9M452.9 208.9h.9M470.7 219.5h.9M455.1 230.9h.9M447.6 209.3h.9M482.2 213.1h.9M458.6 221.3h.9M448.1 214.9h.9M453.7 217.2h.9M466.1 214.1h.9M444.5 191.2h.9M436.0 202.3h.9M458.6 214.4h.9M448.4 221.5h.9M436.7 203.8h.9M474.6 229.3h.9M442.3 214.9h.9M453.7 203.9h.9M444.9 234.1h.9M453.5 220.0h.9M452.6 227.4h.9M453.3 199.5h.9M452.8 201.7h.9M436.7 201.8h.9M446.3 211.1h.9M434.6 203.8h.9M449.7 203.7h.9M455.4 225.3h.9M465.8 198.5h.9M454.5 218.0h.9M460.2 210.1h.9M443.3 228.5h.9M462.0 222.6h.9M442.1 212.4h.9M453.4 225.0h.9M445.3 213.2h.9M417.5 221.7h.9M437.2 205.4h.9M449.4 207.8h.9M459.0 225.3h.9M465.2 215.2h.9M454.4 234.0h.9M449.2 207.9h.9M446.9 201.1h.9M441.7 223.6h.9M439.2 228.1h.9M422.4 227.3h.9M471.8 208.2h.9M447.4 197.4h.9M445.7 222.8h.9M442.9 202.6h.9M458.3 217.5h.9M449.2 219.8h.9M458.4 206.0h.9M460.7 206.2h.9M458.1 221.4h.9M440.2 224.1h.9M444.6 189.7h.9M457.0 201.3h.9M446.6 203.0h.9M453.5 200.7h.9M435.9 196.3h.9M457.4 222.3h.9M457.9 224.7h.9M463.0 200.9h.9M447.8 218.7h.9M454.4 214.8h.9M466.7 222.0h.9M447.3 217.2h.9M466.8 197.7h.9M469.7 230.7h.9M477.8 246.5h.9M454.7 213.0h.9M454.1 185.7h.9M467.3 199.6h.9M444.8 186.4h.9M441.5 205.1h.9M471.5 204.4h.9M458.0 204.3h.9M442.1 204.1h.9M453.8 201.0h.9M451.1 201.5h.9M441.8 201.4h.9M467.6 225.6h.9M444.4 228.1h.9M451.2 237.5h.9M451.2 222.0h.9M456.6 214.6h.9M478.6 205.8h.9M456.2 207.5h.9M465.1 209.4h.9M447.2 200.6h.9M461.6 238.5h.9M444.2 209.7h.9M471.7 200.5h.9M455.4 209.9h.9M462.4 213.4h.9M465.4 224.2h.9M461.3 225.7h.9M446.8 213.0h.9M467.2 241.7h.9M466.4 223.9h.9M453.8 192.6h.9M445.9 241.4h.9M472.3 215.0h.9M451.0 206.0h.9M440.7 225.5h.9M436.0 213.8h.9M444.3 214.9h.9M458.8 223.0h.9M447.9 210.2h.9M432.9 193.9h.9M474.2 214.5h.9M461.5 206.4h.9M435.9 220.9h.9M454.8 219.9h.9M471.8 209.7h.9M456.5 229.2h.9M436.5 220.6h.9M467.8 229.4h.9M450.3 208.7h.9M444.9 223.8h.9M446.8 227.4h.9M422.7 232.5h.9M465.6 232.2h.9M463.6 238.6h.9M448.5 229.7h.9M440.3 207.3h.9M444.1 213.4h.9M420.5 232.9h.9M466.7 206.5h.9M446.3 215.3h.9M454.4 213.9h.9M452.0 213.1h.9M455.8 196.4h.9M447.6 241.2h.9M458.9 193.0h.9M475.5 211.5h.9M458.6 182.5h.9M434.3 208.5h.9M457.2 224.5h.9M458.5 212.8h.9M441.6 215.6h.9M479.5 213.3h.9M448.9 197.7h.9M456.3 205.8h.9M460.4 215.4h.9M461.8 223.8h.9M458.8 220.5h.9M475.5 200.5h.9M472.1 204.6h.9M468.2 220.7h.9M432.4 194.6h.9M456.2 211.8h.9M423.7 183.1h.9M454.8 210.2h.9M447.6 203.1h.9M455.5 251.4h.9M442.2 206.7h.9M458.4 231.4h.9M457.9 216.8h.9M419.4 205.1h.9M441.6 225.2h.9M455.6 239.1h.9M460.0 201.4h.9M446.5 199.3h.9M468.1 233.3h.9M442.8 213.8h.9M455.9 228.3h.9M442.1 214.8h.9M459.7 211.9h.9M466.4 204.8h.9M459.2 216.2h.9M439.5 188.6h.9M441.4 219.7h.9M457.1 224.7h.9M458.1 220.3h.9M454.3 191.1h.9M454.5 212.2h.9M467.1 208.1h.9M461.1 228.8h.9M445.3 200.8h.9M448.5 217.6h.9M476.7 217.0h.9M467.2 210.2h.9M453.2 209.5h.9M451.3 226.0h.9M465.1 213.8h.9M470.8 210.1h.9M448.9 240.6h.9M451.6 204.0h.9M449.6 211.3h.9M429.4 207.4h.9M450.6 229.8h.9M469.8 207.1h.9M453.1 215.6h.9M448.8 215.8h.9M459.2 215.7h.9M457.3 195.5h.9M456.9 205.5h.9M466.4 213.5h.9M459.8 209.6h.9M447.5 220.7h.9M488.2 214.8h.9M462.1 218.3h.9M443.9 236.9h.9M452.7 191.3h.9M456.0 224.5h.9M462.1 207.6h.9M455.3 229.2h.9M451.7 199.0h.9M452.6 192.6h.9M458.0 216.1h.9M454.2 195.9h.9M433.5 220.9h.9M439.2 211.1h.9M461.2 212.0h.9M443.4 208.9h.9M432.3 201.2h.9M447.2 194.1h.9M446.6 194.5h.9M467.2 209.3h.9M426.6 215.4h.9M460.6 222.5h.9M466.6 222.5h.9M446.4 184.4h.9M453.0 222.6h.9M450.8 200.8h.9M439.2 214.8h.9M457.5 214.5h.9M459.3 227.0h.9M469.4 204.1h.9M471.2 200.0h.9M466.8 217.0h.9M461.0 222.7h.9M459.6 225.3h.9M466.1 198.8h.9M444.1 217.4h.9M447.1 234.0h.9M451.9 233.4h.9M440.7 225.7h.9M456.0 204.3h.9M460.1 221.6h.9M461.1 195.0h.9M436.0 190.9h.9M462.4 214.9h.9M452.5 220.3h.9M456.2 179.8h.9M431.8 212.9h.9M450.9 231.1h.9M453.3 216.3h.9M473.5 215.0h.9M464.7 216.8h.9M446.2 205.1h.9M443.7 213.5h.9M454.5 218.7h.9M454.1 187.0h.9M444.6 225.9h.9M470.1 226.1h.9M435.8 223.7h.9M458.0 204.0h.9M447.6 209.0h.9M437.6 202.7h.9M458.1 216.0h.9M451.3 198.1h.9M453.6 220.0h.9M465.7 228.3h.9M441.7 203.1h.9M443.8 231.1h.9M435.2 213.5h.9M451.1 226.0h.9M456.2 229.9h.9M430.1 213.3h.9M426.2 218.9h.9M459.2 232.4h.9M426.0 210.4h.9M458.4 190.5h.9M448.7 215.7h.9M439.3 202.3h.9M468.4 218.2h.9M456.0 197.7h.9M453.0 194.6h.9M468.9 215.2h.9M446.9 221.2h.9M440.7 191.4h.9M448.6 222.9h.9M438.7 221.1h.9M461.7 209.2h.9M423.8 210.6h.9M459.4 205.5h.9M468.2 208.0h.9M482.0 222.0h.9M466.9 222.9h.9M446.8 192.6h.9M464.5 221.6h.9M459.2 234.1h.9M443.9 222.7h.9M433.1 206.7h.9M437.1 215.3h.9M469.1 206.6h.9M444.1 218.9h.9M457.5 230.0h.9M459.0 207.7h.9M469.7 212.1h.9M454.6 234.4h.9M456.1 201.8h.9M454.6 215.2h.9M447.3 221.5h.9M454.2 230.4h.9M461.1 217.0h.9M458.8 216.7h.9M452.4 228.1h.9M477.0 200.9h.9M455.3 225.9h.9M476.2 207.6h.9M450.8 221.5h.9M451.8 197.8h.9M442.9 214.9h.9M452.4 206.5h.9M466.3 212.4h.9M457.5 209.2h.9M444.2 214.1h.9M438.6 211.0h.9M453.1 211.5h.9M445.3 185.3h.9M466.2 216.7h.9M442.6 213.8h.9M450.1 213.6h.9M457.4 227.0h.9M443.9 212.9h.9M429.9 185.8h.9M463.6 210.0h.9M464.4 211.2h.9M452.5 208.3h.9M454.5 200.5h.9M453.2 199.6h.9M473.9 205.4h.9M454.8 227.9h.9M446.3 226.4h.9M451.8 201.8h.9M433.3 209.0h.9M432.4 218.9h.9M461.5 220.1h.9M468.7 211.3h.9M450.4 213.5h.9M451.7 209.6h.9M437.7 215.0h.9M444.2 212.2h.9M443.9 212.5h.9M475.5 189.4h.9M449.0 212.2h.9M461.9 219.2h.9M453.8 220.6h.9M462.1 224.5h.9M478.3 225.1h.9M453.2 195.6h.9M458.5 241.0h.9M462.4 212.5h.9M459.8 234.0h.9M481.5 232.6h.9M469.0 227.5h.9M438.8 202.9h.9M445.4 188.2h.9M471.1 207.4h.9M447.5 218.2h.9M458.7 208.8h.9M448.0 212.4h.9M456.0 200.8h.9M445.0 213.7h.9M464.0 206.4h.9M420.9 204.8h.9M447.2 200.2h.9M448.6 225.9h.9M489.5 225.0h.9M436.3 212.4h.9M463.5 207.0h.9M455.5 226.1h.9M478.5 233.7h.9M456.8 231.6h.9M456.3 213.2h.9M459.1 225.8h.9M442.9 239.3h.9M443.0 226.9h.9M448.4 226.1h.9M456.6 213.0h.9M462.8 202.0h.9M447.8 202.0h.9M461.0 232.1h.9M470.2 224.7h.9M452.2 196.5h.9M447.5 201.1h.9M445.8 219.9h.9M467.3 216.7h.9M466.3 195.0h.9M461.6 206.0h.9M446.0 220.8h.9M455.4 206.9h.9M436.5 218.6h.9M453.8 202.4h.9M451.9 225.4h.9M454.6 223.2h.9M445.5 208.5h.9M481.9 187.4h.9M437.4 184.2h.9M434.7 218.7h.9M445.8 197.3h.9M447.7 201.4h.9M447.7 215.3h.9M445.5 215.5h.9M445.5 186.8h.9M472.5 199.7h.9M483.3 214.9h.9M444.1 223.1h.9M434.8 216.9h.9M456.7 225.8h.9M456.0 211.6h.9M445.3 227.7h.9M455.3 215.0h.9M442.9 232.6h.9M473.1 203.0h.9M448.0 222.5h.9M461.9 220.0h.9M456.6 240.7h.9M456.1 202.8h.9M467.1 207.3h.9M463.2 209.1h.9M454.5 216.8h.9M430.7 225.6h.9M457.3 237.3h.9M467.6 203.0h.9M438.1 202.9h.9M449.1 194.0h.9M445.3 199.1h.9M437.3 227.2h.9M426.4 211.1h.9M438.5 196.1h.9M434.1 204.9h.9M461.1 222.4h.9M452.3 186.3h.9M447.6 200.9h.9M463.9 209.3h.9M429.9 220.0h.9M456.8 200.7h.9M443.8 236.9h.9M432.5 213.5h.9M442.3 205.6h.9M458.8 218.1h.9M434.5 213.5h.9M457.3 213.6h.9M461.2 221.6h.9M461.3 205.2h.9M451.8 214.7h.9M444.8 218.9h.9M442.9 199.3h.9M454.7 228.8h.9M450.4 197.4h.9M472.1 198.4h.9M437.4 204.7h.9M436.8 191.1h.9M477.3 229.0h.9M456.2 229.8h.9M455.4 221.6h.9M440.0 201.7h.9M454.9 201.6h.9M459.1 226.9h.9M444.5 200.7h.9M466.6 218.7h.9M479.2 205.9h.9M473.9 206.2h.9M470.0 220.0h.9M452.6 233.3h.9M455.9 229.0h.9M457.0 219.5h.9M440.6 218.4h.9M446.2 227.7h.9M472.3 225.7h.9M467.4 196.8h.9M464.1 219.2h.9M443.2 229.8h.9M437.4 229.6h.9M445.7 211.7h.9M463.6 229.3h.9M463.7 225.5h.9M483.1 197.7h.9M477.8 209.1h.9M442.0 232.5h.9M454.7 232.8h.9M461.0 205.4h.9M442.4 199.9h.9M454.3 209.7h.9M460.6 223.9h.9M452.0 226.3h.9M459.1 223.7h.9M469.1 201.0h.9M444.6 214.9h.9M451.6 197.0h.9M459.0 210.8h.9M480.8 212.0h.9M455.8 213.6h.9M458.1 227.2h.9M470.6 225.9h.9M434.6 201.8h.9M468.5 212.4h.9M444.3 240.4h.9M463.4 224.8h.9M457.4 220.1h.9M463.6 222.1h.9M457.4 219.1h.9M449.2 224.8h.9M467.6 236.7h.9M461.7 225.9h.9M447.8 201.3h.9M436.1 201.4h.9M446.9 203.1h.9M463.2 200.8h.9M448.5 209.6h.9M444.9 212.1h.9M448.3 203.6h.9M487.9 201.8h.9M440.3 214.0h.9M451.0 231.2h.9M439.7 207.5h.9M435.9 187.0h.9M431.8 215.6h.9M473.5 208.0h.9M464.1 238.2h.9M447.7 231.8h.9M444.0 211.6h.9M441.4 202.7h.9M439.9 212.7h.9M446.4 226.4h.9M437.8 221.4h.9M469.4 229.8h.9M457.6 241.9h.9M460.1 224.4h.9M447.2 209.5h.9M451.1 209.5h.9" stroke="#ff0000" stroke-width="0.9" fill="none"/>
<text class="tk" x="407.3" y="173.9" text-anchor="end">50</text>
<text class="tk" x="407.3" y="215.8" text-anchor="end">0</text>
<text class="tk" x="407.3" y="257.9" text-anchor="end">−50</text>
<text class="tk" x="411.4" y="264.5" text-anchor="middle">−50</text>
<text class="tk" x="453.6" y="264.5" text-anchor="middle">0</text>
<text class="tk" x="496.0" y="264.5" text-anchor="middle">50</text>
<text class="ax" style="font-size:8.5px" x="456.3" y="275.1" text-anchor="middle">Δ<tspan class="i">x</tspan> (nm)</text>
<text class="ax" style="font-size:8.7px" transform="translate(399.6 213.2) rotate(-90)" text-anchor="middle">Δ<tspan class="i">y</tspan> (nm)</text>
<text class="lab" style="font-size:13px" x="518.2" y="149.7">g</text>
<path d="M548.30 150V262.40H677.5" stroke="#000" stroke-width="1" fill="none"/>
<path d="M548.30 262.40h-2" stroke="#000" stroke-width="1"/>
<text class="b" style="font-size:7px" x="545.3" y="264.9" text-anchor="end">0</text>
<path d="M548.30 235.40h-2" stroke="#000" stroke-width="1"/>
<text class="b" style="font-size:7px" x="545.3" y="237.9" text-anchor="end">5</text>
<path d="M548.30 208.40h-2" stroke="#000" stroke-width="1"/>
<text class="b" style="font-size:7px" x="545.3" y="210.9" text-anchor="end">10</text>
<path d="M548.30 181.40h-2" stroke="#000" stroke-width="1"/>
<text class="b" style="font-size:7px" x="545.3" y="183.9" text-anchor="end">15</text>
<path d="M548.30 154.40h-2" stroke="#000" stroke-width="1"/>
<text class="b" style="font-size:7px" x="545.3" y="156.9" text-anchor="end">20</text>
<path d="M557.50 262.40v2" stroke="#000" stroke-width="1"/>
<text class="b" style="font-size:7px" x="557.5" y="270.9" text-anchor="middle">1</text>
<path d="M575.88 262.40v2" stroke="#000" stroke-width="1"/>
<text class="b" style="font-size:7px" x="575.9" y="270.9" text-anchor="middle">2</text>
<path d="M594.25 262.40v2" stroke="#000" stroke-width="1"/>
<text class="b" style="font-size:7px" x="594.2" y="270.9" text-anchor="middle">3</text>
<path d="M612.62 262.40v2" stroke="#000" stroke-width="1"/>
<text class="b" style="font-size:7px" x="612.6" y="270.9" text-anchor="middle">4</text>
<path d="M631.00 262.40v2" stroke="#000" stroke-width="1"/>
<text class="b" style="font-size:7px" x="631.0" y="270.9" text-anchor="middle">5</text>
<path d="M649.38 262.40v2" stroke="#000" stroke-width="1"/>
<text class="b" style="font-size:7px" x="649.4" y="270.9" text-anchor="middle">6</text>
<path d="M667.75 262.40v2" stroke="#000" stroke-width="1"/>
<text class="b" style="font-size:7px" x="667.8" y="270.9" text-anchor="middle">7</text>
<text class="b" style="font-size:7.7px" x="613" y="279.5" text-anchor="middle">Iteration #</text>
<text class="b" style="font-size:8.8px" transform="translate(533.6 209) rotate(-90)" text-anchor="middle">Center shift (nm)</text>
<clipPath id="cg"><rect x="548" y="145" width="137" height="117.40"/></clipPath><g clip-path="url(#cg)">
<polyline points="557.5,203.5 575.9,174.0 594.2,161.7 612.6,156.8 631.0,153.8 649.4,153.0 667.8,152.5" fill="none" stroke="#000" stroke-width="1.3"/>
<rect x="555.3" y="201.3" width="4.4" height="4.4" fill="#000"/>
<rect x="573.7" y="171.8" width="4.4" height="4.4" fill="#000"/>
<rect x="592.0" y="159.5" width="4.4" height="4.4" fill="#000"/>
<rect x="610.4" y="154.6" width="4.4" height="4.4" fill="#000"/>
<rect x="628.8" y="151.6" width="4.4" height="4.4" fill="#000"/>
<rect x="647.2" y="150.8" width="4.4" height="4.4" fill="#000"/>
<rect x="665.5" y="150.3" width="4.4" height="4.4" fill="#000"/>
<polyline points="557.5,233.2 575.9,219.5 594.2,213.3 612.6,210.0 631.0,207.5 649.4,207.0 667.8,206.9" fill="none" stroke="#f00" stroke-width="1.3"/>
<circle cx="557.5" cy="233.2" r="2.4" fill="#f00"/>
<circle cx="575.9" cy="219.5" r="2.4" fill="#f00"/>
<circle cx="594.2" cy="213.3" r="2.4" fill="#f00"/>
<circle cx="612.6" cy="210.0" r="2.4" fill="#f00"/>
<circle cx="631.0" cy="207.5" r="2.4" fill="#f00"/>
<circle cx="649.4" cy="207.0" r="2.4" fill="#f00"/>
<circle cx="667.8" cy="206.9" r="2.4" fill="#f00"/>
<polyline points="557.5,203.0 575.9,232.5 594.2,250.0 612.6,257.5 631.0,259.4 649.4,260.9 667.8,261.8" fill="none" stroke="#000" stroke-width="1.3" stroke-dasharray="3 2"/>
<rect x="555.5" y="201.0" width="4" height="4" fill="#fff" stroke="#000" stroke-width="0.6"/>
<rect x="573.9" y="230.5" width="4" height="4" fill="#fff" stroke="#000" stroke-width="0.6"/>
<rect x="592.2" y="248.0" width="4" height="4" fill="#fff" stroke="#000" stroke-width="0.6"/>
<rect x="610.6" y="255.5" width="4" height="4" fill="#fff" stroke="#000" stroke-width="0.6"/>
<rect x="629.0" y="257.4" width="4" height="4" fill="#fff" stroke="#000" stroke-width="0.6"/>
<rect x="647.4" y="258.9" width="4" height="4" fill="#fff" stroke="#000" stroke-width="0.6"/>
<rect x="665.8" y="259.8" width="4" height="4" fill="#fff" stroke="#000" stroke-width="0.6"/>
<polyline points="557.5,233.2 575.9,248.3 594.2,256.0 612.6,259.0 631.0,260.1 649.4,261.1 667.8,261.9" fill="none" stroke="#f00" stroke-width="1.3" stroke-dasharray="3 2"/>
<circle cx="557.5" cy="233.2" r="2.2" fill="#fff" stroke="#f00" stroke-width="0.6"/>
<circle cx="575.9" cy="248.3" r="2.2" fill="#fff" stroke="#f00" stroke-width="0.6"/>
<circle cx="594.2" cy="256.0" r="2.2" fill="#fff" stroke="#f00" stroke-width="0.6"/>
<circle cx="612.6" cy="259.0" r="2.2" fill="#fff" stroke="#f00" stroke-width="0.6"/>
<circle cx="631.0" cy="260.1" r="2.2" fill="#fff" stroke="#f00" stroke-width="0.6"/>
<circle cx="649.4" cy="261.1" r="2.2" fill="#fff" stroke="#f00" stroke-width="0.6"/>
<circle cx="667.8" cy="261.9" r="2.2" fill="#fff" stroke="#f00" stroke-width="0.6"/>
</g>
<path d="M548.30 150V262.40H677.5" stroke="#000" stroke-width="1" fill="none"/>
<path d="M612.5 166.5H632" stroke="#000" stroke-width="1.1"/>
<rect x="620.3" y="164.3" width="4.4" height="4.4" fill="#000"/>
<path d="M612.5 176.6H632" stroke="#f00" stroke-width="1.1"/>
<circle cx="622.5" cy="176.6" r="2.4" fill="#f00"/>
<path d="M612.5 186.2H632" stroke="#000" stroke-width="1" stroke-dasharray="1.6 1.4"/>
<rect x="620.4" y="184.1" width="4.2" height="4.2" fill="#fff" stroke="#000" stroke-width="0.7"/>
<path d="M612.5 195.6H632" stroke="#f00" stroke-width="1" stroke-dasharray="1.6 1.4"/>
<circle cx="622.5" cy="195.6" r="2.2" fill="#fff" stroke="#f00" stroke-width="0.7"/>
<text class="b" style="font-size:7.4px;fill:#000" x="635.5" y="169.1"><tspan class="i">x</tspan>-Total</text>
<text class="b" style="font-size:7.4px;fill:#f00" x="635.5" y="179.2"><tspan class="i">y</tspan>-Total</text>
<text class="b" style="font-size:7.4px;fill:#000" x="635.5" y="188.8"><tspan class="i">x</tspan>-Current</text>
<text class="b" style="font-size:7.4px;fill:#f00" x="635.5" y="198.2"><tspan class="i">y</tspan>-Current</text>
</svg></body></html>
